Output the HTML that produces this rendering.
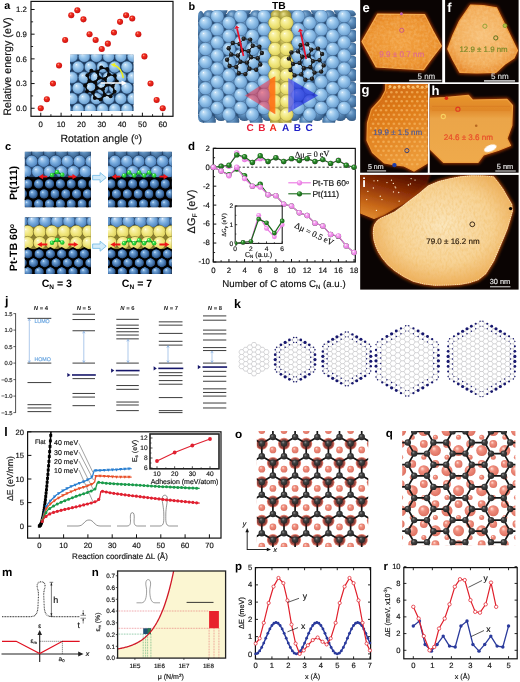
<!DOCTYPE html>
<html><head><meta charset="utf-8"><title>Figure</title>
<style>html,body{margin:0;padding:0;background:#fff}svg{display:block}text{font-family:"Liberation Sans",sans-serif;text-rendering:geometricPrecision}</style>
</head><body>
<svg width="520" height="682" viewBox="0 0 520 682">
<defs><radialGradient id="gRed" cx="0.5" cy="0.5" fx="0.35" fy="0.3" r="0.75"><stop offset="0" stop-color="#ffb0a0"/><stop offset="0.25" stop-color="#f03020"/><stop offset="0.7" stop-color="#d01010"/><stop offset="1" stop-color="#800000"/></radialGradient>
<radialGradient id="gBlue" cx="0.5" cy="0.5" fx="0.35" fy="0.3" r="0.72"><stop offset="0" stop-color="#ffffff"/><stop offset="0.1" stop-color="#c4e0f6"/><stop offset="0.4" stop-color="#92c2ea"/><stop offset="0.75" stop-color="#6a9ed0"/><stop offset="1" stop-color="#34608e"/></radialGradient>
<radialGradient id="gBlueU" cx="0.5" cy="0.5" fx="0.35" fy="0.3" r="0.7"><stop offset="0" stop-color="#e0f0ff"/><stop offset="0.18" stop-color="#78aadc"/><stop offset="0.55" stop-color="#3f70aa"/><stop offset="1" stop-color="#0a1830"/></radialGradient>
<radialGradient id="gBlueC" cx="0.5" cy="0.5" fx="0.35" fy="0.3" r="0.72"><stop offset="0" stop-color="#f4faff"/><stop offset="0.12" stop-color="#aed0f2"/><stop offset="0.4" stop-color="#78acde"/><stop offset="0.75" stop-color="#4c80bc"/><stop offset="1" stop-color="#1c3c68"/></radialGradient>
<radialGradient id="gBlueD" cx="0.5" cy="0.5" fx="0.35" fy="0.3" r="0.75"><stop offset="0" stop-color="#9cc0e0"/><stop offset="0.3" stop-color="#5a8cbc"/><stop offset="1" stop-color="#1f3f66"/></radialGradient>
<radialGradient id="gYelD" cx="0.5" cy="0.5" fx="0.35" fy="0.3" r="0.75"><stop offset="0" stop-color="#e8e090"/><stop offset="0.3" stop-color="#c0b450"/><stop offset="1" stop-color="#6a601a"/></radialGradient>
<radialGradient id="gYel" cx="0.5" cy="0.5" fx="0.35" fy="0.3" r="0.72"><stop offset="0" stop-color="#ffffff"/><stop offset="0.12" stop-color="#faf4b0"/><stop offset="0.45" stop-color="#f0e67c"/><stop offset="0.78" stop-color="#dccf5c"/><stop offset="1" stop-color="#8a7c28"/></radialGradient>
<radialGradient id="gC" cx="0.5" cy="0.5" fx="0.35" fy="0.3" r="0.75"><stop offset="0" stop-color="#777"/><stop offset="0.3" stop-color="#333"/><stop offset="1" stop-color="#000"/></radialGradient>
<radialGradient id="gGreen" cx="0.5" cy="0.5" fx="0.35" fy="0.3" r="0.75"><stop offset="0" stop-color="#c0ffc0"/><stop offset="0.3" stop-color="#30e040"/><stop offset="1" stop-color="#0a8a18"/></radialGradient>
<radialGradient id="gDG" cx="0.5" cy="0.5" fx="0.35" fy="0.3" r="0.75"><stop offset="0" stop-color="#b0e8b0"/><stop offset="0.3" stop-color="#2a8a2a"/><stop offset="1" stop-color="#0a4a0a"/></radialGradient>
<radialGradient id="gMag" cx="0.5" cy="0.5" fx="0.35" fy="0.3" r="0.75"><stop offset="0" stop-color="#ffffff"/><stop offset="0.3" stop-color="#f59cf0"/><stop offset="0.8" stop-color="#e270da"/><stop offset="1" stop-color="#c850c0"/></radialGradient>
<radialGradient id="gSal" cx="0.5" cy="0.5" fx="0.35" fy="0.3" r="0.75"><stop offset="0" stop-color="#ffe0d6"/><stop offset="0.28" stop-color="#f09080"/><stop offset="0.72" stop-color="#de7262"/><stop offset="1" stop-color="#b0524a"/></radialGradient>
<radialGradient id="gCarb" cx="0.5" cy="0.5" fx="0.35" fy="0.3" r="0.75"><stop offset="0" stop-color="#6a6a6a"/><stop offset="0.3" stop-color="#222"/><stop offset="1" stop-color="#050505"/></radialGradient>
<filter id="bl3" x="-20%" y="-20%" width="140%" height="140%"><feGaussianBlur stdDeviation="1.5"/></filter>
<filter id="bl15" x="-20%" y="-20%" width="140%" height="140%"><feGaussianBlur stdDeviation="0.7"/></filter>
<filter id="bl07" x="-20%" y="-20%" width="140%" height="140%"><feGaussianBlur stdDeviation="0.6"/></filter>
<filter id="noise" x="0" y="0" width="100%" height="100%"><feTurbulence type="fractalNoise" baseFrequency="0.35" numOctaves="2" seed="3" result="n"/><feColorMatrix type="matrix" values="0 0 0 0 1  0 0 0 0 0.85  0 0 0 0 0.55  0.9 0 0 0 -0.3"/><feComposite in2="SourceGraphic" operator="in"/></filter>
<filter id="noise2" x="0" y="0" width="100%" height="100%"><feTurbulence type="fractalNoise" baseFrequency="0.5 0.25" numOctaves="2" seed="7" result="n"/><feColorMatrix type="matrix" values="0 0 0 0 0.85  0 0 0 0 0.45  0 0 0 0 0.08  1.4 0 0 0 -0.55"/><feComposite in2="SourceGraphic" operator="in"/></filter>
<radialGradient id="gE" cx="0.5" cy="0.5" r="0.6"><stop offset="0" stop-color="#f2a040"/><stop offset="0.7" stop-color="#ec922e"/><stop offset="1" stop-color="#e07a1c"/></radialGradient>
<radialGradient id="gF" cx="0.5" cy="0.45" r="0.6"><stop offset="0" stop-color="#f7c078"/><stop offset="0.7" stop-color="#f2ac58"/><stop offset="1" stop-color="#e88a2c"/></radialGradient>
<linearGradient id="gG" x1="0" y1="0" x2="0.3" y2="1"><stop offset="0" stop-color="#cc620c"/><stop offset="0.5" stop-color="#e07e1c"/><stop offset="1" stop-color="#ec9a38"/></linearGradient>
<pattern id="hexdots" width="5.2" height="9" patternUnits="userSpaceOnUse"><circle cx="1.3" cy="2.25" r="1.25" fill="#f6b660"/><circle cx="3.9" cy="6.75" r="1.25" fill="#f6b660"/></pattern>
<linearGradient id="gH" x1="0" y1="0" x2="0" y2="1"><stop offset="0" stop-color="#e8962e"/><stop offset="0.2" stop-color="#e08828"/><stop offset="0.35" stop-color="#eba548"/><stop offset="1" stop-color="#efaa4c"/></linearGradient>
<linearGradient id="gI2" x1="0.6" y1="0" x2="0.2" y2="1"><stop offset="0" stop-color="#4e0d02"/><stop offset="0.35" stop-color="#8a2e06"/><stop offset="0.75" stop-color="#c86818"/><stop offset="1" stop-color="#e08a30"/></linearGradient>
<radialGradient id="gI" cx="0.5" cy="0.45" r="0.6"><stop offset="0" stop-color="#fbe6bc"/><stop offset="0.6" stop-color="#f7d294"/><stop offset="1" stop-color="#eba850"/></radialGradient>
<radialGradient id="gCg" cx="0.5" cy="0.5" fx="0.35" fy="0.3" r="0.75"><stop offset="0" stop-color="#909090"/><stop offset="0.3" stop-color="#404040"/><stop offset="1" stop-color="#161616"/></radialGradient>
<radialGradient id="gHalo" cx="0.5" cy="0.5" fx="0.5" fy="0.5" r="0.5"><stop offset="0" stop-color="#8a3a34"/><stop offset="0.55" stop-color="#7a2e2a"/><stop offset="0.8" stop-color="#b05a50"/><stop offset="1" stop-color="#e8a094"/></radialGradient></defs>
<rect width="520" height="682" fill="#fff"/>
<g id="pa">
<text x="4.2" y="9" font-size="10.8" text-anchor="start" font-weight="bold" fill="#000" >a</text>
<rect x="31" y="1.4" width="142" height="114.9" fill="#fff" stroke="#111" stroke-width="1.2" />
<line x1="40.75" y1="116.3" x2="40.75" y2="112.7" stroke="#111" stroke-width="1" />
<text x="40.75" y="127.2" font-size="7.8" text-anchor="middle" font-weight="normal" fill="#111" stroke="#111" stroke-width="0.16" >0</text>
<line x1="50.91" y1="116.3" x2="50.91" y2="114.2" stroke="#111" stroke-width="0.9" />
<line x1="61.08" y1="116.3" x2="61.08" y2="112.7" stroke="#111" stroke-width="1" />
<text x="61.08" y="127.2" font-size="7.8" text-anchor="middle" font-weight="normal" fill="#111" stroke="#111" stroke-width="0.16" >10</text>
<line x1="71.25" y1="116.3" x2="71.25" y2="114.2" stroke="#111" stroke-width="0.9" />
<line x1="81.41" y1="116.3" x2="81.41" y2="112.7" stroke="#111" stroke-width="1" />
<text x="81.41" y="127.2" font-size="7.8" text-anchor="middle" font-weight="normal" fill="#111" stroke="#111" stroke-width="0.16" >20</text>
<line x1="91.57" y1="116.3" x2="91.57" y2="114.2" stroke="#111" stroke-width="0.9" />
<line x1="101.74" y1="116.3" x2="101.74" y2="112.7" stroke="#111" stroke-width="1" />
<text x="101.74" y="127.2" font-size="7.8" text-anchor="middle" font-weight="normal" fill="#111" stroke="#111" stroke-width="0.16" >30</text>
<line x1="111.91" y1="116.3" x2="111.91" y2="114.2" stroke="#111" stroke-width="0.9" />
<line x1="122.07" y1="116.3" x2="122.07" y2="112.7" stroke="#111" stroke-width="1" />
<text x="122.07" y="127.2" font-size="7.8" text-anchor="middle" font-weight="normal" fill="#111" stroke="#111" stroke-width="0.16" >40</text>
<line x1="132.23" y1="116.3" x2="132.23" y2="114.2" stroke="#111" stroke-width="0.9" />
<line x1="142.4" y1="116.3" x2="142.4" y2="112.7" stroke="#111" stroke-width="1" />
<text x="142.4" y="127.2" font-size="7.8" text-anchor="middle" font-weight="normal" fill="#111" stroke="#111" stroke-width="0.16" >50</text>
<line x1="152.56" y1="116.3" x2="152.56" y2="114.2" stroke="#111" stroke-width="0.9" />
<line x1="162.73" y1="116.3" x2="162.73" y2="112.7" stroke="#111" stroke-width="1" />
<text x="162.73" y="127.2" font-size="7.8" text-anchor="middle" font-weight="normal" fill="#111" stroke="#111" stroke-width="0.16" >60</text>
<line x1="31" y1="108.25" x2="34.6" y2="108.25" stroke="#111" stroke-width="1" />
<text x="26.8" y="111.05" font-size="7.8" text-anchor="end" font-weight="normal" fill="#111" stroke="#111" stroke-width="0.16" >0.0</text>
<line x1="31" y1="95.91" x2="33.1" y2="95.91" stroke="#111" stroke-width="0.9" />
<line x1="31" y1="83.56" x2="34.6" y2="83.56" stroke="#111" stroke-width="1" />
<text x="26.8" y="86.36" font-size="7.8" text-anchor="end" font-weight="normal" fill="#111" stroke="#111" stroke-width="0.16" >0.3</text>
<line x1="31" y1="71.22" x2="33.1" y2="71.22" stroke="#111" stroke-width="0.9" />
<line x1="31" y1="58.87" x2="34.6" y2="58.87" stroke="#111" stroke-width="1" />
<text x="26.8" y="61.67" font-size="7.8" text-anchor="end" font-weight="normal" fill="#111" stroke="#111" stroke-width="0.16" >0.6</text>
<line x1="31" y1="46.53" x2="33.1" y2="46.53" stroke="#111" stroke-width="0.9" />
<line x1="31" y1="34.18" x2="34.6" y2="34.18" stroke="#111" stroke-width="1" />
<text x="26.8" y="36.98" font-size="7.8" text-anchor="end" font-weight="normal" fill="#111" stroke="#111" stroke-width="0.16" >0.9</text>
<line x1="31" y1="21.84" x2="33.1" y2="21.84" stroke="#111" stroke-width="0.9" />
<line x1="31" y1="9.49" x2="34.6" y2="9.49" stroke="#111" stroke-width="1" />
<text x="26.8" y="12.29" font-size="7.8" text-anchor="end" font-weight="normal" fill="#111" stroke="#111" stroke-width="0.16" >1.2</text>
<text x="11.2" y="66.5" font-size="10.8" text-anchor="middle" font-weight="normal" fill="#111" stroke="#111" stroke-width="0.16" transform="rotate(-90 11.2 66.5)" >Relative energy (eV)</text>
<text x="101.2" y="141.6" font-size="10.5" text-anchor="middle" font-weight="normal" fill="#111" stroke="#111" stroke-width="0.16" >Rotation angle (<tspan dy="-2.5" font-size="7">o</tspan><tspan dy="2.5">)</tspan></text>
<clipPath id="clipA"><rect x="70" y="54.4" width="63.6" height="56.7"/></clipPath>
<g clip-path="url(#clipA)">
<rect x="70" y="54.4" width="63.6" height="56.7" fill="#1e3a5c" stroke="none" stroke-width="1" />
<circle cx="65.9" cy="45.83" r="5.95" fill="url(#gBlue)" stroke="#1c3a60" stroke-width="0.6" stroke-opacity="0.8"/>
<circle cx="78.1" cy="45.83" r="5.95" fill="url(#gBlue)" stroke="#1c3a60" stroke-width="0.6" stroke-opacity="0.8"/>
<circle cx="90.3" cy="45.83" r="5.95" fill="url(#gBlue)" stroke="#1c3a60" stroke-width="0.6" stroke-opacity="0.8"/>
<circle cx="102.5" cy="45.83" r="5.95" fill="url(#gBlue)" stroke="#1c3a60" stroke-width="0.6" stroke-opacity="0.8"/>
<circle cx="114.7" cy="45.83" r="5.95" fill="url(#gBlue)" stroke="#1c3a60" stroke-width="0.6" stroke-opacity="0.8"/>
<circle cx="126.9" cy="45.83" r="5.95" fill="url(#gBlue)" stroke="#1c3a60" stroke-width="0.6" stroke-opacity="0.8"/>
<circle cx="139.1" cy="45.83" r="5.95" fill="url(#gBlue)" stroke="#1c3a60" stroke-width="0.6" stroke-opacity="0.8"/>
<circle cx="151.3" cy="45.83" r="5.95" fill="url(#gBlue)" stroke="#1c3a60" stroke-width="0.6" stroke-opacity="0.8"/>
<circle cx="163.5" cy="45.83" r="5.95" fill="url(#gBlue)" stroke="#1c3a60" stroke-width="0.6" stroke-opacity="0.8"/>
<circle cx="59.8" cy="56.4" r="5.95" fill="url(#gBlue)" stroke="#1c3a60" stroke-width="0.6" stroke-opacity="0.8"/>
<circle cx="72" cy="56.4" r="5.95" fill="url(#gBlue)" stroke="#1c3a60" stroke-width="0.6" stroke-opacity="0.8"/>
<circle cx="84.2" cy="56.4" r="5.95" fill="url(#gBlue)" stroke="#1c3a60" stroke-width="0.6" stroke-opacity="0.8"/>
<circle cx="96.4" cy="56.4" r="5.95" fill="url(#gBlue)" stroke="#1c3a60" stroke-width="0.6" stroke-opacity="0.8"/>
<circle cx="108.6" cy="56.4" r="5.95" fill="url(#gBlue)" stroke="#1c3a60" stroke-width="0.6" stroke-opacity="0.8"/>
<circle cx="120.8" cy="56.4" r="5.95" fill="url(#gBlue)" stroke="#1c3a60" stroke-width="0.6" stroke-opacity="0.8"/>
<circle cx="133" cy="56.4" r="5.95" fill="url(#gBlue)" stroke="#1c3a60" stroke-width="0.6" stroke-opacity="0.8"/>
<circle cx="145.2" cy="56.4" r="5.95" fill="url(#gBlue)" stroke="#1c3a60" stroke-width="0.6" stroke-opacity="0.8"/>
<circle cx="157.4" cy="56.4" r="5.95" fill="url(#gBlue)" stroke="#1c3a60" stroke-width="0.6" stroke-opacity="0.8"/>
<circle cx="65.9" cy="66.97" r="5.95" fill="url(#gBlue)" stroke="#1c3a60" stroke-width="0.6" stroke-opacity="0.8"/>
<circle cx="78.1" cy="66.97" r="5.95" fill="url(#gBlue)" stroke="#1c3a60" stroke-width="0.6" stroke-opacity="0.8"/>
<circle cx="90.3" cy="66.97" r="5.95" fill="url(#gBlue)" stroke="#1c3a60" stroke-width="0.6" stroke-opacity="0.8"/>
<circle cx="102.5" cy="66.97" r="5.95" fill="url(#gBlue)" stroke="#1c3a60" stroke-width="0.6" stroke-opacity="0.8"/>
<circle cx="114.7" cy="66.97" r="5.95" fill="url(#gBlue)" stroke="#1c3a60" stroke-width="0.6" stroke-opacity="0.8"/>
<circle cx="126.9" cy="66.97" r="5.95" fill="url(#gBlue)" stroke="#1c3a60" stroke-width="0.6" stroke-opacity="0.8"/>
<circle cx="139.1" cy="66.97" r="5.95" fill="url(#gBlue)" stroke="#1c3a60" stroke-width="0.6" stroke-opacity="0.8"/>
<circle cx="151.3" cy="66.97" r="5.95" fill="url(#gBlue)" stroke="#1c3a60" stroke-width="0.6" stroke-opacity="0.8"/>
<circle cx="163.5" cy="66.97" r="5.95" fill="url(#gBlue)" stroke="#1c3a60" stroke-width="0.6" stroke-opacity="0.8"/>
<circle cx="59.8" cy="77.53" r="5.95" fill="url(#gBlue)" stroke="#1c3a60" stroke-width="0.6" stroke-opacity="0.8"/>
<circle cx="72" cy="77.53" r="5.95" fill="url(#gBlue)" stroke="#1c3a60" stroke-width="0.6" stroke-opacity="0.8"/>
<circle cx="84.2" cy="77.53" r="5.95" fill="url(#gBlue)" stroke="#1c3a60" stroke-width="0.6" stroke-opacity="0.8"/>
<circle cx="96.4" cy="77.53" r="5.95" fill="url(#gBlue)" stroke="#1c3a60" stroke-width="0.6" stroke-opacity="0.8"/>
<circle cx="108.6" cy="77.53" r="5.95" fill="url(#gBlue)" stroke="#1c3a60" stroke-width="0.6" stroke-opacity="0.8"/>
<circle cx="120.8" cy="77.53" r="5.95" fill="url(#gBlue)" stroke="#1c3a60" stroke-width="0.6" stroke-opacity="0.8"/>
<circle cx="133" cy="77.53" r="5.95" fill="url(#gBlue)" stroke="#1c3a60" stroke-width="0.6" stroke-opacity="0.8"/>
<circle cx="145.2" cy="77.53" r="5.95" fill="url(#gBlue)" stroke="#1c3a60" stroke-width="0.6" stroke-opacity="0.8"/>
<circle cx="157.4" cy="77.53" r="5.95" fill="url(#gBlue)" stroke="#1c3a60" stroke-width="0.6" stroke-opacity="0.8"/>
<circle cx="65.9" cy="88.1" r="5.95" fill="url(#gBlue)" stroke="#1c3a60" stroke-width="0.6" stroke-opacity="0.8"/>
<circle cx="78.1" cy="88.1" r="5.95" fill="url(#gBlue)" stroke="#1c3a60" stroke-width="0.6" stroke-opacity="0.8"/>
<circle cx="90.3" cy="88.1" r="5.95" fill="url(#gBlue)" stroke="#1c3a60" stroke-width="0.6" stroke-opacity="0.8"/>
<circle cx="102.5" cy="88.1" r="5.95" fill="url(#gBlue)" stroke="#1c3a60" stroke-width="0.6" stroke-opacity="0.8"/>
<circle cx="114.7" cy="88.1" r="5.95" fill="url(#gBlue)" stroke="#1c3a60" stroke-width="0.6" stroke-opacity="0.8"/>
<circle cx="126.9" cy="88.1" r="5.95" fill="url(#gBlue)" stroke="#1c3a60" stroke-width="0.6" stroke-opacity="0.8"/>
<circle cx="139.1" cy="88.1" r="5.95" fill="url(#gBlue)" stroke="#1c3a60" stroke-width="0.6" stroke-opacity="0.8"/>
<circle cx="151.3" cy="88.1" r="5.95" fill="url(#gBlue)" stroke="#1c3a60" stroke-width="0.6" stroke-opacity="0.8"/>
<circle cx="163.5" cy="88.1" r="5.95" fill="url(#gBlue)" stroke="#1c3a60" stroke-width="0.6" stroke-opacity="0.8"/>
<circle cx="59.8" cy="98.66" r="5.95" fill="url(#gBlue)" stroke="#1c3a60" stroke-width="0.6" stroke-opacity="0.8"/>
<circle cx="72" cy="98.66" r="5.95" fill="url(#gBlue)" stroke="#1c3a60" stroke-width="0.6" stroke-opacity="0.8"/>
<circle cx="84.2" cy="98.66" r="5.95" fill="url(#gBlue)" stroke="#1c3a60" stroke-width="0.6" stroke-opacity="0.8"/>
<circle cx="96.4" cy="98.66" r="5.95" fill="url(#gBlue)" stroke="#1c3a60" stroke-width="0.6" stroke-opacity="0.8"/>
<circle cx="108.6" cy="98.66" r="5.95" fill="url(#gBlue)" stroke="#1c3a60" stroke-width="0.6" stroke-opacity="0.8"/>
<circle cx="120.8" cy="98.66" r="5.95" fill="url(#gBlue)" stroke="#1c3a60" stroke-width="0.6" stroke-opacity="0.8"/>
<circle cx="133" cy="98.66" r="5.95" fill="url(#gBlue)" stroke="#1c3a60" stroke-width="0.6" stroke-opacity="0.8"/>
<circle cx="145.2" cy="98.66" r="5.95" fill="url(#gBlue)" stroke="#1c3a60" stroke-width="0.6" stroke-opacity="0.8"/>
<circle cx="157.4" cy="98.66" r="5.95" fill="url(#gBlue)" stroke="#1c3a60" stroke-width="0.6" stroke-opacity="0.8"/>
<circle cx="65.9" cy="109.23" r="5.95" fill="url(#gBlue)" stroke="#1c3a60" stroke-width="0.6" stroke-opacity="0.8"/>
<circle cx="78.1" cy="109.23" r="5.95" fill="url(#gBlue)" stroke="#1c3a60" stroke-width="0.6" stroke-opacity="0.8"/>
<circle cx="90.3" cy="109.23" r="5.95" fill="url(#gBlue)" stroke="#1c3a60" stroke-width="0.6" stroke-opacity="0.8"/>
<circle cx="102.5" cy="109.23" r="5.95" fill="url(#gBlue)" stroke="#1c3a60" stroke-width="0.6" stroke-opacity="0.8"/>
<circle cx="114.7" cy="109.23" r="5.95" fill="url(#gBlue)" stroke="#1c3a60" stroke-width="0.6" stroke-opacity="0.8"/>
<circle cx="126.9" cy="109.23" r="5.95" fill="url(#gBlue)" stroke="#1c3a60" stroke-width="0.6" stroke-opacity="0.8"/>
<circle cx="139.1" cy="109.23" r="5.95" fill="url(#gBlue)" stroke="#1c3a60" stroke-width="0.6" stroke-opacity="0.8"/>
<circle cx="151.3" cy="109.23" r="5.95" fill="url(#gBlue)" stroke="#1c3a60" stroke-width="0.6" stroke-opacity="0.8"/>
<circle cx="163.5" cy="109.23" r="5.95" fill="url(#gBlue)" stroke="#1c3a60" stroke-width="0.6" stroke-opacity="0.8"/>
<circle cx="59.8" cy="119.79" r="5.95" fill="url(#gBlue)" stroke="#1c3a60" stroke-width="0.6" stroke-opacity="0.8"/>
<circle cx="72" cy="119.79" r="5.95" fill="url(#gBlue)" stroke="#1c3a60" stroke-width="0.6" stroke-opacity="0.8"/>
<circle cx="84.2" cy="119.79" r="5.95" fill="url(#gBlue)" stroke="#1c3a60" stroke-width="0.6" stroke-opacity="0.8"/>
<circle cx="96.4" cy="119.79" r="5.95" fill="url(#gBlue)" stroke="#1c3a60" stroke-width="0.6" stroke-opacity="0.8"/>
<circle cx="108.6" cy="119.79" r="5.95" fill="url(#gBlue)" stroke="#1c3a60" stroke-width="0.6" stroke-opacity="0.8"/>
<circle cx="120.8" cy="119.79" r="5.95" fill="url(#gBlue)" stroke="#1c3a60" stroke-width="0.6" stroke-opacity="0.8"/>
<circle cx="133" cy="119.79" r="5.95" fill="url(#gBlue)" stroke="#1c3a60" stroke-width="0.6" stroke-opacity="0.8"/>
<circle cx="145.2" cy="119.79" r="5.95" fill="url(#gBlue)" stroke="#1c3a60" stroke-width="0.6" stroke-opacity="0.8"/>
<circle cx="157.4" cy="119.79" r="5.95" fill="url(#gBlue)" stroke="#1c3a60" stroke-width="0.6" stroke-opacity="0.8"/>
<polyline points="106.87,84.75 102.85,89.21 96.99,87.96 95.13,82.25 99.15,77.79 105.01,79.04 106.87,84.75" fill="none" stroke="#0a0a0a" stroke-width="1.6" />
<polyline points="114.59,91.7 110.58,96.16 104.71,94.91 102.85,89.21 106.87,84.75 112.74,85.99 114.59,91.7" fill="none" stroke="#0a0a0a" stroke-width="1.6" />
<polyline points="104.71,94.91 100.69,99.37 94.82,98.12 92.97,92.42 96.99,87.96 102.85,89.21 104.71,94.91" fill="none" stroke="#0a0a0a" stroke-width="1.6" />
<polyline points="96.99,87.96 92.97,92.42 87.1,91.17 85.25,85.46 89.26,81.01 95.13,82.25 96.99,87.96" fill="none" stroke="#0a0a0a" stroke-width="1.6" />
<polyline points="99.15,77.79 95.13,82.25 89.26,81.01 87.41,75.3 91.42,70.84 97.29,72.09 99.15,77.79" fill="none" stroke="#0a0a0a" stroke-width="1.6" />
<polyline points="109.03,74.58 105.01,79.04 99.15,77.79 97.29,72.09 101.31,67.63 107.18,68.88 109.03,74.58" fill="none" stroke="#0a0a0a" stroke-width="1.6" />
<polyline points="116.75,81.54 112.74,85.99 106.87,84.75 105.01,79.04 109.03,74.58 114.9,75.83 116.75,81.54" fill="none" stroke="#0a0a0a" stroke-width="1.6" />
<circle cx="87.4" cy="75.3" r="2" fill="#0a0a0a" stroke="none" stroke-width="1" />
<circle cx="99.1" cy="77.8" r="2" fill="#0a0a0a" stroke="none" stroke-width="1" />
<circle cx="107.2" cy="68.9" r="2" fill="#0a0a0a" stroke="none" stroke-width="1" />
<circle cx="114.6" cy="91.7" r="2" fill="#0a0a0a" stroke="none" stroke-width="1" />
<circle cx="105" cy="79" r="2" fill="#0a0a0a" stroke="none" stroke-width="1" />
<circle cx="101.3" cy="67.6" r="2" fill="#0a0a0a" stroke="none" stroke-width="1" />
<circle cx="116.8" cy="81.5" r="2" fill="#0a0a0a" stroke="none" stroke-width="1" />
<circle cx="110.6" cy="96.2" r="2" fill="#0a0a0a" stroke="none" stroke-width="1" />
<circle cx="109" cy="74.6" r="2" fill="#0a0a0a" stroke="none" stroke-width="1" />
<circle cx="114.9" cy="75.8" r="2" fill="#0a0a0a" stroke="none" stroke-width="1" />
<circle cx="95.1" cy="82.3" r="2" fill="#0a0a0a" stroke="none" stroke-width="1" />
<circle cx="97.3" cy="72.1" r="2" fill="#0a0a0a" stroke="none" stroke-width="1" />
<circle cx="87.1" cy="91.2" r="2" fill="#0a0a0a" stroke="none" stroke-width="1" />
<circle cx="104.7" cy="94.9" r="2" fill="#0a0a0a" stroke="none" stroke-width="1" />
<circle cx="97" cy="88" r="2" fill="#0a0a0a" stroke="none" stroke-width="1" />
<circle cx="89.3" cy="81" r="2" fill="#0a0a0a" stroke="none" stroke-width="1" />
<circle cx="100.7" cy="99.4" r="2" fill="#0a0a0a" stroke="none" stroke-width="1" />
<circle cx="106.9" cy="84.7" r="2" fill="#0a0a0a" stroke="none" stroke-width="1" />
<circle cx="112.7" cy="86" r="2" fill="#0a0a0a" stroke="none" stroke-width="1" />
<circle cx="91.4" cy="70.8" r="2" fill="#0a0a0a" stroke="none" stroke-width="1" />
<circle cx="94.8" cy="98.1" r="2" fill="#0a0a0a" stroke="none" stroke-width="1" />
<circle cx="85.2" cy="85.5" r="2" fill="#0a0a0a" stroke="none" stroke-width="1" />
<circle cx="102.9" cy="89.2" r="2" fill="#0a0a0a" stroke="none" stroke-width="1" />
<circle cx="93" cy="92.4" r="2" fill="#0a0a0a" stroke="none" stroke-width="1" />
<line x1="100.7" y1="83.1" x2="123" y2="83.1" stroke="#fff" stroke-width="1.5" />
<polygon points="127,83.1 121.5,80.4 121.5,85.8" fill="#fff" stroke="none" stroke-width="1" />
<path d="M113.5,64.8 Q121.5,67.5 123.3,78" fill="none" stroke="#e8ec20" stroke-width="1.6"/>
<polygon points="110.8,64.2 115.4,63.1 114.6,67.3" fill="#f0f020" stroke="none" stroke-width="1" />
</g>
<circle cx="40.75" cy="108.25" r="3.05" fill="url(#gRed)" />
<circle cx="46.85" cy="99.2" r="3.05" fill="url(#gRed)" />
<circle cx="52.95" cy="83.56" r="3.05" fill="url(#gRed)" />
<circle cx="59.05" cy="65.45" r="3.05" fill="url(#gRed)" />
<circle cx="65.15" cy="39.94" r="3.05" fill="url(#gRed)" />
<circle cx="71.25" cy="15.25" r="3.05" fill="url(#gRed)" />
<circle cx="77.34" cy="10.31" r="3.05" fill="url(#gRed)" />
<circle cx="83.44" cy="19.37" r="3.05" fill="url(#gRed)" />
<circle cx="89.54" cy="34.18" r="3.05" fill="url(#gRed)" />
<circle cx="95.64" cy="39.94" r="3.05" fill="url(#gRed)" />
<circle cx="101.74" cy="48.99" r="3.05" fill="url(#gRed)" />
<circle cx="107.84" cy="43.64" r="3.05" fill="url(#gRed)" />
<circle cx="113.94" cy="32.53" r="3.05" fill="url(#gRed)" />
<circle cx="120.04" cy="21.83" r="3.05" fill="url(#gRed)" />
<circle cx="126.14" cy="15.25" r="3.05" fill="url(#gRed)" />
<circle cx="132.24" cy="18.54" r="3.05" fill="url(#gRed)" />
<circle cx="138.33" cy="34.18" r="3.05" fill="url(#gRed)" />
<circle cx="144.43" cy="56.4" r="3.05" fill="url(#gRed)" />
<circle cx="150.53" cy="83.56" r="3.05" fill="url(#gRed)" />
<circle cx="156.63" cy="100.02" r="3.05" fill="url(#gRed)" />
<circle cx="162.73" cy="108.25" r="3.05" fill="url(#gRed)" />
</g>
<g id="pb">
<text x="188.5" y="10" font-size="10.9" text-anchor="start" font-weight="bold" fill="#000" >b</text>
<text x="278.8" y="8.6" font-size="10.3" text-anchor="middle" font-weight="bold" fill="#000" >TB</text>
<clipPath id="clipB"><rect x="198" y="10.2" width="158" height="112.6" rx="5" ry="5"/></clipPath>
<g clip-path="url(#clipB)">
<rect x="203" y="14" width="148" height="104" fill="#2c5078" stroke="none" stroke-width="1" />
<circle cx="267.9" cy="22.85" r="6.5" fill="url(#gBlueD)" />
<circle cx="267.9" cy="9.75" r="6.5" fill="url(#gBlueD)" />
<circle cx="267.9" cy="35.95" r="6.5" fill="url(#gBlueD)" />
<circle cx="267.9" cy="49.05" r="6.5" fill="url(#gBlueD)" />
<circle cx="267.9" cy="62.15" r="6.5" fill="url(#gBlueD)" />
<circle cx="267.9" cy="75.25" r="6.5" fill="url(#gBlueD)" />
<circle cx="267.9" cy="88.35" r="6.5" fill="url(#gBlueD)" />
<circle cx="267.9" cy="101.45" r="6.5" fill="url(#gBlueD)" />
<circle cx="267.9" cy="114.55" r="6.5" fill="url(#gBlueD)" />
<circle cx="256.2" cy="29.4" r="6.5" fill="url(#gBlueD)" />
<circle cx="256.2" cy="16.3" r="6.5" fill="url(#gBlueD)" />
<circle cx="256.2" cy="42.5" r="6.5" fill="url(#gBlueD)" />
<circle cx="256.2" cy="55.6" r="6.5" fill="url(#gBlueD)" />
<circle cx="256.2" cy="68.7" r="6.5" fill="url(#gBlueD)" />
<circle cx="256.2" cy="81.8" r="6.5" fill="url(#gBlueD)" />
<circle cx="256.2" cy="94.9" r="6.5" fill="url(#gBlueD)" />
<circle cx="256.2" cy="108" r="6.5" fill="url(#gBlueD)" />
<circle cx="256.2" cy="121.1" r="6.5" fill="url(#gBlueD)" />
<circle cx="244.5" cy="22.85" r="6.5" fill="url(#gBlueD)" />
<circle cx="244.5" cy="9.75" r="6.5" fill="url(#gBlueD)" />
<circle cx="244.5" cy="35.95" r="6.5" fill="url(#gBlueD)" />
<circle cx="244.5" cy="49.05" r="6.5" fill="url(#gBlueD)" />
<circle cx="244.5" cy="62.15" r="6.5" fill="url(#gBlueD)" />
<circle cx="244.5" cy="75.25" r="6.5" fill="url(#gBlueD)" />
<circle cx="244.5" cy="88.35" r="6.5" fill="url(#gBlueD)" />
<circle cx="244.5" cy="101.45" r="6.5" fill="url(#gBlueD)" />
<circle cx="244.5" cy="114.55" r="6.5" fill="url(#gBlueD)" />
<circle cx="232.8" cy="29.4" r="6.5" fill="url(#gBlueD)" />
<circle cx="232.8" cy="16.3" r="6.5" fill="url(#gBlueD)" />
<circle cx="232.8" cy="42.5" r="6.5" fill="url(#gBlueD)" />
<circle cx="232.8" cy="55.6" r="6.5" fill="url(#gBlueD)" />
<circle cx="232.8" cy="68.7" r="6.5" fill="url(#gBlueD)" />
<circle cx="232.8" cy="81.8" r="6.5" fill="url(#gBlueD)" />
<circle cx="232.8" cy="94.9" r="6.5" fill="url(#gBlueD)" />
<circle cx="232.8" cy="108" r="6.5" fill="url(#gBlueD)" />
<circle cx="232.8" cy="121.1" r="6.5" fill="url(#gBlueD)" />
<circle cx="221.1" cy="22.85" r="6.5" fill="url(#gBlueD)" />
<circle cx="221.1" cy="9.75" r="6.5" fill="url(#gBlueD)" />
<circle cx="221.1" cy="35.95" r="6.5" fill="url(#gBlueD)" />
<circle cx="221.1" cy="49.05" r="6.5" fill="url(#gBlueD)" />
<circle cx="221.1" cy="62.15" r="6.5" fill="url(#gBlueD)" />
<circle cx="221.1" cy="75.25" r="6.5" fill="url(#gBlueD)" />
<circle cx="221.1" cy="88.35" r="6.5" fill="url(#gBlueD)" />
<circle cx="221.1" cy="101.45" r="6.5" fill="url(#gBlueD)" />
<circle cx="221.1" cy="114.55" r="6.5" fill="url(#gBlueD)" />
<circle cx="209.4" cy="29.4" r="6.5" fill="url(#gBlueD)" />
<circle cx="209.4" cy="16.3" r="6.5" fill="url(#gBlueD)" />
<circle cx="197.7" cy="29.4" r="6.5" fill="url(#gBlueD)" />
<circle cx="197.7" cy="16.3" r="6.5" fill="url(#gBlueD)" />
<circle cx="209.4" cy="42.5" r="6.5" fill="url(#gBlueD)" />
<circle cx="197.7" cy="42.5" r="6.5" fill="url(#gBlueD)" />
<circle cx="209.4" cy="55.6" r="6.5" fill="url(#gBlueD)" />
<circle cx="197.7" cy="55.6" r="6.5" fill="url(#gBlueD)" />
<circle cx="209.4" cy="68.7" r="6.5" fill="url(#gBlueD)" />
<circle cx="197.7" cy="68.7" r="6.5" fill="url(#gBlueD)" />
<circle cx="209.4" cy="81.8" r="6.5" fill="url(#gBlueD)" />
<circle cx="197.7" cy="81.8" r="6.5" fill="url(#gBlueD)" />
<circle cx="209.4" cy="94.9" r="6.5" fill="url(#gBlueD)" />
<circle cx="197.7" cy="94.9" r="6.5" fill="url(#gBlueD)" />
<circle cx="209.4" cy="108" r="6.5" fill="url(#gBlueD)" />
<circle cx="197.7" cy="108" r="6.5" fill="url(#gBlueD)" />
<circle cx="209.4" cy="121.1" r="6.5" fill="url(#gBlueD)" />
<circle cx="197.7" cy="121.1" r="6.5" fill="url(#gBlueD)" />
<circle cx="294.3" cy="22.85" r="6.5" fill="url(#gBlueD)" />
<circle cx="294.3" cy="9.75" r="6.5" fill="url(#gBlueD)" />
<circle cx="294.3" cy="35.95" r="6.5" fill="url(#gBlueD)" />
<circle cx="294.3" cy="49.05" r="6.5" fill="url(#gBlueD)" />
<circle cx="294.3" cy="62.15" r="6.5" fill="url(#gBlueD)" />
<circle cx="294.3" cy="75.25" r="6.5" fill="url(#gBlueD)" />
<circle cx="294.3" cy="88.35" r="6.5" fill="url(#gBlueD)" />
<circle cx="294.3" cy="101.45" r="6.5" fill="url(#gBlueD)" />
<circle cx="294.3" cy="114.55" r="6.5" fill="url(#gBlueD)" />
<circle cx="305.8" cy="29.4" r="6.5" fill="url(#gBlueD)" />
<circle cx="305.8" cy="16.3" r="6.5" fill="url(#gBlueD)" />
<circle cx="305.8" cy="42.5" r="6.5" fill="url(#gBlueD)" />
<circle cx="305.8" cy="55.6" r="6.5" fill="url(#gBlueD)" />
<circle cx="305.8" cy="68.7" r="6.5" fill="url(#gBlueD)" />
<circle cx="305.8" cy="81.8" r="6.5" fill="url(#gBlueD)" />
<circle cx="305.8" cy="94.9" r="6.5" fill="url(#gBlueD)" />
<circle cx="305.8" cy="108" r="6.5" fill="url(#gBlueD)" />
<circle cx="305.8" cy="121.1" r="6.5" fill="url(#gBlueD)" />
<circle cx="317.3" cy="22.85" r="6.5" fill="url(#gBlueD)" />
<circle cx="317.3" cy="9.75" r="6.5" fill="url(#gBlueD)" />
<circle cx="317.3" cy="35.95" r="6.5" fill="url(#gBlueD)" />
<circle cx="317.3" cy="49.05" r="6.5" fill="url(#gBlueD)" />
<circle cx="317.3" cy="62.15" r="6.5" fill="url(#gBlueD)" />
<circle cx="317.3" cy="75.25" r="6.5" fill="url(#gBlueD)" />
<circle cx="317.3" cy="88.35" r="6.5" fill="url(#gBlueD)" />
<circle cx="317.3" cy="101.45" r="6.5" fill="url(#gBlueD)" />
<circle cx="317.3" cy="114.55" r="6.5" fill="url(#gBlueD)" />
<circle cx="328.8" cy="29.4" r="6.5" fill="url(#gBlueD)" />
<circle cx="328.8" cy="16.3" r="6.5" fill="url(#gBlueD)" />
<circle cx="328.8" cy="42.5" r="6.5" fill="url(#gBlueD)" />
<circle cx="328.8" cy="55.6" r="6.5" fill="url(#gBlueD)" />
<circle cx="328.8" cy="68.7" r="6.5" fill="url(#gBlueD)" />
<circle cx="328.8" cy="81.8" r="6.5" fill="url(#gBlueD)" />
<circle cx="328.8" cy="94.9" r="6.5" fill="url(#gBlueD)" />
<circle cx="328.8" cy="108" r="6.5" fill="url(#gBlueD)" />
<circle cx="328.8" cy="121.1" r="6.5" fill="url(#gBlueD)" />
<circle cx="340.3" cy="22.85" r="6.5" fill="url(#gBlueD)" />
<circle cx="340.3" cy="9.75" r="6.5" fill="url(#gBlueD)" />
<circle cx="352" cy="22.85" r="6.5" fill="url(#gBlueD)" />
<circle cx="352" cy="9.75" r="6.5" fill="url(#gBlueD)" />
<circle cx="340.3" cy="35.95" r="6.5" fill="url(#gBlueD)" />
<circle cx="352" cy="35.95" r="6.5" fill="url(#gBlueD)" />
<circle cx="340.3" cy="49.05" r="6.5" fill="url(#gBlueD)" />
<circle cx="352" cy="49.05" r="6.5" fill="url(#gBlueD)" />
<circle cx="340.3" cy="62.15" r="6.5" fill="url(#gBlueD)" />
<circle cx="352" cy="62.15" r="6.5" fill="url(#gBlueD)" />
<circle cx="340.3" cy="75.25" r="6.5" fill="url(#gBlueD)" />
<circle cx="352" cy="75.25" r="6.5" fill="url(#gBlueD)" />
<circle cx="340.3" cy="88.35" r="6.5" fill="url(#gBlueD)" />
<circle cx="352" cy="88.35" r="6.5" fill="url(#gBlueD)" />
<circle cx="340.3" cy="101.45" r="6.5" fill="url(#gBlueD)" />
<circle cx="352" cy="101.45" r="6.5" fill="url(#gBlueD)" />
<circle cx="340.3" cy="114.55" r="6.5" fill="url(#gBlueD)" />
<circle cx="352" cy="114.55" r="6.5" fill="url(#gBlueD)" />
<circle cx="276.5" cy="29.4" r="6.5" fill="url(#gYelD)" />
<circle cx="276.5" cy="16.3" r="6.5" fill="url(#gYelD)" />
<circle cx="276.5" cy="42.5" r="6.5" fill="url(#gYelD)" />
<circle cx="276.5" cy="55.6" r="6.5" fill="url(#gYelD)" />
<circle cx="276.5" cy="68.7" r="6.5" fill="url(#gYelD)" />
<circle cx="276.5" cy="81.8" r="6.5" fill="url(#gYelD)" />
<circle cx="276.5" cy="94.9" r="6.5" fill="url(#gYelD)" />
<circle cx="276.5" cy="108" r="6.5" fill="url(#gYelD)" />
<circle cx="276.5" cy="121.1" r="6.5" fill="url(#gYelD)" />
<circle cx="285.1" cy="29.4" r="6.5" fill="url(#gYelD)" />
<circle cx="285.1" cy="16.3" r="6.5" fill="url(#gYelD)" />
<circle cx="285.1" cy="42.5" r="6.5" fill="url(#gYelD)" />
<circle cx="285.1" cy="55.6" r="6.5" fill="url(#gYelD)" />
<circle cx="285.1" cy="68.7" r="6.5" fill="url(#gYelD)" />
<circle cx="285.1" cy="81.8" r="6.5" fill="url(#gYelD)" />
<circle cx="285.1" cy="94.9" r="6.5" fill="url(#gYelD)" />
<circle cx="285.1" cy="108" r="6.5" fill="url(#gYelD)" />
<circle cx="285.1" cy="121.1" r="6.5" fill="url(#gYelD)" />
<circle cx="264" cy="16.3" r="6.7" fill="url(#gBlue)" stroke="#27466c" stroke-width="0.45" stroke-opacity="0.7"/>
<circle cx="264" cy="29.4" r="6.7" fill="url(#gBlue)" stroke="#27466c" stroke-width="0.45" stroke-opacity="0.7"/>
<circle cx="264" cy="42.5" r="6.7" fill="url(#gBlue)" stroke="#27466c" stroke-width="0.45" stroke-opacity="0.7"/>
<circle cx="264" cy="55.6" r="6.7" fill="url(#gBlue)" stroke="#27466c" stroke-width="0.45" stroke-opacity="0.7"/>
<circle cx="264" cy="68.7" r="6.7" fill="url(#gBlue)" stroke="#27466c" stroke-width="0.45" stroke-opacity="0.7"/>
<circle cx="264" cy="81.8" r="6.7" fill="url(#gBlue)" stroke="#27466c" stroke-width="0.45" stroke-opacity="0.7"/>
<circle cx="264" cy="94.9" r="6.7" fill="url(#gBlue)" stroke="#27466c" stroke-width="0.45" stroke-opacity="0.7"/>
<circle cx="264" cy="108" r="6.7" fill="url(#gBlue)" stroke="#27466c" stroke-width="0.45" stroke-opacity="0.7"/>
<circle cx="252.3" cy="22.85" r="6.7" fill="url(#gBlue)" stroke="#27466c" stroke-width="0.45" stroke-opacity="0.7"/>
<circle cx="252.3" cy="35.95" r="6.7" fill="url(#gBlue)" stroke="#27466c" stroke-width="0.45" stroke-opacity="0.7"/>
<circle cx="252.3" cy="49.05" r="6.7" fill="url(#gBlue)" stroke="#27466c" stroke-width="0.45" stroke-opacity="0.7"/>
<circle cx="252.3" cy="62.15" r="6.7" fill="url(#gBlue)" stroke="#27466c" stroke-width="0.45" stroke-opacity="0.7"/>
<circle cx="252.3" cy="75.25" r="6.7" fill="url(#gBlue)" stroke="#27466c" stroke-width="0.45" stroke-opacity="0.7"/>
<circle cx="252.3" cy="88.35" r="6.7" fill="url(#gBlue)" stroke="#27466c" stroke-width="0.45" stroke-opacity="0.7"/>
<circle cx="252.3" cy="101.45" r="6.7" fill="url(#gBlue)" stroke="#27466c" stroke-width="0.45" stroke-opacity="0.7"/>
<circle cx="252.3" cy="114.55" r="6.7" fill="url(#gBlue)" stroke="#27466c" stroke-width="0.45" stroke-opacity="0.7"/>
<circle cx="240.6" cy="16.3" r="6.7" fill="url(#gBlue)" stroke="#27466c" stroke-width="0.45" stroke-opacity="0.7"/>
<circle cx="240.6" cy="29.4" r="6.7" fill="url(#gBlue)" stroke="#27466c" stroke-width="0.45" stroke-opacity="0.7"/>
<circle cx="240.6" cy="42.5" r="6.7" fill="url(#gBlue)" stroke="#27466c" stroke-width="0.45" stroke-opacity="0.7"/>
<circle cx="240.6" cy="55.6" r="6.7" fill="url(#gBlue)" stroke="#27466c" stroke-width="0.45" stroke-opacity="0.7"/>
<circle cx="240.6" cy="68.7" r="6.7" fill="url(#gBlue)" stroke="#27466c" stroke-width="0.45" stroke-opacity="0.7"/>
<circle cx="240.6" cy="81.8" r="6.7" fill="url(#gBlue)" stroke="#27466c" stroke-width="0.45" stroke-opacity="0.7"/>
<circle cx="240.6" cy="94.9" r="6.7" fill="url(#gBlue)" stroke="#27466c" stroke-width="0.45" stroke-opacity="0.7"/>
<circle cx="240.6" cy="108" r="6.7" fill="url(#gBlue)" stroke="#27466c" stroke-width="0.45" stroke-opacity="0.7"/>
<circle cx="228.9" cy="22.85" r="6.7" fill="url(#gBlue)" stroke="#27466c" stroke-width="0.45" stroke-opacity="0.7"/>
<circle cx="228.9" cy="35.95" r="6.7" fill="url(#gBlue)" stroke="#27466c" stroke-width="0.45" stroke-opacity="0.7"/>
<circle cx="228.9" cy="49.05" r="6.7" fill="url(#gBlue)" stroke="#27466c" stroke-width="0.45" stroke-opacity="0.7"/>
<circle cx="228.9" cy="62.15" r="6.7" fill="url(#gBlue)" stroke="#27466c" stroke-width="0.45" stroke-opacity="0.7"/>
<circle cx="228.9" cy="75.25" r="6.7" fill="url(#gBlue)" stroke="#27466c" stroke-width="0.45" stroke-opacity="0.7"/>
<circle cx="228.9" cy="88.35" r="6.7" fill="url(#gBlue)" stroke="#27466c" stroke-width="0.45" stroke-opacity="0.7"/>
<circle cx="228.9" cy="101.45" r="6.7" fill="url(#gBlue)" stroke="#27466c" stroke-width="0.45" stroke-opacity="0.7"/>
<circle cx="228.9" cy="114.55" r="6.7" fill="url(#gBlue)" stroke="#27466c" stroke-width="0.45" stroke-opacity="0.7"/>
<circle cx="217.2" cy="16.3" r="6.7" fill="url(#gBlue)" stroke="#27466c" stroke-width="0.45" stroke-opacity="0.7"/>
<circle cx="217.2" cy="29.4" r="6.7" fill="url(#gBlue)" stroke="#27466c" stroke-width="0.45" stroke-opacity="0.7"/>
<circle cx="217.2" cy="42.5" r="6.7" fill="url(#gBlue)" stroke="#27466c" stroke-width="0.45" stroke-opacity="0.7"/>
<circle cx="217.2" cy="55.6" r="6.7" fill="url(#gBlue)" stroke="#27466c" stroke-width="0.45" stroke-opacity="0.7"/>
<circle cx="217.2" cy="68.7" r="6.7" fill="url(#gBlue)" stroke="#27466c" stroke-width="0.45" stroke-opacity="0.7"/>
<circle cx="217.2" cy="81.8" r="6.7" fill="url(#gBlue)" stroke="#27466c" stroke-width="0.45" stroke-opacity="0.7"/>
<circle cx="217.2" cy="94.9" r="6.7" fill="url(#gBlue)" stroke="#27466c" stroke-width="0.45" stroke-opacity="0.7"/>
<circle cx="217.2" cy="108" r="6.7" fill="url(#gBlue)" stroke="#27466c" stroke-width="0.45" stroke-opacity="0.7"/>
<circle cx="205.5" cy="22.85" r="6.7" fill="url(#gBlue)" stroke="#27466c" stroke-width="0.45" stroke-opacity="0.7"/>
<circle cx="205.5" cy="35.95" r="6.7" fill="url(#gBlue)" stroke="#27466c" stroke-width="0.45" stroke-opacity="0.7"/>
<circle cx="205.5" cy="49.05" r="6.7" fill="url(#gBlue)" stroke="#27466c" stroke-width="0.45" stroke-opacity="0.7"/>
<circle cx="205.5" cy="62.15" r="6.7" fill="url(#gBlue)" stroke="#27466c" stroke-width="0.45" stroke-opacity="0.7"/>
<circle cx="205.5" cy="75.25" r="6.7" fill="url(#gBlue)" stroke="#27466c" stroke-width="0.45" stroke-opacity="0.7"/>
<circle cx="205.5" cy="88.35" r="6.7" fill="url(#gBlue)" stroke="#27466c" stroke-width="0.45" stroke-opacity="0.7"/>
<circle cx="205.5" cy="101.45" r="6.7" fill="url(#gBlue)" stroke="#27466c" stroke-width="0.45" stroke-opacity="0.7"/>
<circle cx="205.5" cy="114.55" r="6.7" fill="url(#gBlue)" stroke="#27466c" stroke-width="0.45" stroke-opacity="0.7"/>
<circle cx="298.2" cy="16.3" r="6.7" fill="url(#gBlue)" stroke="#27466c" stroke-width="0.45" stroke-opacity="0.7"/>
<circle cx="298.2" cy="29.4" r="6.7" fill="url(#gBlue)" stroke="#27466c" stroke-width="0.45" stroke-opacity="0.7"/>
<circle cx="298.2" cy="42.5" r="6.7" fill="url(#gBlue)" stroke="#27466c" stroke-width="0.45" stroke-opacity="0.7"/>
<circle cx="298.2" cy="55.6" r="6.7" fill="url(#gBlue)" stroke="#27466c" stroke-width="0.45" stroke-opacity="0.7"/>
<circle cx="298.2" cy="68.7" r="6.7" fill="url(#gBlue)" stroke="#27466c" stroke-width="0.45" stroke-opacity="0.7"/>
<circle cx="298.2" cy="81.8" r="6.7" fill="url(#gBlue)" stroke="#27466c" stroke-width="0.45" stroke-opacity="0.7"/>
<circle cx="298.2" cy="94.9" r="6.7" fill="url(#gBlue)" stroke="#27466c" stroke-width="0.45" stroke-opacity="0.7"/>
<circle cx="298.2" cy="108" r="6.7" fill="url(#gBlue)" stroke="#27466c" stroke-width="0.45" stroke-opacity="0.7"/>
<circle cx="309.7" cy="22.85" r="6.7" fill="url(#gBlue)" stroke="#27466c" stroke-width="0.45" stroke-opacity="0.7"/>
<circle cx="309.7" cy="35.95" r="6.7" fill="url(#gBlue)" stroke="#27466c" stroke-width="0.45" stroke-opacity="0.7"/>
<circle cx="309.7" cy="49.05" r="6.7" fill="url(#gBlue)" stroke="#27466c" stroke-width="0.45" stroke-opacity="0.7"/>
<circle cx="309.7" cy="62.15" r="6.7" fill="url(#gBlue)" stroke="#27466c" stroke-width="0.45" stroke-opacity="0.7"/>
<circle cx="309.7" cy="75.25" r="6.7" fill="url(#gBlue)" stroke="#27466c" stroke-width="0.45" stroke-opacity="0.7"/>
<circle cx="309.7" cy="88.35" r="6.7" fill="url(#gBlue)" stroke="#27466c" stroke-width="0.45" stroke-opacity="0.7"/>
<circle cx="309.7" cy="101.45" r="6.7" fill="url(#gBlue)" stroke="#27466c" stroke-width="0.45" stroke-opacity="0.7"/>
<circle cx="309.7" cy="114.55" r="6.7" fill="url(#gBlue)" stroke="#27466c" stroke-width="0.45" stroke-opacity="0.7"/>
<circle cx="321.2" cy="16.3" r="6.7" fill="url(#gBlue)" stroke="#27466c" stroke-width="0.45" stroke-opacity="0.7"/>
<circle cx="321.2" cy="29.4" r="6.7" fill="url(#gBlue)" stroke="#27466c" stroke-width="0.45" stroke-opacity="0.7"/>
<circle cx="321.2" cy="42.5" r="6.7" fill="url(#gBlue)" stroke="#27466c" stroke-width="0.45" stroke-opacity="0.7"/>
<circle cx="321.2" cy="55.6" r="6.7" fill="url(#gBlue)" stroke="#27466c" stroke-width="0.45" stroke-opacity="0.7"/>
<circle cx="321.2" cy="68.7" r="6.7" fill="url(#gBlue)" stroke="#27466c" stroke-width="0.45" stroke-opacity="0.7"/>
<circle cx="321.2" cy="81.8" r="6.7" fill="url(#gBlue)" stroke="#27466c" stroke-width="0.45" stroke-opacity="0.7"/>
<circle cx="321.2" cy="94.9" r="6.7" fill="url(#gBlue)" stroke="#27466c" stroke-width="0.45" stroke-opacity="0.7"/>
<circle cx="321.2" cy="108" r="6.7" fill="url(#gBlue)" stroke="#27466c" stroke-width="0.45" stroke-opacity="0.7"/>
<circle cx="332.7" cy="22.85" r="6.7" fill="url(#gBlue)" stroke="#27466c" stroke-width="0.45" stroke-opacity="0.7"/>
<circle cx="332.7" cy="35.95" r="6.7" fill="url(#gBlue)" stroke="#27466c" stroke-width="0.45" stroke-opacity="0.7"/>
<circle cx="332.7" cy="49.05" r="6.7" fill="url(#gBlue)" stroke="#27466c" stroke-width="0.45" stroke-opacity="0.7"/>
<circle cx="332.7" cy="62.15" r="6.7" fill="url(#gBlue)" stroke="#27466c" stroke-width="0.45" stroke-opacity="0.7"/>
<circle cx="332.7" cy="75.25" r="6.7" fill="url(#gBlue)" stroke="#27466c" stroke-width="0.45" stroke-opacity="0.7"/>
<circle cx="332.7" cy="88.35" r="6.7" fill="url(#gBlue)" stroke="#27466c" stroke-width="0.45" stroke-opacity="0.7"/>
<circle cx="332.7" cy="101.45" r="6.7" fill="url(#gBlue)" stroke="#27466c" stroke-width="0.45" stroke-opacity="0.7"/>
<circle cx="332.7" cy="114.55" r="6.7" fill="url(#gBlue)" stroke="#27466c" stroke-width="0.45" stroke-opacity="0.7"/>
<circle cx="344.2" cy="16.3" r="6.7" fill="url(#gBlue)" stroke="#27466c" stroke-width="0.45" stroke-opacity="0.7"/>
<circle cx="344.2" cy="29.4" r="6.7" fill="url(#gBlue)" stroke="#27466c" stroke-width="0.45" stroke-opacity="0.7"/>
<circle cx="344.2" cy="42.5" r="6.7" fill="url(#gBlue)" stroke="#27466c" stroke-width="0.45" stroke-opacity="0.7"/>
<circle cx="344.2" cy="55.6" r="6.7" fill="url(#gBlue)" stroke="#27466c" stroke-width="0.45" stroke-opacity="0.7"/>
<circle cx="344.2" cy="68.7" r="6.7" fill="url(#gBlue)" stroke="#27466c" stroke-width="0.45" stroke-opacity="0.7"/>
<circle cx="344.2" cy="81.8" r="6.7" fill="url(#gBlue)" stroke="#27466c" stroke-width="0.45" stroke-opacity="0.7"/>
<circle cx="344.2" cy="94.9" r="6.7" fill="url(#gBlue)" stroke="#27466c" stroke-width="0.45" stroke-opacity="0.7"/>
<circle cx="344.2" cy="108" r="6.7" fill="url(#gBlue)" stroke="#27466c" stroke-width="0.45" stroke-opacity="0.7"/>
<circle cx="275" cy="22.85" r="6.7" fill="url(#gYel)" stroke="#7a7020" stroke-width="0.45" stroke-opacity="0.7"/>
<circle cx="275" cy="35.95" r="6.7" fill="url(#gYel)" stroke="#7a7020" stroke-width="0.45" stroke-opacity="0.7"/>
<circle cx="275" cy="49.05" r="6.7" fill="url(#gYel)" stroke="#7a7020" stroke-width="0.45" stroke-opacity="0.7"/>
<circle cx="275" cy="62.15" r="6.7" fill="url(#gYel)" stroke="#7a7020" stroke-width="0.45" stroke-opacity="0.7"/>
<circle cx="275" cy="75.25" r="6.7" fill="url(#gYel)" stroke="#7a7020" stroke-width="0.45" stroke-opacity="0.7"/>
<circle cx="275" cy="88.35" r="6.7" fill="url(#gYel)" stroke="#7a7020" stroke-width="0.45" stroke-opacity="0.7"/>
<circle cx="275" cy="101.45" r="6.7" fill="url(#gYel)" stroke="#7a7020" stroke-width="0.45" stroke-opacity="0.7"/>
<circle cx="275" cy="114.55" r="6.7" fill="url(#gYel)" stroke="#7a7020" stroke-width="0.45" stroke-opacity="0.7"/>
<circle cx="286.6" cy="22.85" r="6.7" fill="url(#gYel)" stroke="#7a7020" stroke-width="0.45" stroke-opacity="0.7"/>
<circle cx="286.6" cy="35.95" r="6.7" fill="url(#gYel)" stroke="#7a7020" stroke-width="0.45" stroke-opacity="0.7"/>
<circle cx="286.6" cy="49.05" r="6.7" fill="url(#gYel)" stroke="#7a7020" stroke-width="0.45" stroke-opacity="0.7"/>
<circle cx="286.6" cy="62.15" r="6.7" fill="url(#gYel)" stroke="#7a7020" stroke-width="0.45" stroke-opacity="0.7"/>
<circle cx="286.6" cy="75.25" r="6.7" fill="url(#gYel)" stroke="#7a7020" stroke-width="0.45" stroke-opacity="0.7"/>
<circle cx="286.6" cy="88.35" r="6.7" fill="url(#gYel)" stroke="#7a7020" stroke-width="0.45" stroke-opacity="0.7"/>
<circle cx="286.6" cy="101.45" r="6.7" fill="url(#gYel)" stroke="#7a7020" stroke-width="0.45" stroke-opacity="0.7"/>
<circle cx="286.6" cy="114.55" r="6.7" fill="url(#gYel)" stroke="#7a7020" stroke-width="0.45" stroke-opacity="0.7"/>
</g>
<polygon points="245,95.4 274.6,76.5 274.6,113.9" fill="#ee4058" stroke="none" stroke-width="1" fill-opacity="0.6"/>
<polygon points="269.6,79.8 275.4,76.2 275.4,114.2 269.6,110.6" fill="#ff7a10" stroke="none" stroke-width="1" fill-opacity="0.85"/>
<polygon points="318,95.4 288.5,78.2 288.5,112.5" fill="#2430e0" stroke="none" stroke-width="1" fill-opacity="0.72"/>
<polygon points="288,78 294,81.4 294,109.4 288,112.8" fill="#8a8af4" stroke="none" stroke-width="1" fill-opacity="0.5"/>
<polyline points="251.13,57.33 247.01,62.61 240.38,61.68 237.87,55.47 241.99,50.19 248.62,51.12 251.13,57.33" fill="none" stroke="#111" stroke-width="0.8" />
<polyline points="260.28,64.48 256.15,69.76 249.52,68.82 247.01,62.61 251.13,57.33 257.77,58.26 260.28,64.48" fill="none" stroke="#111" stroke-width="0.8" />
<polyline points="249.52,68.82 245.39,74.1 238.76,73.17 236.25,66.96 240.38,61.68 247.01,62.61 249.52,68.82" fill="none" stroke="#111" stroke-width="0.8" />
<polyline points="240.38,61.68 236.25,66.96 229.62,66.03 227.11,59.81 231.23,54.54 237.87,55.47 240.38,61.68" fill="none" stroke="#111" stroke-width="0.8" />
<polyline points="241.99,50.19 237.87,55.47 231.23,54.54 228.72,48.32 232.85,43.04 239.48,43.98 241.99,50.19" fill="none" stroke="#111" stroke-width="0.8" />
<polyline points="252.75,45.84 248.62,51.12 241.99,50.19 239.48,43.98 243.61,38.7 250.24,39.63 252.75,45.84" fill="none" stroke="#111" stroke-width="0.8" />
<polyline points="261.89,52.99 257.77,58.26 251.13,57.33 248.62,51.12 252.75,45.84 259.38,46.77 261.89,52.99" fill="none" stroke="#111" stroke-width="0.8" />
<circle cx="249.5" cy="68.8" r="2.2" fill="url(#gCarb)" />
<circle cx="247" cy="62.6" r="2.2" fill="url(#gCarb)" />
<circle cx="228.7" cy="48.3" r="2.2" fill="url(#gCarb)" />
<circle cx="252.7" cy="45.8" r="2.2" fill="url(#gCarb)" />
<circle cx="229.6" cy="66" r="2.2" fill="url(#gCarb)" />
<circle cx="250.2" cy="39.6" r="2.2" fill="url(#gCarb)" />
<circle cx="261.9" cy="53" r="2.2" fill="url(#gCarb)" />
<circle cx="236.3" cy="67" r="2.2" fill="url(#gCarb)" />
<circle cx="242" cy="50.2" r="2.2" fill="url(#gCarb)" />
<circle cx="260.3" cy="64.5" r="2.2" fill="url(#gCarb)" />
<circle cx="248.6" cy="51.1" r="2.2" fill="url(#gCarb)" />
<circle cx="239.5" cy="44" r="2.2" fill="url(#gCarb)" />
<circle cx="257.8" cy="58.3" r="2.2" fill="url(#gCarb)" />
<circle cx="245.4" cy="74.1" r="2.2" fill="url(#gCarb)" />
<circle cx="251.1" cy="57.3" r="2.2" fill="url(#gCarb)" />
<circle cx="256.2" cy="69.8" r="2.2" fill="url(#gCarb)" />
<circle cx="227.1" cy="59.8" r="2.2" fill="url(#gCarb)" />
<circle cx="232.8" cy="43" r="2.2" fill="url(#gCarb)" />
<circle cx="243.6" cy="38.7" r="2.2" fill="url(#gCarb)" />
<circle cx="240.4" cy="61.7" r="2.2" fill="url(#gCarb)" />
<circle cx="238.8" cy="73.2" r="2.2" fill="url(#gCarb)" />
<circle cx="259.4" cy="46.8" r="2.2" fill="url(#gCarb)" />
<circle cx="237.9" cy="55.5" r="2.2" fill="url(#gCarb)" />
<circle cx="231.2" cy="54.5" r="2.2" fill="url(#gCarb)" />
<polyline points="312.93,61.07 310.42,67.28 303.79,68.21 299.67,62.93 302.18,56.72 308.81,55.79 312.93,61.07" fill="none" stroke="#111" stroke-width="0.8" />
<polyline points="323.69,65.41 321.18,71.63 314.55,72.56 310.42,67.28 312.93,61.07 319.57,60.14 323.69,65.41" fill="none" stroke="#111" stroke-width="0.8" />
<polyline points="314.55,72.56 312.04,78.77 305.41,79.7 301.28,74.42 303.79,68.21 310.42,67.28 314.55,72.56" fill="none" stroke="#111" stroke-width="0.8" />
<polyline points="303.79,68.21 301.28,74.42 294.65,75.36 290.52,70.08 293.03,63.86 299.67,62.93 303.79,68.21" fill="none" stroke="#111" stroke-width="0.8" />
<polyline points="302.18,56.72 299.67,62.93 293.03,63.86 288.91,58.59 291.42,52.37 298.05,51.44 302.18,56.72" fill="none" stroke="#111" stroke-width="0.8" />
<polyline points="311.32,49.58 308.81,55.79 302.18,56.72 298.05,51.44 300.56,45.23 307.19,44.3 311.32,49.58" fill="none" stroke="#111" stroke-width="0.8" />
<polyline points="322.08,53.92 319.57,60.14 312.93,61.07 308.81,55.79 311.32,49.58 317.95,48.64 322.08,53.92" fill="none" stroke="#111" stroke-width="0.8" />
<circle cx="293" cy="63.9" r="2.2" fill="url(#gCarb)" />
<circle cx="323.7" cy="65.4" r="2.2" fill="url(#gCarb)" />
<circle cx="300.6" cy="45.2" r="2.2" fill="url(#gCarb)" />
<circle cx="311.3" cy="49.6" r="2.2" fill="url(#gCarb)" />
<circle cx="303.8" cy="68.2" r="2.2" fill="url(#gCarb)" />
<circle cx="301.3" cy="74.4" r="2.2" fill="url(#gCarb)" />
<circle cx="299.7" cy="62.9" r="2.2" fill="url(#gCarb)" />
<circle cx="288.9" cy="58.6" r="2.2" fill="url(#gCarb)" />
<circle cx="312.9" cy="61.1" r="2.2" fill="url(#gCarb)" />
<circle cx="291.4" cy="52.4" r="2.2" fill="url(#gCarb)" />
<circle cx="314.5" cy="72.6" r="2.2" fill="url(#gCarb)" />
<circle cx="308.8" cy="55.8" r="2.2" fill="url(#gCarb)" />
<circle cx="318" cy="48.6" r="2.2" fill="url(#gCarb)" />
<circle cx="298.1" cy="51.4" r="2.2" fill="url(#gCarb)" />
<circle cx="312" cy="78.8" r="2.2" fill="url(#gCarb)" />
<circle cx="322.1" cy="53.9" r="2.2" fill="url(#gCarb)" />
<circle cx="319.6" cy="60.1" r="2.2" fill="url(#gCarb)" />
<circle cx="321.2" cy="71.6" r="2.2" fill="url(#gCarb)" />
<circle cx="307.2" cy="44.3" r="2.2" fill="url(#gCarb)" />
<circle cx="294.6" cy="75.4" r="2.2" fill="url(#gCarb)" />
<circle cx="290.5" cy="70.1" r="2.2" fill="url(#gCarb)" />
<circle cx="302.2" cy="56.7" r="2.2" fill="url(#gCarb)" />
<circle cx="305.4" cy="79.7" r="2.2" fill="url(#gCarb)" />
<circle cx="310.4" cy="67.3" r="2.2" fill="url(#gCarb)" />
<line x1="243.5" y1="56" x2="237" y2="28.5" stroke="#e8102a" stroke-width="1.7" />
<polygon points="236.31,25.58 239.53,27.9 234.47,29.1" fill="#e8102a" stroke="none" stroke-width="1" />
<line x1="306.2" y1="59" x2="300.5" y2="31.5" stroke="#e8102a" stroke-width="1.7" />
<polygon points="299.89,28.56 303.05,30.97 297.95,32.03" fill="#e8102a" stroke="none" stroke-width="1" />
<text x="250.1" y="131.3" font-size="10" text-anchor="middle" font-weight="bold" fill="#e8203a" >C</text>
<text x="261.9" y="131.3" font-size="10" text-anchor="middle" font-weight="bold" fill="#e8203a" >B</text>
<text x="273.2" y="131.3" font-size="10" text-anchor="middle" font-weight="bold" fill="#f02818" >A</text>
<text x="285.7" y="131.3" font-size="10" text-anchor="middle" font-weight="bold" fill="#2020c8" >A</text>
<text x="297.4" y="131.3" font-size="10" text-anchor="middle" font-weight="bold" fill="#2020c8" >B</text>
<text x="309.2" y="131.3" font-size="10" text-anchor="middle" font-weight="bold" fill="#2020c8" >C</text>
</g>
<g id="pc">
<text x="5" y="150.3" font-size="11" text-anchor="start" font-weight="bold" fill="#000" >c</text>
<clipPath id="clipC1"><rect x="24.8" y="151.8" width="66" height="55.4"/></clipPath>
<g clip-path="url(#clipC1)">
<rect x="24.8" y="151.8" width="66" height="55.4" fill="#05080c" stroke="none" stroke-width="1" />
<rect x="24.8" y="151.8" width="66" height="25.5" fill="#27456a" stroke="none" stroke-width="1" />
<circle cx="13.9" cy="152.3" r="6.15" fill="url(#gBlueD)" stroke="#183050" stroke-width="0.6" stroke-opacity="0.8"/>
<circle cx="25.8" cy="152.3" r="6.15" fill="url(#gBlueD)" stroke="#183050" stroke-width="0.6" stroke-opacity="0.8"/>
<circle cx="37.7" cy="152.3" r="6.15" fill="url(#gBlueD)" stroke="#183050" stroke-width="0.6" stroke-opacity="0.8"/>
<circle cx="49.6" cy="152.3" r="6.15" fill="url(#gBlueD)" stroke="#183050" stroke-width="0.6" stroke-opacity="0.8"/>
<circle cx="61.5" cy="152.3" r="6.15" fill="url(#gBlueD)" stroke="#183050" stroke-width="0.6" stroke-opacity="0.8"/>
<circle cx="73.4" cy="152.3" r="6.15" fill="url(#gBlueD)" stroke="#183050" stroke-width="0.6" stroke-opacity="0.8"/>
<circle cx="85.3" cy="152.3" r="6.15" fill="url(#gBlueD)" stroke="#183050" stroke-width="0.6" stroke-opacity="0.8"/>
<circle cx="97.2" cy="152.3" r="6.15" fill="url(#gBlueD)" stroke="#183050" stroke-width="0.6" stroke-opacity="0.8"/>
<circle cx="109.1" cy="152.3" r="6.15" fill="url(#gBlueD)" stroke="#183050" stroke-width="0.6" stroke-opacity="0.8"/>
<circle cx="19.85" cy="161.3" r="6.15" fill="url(#gBlueC)" stroke="#183050" stroke-width="0.6" stroke-opacity="0.8"/>
<circle cx="31.75" cy="161.3" r="6.15" fill="url(#gBlueC)" stroke="#183050" stroke-width="0.6" stroke-opacity="0.8"/>
<circle cx="43.65" cy="161.3" r="6.15" fill="url(#gBlueC)" stroke="#183050" stroke-width="0.6" stroke-opacity="0.8"/>
<circle cx="55.55" cy="161.3" r="6.15" fill="url(#gBlueC)" stroke="#183050" stroke-width="0.6" stroke-opacity="0.8"/>
<circle cx="67.45" cy="161.3" r="6.15" fill="url(#gBlueC)" stroke="#183050" stroke-width="0.6" stroke-opacity="0.8"/>
<circle cx="79.35" cy="161.3" r="6.15" fill="url(#gBlueC)" stroke="#183050" stroke-width="0.6" stroke-opacity="0.8"/>
<circle cx="91.25" cy="161.3" r="6.15" fill="url(#gBlueC)" stroke="#183050" stroke-width="0.6" stroke-opacity="0.8"/>
<circle cx="103.15" cy="161.3" r="6.15" fill="url(#gBlueC)" stroke="#183050" stroke-width="0.6" stroke-opacity="0.8"/>
<circle cx="115.05" cy="161.3" r="6.15" fill="url(#gBlueC)" stroke="#183050" stroke-width="0.6" stroke-opacity="0.8"/>
<circle cx="13.9" cy="171.6" r="6.15" fill="url(#gBlueC)" stroke="#183050" stroke-width="0.6" stroke-opacity="0.8"/>
<circle cx="25.8" cy="171.6" r="6.15" fill="url(#gBlueC)" stroke="#183050" stroke-width="0.6" stroke-opacity="0.8"/>
<circle cx="37.7" cy="171.6" r="6.15" fill="url(#gBlueC)" stroke="#183050" stroke-width="0.6" stroke-opacity="0.8"/>
<circle cx="49.6" cy="171.6" r="6.15" fill="url(#gBlueC)" stroke="#183050" stroke-width="0.6" stroke-opacity="0.8"/>
<circle cx="61.5" cy="171.6" r="6.15" fill="url(#gBlueC)" stroke="#183050" stroke-width="0.6" stroke-opacity="0.8"/>
<circle cx="73.4" cy="171.6" r="6.15" fill="url(#gBlueC)" stroke="#183050" stroke-width="0.6" stroke-opacity="0.8"/>
<circle cx="85.3" cy="171.6" r="6.15" fill="url(#gBlueC)" stroke="#183050" stroke-width="0.6" stroke-opacity="0.8"/>
<circle cx="97.2" cy="171.6" r="6.15" fill="url(#gBlueC)" stroke="#183050" stroke-width="0.6" stroke-opacity="0.8"/>
<circle cx="109.1" cy="171.6" r="6.15" fill="url(#gBlueC)" stroke="#183050" stroke-width="0.6" stroke-opacity="0.8"/>
<rect x="24.8" y="177.3" width="66" height="29.9" fill="#05080c" stroke="none" stroke-width="1" />
<circle cx="16.95" cy="183.9" r="4.7" fill="url(#gBlueU)" />
<circle cx="27.8" cy="183.9" r="4.7" fill="url(#gBlueU)" />
<circle cx="38.65" cy="183.9" r="4.7" fill="url(#gBlueU)" />
<circle cx="49.5" cy="183.9" r="4.7" fill="url(#gBlueU)" />
<circle cx="60.35" cy="183.9" r="4.7" fill="url(#gBlueU)" />
<circle cx="71.2" cy="183.9" r="4.7" fill="url(#gBlueU)" />
<circle cx="82.05" cy="183.9" r="4.7" fill="url(#gBlueU)" />
<circle cx="92.9" cy="183.9" r="4.7" fill="url(#gBlueU)" />
<circle cx="103.75" cy="183.9" r="4.7" fill="url(#gBlueU)" />
<circle cx="114.6" cy="183.9" r="4.7" fill="url(#gBlueU)" />
<circle cx="22.38" cy="193.9" r="4.7" fill="url(#gBlueU)" />
<circle cx="33.23" cy="193.9" r="4.7" fill="url(#gBlueU)" />
<circle cx="44.07" cy="193.9" r="4.7" fill="url(#gBlueU)" />
<circle cx="54.92" cy="193.9" r="4.7" fill="url(#gBlueU)" />
<circle cx="65.77" cy="193.9" r="4.7" fill="url(#gBlueU)" />
<circle cx="76.62" cy="193.9" r="4.7" fill="url(#gBlueU)" />
<circle cx="87.47" cy="193.9" r="4.7" fill="url(#gBlueU)" />
<circle cx="98.32" cy="193.9" r="4.7" fill="url(#gBlueU)" />
<circle cx="109.17" cy="193.9" r="4.7" fill="url(#gBlueU)" />
<circle cx="120.02" cy="193.9" r="4.7" fill="url(#gBlueU)" />
<circle cx="16.95" cy="203.9" r="4.7" fill="url(#gBlueU)" />
<circle cx="27.8" cy="203.9" r="4.7" fill="url(#gBlueU)" />
<circle cx="38.65" cy="203.9" r="4.7" fill="url(#gBlueU)" />
<circle cx="49.5" cy="203.9" r="4.7" fill="url(#gBlueU)" />
<circle cx="60.35" cy="203.9" r="4.7" fill="url(#gBlueU)" />
<circle cx="71.2" cy="203.9" r="4.7" fill="url(#gBlueU)" />
<circle cx="82.05" cy="203.9" r="4.7" fill="url(#gBlueU)" />
<circle cx="92.9" cy="203.9" r="4.7" fill="url(#gBlueU)" />
<circle cx="103.75" cy="203.9" r="4.7" fill="url(#gBlueU)" />
<circle cx="114.6" cy="203.9" r="4.7" fill="url(#gBlueU)" />
<polyline points="22.38,187.23 16.95,190.57 11.53,187.23 11.53,180.57 16.95,177.23 22.38,180.57 22.38,187.23" fill="none" stroke="#000" stroke-width="1.5" />
<polyline points="33.23,187.23 27.8,190.57 22.38,187.23 22.38,180.57 27.8,177.23 33.23,180.57 33.23,187.23" fill="none" stroke="#000" stroke-width="1.5" />
<polyline points="44.08,187.23 38.65,190.57 33.22,187.23 33.23,180.57 38.65,177.23 44.07,180.57 44.08,187.23" fill="none" stroke="#000" stroke-width="1.5" />
<polyline points="54.92,187.23 49.5,190.57 44.08,187.23 44.08,180.57 49.5,177.23 54.92,180.57 54.92,187.23" fill="none" stroke="#000" stroke-width="1.5" />
<polyline points="65.77,187.23 60.35,190.57 54.92,187.23 54.92,180.57 60.35,177.23 65.77,180.57 65.77,187.23" fill="none" stroke="#000" stroke-width="1.5" />
<polyline points="76.62,187.23 71.2,190.57 65.78,187.23 65.78,180.57 71.2,177.23 76.62,180.57 76.62,187.23" fill="none" stroke="#000" stroke-width="1.5" />
<polyline points="87.47,187.23 82.05,190.57 76.62,187.23 76.62,180.57 82.05,177.23 87.47,180.57 87.47,187.23" fill="none" stroke="#000" stroke-width="1.5" />
<polyline points="98.32,187.23 92.9,190.57 87.47,187.23 87.47,180.57 92.9,177.23 98.32,180.57 98.32,187.23" fill="none" stroke="#000" stroke-width="1.5" />
<polyline points="109.17,187.23 103.75,190.57 98.33,187.23 98.33,180.57 103.75,177.23 109.17,180.57 109.17,187.23" fill="none" stroke="#000" stroke-width="1.5" />
<polyline points="120.02,187.23 114.6,190.57 109.17,187.23 109.17,180.57 114.6,177.23 120.02,180.57 120.02,187.23" fill="none" stroke="#000" stroke-width="1.5" />
<polyline points="27.8,197.23 22.38,200.57 16.95,197.23 16.95,190.57 22.38,187.23 27.8,190.57 27.8,197.23" fill="none" stroke="#000" stroke-width="1.5" />
<polyline points="38.65,197.23 33.23,200.57 27.8,197.23 27.8,190.57 33.23,187.23 38.65,190.57 38.65,197.23" fill="none" stroke="#000" stroke-width="1.5" />
<polyline points="49.5,197.23 44.07,200.57 38.65,197.23 38.65,190.57 44.07,187.23 49.5,190.57 49.5,197.23" fill="none" stroke="#000" stroke-width="1.5" />
<polyline points="60.35,197.23 54.92,200.57 49.5,197.23 49.5,190.57 54.92,187.23 60.35,190.57 60.35,197.23" fill="none" stroke="#000" stroke-width="1.5" />
<polyline points="71.2,197.23 65.77,200.57 60.35,197.23 60.35,190.57 65.77,187.23 71.2,190.57 71.2,197.23" fill="none" stroke="#000" stroke-width="1.5" />
<polyline points="82.05,197.23 76.62,200.57 71.2,197.23 71.2,190.57 76.62,187.23 82.05,190.57 82.05,197.23" fill="none" stroke="#000" stroke-width="1.5" />
<polyline points="92.9,197.23 87.47,200.57 82.05,197.23 82.05,190.57 87.47,187.23 92.9,190.57 92.9,197.23" fill="none" stroke="#000" stroke-width="1.5" />
<polyline points="103.75,197.23 98.32,200.57 92.9,197.23 92.9,190.57 98.32,187.23 103.75,190.57 103.75,197.23" fill="none" stroke="#000" stroke-width="1.5" />
<polyline points="114.6,197.23 109.17,200.57 103.75,197.23 103.75,190.57 109.17,187.23 114.6,190.57 114.6,197.23" fill="none" stroke="#000" stroke-width="1.5" />
<polyline points="125.45,197.23 120.02,200.57 114.6,197.23 114.6,190.57 120.02,187.23 125.45,190.57 125.45,197.23" fill="none" stroke="#000" stroke-width="1.5" />
<polyline points="22.38,207.23 16.95,210.57 11.53,207.23 11.53,200.57 16.95,197.23 22.38,200.57 22.38,207.23" fill="none" stroke="#000" stroke-width="1.5" />
<polyline points="33.23,207.23 27.8,210.57 22.38,207.23 22.38,200.57 27.8,197.23 33.23,200.57 33.23,207.23" fill="none" stroke="#000" stroke-width="1.5" />
<polyline points="44.08,207.23 38.65,210.57 33.22,207.23 33.23,200.57 38.65,197.23 44.07,200.57 44.08,207.23" fill="none" stroke="#000" stroke-width="1.5" />
<polyline points="54.92,207.23 49.5,210.57 44.08,207.23 44.08,200.57 49.5,197.23 54.92,200.57 54.92,207.23" fill="none" stroke="#000" stroke-width="1.5" />
<polyline points="65.77,207.23 60.35,210.57 54.92,207.23 54.92,200.57 60.35,197.23 65.77,200.57 65.77,207.23" fill="none" stroke="#000" stroke-width="1.5" />
<polyline points="76.62,207.23 71.2,210.57 65.78,207.23 65.78,200.57 71.2,197.23 76.62,200.57 76.62,207.23" fill="none" stroke="#000" stroke-width="1.5" />
<polyline points="87.47,207.23 82.05,210.57 76.62,207.23 76.62,200.57 82.05,197.23 87.47,200.57 87.47,207.23" fill="none" stroke="#000" stroke-width="1.5" />
<polyline points="98.32,207.23 92.9,210.57 87.47,207.23 87.47,200.57 92.9,197.23 98.32,200.57 98.32,207.23" fill="none" stroke="#000" stroke-width="1.5" />
<polyline points="109.17,207.23 103.75,210.57 98.33,207.23 98.33,200.57 103.75,197.23 109.17,200.57 109.17,207.23" fill="none" stroke="#000" stroke-width="1.5" />
<polyline points="120.02,207.23 114.6,210.57 109.17,207.23 109.17,200.57 114.6,197.23 120.02,200.57 120.02,207.23" fill="none" stroke="#000" stroke-width="1.5" />
<polyline points="52,175 57,172.1 62.3,174.7" fill="none" stroke="#0c7a1c" stroke-width="1.4" />
<circle cx="52" cy="175" r="2.25" fill="url(#gGreen)" />
<circle cx="57" cy="172.1" r="2.25" fill="url(#gGreen)" />
<circle cx="62.3" cy="174.7" r="2.25" fill="url(#gGreen)" />
<line x1="47.3" y1="176.7" x2="42.1" y2="176.7" stroke="#ee1418" stroke-width="1.8" />
<polygon points="38.6,176.7 43.1,174.1 43.1,179.3" fill="#ee1418" stroke="none" stroke-width="1" />
<line x1="68.3" y1="176.7" x2="73.5" y2="176.7" stroke="#ee1418" stroke-width="1.8" />
<polygon points="77,176.7 72.5,174.1 72.5,179.3" fill="#ee1418" stroke="none" stroke-width="1" />
</g>
<clipPath id="clipC2"><rect x="108" y="151.8" width="63.8" height="55.4"/></clipPath>
<g clip-path="url(#clipC2)">
<rect x="108" y="151.8" width="63.8" height="55.4" fill="#05080c" stroke="none" stroke-width="1" />
<rect x="108" y="151.8" width="63.8" height="25.5" fill="#27456a" stroke="none" stroke-width="1" />
<circle cx="97.1" cy="152.3" r="6.15" fill="url(#gBlueD)" stroke="#183050" stroke-width="0.6" stroke-opacity="0.8"/>
<circle cx="109" cy="152.3" r="6.15" fill="url(#gBlueD)" stroke="#183050" stroke-width="0.6" stroke-opacity="0.8"/>
<circle cx="120.9" cy="152.3" r="6.15" fill="url(#gBlueD)" stroke="#183050" stroke-width="0.6" stroke-opacity="0.8"/>
<circle cx="132.8" cy="152.3" r="6.15" fill="url(#gBlueD)" stroke="#183050" stroke-width="0.6" stroke-opacity="0.8"/>
<circle cx="144.7" cy="152.3" r="6.15" fill="url(#gBlueD)" stroke="#183050" stroke-width="0.6" stroke-opacity="0.8"/>
<circle cx="156.6" cy="152.3" r="6.15" fill="url(#gBlueD)" stroke="#183050" stroke-width="0.6" stroke-opacity="0.8"/>
<circle cx="168.5" cy="152.3" r="6.15" fill="url(#gBlueD)" stroke="#183050" stroke-width="0.6" stroke-opacity="0.8"/>
<circle cx="180.4" cy="152.3" r="6.15" fill="url(#gBlueD)" stroke="#183050" stroke-width="0.6" stroke-opacity="0.8"/>
<circle cx="192.3" cy="152.3" r="6.15" fill="url(#gBlueD)" stroke="#183050" stroke-width="0.6" stroke-opacity="0.8"/>
<circle cx="103.05" cy="161.3" r="6.15" fill="url(#gBlueC)" stroke="#183050" stroke-width="0.6" stroke-opacity="0.8"/>
<circle cx="114.95" cy="161.3" r="6.15" fill="url(#gBlueC)" stroke="#183050" stroke-width="0.6" stroke-opacity="0.8"/>
<circle cx="126.85" cy="161.3" r="6.15" fill="url(#gBlueC)" stroke="#183050" stroke-width="0.6" stroke-opacity="0.8"/>
<circle cx="138.75" cy="161.3" r="6.15" fill="url(#gBlueC)" stroke="#183050" stroke-width="0.6" stroke-opacity="0.8"/>
<circle cx="150.65" cy="161.3" r="6.15" fill="url(#gBlueC)" stroke="#183050" stroke-width="0.6" stroke-opacity="0.8"/>
<circle cx="162.55" cy="161.3" r="6.15" fill="url(#gBlueC)" stroke="#183050" stroke-width="0.6" stroke-opacity="0.8"/>
<circle cx="174.45" cy="161.3" r="6.15" fill="url(#gBlueC)" stroke="#183050" stroke-width="0.6" stroke-opacity="0.8"/>
<circle cx="186.35" cy="161.3" r="6.15" fill="url(#gBlueC)" stroke="#183050" stroke-width="0.6" stroke-opacity="0.8"/>
<circle cx="198.25" cy="161.3" r="6.15" fill="url(#gBlueC)" stroke="#183050" stroke-width="0.6" stroke-opacity="0.8"/>
<circle cx="97.1" cy="171.6" r="6.15" fill="url(#gBlueC)" stroke="#183050" stroke-width="0.6" stroke-opacity="0.8"/>
<circle cx="109" cy="171.6" r="6.15" fill="url(#gBlueC)" stroke="#183050" stroke-width="0.6" stroke-opacity="0.8"/>
<circle cx="120.9" cy="171.6" r="6.15" fill="url(#gBlueC)" stroke="#183050" stroke-width="0.6" stroke-opacity="0.8"/>
<circle cx="132.8" cy="171.6" r="6.15" fill="url(#gBlueC)" stroke="#183050" stroke-width="0.6" stroke-opacity="0.8"/>
<circle cx="144.7" cy="171.6" r="6.15" fill="url(#gBlueC)" stroke="#183050" stroke-width="0.6" stroke-opacity="0.8"/>
<circle cx="156.6" cy="171.6" r="6.15" fill="url(#gBlueC)" stroke="#183050" stroke-width="0.6" stroke-opacity="0.8"/>
<circle cx="168.5" cy="171.6" r="6.15" fill="url(#gBlueC)" stroke="#183050" stroke-width="0.6" stroke-opacity="0.8"/>
<circle cx="180.4" cy="171.6" r="6.15" fill="url(#gBlueC)" stroke="#183050" stroke-width="0.6" stroke-opacity="0.8"/>
<circle cx="192.3" cy="171.6" r="6.15" fill="url(#gBlueC)" stroke="#183050" stroke-width="0.6" stroke-opacity="0.8"/>
<rect x="108" y="177.3" width="63.8" height="29.9" fill="#05080c" stroke="none" stroke-width="1" />
<circle cx="100.15" cy="183.9" r="4.7" fill="url(#gBlueU)" />
<circle cx="111" cy="183.9" r="4.7" fill="url(#gBlueU)" />
<circle cx="121.85" cy="183.9" r="4.7" fill="url(#gBlueU)" />
<circle cx="132.7" cy="183.9" r="4.7" fill="url(#gBlueU)" />
<circle cx="143.55" cy="183.9" r="4.7" fill="url(#gBlueU)" />
<circle cx="154.4" cy="183.9" r="4.7" fill="url(#gBlueU)" />
<circle cx="165.25" cy="183.9" r="4.7" fill="url(#gBlueU)" />
<circle cx="176.1" cy="183.9" r="4.7" fill="url(#gBlueU)" />
<circle cx="186.95" cy="183.9" r="4.7" fill="url(#gBlueU)" />
<circle cx="197.8" cy="183.9" r="4.7" fill="url(#gBlueU)" />
<circle cx="105.58" cy="193.9" r="4.7" fill="url(#gBlueU)" />
<circle cx="116.42" cy="193.9" r="4.7" fill="url(#gBlueU)" />
<circle cx="127.27" cy="193.9" r="4.7" fill="url(#gBlueU)" />
<circle cx="138.12" cy="193.9" r="4.7" fill="url(#gBlueU)" />
<circle cx="148.98" cy="193.9" r="4.7" fill="url(#gBlueU)" />
<circle cx="159.83" cy="193.9" r="4.7" fill="url(#gBlueU)" />
<circle cx="170.68" cy="193.9" r="4.7" fill="url(#gBlueU)" />
<circle cx="181.53" cy="193.9" r="4.7" fill="url(#gBlueU)" />
<circle cx="192.38" cy="193.9" r="4.7" fill="url(#gBlueU)" />
<circle cx="203.23" cy="193.9" r="4.7" fill="url(#gBlueU)" />
<circle cx="100.15" cy="203.9" r="4.7" fill="url(#gBlueU)" />
<circle cx="111" cy="203.9" r="4.7" fill="url(#gBlueU)" />
<circle cx="121.85" cy="203.9" r="4.7" fill="url(#gBlueU)" />
<circle cx="132.7" cy="203.9" r="4.7" fill="url(#gBlueU)" />
<circle cx="143.55" cy="203.9" r="4.7" fill="url(#gBlueU)" />
<circle cx="154.4" cy="203.9" r="4.7" fill="url(#gBlueU)" />
<circle cx="165.25" cy="203.9" r="4.7" fill="url(#gBlueU)" />
<circle cx="176.1" cy="203.9" r="4.7" fill="url(#gBlueU)" />
<circle cx="186.95" cy="203.9" r="4.7" fill="url(#gBlueU)" />
<circle cx="197.8" cy="203.9" r="4.7" fill="url(#gBlueU)" />
<polyline points="105.58,187.23 100.15,190.57 94.73,187.23 94.73,180.57 100.15,177.23 105.58,180.57 105.58,187.23" fill="none" stroke="#000" stroke-width="1.5" />
<polyline points="116.42,187.23 111,190.57 105.58,187.23 105.58,180.57 111,177.23 116.42,180.57 116.42,187.23" fill="none" stroke="#000" stroke-width="1.5" />
<polyline points="127.27,187.23 121.85,190.57 116.42,187.23 116.42,180.57 121.85,177.23 127.27,180.57 127.27,187.23" fill="none" stroke="#000" stroke-width="1.5" />
<polyline points="138.12,187.23 132.7,190.57 127.27,187.23 127.27,180.57 132.7,177.23 138.12,180.57 138.12,187.23" fill="none" stroke="#000" stroke-width="1.5" />
<polyline points="148.98,187.23 143.55,190.57 138.12,187.23 138.12,180.57 143.55,177.23 148.98,180.57 148.98,187.23" fill="none" stroke="#000" stroke-width="1.5" />
<polyline points="159.83,187.23 154.4,190.57 148.97,187.23 148.97,180.57 154.4,177.23 159.83,180.57 159.83,187.23" fill="none" stroke="#000" stroke-width="1.5" />
<polyline points="170.68,187.23 165.25,190.57 159.82,187.23 159.82,180.57 165.25,177.23 170.68,180.57 170.68,187.23" fill="none" stroke="#000" stroke-width="1.5" />
<polyline points="181.53,187.23 176.1,190.57 170.67,187.23 170.67,180.57 176.1,177.23 181.53,180.57 181.53,187.23" fill="none" stroke="#000" stroke-width="1.5" />
<polyline points="192.38,187.23 186.95,190.57 181.52,187.23 181.52,180.57 186.95,177.23 192.38,180.57 192.38,187.23" fill="none" stroke="#000" stroke-width="1.5" />
<polyline points="203.23,187.23 197.8,190.57 192.38,187.23 192.38,180.57 197.8,177.23 203.23,180.57 203.23,187.23" fill="none" stroke="#000" stroke-width="1.5" />
<polyline points="111,197.23 105.58,200.57 100.15,197.23 100.15,190.57 105.58,187.23 111,190.57 111,197.23" fill="none" stroke="#000" stroke-width="1.5" />
<polyline points="121.85,197.23 116.42,200.57 111,197.23 111,190.57 116.42,187.23 121.85,190.57 121.85,197.23" fill="none" stroke="#000" stroke-width="1.5" />
<polyline points="132.7,197.23 127.27,200.57 121.85,197.23 121.85,190.57 127.27,187.23 132.7,190.57 132.7,197.23" fill="none" stroke="#000" stroke-width="1.5" />
<polyline points="143.55,197.23 138.12,200.57 132.7,197.23 132.7,190.57 138.12,187.23 143.55,190.57 143.55,197.23" fill="none" stroke="#000" stroke-width="1.5" />
<polyline points="154.4,197.23 148.98,200.57 143.55,197.23 143.55,190.57 148.98,187.23 154.4,190.57 154.4,197.23" fill="none" stroke="#000" stroke-width="1.5" />
<polyline points="165.25,197.23 159.83,200.57 154.4,197.23 154.4,190.57 159.83,187.23 165.25,190.57 165.25,197.23" fill="none" stroke="#000" stroke-width="1.5" />
<polyline points="176.1,197.23 170.68,200.57 165.25,197.23 165.25,190.57 170.68,187.23 176.1,190.57 176.1,197.23" fill="none" stroke="#000" stroke-width="1.5" />
<polyline points="186.95,197.23 181.53,200.57 176.1,197.23 176.1,190.57 181.53,187.23 186.95,190.57 186.95,197.23" fill="none" stroke="#000" stroke-width="1.5" />
<polyline points="197.8,197.23 192.38,200.57 186.95,197.23 186.95,190.57 192.38,187.23 197.8,190.57 197.8,197.23" fill="none" stroke="#000" stroke-width="1.5" />
<polyline points="208.65,197.23 203.23,200.57 197.8,197.23 197.8,190.57 203.23,187.23 208.65,190.57 208.65,197.23" fill="none" stroke="#000" stroke-width="1.5" />
<polyline points="105.58,207.23 100.15,210.57 94.73,207.23 94.73,200.57 100.15,197.23 105.58,200.57 105.58,207.23" fill="none" stroke="#000" stroke-width="1.5" />
<polyline points="116.42,207.23 111,210.57 105.58,207.23 105.58,200.57 111,197.23 116.42,200.57 116.42,207.23" fill="none" stroke="#000" stroke-width="1.5" />
<polyline points="127.27,207.23 121.85,210.57 116.42,207.23 116.42,200.57 121.85,197.23 127.27,200.57 127.27,207.23" fill="none" stroke="#000" stroke-width="1.5" />
<polyline points="138.12,207.23 132.7,210.57 127.27,207.23 127.27,200.57 132.7,197.23 138.12,200.57 138.12,207.23" fill="none" stroke="#000" stroke-width="1.5" />
<polyline points="148.98,207.23 143.55,210.57 138.12,207.23 138.12,200.57 143.55,197.23 148.98,200.57 148.98,207.23" fill="none" stroke="#000" stroke-width="1.5" />
<polyline points="159.83,207.23 154.4,210.57 148.97,207.23 148.97,200.57 154.4,197.23 159.83,200.57 159.83,207.23" fill="none" stroke="#000" stroke-width="1.5" />
<polyline points="170.68,207.23 165.25,210.57 159.82,207.23 159.82,200.57 165.25,197.23 170.68,200.57 170.68,207.23" fill="none" stroke="#000" stroke-width="1.5" />
<polyline points="181.53,207.23 176.1,210.57 170.67,207.23 170.67,200.57 176.1,197.23 181.53,200.57 181.53,207.23" fill="none" stroke="#000" stroke-width="1.5" />
<polyline points="192.38,207.23 186.95,210.57 181.52,207.23 181.52,200.57 186.95,197.23 192.38,200.57 192.38,207.23" fill="none" stroke="#000" stroke-width="1.5" />
<polyline points="203.23,207.23 197.8,210.57 192.38,207.23 192.38,200.57 197.8,197.23 203.23,200.57 203.23,207.23" fill="none" stroke="#000" stroke-width="1.5" />
<polyline points="124.1,175.5 129.1,172.5 134.1,175.5 139.1,172.5 144.1,175.5 149.1,172.5 154.1,175.5" fill="none" stroke="#0c7a1c" stroke-width="1.4" />
<circle cx="124.1" cy="175.5" r="2.25" fill="url(#gGreen)" />
<circle cx="129.1" cy="172.5" r="2.25" fill="url(#gGreen)" />
<circle cx="134.1" cy="175.5" r="2.25" fill="url(#gGreen)" />
<circle cx="139.1" cy="172.5" r="2.25" fill="url(#gGreen)" />
<circle cx="144.1" cy="175.5" r="2.25" fill="url(#gGreen)" />
<circle cx="149.1" cy="172.5" r="2.25" fill="url(#gGreen)" />
<circle cx="154.1" cy="175.5" r="2.25" fill="url(#gGreen)" />
<line x1="120.4" y1="176.7" x2="115.2" y2="176.7" stroke="#ee1418" stroke-width="1.8" />
<polygon points="111.7,176.7 116.2,174.1 116.2,179.3" fill="#ee1418" stroke="none" stroke-width="1" />
<line x1="159.4" y1="176.7" x2="164.6" y2="176.7" stroke="#ee1418" stroke-width="1.8" />
<polygon points="168.1,176.7 163.6,174.1 163.6,179.3" fill="#ee1418" stroke="none" stroke-width="1" />
</g>
<clipPath id="clipC3"><rect x="24.8" y="217.5" width="66" height="56.5"/></clipPath>
<g clip-path="url(#clipC3)">
<rect x="24.8" y="217.5" width="66" height="56.5" fill="#05080c" stroke="none" stroke-width="1" />
<rect x="24.8" y="217.5" width="66" height="31.6" fill="#27456a" stroke="none" stroke-width="1" />
<circle cx="15.6" cy="212" r="6.3" fill="url(#gBlueD)" />
<circle cx="27.5" cy="212" r="6.3" fill="url(#gBlueD)" />
<circle cx="39.4" cy="212" r="6.3" fill="url(#gBlueD)" />
<circle cx="51.3" cy="212" r="6.3" fill="url(#gBlueD)" />
<circle cx="63.2" cy="212" r="6.3" fill="url(#gBlueD)" />
<circle cx="75.1" cy="212" r="6.3" fill="url(#gBlueD)" />
<circle cx="87" cy="212" r="6.3" fill="url(#gBlueD)" />
<circle cx="98.9" cy="212" r="6.3" fill="url(#gBlueD)" />
<circle cx="110.8" cy="212" r="6.3" fill="url(#gBlueD)" />
<circle cx="21.55" cy="221.2" r="6.4" fill="url(#gBlueC)" stroke="#183050" stroke-width="0.6" stroke-opacity="0.8"/>
<circle cx="33.45" cy="221.2" r="6.4" fill="url(#gBlueC)" stroke="#183050" stroke-width="0.6" stroke-opacity="0.8"/>
<circle cx="45.35" cy="221.2" r="6.4" fill="url(#gBlueC)" stroke="#183050" stroke-width="0.6" stroke-opacity="0.8"/>
<circle cx="57.25" cy="221.2" r="6.4" fill="url(#gBlueC)" stroke="#183050" stroke-width="0.6" stroke-opacity="0.8"/>
<circle cx="69.15" cy="221.2" r="6.4" fill="url(#gBlueC)" stroke="#183050" stroke-width="0.6" stroke-opacity="0.8"/>
<circle cx="81.05" cy="221.2" r="6.4" fill="url(#gBlueC)" stroke="#183050" stroke-width="0.6" stroke-opacity="0.8"/>
<circle cx="92.95" cy="221.2" r="6.4" fill="url(#gBlueC)" stroke="#183050" stroke-width="0.6" stroke-opacity="0.8"/>
<circle cx="104.85" cy="221.2" r="6.4" fill="url(#gBlueC)" stroke="#183050" stroke-width="0.6" stroke-opacity="0.8"/>
<circle cx="116.75" cy="221.2" r="6.4" fill="url(#gBlueC)" stroke="#183050" stroke-width="0.6" stroke-opacity="0.8"/>
<rect x="24.8" y="227.1" width="66" height="22" fill="#8a7e30" stroke="none" stroke-width="1" />
<circle cx="15.3" cy="231.7" r="6.5" fill="url(#gYel)" stroke="#5a5010" stroke-width="0.6" stroke-opacity="0.8"/>
<circle cx="27.5" cy="231.7" r="6.5" fill="url(#gYel)" stroke="#5a5010" stroke-width="0.6" stroke-opacity="0.8"/>
<circle cx="39.7" cy="231.7" r="6.5" fill="url(#gYel)" stroke="#5a5010" stroke-width="0.6" stroke-opacity="0.8"/>
<circle cx="51.9" cy="231.7" r="6.5" fill="url(#gYel)" stroke="#5a5010" stroke-width="0.6" stroke-opacity="0.8"/>
<circle cx="64.1" cy="231.7" r="6.5" fill="url(#gYel)" stroke="#5a5010" stroke-width="0.6" stroke-opacity="0.8"/>
<circle cx="76.3" cy="231.7" r="6.5" fill="url(#gYel)" stroke="#5a5010" stroke-width="0.6" stroke-opacity="0.8"/>
<circle cx="88.5" cy="231.7" r="6.5" fill="url(#gYel)" stroke="#5a5010" stroke-width="0.6" stroke-opacity="0.8"/>
<circle cx="100.7" cy="231.7" r="6.5" fill="url(#gYel)" stroke="#5a5010" stroke-width="0.6" stroke-opacity="0.8"/>
<circle cx="112.9" cy="231.7" r="6.5" fill="url(#gYel)" stroke="#5a5010" stroke-width="0.6" stroke-opacity="0.8"/>
<circle cx="15.3" cy="242.9" r="6.5" fill="url(#gYel)" stroke="#5a5010" stroke-width="0.6" stroke-opacity="0.8"/>
<circle cx="27.5" cy="242.9" r="6.5" fill="url(#gYel)" stroke="#5a5010" stroke-width="0.6" stroke-opacity="0.8"/>
<circle cx="39.7" cy="242.9" r="6.5" fill="url(#gYel)" stroke="#5a5010" stroke-width="0.6" stroke-opacity="0.8"/>
<circle cx="51.9" cy="242.9" r="6.5" fill="url(#gYel)" stroke="#5a5010" stroke-width="0.6" stroke-opacity="0.8"/>
<circle cx="64.1" cy="242.9" r="6.5" fill="url(#gYel)" stroke="#5a5010" stroke-width="0.6" stroke-opacity="0.8"/>
<circle cx="76.3" cy="242.9" r="6.5" fill="url(#gYel)" stroke="#5a5010" stroke-width="0.6" stroke-opacity="0.8"/>
<circle cx="88.5" cy="242.9" r="6.5" fill="url(#gYel)" stroke="#5a5010" stroke-width="0.6" stroke-opacity="0.8"/>
<circle cx="100.7" cy="242.9" r="6.5" fill="url(#gYel)" stroke="#5a5010" stroke-width="0.6" stroke-opacity="0.8"/>
<circle cx="112.9" cy="242.9" r="6.5" fill="url(#gYel)" stroke="#5a5010" stroke-width="0.6" stroke-opacity="0.8"/>
<rect x="24.8" y="249.1" width="66" height="24.9" fill="#05080c" stroke="none" stroke-width="1" />
<circle cx="16.5" cy="253.9" r="4.7" fill="url(#gBlueU)" />
<circle cx="27.8" cy="253.9" r="4.7" fill="url(#gBlueU)" />
<circle cx="39.1" cy="253.9" r="4.7" fill="url(#gBlueU)" />
<circle cx="50.4" cy="253.9" r="4.7" fill="url(#gBlueU)" />
<circle cx="61.7" cy="253.9" r="4.7" fill="url(#gBlueU)" />
<circle cx="73" cy="253.9" r="4.7" fill="url(#gBlueU)" />
<circle cx="84.3" cy="253.9" r="4.7" fill="url(#gBlueU)" />
<circle cx="95.6" cy="253.9" r="4.7" fill="url(#gBlueU)" />
<circle cx="106.9" cy="253.9" r="4.7" fill="url(#gBlueU)" />
<circle cx="118.2" cy="253.9" r="4.7" fill="url(#gBlueU)" />
<circle cx="22.15" cy="262.8" r="4.7" fill="url(#gBlueU)" />
<circle cx="33.45" cy="262.8" r="4.7" fill="url(#gBlueU)" />
<circle cx="44.75" cy="262.8" r="4.7" fill="url(#gBlueU)" />
<circle cx="56.05" cy="262.8" r="4.7" fill="url(#gBlueU)" />
<circle cx="67.35" cy="262.8" r="4.7" fill="url(#gBlueU)" />
<circle cx="78.65" cy="262.8" r="4.7" fill="url(#gBlueU)" />
<circle cx="89.95" cy="262.8" r="4.7" fill="url(#gBlueU)" />
<circle cx="101.25" cy="262.8" r="4.7" fill="url(#gBlueU)" />
<circle cx="112.55" cy="262.8" r="4.7" fill="url(#gBlueU)" />
<circle cx="123.85" cy="262.8" r="4.7" fill="url(#gBlueU)" />
<circle cx="16.5" cy="271.7" r="4.7" fill="url(#gBlueU)" />
<circle cx="27.8" cy="271.7" r="4.7" fill="url(#gBlueU)" />
<circle cx="39.1" cy="271.7" r="4.7" fill="url(#gBlueU)" />
<circle cx="50.4" cy="271.7" r="4.7" fill="url(#gBlueU)" />
<circle cx="61.7" cy="271.7" r="4.7" fill="url(#gBlueU)" />
<circle cx="73" cy="271.7" r="4.7" fill="url(#gBlueU)" />
<circle cx="84.3" cy="271.7" r="4.7" fill="url(#gBlueU)" />
<circle cx="95.6" cy="271.7" r="4.7" fill="url(#gBlueU)" />
<circle cx="106.9" cy="271.7" r="4.7" fill="url(#gBlueU)" />
<circle cx="118.2" cy="271.7" r="4.7" fill="url(#gBlueU)" />
<polyline points="22.15,256.87 16.5,259.83 10.85,256.87 10.85,250.93 16.5,247.97 22.15,250.93 22.15,256.87" fill="none" stroke="#000" stroke-width="1.5" />
<polyline points="33.45,256.87 27.8,259.83 22.15,256.87 22.15,250.93 27.8,247.97 33.45,250.93 33.45,256.87" fill="none" stroke="#000" stroke-width="1.5" />
<polyline points="44.75,256.87 39.1,259.83 33.45,256.87 33.45,250.93 39.1,247.97 44.75,250.93 44.75,256.87" fill="none" stroke="#000" stroke-width="1.5" />
<polyline points="56.05,256.87 50.4,259.83 44.75,256.87 44.75,250.93 50.4,247.97 56.05,250.93 56.05,256.87" fill="none" stroke="#000" stroke-width="1.5" />
<polyline points="67.35,256.87 61.7,259.83 56.05,256.87 56.05,250.93 61.7,247.97 67.35,250.93 67.35,256.87" fill="none" stroke="#000" stroke-width="1.5" />
<polyline points="78.65,256.87 73,259.83 67.35,256.87 67.35,250.93 73,247.97 78.65,250.93 78.65,256.87" fill="none" stroke="#000" stroke-width="1.5" />
<polyline points="89.95,256.87 84.3,259.83 78.65,256.87 78.65,250.93 84.3,247.97 89.95,250.93 89.95,256.87" fill="none" stroke="#000" stroke-width="1.5" />
<polyline points="101.25,256.87 95.6,259.83 89.95,256.87 89.95,250.93 95.6,247.97 101.25,250.93 101.25,256.87" fill="none" stroke="#000" stroke-width="1.5" />
<polyline points="112.55,256.87 106.9,259.83 101.25,256.87 101.25,250.93 106.9,247.97 112.55,250.93 112.55,256.87" fill="none" stroke="#000" stroke-width="1.5" />
<polyline points="123.85,256.87 118.2,259.83 112.55,256.87 112.55,250.93 118.2,247.97 123.85,250.93 123.85,256.87" fill="none" stroke="#000" stroke-width="1.5" />
<polyline points="27.8,265.77 22.15,268.73 16.5,265.77 16.5,259.83 22.15,256.87 27.8,259.83 27.8,265.77" fill="none" stroke="#000" stroke-width="1.5" />
<polyline points="39.1,265.77 33.45,268.73 27.8,265.77 27.8,259.83 33.45,256.87 39.1,259.83 39.1,265.77" fill="none" stroke="#000" stroke-width="1.5" />
<polyline points="50.4,265.77 44.75,268.73 39.1,265.77 39.1,259.83 44.75,256.87 50.4,259.83 50.4,265.77" fill="none" stroke="#000" stroke-width="1.5" />
<polyline points="61.7,265.77 56.05,268.73 50.4,265.77 50.4,259.83 56.05,256.87 61.7,259.83 61.7,265.77" fill="none" stroke="#000" stroke-width="1.5" />
<polyline points="73,265.77 67.35,268.73 61.7,265.77 61.7,259.83 67.35,256.87 73,259.83 73,265.77" fill="none" stroke="#000" stroke-width="1.5" />
<polyline points="84.3,265.77 78.65,268.73 73,265.77 73,259.83 78.65,256.87 84.3,259.83 84.3,265.77" fill="none" stroke="#000" stroke-width="1.5" />
<polyline points="95.6,265.77 89.95,268.73 84.3,265.77 84.3,259.83 89.95,256.87 95.6,259.83 95.6,265.77" fill="none" stroke="#000" stroke-width="1.5" />
<polyline points="106.9,265.77 101.25,268.73 95.6,265.77 95.6,259.83 101.25,256.87 106.9,259.83 106.9,265.77" fill="none" stroke="#000" stroke-width="1.5" />
<polyline points="118.2,265.77 112.55,268.73 106.9,265.77 106.9,259.83 112.55,256.87 118.2,259.83 118.2,265.77" fill="none" stroke="#000" stroke-width="1.5" />
<polyline points="129.5,265.77 123.85,268.73 118.2,265.77 118.2,259.83 123.85,256.87 129.5,259.83 129.5,265.77" fill="none" stroke="#000" stroke-width="1.5" />
<polyline points="22.15,274.67 16.5,277.63 10.85,274.67 10.85,268.73 16.5,265.77 22.15,268.73 22.15,274.67" fill="none" stroke="#000" stroke-width="1.5" />
<polyline points="33.45,274.67 27.8,277.63 22.15,274.67 22.15,268.73 27.8,265.77 33.45,268.73 33.45,274.67" fill="none" stroke="#000" stroke-width="1.5" />
<polyline points="44.75,274.67 39.1,277.63 33.45,274.67 33.45,268.73 39.1,265.77 44.75,268.73 44.75,274.67" fill="none" stroke="#000" stroke-width="1.5" />
<polyline points="56.05,274.67 50.4,277.63 44.75,274.67 44.75,268.73 50.4,265.77 56.05,268.73 56.05,274.67" fill="none" stroke="#000" stroke-width="1.5" />
<polyline points="67.35,274.67 61.7,277.63 56.05,274.67 56.05,268.73 61.7,265.77 67.35,268.73 67.35,274.67" fill="none" stroke="#000" stroke-width="1.5" />
<polyline points="78.65,274.67 73,277.63 67.35,274.67 67.35,268.73 73,265.77 78.65,268.73 78.65,274.67" fill="none" stroke="#000" stroke-width="1.5" />
<polyline points="89.95,274.67 84.3,277.63 78.65,274.67 78.65,268.73 84.3,265.77 89.95,268.73 89.95,274.67" fill="none" stroke="#000" stroke-width="1.5" />
<polyline points="101.25,274.67 95.6,277.63 89.95,274.67 89.95,268.73 95.6,265.77 101.25,268.73 101.25,274.67" fill="none" stroke="#000" stroke-width="1.5" />
<polyline points="112.55,274.67 106.9,277.63 101.25,274.67 101.25,268.73 106.9,265.77 112.55,268.73 112.55,274.67" fill="none" stroke="#000" stroke-width="1.5" />
<polyline points="123.85,274.67 118.2,277.63 112.55,274.67 112.55,268.73 118.2,265.77 123.85,268.73 123.85,274.67" fill="none" stroke="#000" stroke-width="1.5" />
<polyline points="52,242.8 57,239.9 62.3,242.5" fill="none" stroke="#0c7a1c" stroke-width="1.4" />
<circle cx="52" cy="242.8" r="2.25" fill="url(#gGreen)" />
<circle cx="57" cy="239.9" r="2.25" fill="url(#gGreen)" />
<circle cx="62.3" cy="242.5" r="2.25" fill="url(#gGreen)" />
<line x1="47.3" y1="244.5" x2="40.8" y2="244.5" stroke="#ee1418" stroke-width="1.8" />
<polygon points="37.3,244.5 41.8,241.9 41.8,247.1" fill="#ee1418" stroke="none" stroke-width="1" />
<line x1="68.3" y1="244.5" x2="74.8" y2="244.5" stroke="#ee1418" stroke-width="1.8" />
<polygon points="78.3,244.5 73.8,241.9 73.8,247.1" fill="#ee1418" stroke="none" stroke-width="1" />
</g>
<clipPath id="clipC4"><rect x="108" y="217.5" width="63.8" height="56.5"/></clipPath>
<g clip-path="url(#clipC4)">
<rect x="108" y="217.5" width="63.8" height="56.5" fill="#05080c" stroke="none" stroke-width="1" />
<rect x="108" y="217.5" width="63.8" height="31.6" fill="#27456a" stroke="none" stroke-width="1" />
<circle cx="98.8" cy="212" r="6.3" fill="url(#gBlueD)" />
<circle cx="110.7" cy="212" r="6.3" fill="url(#gBlueD)" />
<circle cx="122.6" cy="212" r="6.3" fill="url(#gBlueD)" />
<circle cx="134.5" cy="212" r="6.3" fill="url(#gBlueD)" />
<circle cx="146.4" cy="212" r="6.3" fill="url(#gBlueD)" />
<circle cx="158.3" cy="212" r="6.3" fill="url(#gBlueD)" />
<circle cx="170.2" cy="212" r="6.3" fill="url(#gBlueD)" />
<circle cx="182.1" cy="212" r="6.3" fill="url(#gBlueD)" />
<circle cx="194" cy="212" r="6.3" fill="url(#gBlueD)" />
<circle cx="104.75" cy="221.2" r="6.4" fill="url(#gBlueC)" stroke="#183050" stroke-width="0.6" stroke-opacity="0.8"/>
<circle cx="116.65" cy="221.2" r="6.4" fill="url(#gBlueC)" stroke="#183050" stroke-width="0.6" stroke-opacity="0.8"/>
<circle cx="128.55" cy="221.2" r="6.4" fill="url(#gBlueC)" stroke="#183050" stroke-width="0.6" stroke-opacity="0.8"/>
<circle cx="140.45" cy="221.2" r="6.4" fill="url(#gBlueC)" stroke="#183050" stroke-width="0.6" stroke-opacity="0.8"/>
<circle cx="152.35" cy="221.2" r="6.4" fill="url(#gBlueC)" stroke="#183050" stroke-width="0.6" stroke-opacity="0.8"/>
<circle cx="164.25" cy="221.2" r="6.4" fill="url(#gBlueC)" stroke="#183050" stroke-width="0.6" stroke-opacity="0.8"/>
<circle cx="176.15" cy="221.2" r="6.4" fill="url(#gBlueC)" stroke="#183050" stroke-width="0.6" stroke-opacity="0.8"/>
<circle cx="188.05" cy="221.2" r="6.4" fill="url(#gBlueC)" stroke="#183050" stroke-width="0.6" stroke-opacity="0.8"/>
<circle cx="199.95" cy="221.2" r="6.4" fill="url(#gBlueC)" stroke="#183050" stroke-width="0.6" stroke-opacity="0.8"/>
<rect x="108" y="227.1" width="63.8" height="22" fill="#8a7e30" stroke="none" stroke-width="1" />
<circle cx="98.5" cy="231.7" r="6.5" fill="url(#gYel)" stroke="#5a5010" stroke-width="0.6" stroke-opacity="0.8"/>
<circle cx="110.7" cy="231.7" r="6.5" fill="url(#gYel)" stroke="#5a5010" stroke-width="0.6" stroke-opacity="0.8"/>
<circle cx="122.9" cy="231.7" r="6.5" fill="url(#gYel)" stroke="#5a5010" stroke-width="0.6" stroke-opacity="0.8"/>
<circle cx="135.1" cy="231.7" r="6.5" fill="url(#gYel)" stroke="#5a5010" stroke-width="0.6" stroke-opacity="0.8"/>
<circle cx="147.3" cy="231.7" r="6.5" fill="url(#gYel)" stroke="#5a5010" stroke-width="0.6" stroke-opacity="0.8"/>
<circle cx="159.5" cy="231.7" r="6.5" fill="url(#gYel)" stroke="#5a5010" stroke-width="0.6" stroke-opacity="0.8"/>
<circle cx="171.7" cy="231.7" r="6.5" fill="url(#gYel)" stroke="#5a5010" stroke-width="0.6" stroke-opacity="0.8"/>
<circle cx="183.9" cy="231.7" r="6.5" fill="url(#gYel)" stroke="#5a5010" stroke-width="0.6" stroke-opacity="0.8"/>
<circle cx="196.1" cy="231.7" r="6.5" fill="url(#gYel)" stroke="#5a5010" stroke-width="0.6" stroke-opacity="0.8"/>
<circle cx="98.5" cy="242.9" r="6.5" fill="url(#gYel)" stroke="#5a5010" stroke-width="0.6" stroke-opacity="0.8"/>
<circle cx="110.7" cy="242.9" r="6.5" fill="url(#gYel)" stroke="#5a5010" stroke-width="0.6" stroke-opacity="0.8"/>
<circle cx="122.9" cy="242.9" r="6.5" fill="url(#gYel)" stroke="#5a5010" stroke-width="0.6" stroke-opacity="0.8"/>
<circle cx="135.1" cy="242.9" r="6.5" fill="url(#gYel)" stroke="#5a5010" stroke-width="0.6" stroke-opacity="0.8"/>
<circle cx="147.3" cy="242.9" r="6.5" fill="url(#gYel)" stroke="#5a5010" stroke-width="0.6" stroke-opacity="0.8"/>
<circle cx="159.5" cy="242.9" r="6.5" fill="url(#gYel)" stroke="#5a5010" stroke-width="0.6" stroke-opacity="0.8"/>
<circle cx="171.7" cy="242.9" r="6.5" fill="url(#gYel)" stroke="#5a5010" stroke-width="0.6" stroke-opacity="0.8"/>
<circle cx="183.9" cy="242.9" r="6.5" fill="url(#gYel)" stroke="#5a5010" stroke-width="0.6" stroke-opacity="0.8"/>
<circle cx="196.1" cy="242.9" r="6.5" fill="url(#gYel)" stroke="#5a5010" stroke-width="0.6" stroke-opacity="0.8"/>
<rect x="108" y="249.1" width="63.8" height="24.9" fill="#05080c" stroke="none" stroke-width="1" />
<circle cx="99.7" cy="253.9" r="4.7" fill="url(#gBlueU)" />
<circle cx="111" cy="253.9" r="4.7" fill="url(#gBlueU)" />
<circle cx="122.3" cy="253.9" r="4.7" fill="url(#gBlueU)" />
<circle cx="133.6" cy="253.9" r="4.7" fill="url(#gBlueU)" />
<circle cx="144.9" cy="253.9" r="4.7" fill="url(#gBlueU)" />
<circle cx="156.2" cy="253.9" r="4.7" fill="url(#gBlueU)" />
<circle cx="167.5" cy="253.9" r="4.7" fill="url(#gBlueU)" />
<circle cx="178.8" cy="253.9" r="4.7" fill="url(#gBlueU)" />
<circle cx="190.1" cy="253.9" r="4.7" fill="url(#gBlueU)" />
<circle cx="201.4" cy="253.9" r="4.7" fill="url(#gBlueU)" />
<circle cx="105.35" cy="262.8" r="4.7" fill="url(#gBlueU)" />
<circle cx="116.65" cy="262.8" r="4.7" fill="url(#gBlueU)" />
<circle cx="127.95" cy="262.8" r="4.7" fill="url(#gBlueU)" />
<circle cx="139.25" cy="262.8" r="4.7" fill="url(#gBlueU)" />
<circle cx="150.55" cy="262.8" r="4.7" fill="url(#gBlueU)" />
<circle cx="161.85" cy="262.8" r="4.7" fill="url(#gBlueU)" />
<circle cx="173.15" cy="262.8" r="4.7" fill="url(#gBlueU)" />
<circle cx="184.45" cy="262.8" r="4.7" fill="url(#gBlueU)" />
<circle cx="195.75" cy="262.8" r="4.7" fill="url(#gBlueU)" />
<circle cx="207.05" cy="262.8" r="4.7" fill="url(#gBlueU)" />
<circle cx="99.7" cy="271.7" r="4.7" fill="url(#gBlueU)" />
<circle cx="111" cy="271.7" r="4.7" fill="url(#gBlueU)" />
<circle cx="122.3" cy="271.7" r="4.7" fill="url(#gBlueU)" />
<circle cx="133.6" cy="271.7" r="4.7" fill="url(#gBlueU)" />
<circle cx="144.9" cy="271.7" r="4.7" fill="url(#gBlueU)" />
<circle cx="156.2" cy="271.7" r="4.7" fill="url(#gBlueU)" />
<circle cx="167.5" cy="271.7" r="4.7" fill="url(#gBlueU)" />
<circle cx="178.8" cy="271.7" r="4.7" fill="url(#gBlueU)" />
<circle cx="190.1" cy="271.7" r="4.7" fill="url(#gBlueU)" />
<circle cx="201.4" cy="271.7" r="4.7" fill="url(#gBlueU)" />
<polyline points="105.35,256.87 99.7,259.83 94.05,256.87 94.05,250.93 99.7,247.97 105.35,250.93 105.35,256.87" fill="none" stroke="#000" stroke-width="1.5" />
<polyline points="116.65,256.87 111,259.83 105.35,256.87 105.35,250.93 111,247.97 116.65,250.93 116.65,256.87" fill="none" stroke="#000" stroke-width="1.5" />
<polyline points="127.95,256.87 122.3,259.83 116.65,256.87 116.65,250.93 122.3,247.97 127.95,250.93 127.95,256.87" fill="none" stroke="#000" stroke-width="1.5" />
<polyline points="139.25,256.87 133.6,259.83 127.95,256.87 127.95,250.93 133.6,247.97 139.25,250.93 139.25,256.87" fill="none" stroke="#000" stroke-width="1.5" />
<polyline points="150.55,256.87 144.9,259.83 139.25,256.87 139.25,250.93 144.9,247.97 150.55,250.93 150.55,256.87" fill="none" stroke="#000" stroke-width="1.5" />
<polyline points="161.85,256.87 156.2,259.83 150.55,256.87 150.55,250.93 156.2,247.97 161.85,250.93 161.85,256.87" fill="none" stroke="#000" stroke-width="1.5" />
<polyline points="173.15,256.87 167.5,259.83 161.85,256.87 161.85,250.93 167.5,247.97 173.15,250.93 173.15,256.87" fill="none" stroke="#000" stroke-width="1.5" />
<polyline points="184.45,256.87 178.8,259.83 173.15,256.87 173.15,250.93 178.8,247.97 184.45,250.93 184.45,256.87" fill="none" stroke="#000" stroke-width="1.5" />
<polyline points="195.75,256.87 190.1,259.83 184.45,256.87 184.45,250.93 190.1,247.97 195.75,250.93 195.75,256.87" fill="none" stroke="#000" stroke-width="1.5" />
<polyline points="207.05,256.87 201.4,259.83 195.75,256.87 195.75,250.93 201.4,247.97 207.05,250.93 207.05,256.87" fill="none" stroke="#000" stroke-width="1.5" />
<polyline points="111,265.77 105.35,268.73 99.7,265.77 99.7,259.83 105.35,256.87 111,259.83 111,265.77" fill="none" stroke="#000" stroke-width="1.5" />
<polyline points="122.3,265.77 116.65,268.73 111,265.77 111,259.83 116.65,256.87 122.3,259.83 122.3,265.77" fill="none" stroke="#000" stroke-width="1.5" />
<polyline points="133.6,265.77 127.95,268.73 122.3,265.77 122.3,259.83 127.95,256.87 133.6,259.83 133.6,265.77" fill="none" stroke="#000" stroke-width="1.5" />
<polyline points="144.9,265.77 139.25,268.73 133.6,265.77 133.6,259.83 139.25,256.87 144.9,259.83 144.9,265.77" fill="none" stroke="#000" stroke-width="1.5" />
<polyline points="156.2,265.77 150.55,268.73 144.9,265.77 144.9,259.83 150.55,256.87 156.2,259.83 156.2,265.77" fill="none" stroke="#000" stroke-width="1.5" />
<polyline points="167.5,265.77 161.85,268.73 156.2,265.77 156.2,259.83 161.85,256.87 167.5,259.83 167.5,265.77" fill="none" stroke="#000" stroke-width="1.5" />
<polyline points="178.8,265.77 173.15,268.73 167.5,265.77 167.5,259.83 173.15,256.87 178.8,259.83 178.8,265.77" fill="none" stroke="#000" stroke-width="1.5" />
<polyline points="190.1,265.77 184.45,268.73 178.8,265.77 178.8,259.83 184.45,256.87 190.1,259.83 190.1,265.77" fill="none" stroke="#000" stroke-width="1.5" />
<polyline points="201.4,265.77 195.75,268.73 190.1,265.77 190.1,259.83 195.75,256.87 201.4,259.83 201.4,265.77" fill="none" stroke="#000" stroke-width="1.5" />
<polyline points="212.7,265.77 207.05,268.73 201.4,265.77 201.4,259.83 207.05,256.87 212.7,259.83 212.7,265.77" fill="none" stroke="#000" stroke-width="1.5" />
<polyline points="105.35,274.67 99.7,277.63 94.05,274.67 94.05,268.73 99.7,265.77 105.35,268.73 105.35,274.67" fill="none" stroke="#000" stroke-width="1.5" />
<polyline points="116.65,274.67 111,277.63 105.35,274.67 105.35,268.73 111,265.77 116.65,268.73 116.65,274.67" fill="none" stroke="#000" stroke-width="1.5" />
<polyline points="127.95,274.67 122.3,277.63 116.65,274.67 116.65,268.73 122.3,265.77 127.95,268.73 127.95,274.67" fill="none" stroke="#000" stroke-width="1.5" />
<polyline points="139.25,274.67 133.6,277.63 127.95,274.67 127.95,268.73 133.6,265.77 139.25,268.73 139.25,274.67" fill="none" stroke="#000" stroke-width="1.5" />
<polyline points="150.55,274.67 144.9,277.63 139.25,274.67 139.25,268.73 144.9,265.77 150.55,268.73 150.55,274.67" fill="none" stroke="#000" stroke-width="1.5" />
<polyline points="161.85,274.67 156.2,277.63 150.55,274.67 150.55,268.73 156.2,265.77 161.85,268.73 161.85,274.67" fill="none" stroke="#000" stroke-width="1.5" />
<polyline points="173.15,274.67 167.5,277.63 161.85,274.67 161.85,268.73 167.5,265.77 173.15,268.73 173.15,274.67" fill="none" stroke="#000" stroke-width="1.5" />
<polyline points="184.45,274.67 178.8,277.63 173.15,274.67 173.15,268.73 178.8,265.77 184.45,268.73 184.45,274.67" fill="none" stroke="#000" stroke-width="1.5" />
<polyline points="195.75,274.67 190.1,277.63 184.45,274.67 184.45,268.73 190.1,265.77 195.75,268.73 195.75,274.67" fill="none" stroke="#000" stroke-width="1.5" />
<polyline points="207.05,274.67 201.4,277.63 195.75,274.67 195.75,268.73 201.4,265.77 207.05,268.73 207.05,274.67" fill="none" stroke="#000" stroke-width="1.5" />
<polyline points="124.1,243.3 129.1,240.3 134.1,243.3 139.1,240.3 144.1,243.3 149.1,240.3 154.1,243.3" fill="none" stroke="#0c7a1c" stroke-width="1.4" />
<circle cx="124.1" cy="243.3" r="2.25" fill="url(#gGreen)" />
<circle cx="129.1" cy="240.3" r="2.25" fill="url(#gGreen)" />
<circle cx="134.1" cy="243.3" r="2.25" fill="url(#gGreen)" />
<circle cx="139.1" cy="240.3" r="2.25" fill="url(#gGreen)" />
<circle cx="144.1" cy="243.3" r="2.25" fill="url(#gGreen)" />
<circle cx="149.1" cy="240.3" r="2.25" fill="url(#gGreen)" />
<circle cx="154.1" cy="243.3" r="2.25" fill="url(#gGreen)" />
<line x1="120.4" y1="244.5" x2="113.9" y2="244.5" stroke="#ee1418" stroke-width="1.8" />
<polygon points="110.4,244.5 114.9,241.9 114.9,247.1" fill="#ee1418" stroke="none" stroke-width="1" />
<line x1="159.4" y1="244.5" x2="165.9" y2="244.5" stroke="#ee1418" stroke-width="1.8" />
<polygon points="169.4,244.5 164.9,241.9 164.9,247.1" fill="#ee1418" stroke="none" stroke-width="1" />
</g>
<polygon points="92.6,175.4 100.1,175.4 100.1,172.6 106.2,177.6 100.1,182.6 100.1,179.8 92.6,179.8" fill="#d4ecfa" stroke="#7cc0e6" stroke-width="0.9" />
<polygon points="92.6,244 100.1,244 100.1,241.2 106.2,246.2 100.1,251.2 100.1,248.4 92.6,248.4" fill="#d4ecfa" stroke="#7cc0e6" stroke-width="0.9" />
<text x="16.5" y="183" font-size="10.6" text-anchor="middle" font-weight="bold" fill="#000" transform="rotate(-90 16.5 183)" >Pt(111)</text>
<text x="16.5" y="247.5" font-size="10.6" text-anchor="middle" font-weight="bold" fill="#000" transform="rotate(-90 16.5 247.5)" >Pt-TB 60<tspan dy="-3" font-size="7">o</tspan></text>
<text x="56.8" y="287.2" font-size="10.6" text-anchor="middle" font-weight="bold" fill="#000" >C<tspan dy="2" font-size="6.5">N</tspan><tspan dy="-2"> = 3</tspan></text>
<text x="137" y="287.2" font-size="10.6" text-anchor="middle" font-weight="bold" fill="#000" >C<tspan dy="2" font-size="6.5">N</tspan><tspan dy="-2"> = 7</tspan></text>
</g>
<g id="pd">
<text x="188" y="150.3" font-size="11.5" text-anchor="start" font-weight="bold" fill="#000" >d</text>
<rect x="213.3" y="148.4" width="142" height="113.6" fill="#fff" stroke="#111" stroke-width="1.2" />
<line x1="213.3" y1="262" x2="213.3" y2="259" stroke="#111" stroke-width="1" />
<text x="213.3" y="272.8" font-size="7.8" text-anchor="middle" font-weight="normal" fill="#111" stroke="#111" stroke-width="0.16" >0</text>
<line x1="221.12" y1="262" x2="221.12" y2="260.2" stroke="#111" stroke-width="0.9" />
<line x1="228.94" y1="262" x2="228.94" y2="259" stroke="#111" stroke-width="1" />
<text x="228.94" y="272.8" font-size="7.8" text-anchor="middle" font-weight="normal" fill="#111" stroke="#111" stroke-width="0.16" >2</text>
<line x1="236.76" y1="262" x2="236.76" y2="260.2" stroke="#111" stroke-width="0.9" />
<line x1="244.58" y1="262" x2="244.58" y2="259" stroke="#111" stroke-width="1" />
<text x="244.58" y="272.8" font-size="7.8" text-anchor="middle" font-weight="normal" fill="#111" stroke="#111" stroke-width="0.16" >4</text>
<line x1="252.4" y1="262" x2="252.4" y2="260.2" stroke="#111" stroke-width="0.9" />
<line x1="260.22" y1="262" x2="260.22" y2="259" stroke="#111" stroke-width="1" />
<text x="260.22" y="272.8" font-size="7.8" text-anchor="middle" font-weight="normal" fill="#111" stroke="#111" stroke-width="0.16" >6</text>
<line x1="268.04" y1="262" x2="268.04" y2="260.2" stroke="#111" stroke-width="0.9" />
<line x1="275.86" y1="262" x2="275.86" y2="259" stroke="#111" stroke-width="1" />
<text x="275.86" y="272.8" font-size="7.8" text-anchor="middle" font-weight="normal" fill="#111" stroke="#111" stroke-width="0.16" >8</text>
<line x1="283.68" y1="262" x2="283.68" y2="260.2" stroke="#111" stroke-width="0.9" />
<line x1="291.5" y1="262" x2="291.5" y2="259" stroke="#111" stroke-width="1" />
<text x="291.5" y="272.8" font-size="7.8" text-anchor="middle" font-weight="normal" fill="#111" stroke="#111" stroke-width="0.16" >10</text>
<line x1="299.32" y1="262" x2="299.32" y2="260.2" stroke="#111" stroke-width="0.9" />
<line x1="307.14" y1="262" x2="307.14" y2="259" stroke="#111" stroke-width="1" />
<text x="307.14" y="272.8" font-size="7.8" text-anchor="middle" font-weight="normal" fill="#111" stroke="#111" stroke-width="0.16" >12</text>
<line x1="314.96" y1="262" x2="314.96" y2="260.2" stroke="#111" stroke-width="0.9" />
<line x1="322.78" y1="262" x2="322.78" y2="259" stroke="#111" stroke-width="1" />
<text x="322.78" y="272.8" font-size="7.8" text-anchor="middle" font-weight="normal" fill="#111" stroke="#111" stroke-width="0.16" >14</text>
<line x1="330.6" y1="262" x2="330.6" y2="260.2" stroke="#111" stroke-width="0.9" />
<line x1="338.42" y1="262" x2="338.42" y2="259" stroke="#111" stroke-width="1" />
<text x="338.42" y="272.8" font-size="7.8" text-anchor="middle" font-weight="normal" fill="#111" stroke="#111" stroke-width="0.16" >16</text>
<line x1="346.24" y1="262" x2="346.24" y2="260.2" stroke="#111" stroke-width="0.9" />
<line x1="354.06" y1="262" x2="354.06" y2="259" stroke="#111" stroke-width="1" />
<text x="354.06" y="272.8" font-size="7.8" text-anchor="middle" font-weight="normal" fill="#111" stroke="#111" stroke-width="0.16" >18</text>
<line x1="213.3" y1="148.24" x2="216.3" y2="148.24" stroke="#111" stroke-width="1" />
<text x="209.9" y="150.64" font-size="7.8" text-anchor="end" font-weight="normal" fill="#111" stroke="#111" stroke-width="0.16" >2</text>
<line x1="213.3" y1="157.72" x2="215.1" y2="157.72" stroke="#111" stroke-width="0.9" />
<line x1="213.3" y1="167.2" x2="216.3" y2="167.2" stroke="#111" stroke-width="1" />
<text x="209.9" y="169.6" font-size="7.8" text-anchor="end" font-weight="normal" fill="#111" stroke="#111" stroke-width="0.16" >0</text>
<line x1="213.3" y1="176.68" x2="215.1" y2="176.68" stroke="#111" stroke-width="0.9" />
<line x1="213.3" y1="186.16" x2="216.3" y2="186.16" stroke="#111" stroke-width="1" />
<text x="209.9" y="188.56" font-size="7.8" text-anchor="end" font-weight="normal" fill="#111" stroke="#111" stroke-width="0.16" >-2</text>
<line x1="213.3" y1="195.64" x2="215.1" y2="195.64" stroke="#111" stroke-width="0.9" />
<line x1="213.3" y1="205.12" x2="216.3" y2="205.12" stroke="#111" stroke-width="1" />
<text x="209.9" y="207.52" font-size="7.8" text-anchor="end" font-weight="normal" fill="#111" stroke="#111" stroke-width="0.16" >-4</text>
<line x1="213.3" y1="214.6" x2="215.1" y2="214.6" stroke="#111" stroke-width="0.9" />
<line x1="213.3" y1="224.08" x2="216.3" y2="224.08" stroke="#111" stroke-width="1" />
<text x="209.9" y="226.48" font-size="7.8" text-anchor="end" font-weight="normal" fill="#111" stroke="#111" stroke-width="0.16" >-6</text>
<line x1="213.3" y1="233.56" x2="215.1" y2="233.56" stroke="#111" stroke-width="0.9" />
<line x1="213.3" y1="243.04" x2="216.3" y2="243.04" stroke="#111" stroke-width="1" />
<text x="209.9" y="245.44" font-size="7.8" text-anchor="end" font-weight="normal" fill="#111" stroke="#111" stroke-width="0.16" >-8</text>
<line x1="213.3" y1="252.52" x2="215.1" y2="252.52" stroke="#111" stroke-width="0.9" />
<line x1="213.3" y1="262" x2="216.3" y2="262" stroke="#111" stroke-width="1" />
<text x="209.9" y="264.4" font-size="7.8" text-anchor="end" font-weight="normal" fill="#111" stroke="#111" stroke-width="0.16" >-10</text>
<text x="194.5" y="211.5" font-size="11" text-anchor="middle" font-weight="normal" fill="#111" stroke="#111" stroke-width="0.16" transform="rotate(-90 194.5 211.5)" >ΔG<tspan dy="2.5" font-size="6.5">F</tspan><tspan dy="-2.5"> (eV)</tspan></text>
<text x="284" y="286.5" font-size="9.7" text-anchor="middle" font-weight="normal" fill="#111" stroke="#111" stroke-width="0.16" >Number of C atoms C<tspan dy="2" font-size="6">N</tspan><tspan dy="-2"> (a.u.)</tspan></text>
<line x1="213.3" y1="167.2" x2="355.3" y2="167.2" stroke="#111" stroke-width="0.9" stroke-dasharray="2.2,2"/>
<polyline points="213.3,167.2 221.12,166.25 228.94,166.25 236.76,152.98 244.58,159.62 252.4,162.46 260.22,158.67 268.04,161.51 275.86,157.72 283.68,161.51 291.5,158.67 299.32,160.56 307.14,158.67 314.96,161.51 322.78,159.62 330.6,163.41 338.42,160.09 346.24,165.3 354.06,167.2" fill="none" stroke="#ea74e2" stroke-width="1.1" />
<circle cx="213.3" cy="167.2" r="2.7" fill="url(#gMag)" />
<circle cx="221.12" cy="166.25" r="2.7" fill="url(#gMag)" />
<circle cx="228.94" cy="166.25" r="2.7" fill="url(#gMag)" />
<circle cx="236.76" cy="152.98" r="2.7" fill="url(#gMag)" />
<circle cx="244.58" cy="159.62" r="2.7" fill="url(#gMag)" />
<circle cx="252.4" cy="162.46" r="2.7" fill="url(#gMag)" />
<circle cx="260.22" cy="158.67" r="2.7" fill="url(#gMag)" />
<circle cx="268.04" cy="161.51" r="2.7" fill="url(#gMag)" />
<circle cx="275.86" cy="157.72" r="2.7" fill="url(#gMag)" />
<circle cx="283.68" cy="161.51" r="2.7" fill="url(#gMag)" />
<circle cx="291.5" cy="158.67" r="2.7" fill="url(#gMag)" />
<circle cx="299.32" cy="160.56" r="2.7" fill="url(#gMag)" />
<circle cx="307.14" cy="158.67" r="2.7" fill="url(#gMag)" />
<circle cx="314.96" cy="161.51" r="2.7" fill="url(#gMag)" />
<circle cx="322.78" cy="159.62" r="2.7" fill="url(#gMag)" />
<circle cx="330.6" cy="163.41" r="2.7" fill="url(#gMag)" />
<circle cx="338.42" cy="160.09" r="2.7" fill="url(#gMag)" />
<circle cx="346.24" cy="165.3" r="2.7" fill="url(#gMag)" />
<circle cx="354.06" cy="167.2" r="2.7" fill="url(#gMag)" />
<polyline points="213.3,167.2 221.12,166.25 228.94,165.3 236.76,154.88 244.58,156.77 252.4,162.46 260.22,155.82 268.04,161.51 275.86,157.72 283.68,161.51 291.5,158.67 299.32,160.56 307.14,158.67 314.96,161.51 322.78,159.62 330.6,163.41 338.42,160.56 346.24,165.3 354.06,167.2" fill="none" stroke="#1a6a1a" stroke-width="1.1" />
<circle cx="213.3" cy="167.2" r="2.7" fill="url(#gDG)" />
<circle cx="221.12" cy="166.25" r="2.7" fill="url(#gDG)" />
<circle cx="228.94" cy="165.3" r="2.7" fill="url(#gDG)" />
<circle cx="236.76" cy="154.88" r="2.7" fill="url(#gDG)" />
<circle cx="244.58" cy="156.77" r="2.7" fill="url(#gDG)" />
<circle cx="252.4" cy="162.46" r="2.7" fill="url(#gDG)" />
<circle cx="260.22" cy="155.82" r="2.7" fill="url(#gDG)" />
<circle cx="268.04" cy="161.51" r="2.7" fill="url(#gDG)" />
<circle cx="275.86" cy="157.72" r="2.7" fill="url(#gDG)" />
<circle cx="283.68" cy="161.51" r="2.7" fill="url(#gDG)" />
<circle cx="291.5" cy="158.67" r="2.7" fill="url(#gDG)" />
<circle cx="299.32" cy="160.56" r="2.7" fill="url(#gDG)" />
<circle cx="307.14" cy="158.67" r="2.7" fill="url(#gDG)" />
<circle cx="314.96" cy="161.51" r="2.7" fill="url(#gDG)" />
<circle cx="322.78" cy="159.62" r="2.7" fill="url(#gDG)" />
<circle cx="330.6" cy="163.41" r="2.7" fill="url(#gDG)" />
<circle cx="338.42" cy="160.56" r="2.7" fill="url(#gDG)" />
<circle cx="346.24" cy="165.3" r="2.7" fill="url(#gDG)" />
<circle cx="354.06" cy="167.2" r="2.7" fill="url(#gDG)" />
<polyline points="213.3,167.2 221.12,170.99 228.94,174.78 236.76,169.1 244.58,175.73 252.4,186.16 260.22,184.26 268.04,194.69 275.86,195.64 283.68,204.17 291.5,206.07 299.32,212.7 307.14,215.55 314.96,223.13 322.78,225.98 330.6,234.51 338.42,236.4 346.24,245.88 354.06,252.52" fill="none" stroke="#1a6a1a" stroke-width="1.1" />
<circle cx="213.3" cy="167.2" r="2.7" fill="url(#gDG)" />
<circle cx="221.12" cy="170.99" r="2.7" fill="url(#gDG)" />
<circle cx="228.94" cy="174.78" r="2.7" fill="url(#gDG)" />
<circle cx="236.76" cy="169.1" r="2.7" fill="url(#gDG)" />
<circle cx="244.58" cy="175.73" r="2.7" fill="url(#gDG)" />
<circle cx="252.4" cy="186.16" r="2.7" fill="url(#gDG)" />
<circle cx="260.22" cy="184.26" r="2.7" fill="url(#gDG)" />
<circle cx="268.04" cy="194.69" r="2.7" fill="url(#gDG)" />
<circle cx="275.86" cy="195.64" r="2.7" fill="url(#gDG)" />
<circle cx="283.68" cy="204.17" r="2.7" fill="url(#gDG)" />
<circle cx="291.5" cy="206.07" r="2.7" fill="url(#gDG)" />
<circle cx="299.32" cy="212.7" r="2.7" fill="url(#gDG)" />
<circle cx="307.14" cy="215.55" r="2.7" fill="url(#gDG)" />
<circle cx="314.96" cy="223.13" r="2.7" fill="url(#gDG)" />
<circle cx="322.78" cy="225.98" r="2.7" fill="url(#gDG)" />
<circle cx="330.6" cy="234.51" r="2.7" fill="url(#gDG)" />
<circle cx="338.42" cy="236.4" r="2.7" fill="url(#gDG)" />
<circle cx="346.24" cy="245.88" r="2.7" fill="url(#gDG)" />
<circle cx="354.06" cy="252.52" r="2.7" fill="url(#gDG)" />
<polyline points="213.3,167.2 221.12,170.99 228.94,175.73 236.76,167.2 244.58,178.58 252.4,186.16 260.22,187.11 268.04,194.69 275.86,195.64 283.68,204.17 291.5,206.07 299.32,212.7 307.14,215.55 314.96,223.13 322.78,225.98 330.6,234.51 338.42,235.93 346.24,245.88 354.06,252.52" fill="none" stroke="#ea74e2" stroke-width="1.1" />
<circle cx="213.3" cy="167.2" r="2.7" fill="url(#gMag)" />
<circle cx="221.12" cy="170.99" r="2.7" fill="url(#gMag)" />
<circle cx="228.94" cy="175.73" r="2.7" fill="url(#gMag)" />
<circle cx="236.76" cy="167.2" r="2.7" fill="url(#gMag)" />
<circle cx="244.58" cy="178.58" r="2.7" fill="url(#gMag)" />
<circle cx="252.4" cy="186.16" r="2.7" fill="url(#gMag)" />
<circle cx="260.22" cy="187.11" r="2.7" fill="url(#gMag)" />
<circle cx="268.04" cy="194.69" r="2.7" fill="url(#gMag)" />
<circle cx="275.86" cy="195.64" r="2.7" fill="url(#gMag)" />
<circle cx="283.68" cy="204.17" r="2.7" fill="url(#gMag)" />
<circle cx="291.5" cy="206.07" r="2.7" fill="url(#gMag)" />
<circle cx="299.32" cy="212.7" r="2.7" fill="url(#gMag)" />
<circle cx="307.14" cy="215.55" r="2.7" fill="url(#gMag)" />
<circle cx="314.96" cy="223.13" r="2.7" fill="url(#gMag)" />
<circle cx="322.78" cy="225.98" r="2.7" fill="url(#gMag)" />
<circle cx="330.6" cy="234.51" r="2.7" fill="url(#gMag)" />
<circle cx="338.42" cy="235.93" r="2.7" fill="url(#gMag)" />
<circle cx="346.24" cy="245.88" r="2.7" fill="url(#gMag)" />
<circle cx="354.06" cy="252.52" r="2.7" fill="url(#gMag)" />
<line x1="288.3" y1="182.8" x2="310.8" y2="182.8" stroke="#ea74e2" stroke-width="1.1" />
<circle cx="299.5" cy="182.8" r="2.6" fill="url(#gMag)" />
<line x1="288.3" y1="193.8" x2="310.8" y2="193.8" stroke="#1a6a1a" stroke-width="1.1" />
<circle cx="299.5" cy="193.8" r="2.6" fill="url(#gDG)" />
<text x="312.4" y="186" font-size="8.5" text-anchor="start" font-weight="normal" fill="#111" stroke="#111" stroke-width="0.16" >Pt-TB 60<tspan dy="-2.5" font-size="5.5">o</tspan></text>
<text x="312.4" y="196.7" font-size="8.5" text-anchor="start" font-weight="normal" fill="#111" stroke="#111" stroke-width="0.16" >Pt(111)</text>
<text x="312.3" y="157" font-size="8.3" text-anchor="middle" font-weight="normal" fill="#111" stroke="#111" stroke-width="0.16" transform="rotate(-2 312.3 157)" style="font-family:'Liberation Serif',serif" >Δμ = 0 eV</text>
<text x="313" y="236.5" font-size="8.6" text-anchor="middle" font-weight="normal" fill="#111" stroke="#111" stroke-width="0.16" transform="rotate(26 313 236.5)" style="font-family:'Liberation Serif',serif" >Δμ = 0.5 eV</text>
<rect x="235.2" y="206" width="47" height="37.4" fill="#fff" stroke="#111" stroke-width="1" />
<line x1="235.2" y1="243.4" x2="235.2" y2="241.4" stroke="#111" stroke-width="0.8" />
<text x="235.2" y="250.6" font-size="6.6" text-anchor="middle" font-weight="normal" fill="#111" stroke="#111" stroke-width="0.16" >0</text>
<line x1="243.03" y1="243.4" x2="243.03" y2="242.2" stroke="#111" stroke-width="0.7" />
<line x1="250.87" y1="243.4" x2="250.87" y2="241.4" stroke="#111" stroke-width="0.8" />
<text x="250.87" y="250.6" font-size="6.6" text-anchor="middle" font-weight="normal" fill="#111" stroke="#111" stroke-width="0.16" >2</text>
<line x1="258.7" y1="243.4" x2="258.7" y2="242.2" stroke="#111" stroke-width="0.7" />
<line x1="266.53" y1="243.4" x2="266.53" y2="241.4" stroke="#111" stroke-width="0.8" />
<text x="266.53" y="250.6" font-size="6.6" text-anchor="middle" font-weight="normal" fill="#111" stroke="#111" stroke-width="0.16" >4</text>
<line x1="274.37" y1="243.4" x2="274.37" y2="242.2" stroke="#111" stroke-width="0.7" />
<line x1="282.2" y1="243.4" x2="282.2" y2="241.4" stroke="#111" stroke-width="0.8" />
<text x="282.2" y="250.6" font-size="6.6" text-anchor="middle" font-weight="normal" fill="#111" stroke="#111" stroke-width="0.16" >6</text>
<line x1="235.2" y1="243.4" x2="237.2" y2="243.4" stroke="#111" stroke-width="0.8" />
<text x="233.2" y="245.8" font-size="6.6" text-anchor="end" font-weight="normal" fill="#111" stroke="#111" stroke-width="0.16" >0</text>
<line x1="235.2" y1="224.7" x2="237.2" y2="224.7" stroke="#111" stroke-width="0.8" />
<text x="233.2" y="227.1" font-size="6.6" text-anchor="end" font-weight="normal" fill="#111" stroke="#111" stroke-width="0.16" >1</text>
<line x1="235.2" y1="206" x2="237.2" y2="206" stroke="#111" stroke-width="0.8" />
<text x="233.2" y="208.4" font-size="6.6" text-anchor="end" font-weight="normal" fill="#111" stroke="#111" stroke-width="0.16" >2</text>
<line x1="235.2" y1="234.05" x2="236.4" y2="234.05" stroke="#111" stroke-width="0.7" />
<line x1="235.2" y1="215.35" x2="236.4" y2="215.35" stroke="#111" stroke-width="0.7" />
<text x="226.3" y="225" font-size="6.2" text-anchor="middle" font-weight="normal" fill="#111" stroke="#111" stroke-width="0.16" transform="rotate(-90 226.3 225)" style="font-family:'Liberation Serif',serif" >ΔG<tspan dy="1.5" font-size="4">F</tspan><tspan dy="-1.5"> (eV)</tspan></text>
<text x="258.5" y="256.6" font-size="7.2" text-anchor="middle" font-weight="normal" fill="#111" stroke="#111" stroke-width="0.16" >C<tspan dy="1.5" font-size="4.5">N</tspan><tspan dy="-1.5"> (a.u.)</tspan></text>
<clipPath id="clipDi"><rect x="235.2" y="206" width="50" height="40.4"/></clipPath>
<g clip-path="url(#clipDi)">
<polyline points="235.2,243.4 243.03,242.47 250.87,241.53 258.7,215.35 266.53,228.44 274.37,236.86 282.2,224.7" fill="none" stroke="#ea74e2" stroke-width="1.2" />
<circle cx="235.2" cy="243.4" r="2.4" fill="url(#gMag)" />
<circle cx="243.03" cy="242.47" r="2.4" fill="url(#gMag)" />
<circle cx="250.87" cy="241.53" r="2.4" fill="url(#gMag)" />
<circle cx="258.7" cy="215.35" r="2.4" fill="url(#gMag)" />
<circle cx="266.53" cy="228.44" r="2.4" fill="url(#gMag)" />
<circle cx="274.37" cy="236.86" r="2.4" fill="url(#gMag)" />
<circle cx="282.2" cy="224.7" r="2.4" fill="url(#gMag)" />
<polyline points="235.2,243.4 243.03,242.47 250.87,241.53 258.7,219.09 266.53,222.83 274.37,233.12 282.2,220.96" fill="none" stroke="#1a6a1a" stroke-width="1.2" />
<circle cx="235.2" cy="243.4" r="2.4" fill="url(#gDG)" />
<circle cx="243.03" cy="242.47" r="2.4" fill="url(#gDG)" />
<circle cx="250.87" cy="241.53" r="2.4" fill="url(#gDG)" />
<circle cx="258.7" cy="219.09" r="2.4" fill="url(#gDG)" />
<circle cx="266.53" cy="222.83" r="2.4" fill="url(#gDG)" />
<circle cx="274.37" cy="233.12" r="2.4" fill="url(#gDG)" />
<circle cx="282.2" cy="220.96" r="2.4" fill="url(#gDG)" />
</g>
</g>
<g id="pstm">
<clipPath id="cE"><rect x="360.2" y="0" width="82" height="82.3"/></clipPath>
<rect x="360.2" y="0" width="82" height="82.3" fill="#0a0403" stroke="none" stroke-width="1" />
<g clip-path="url(#cE)">
<polygon points="377.5,14.2 424.5,14.5 433,31 441.3,46 432,58 423.5,69.6 400,68.5 376.2,67 369,54 362,41.5 370,27.5" fill="#9a3006" stroke="#9a3006" stroke-width="3.6" stroke-linejoin="round" filter="url(#bl3)"/>
<polygon points="377.5,14.2 424.5,14.5 433,31 441.3,46 432,58 423.5,69.6 400,68.5 376.2,67 369,54 362,41.5 370,27.5" fill="url(#gE)" stroke="#f2a848" stroke-width="1.2" stroke-linejoin="round" filter="url(#bl15)"/>
</g>
<polygon points="377.5,14.2 424.5,14.5 433,31 441.3,46 432,58 423.5,69.6 400,68.5 376.2,67 369,54 362,41.5 370,27.5" fill="#fff" opacity="0.5" filter="url(#noise)" clip-path="url(#cE)"/>
<text x="362.5" y="11.8" font-size="13" text-anchor="start" font-weight="bold" fill="#fff" >e</text>
<text x="401.7" y="57.3" font-size="8.1" text-anchor="middle" font-weight="normal" fill="#e06890" stroke="#e06890" stroke-width="0.16" >9.9 ± 0.7 nm</text>
<circle cx="401.7" cy="30.3" r="2.1" fill="none" stroke="#c8508a" stroke-width="0.9" />
<circle cx="401.4" cy="13.8" r="1.5" fill="#c060b0" stroke="none" stroke-width="1" />
<text x="426.4" y="78.7" font-size="8" text-anchor="middle" font-weight="normal" fill="#dcdcdc" stroke="#dcdcdc" stroke-width="0.16" >5 nm</text>
<line x1="409.2" y1="80.5" x2="441.5" y2="80.5" stroke="#c8c8c8" stroke-width="1.6" />
<clipPath id="cF"><rect x="445.1" y="0" width="73.5" height="82.3"/></clipPath>
<rect x="445.1" y="0" width="73.5" height="82.3" fill="#0a0403" stroke="none" stroke-width="1" />
<g clip-path="url(#cF)">
<polygon points="470.5,5.2 483,5.5 496.5,7.8 507,29 517.5,50.5 514,58 505,64 496,72.3 477,73 459.8,72.3 453,60 447.8,49 453,35 459.5,21" fill="#9a3006" stroke="#9a3006" stroke-width="3.6" stroke-linejoin="round" filter="url(#bl3)"/>
<polygon points="470.5,5.2 483,5.5 496.5,7.8 507,29 517.5,50.5 514,58 505,64 496,72.3 477,73 459.8,72.3 453,60 447.8,49 453,35 459.5,21" fill="url(#gF)" stroke="#f0a040" stroke-width="1.2" stroke-linejoin="round" filter="url(#bl15)"/>
</g>
<polygon points="470.5,5.2 483,5.5 496.5,7.8 507,29 517.5,50.5 514,58 505,64 496,72.3 477,73 459.8,72.3 453,60 447.8,49 453,35 459.5,21" fill="#fff" opacity="0.5" filter="url(#noise)" clip-path="url(#cF)"/>
<text x="447.3" y="11.8" font-size="13" text-anchor="start" font-weight="bold" fill="#fff" >f</text>
<text x="483.6" y="52.2" font-size="7.9" text-anchor="middle" font-weight="normal" fill="#7a8a28" stroke="#7a8a28" stroke-width="0.16" >12.9 ± 1.9 nm</text>
<circle cx="484.9" cy="26.2" r="2.1" fill="none" stroke="#8aa030" stroke-width="0.9" />
<circle cx="505" cy="25.7" r="1.9" fill="#b8c040" stroke="#7a9828" stroke-width="0.8" />
<circle cx="495.8" cy="37.9" r="2.1" fill="none" stroke="#5a7018" stroke-width="1" />
<text x="499.8" y="79.2" font-size="8" text-anchor="middle" font-weight="normal" fill="#dcdcdc" stroke="#dcdcdc" stroke-width="0.16" >5 nm</text>
<line x1="484" y1="80.9" x2="515" y2="80.9" stroke="#c8c8c8" stroke-width="1.6" />
<clipPath id="cG"><rect x="360.2" y="84" width="67.6" height="88.7"/></clipPath>
<rect x="360.2" y="84" width="67.6" height="88.7" fill="#0a0403" stroke="none" stroke-width="1" />
<g clip-path="url(#cG)">
<polygon points="386,82 430,82 430,161.5 414,171 404,166 395,164.8 384.5,163 372.5,152.5 367,140.5 367.5,123 371.5,109.5 381,99 385.5,90.5" fill="#9a3006" stroke="#9a3006" stroke-width="3.6" stroke-linejoin="round" filter="url(#bl3)"/>
<polygon points="386,82 430,82 430,161.5 414,171 404,166 395,164.8 384.5,163 372.5,152.5 367,140.5 367.5,123 371.5,109.5 381,99 385.5,90.5" fill="url(#gG)" stroke="#ea9838" stroke-width="1.2" stroke-linejoin="round" filter="url(#bl15)"/>
</g>
<polygon points="388,88 427.8,88 427.8,160 414,168 396,162 386,160 374,150 369.5,140 370,124 374,111 383,101" fill="url(#hexdots)" opacity="0.75" clip-path="url(#cG)" filter="url(#bl07)"/>
<circle cx="390" cy="86.5" r="1.5" fill="#f8c070" stroke="none" stroke-width="1" clip-path="url(#cG)"/>
<circle cx="394.6" cy="87.3" r="1.5" fill="#f8c070" stroke="none" stroke-width="1" clip-path="url(#cG)"/>
<circle cx="399.2" cy="86.5" r="1.5" fill="#f8c070" stroke="none" stroke-width="1" clip-path="url(#cG)"/>
<circle cx="403.8" cy="87.3" r="1.5" fill="#f8c070" stroke="none" stroke-width="1" clip-path="url(#cG)"/>
<circle cx="408.4" cy="86.5" r="1.5" fill="#f8c070" stroke="none" stroke-width="1" clip-path="url(#cG)"/>
<circle cx="413" cy="87.3" r="1.5" fill="#f8c070" stroke="none" stroke-width="1" clip-path="url(#cG)"/>
<circle cx="417.6" cy="86.5" r="1.5" fill="#f8c070" stroke="none" stroke-width="1" clip-path="url(#cG)"/>
<circle cx="422.2" cy="87.3" r="1.5" fill="#f8c070" stroke="none" stroke-width="1" clip-path="url(#cG)"/>
<circle cx="426.8" cy="86.5" r="1.5" fill="#f8c070" stroke="none" stroke-width="1" clip-path="url(#cG)"/>
<text x="361.6" y="94.2" font-size="13" text-anchor="start" font-weight="bold" fill="#fff" >g</text>
<text x="397.8" y="135.3" font-size="8" text-anchor="middle" font-weight="normal" fill="#4a5a9a" stroke="#4a5a9a" stroke-width="0.16" >19.9 ± 1.5 nm</text>
<circle cx="406.9" cy="150.6" r="2.1" fill="none" stroke="#3a4078" stroke-width="1" />
<circle cx="394.4" cy="165.1" r="2.2" fill="#1a3aa8" stroke="none" stroke-width="1" />
<text x="375.8" y="169.1" font-size="7" text-anchor="middle" font-weight="normal" fill="#e4e4e4" stroke="#e4e4e4" stroke-width="0.16" >5 nm</text>
<line x1="367.1" y1="170.9" x2="386.1" y2="170.9" stroke="#d8d8d8" stroke-width="1.1" />
<clipPath id="cH"><rect x="429.7" y="84" width="88.9" height="88.7"/></clipPath>
<rect x="429.7" y="84" width="88.9" height="88.7" fill="#0a0403" stroke="none" stroke-width="1" />
<g clip-path="url(#cH)">
<polygon points="427,98.5 445,97.5 468.5,95.3 472.5,100 507,99.3 512.5,105.5 511.8,125.5 507,138.5 510.5,145.5 498,150.5 483.5,155 478,162.3 443.5,162.3 427,146" fill="#9a3006" stroke="#9a3006" stroke-width="3.6" stroke-linejoin="round" filter="url(#bl3)"/>
<polygon points="427,98.5 445,97.5 468.5,95.3 472.5,100 507,99.3 512.5,105.5 511.8,125.5 507,138.5 510.5,145.5 498,150.5 483.5,155 478,162.3 443.5,162.3 427,146" fill="url(#gH)" stroke="#eda040" stroke-width="1.2" stroke-linejoin="round" filter="url(#bl15)"/>
</g>
<line x1="432" y1="106.3" x2="510" y2="106.3" stroke="#d87a20" stroke-width="0.9" opacity="0.8"/>
<line x1="432" y1="110.3" x2="510" y2="110.3" stroke="#d87a20" stroke-width="0.7" opacity="0.6"/>
<ellipse cx="490.3" cy="148.3" rx="6.5" ry="3.2" transform="rotate(-22 490.3 148.3)" fill="#fff" filter="url(#bl07)"/>
<text x="431.5" y="94.6" font-size="13" text-anchor="start" font-weight="bold" fill="#fff" >h</text>
<text x="468.4" y="139.8" font-size="8.1" text-anchor="middle" font-weight="normal" fill="#e84a28" stroke="#e84a28" stroke-width="0.16" >24.6 ± 3.6 nm</text>
<circle cx="446.4" cy="98.3" r="1.8" fill="#e02818" stroke="none" stroke-width="1" />
<circle cx="457.9" cy="109.2" r="2.1" fill="none" stroke="#e03a20" stroke-width="1.1" />
<circle cx="443.3" cy="116.5" r="2.1" fill="none" stroke="#f8d060" stroke-width="1.1" />
<circle cx="476.2" cy="125.7" r="1.3" fill="#b86820" stroke="none" stroke-width="1" />
<text x="505" y="169.1" font-size="7.4" text-anchor="middle" font-weight="normal" fill="#e4e4e4" stroke="#e4e4e4" stroke-width="0.16" >5 nm</text>
<line x1="495.3" y1="171" x2="515.8" y2="171" stroke="#d8d8d8" stroke-width="1.1" />
<clipPath id="cI"><rect x="360.2" y="174.9" width="158.4" height="114.7"/></clipPath>
<rect x="360.2" y="174.9" width="158.4" height="114.7" fill="#0a0403" stroke="none" stroke-width="1" />
<g clip-path="url(#cI)">
<polygon points="358,172 428.5,172 425.5,184 420,190 408.5,200.5 394,208.5 383,215 374,218.5 358,212" fill="#6a1c02" stroke="#6a1c02" stroke-width="3.6" stroke-linejoin="round" filter="url(#bl3)"/>
<polygon points="358,172 428.5,172 425.5,184 420,190 408.5,200.5 394,208.5 383,215 374,218.5 358,212" fill="url(#gI2)" stroke="url(#gI2)" stroke-width="1.2" stroke-linejoin="round" filter="url(#bl15)"/>
</g>
<g clip-path="url(#cI)">
<polygon points="428.8,185.8 439,181.5 450.3,178.8 461,176.8 471.8,175.9 483,176 493.4,176.8 498,182.5 502.6,188.9 507,196.5 511.6,204.3 512.3,211 510.3,218.2 507,229 502.6,239.7 498,250.5 493.4,261.2 485.7,273.5 478,279.7 469,282.6 459.5,284.3 447,285 434.9,285.2 424,283.8 413.4,281.2 404,276.5 394.9,270.5 388,264.5 382.6,258.2 378.6,252 375.8,245.8 374,239.5 373.4,233.5 373.6,228.5 374.9,224.3 377.5,220.8 381.1,218.2 388,215.3 394.9,212 401,207.6 407.2,202.8 413.5,198 419.5,193.5 424.5,189.3" fill="#a04008" stroke="#a04008" stroke-width="3.6" stroke-linejoin="round" filter="url(#bl3)"/>
<polygon points="428.8,185.8 439,181.5 450.3,178.8 461,176.8 471.8,175.9 483,176 493.4,176.8 498,182.5 502.6,188.9 507,196.5 511.6,204.3 512.3,211 510.3,218.2 507,229 502.6,239.7 498,250.5 493.4,261.2 485.7,273.5 478,279.7 469,282.6 459.5,284.3 447,285 434.9,285.2 424,283.8 413.4,281.2 404,276.5 394.9,270.5 388,264.5 382.6,258.2 378.6,252 375.8,245.8 374,239.5 373.4,233.5 373.6,228.5 374.9,224.3 377.5,220.8 381.1,218.2 388,215.3 394.9,212 401,207.6 407.2,202.8 413.5,198 419.5,193.5 424.5,189.3" fill="url(#gI)" stroke="url(#gI)" stroke-width="1.2" stroke-linejoin="round" filter="url(#bl15)"/>
</g>
<polygon points="428.8,185.8 439,181.5 450.3,178.8 461,176.8 471.8,175.9 483,176 493.4,176.8 498,182.5 502.6,188.9 507,196.5 511.6,204.3 512.3,211 510.3,218.2 507,229 502.6,239.7 498,250.5 493.4,261.2 485.7,273.5 478,279.7 469,282.6 459.5,284.3 447,285 434.9,285.2 424,283.8 413.4,281.2 404,276.5 394.9,270.5 388,264.5 382.6,258.2 378.6,252 375.8,245.8 374,239.5 373.4,233.5 373.6,228.5 374.9,224.3 377.5,220.8 381.1,218.2 388,215.3 394.9,212 401,207.6 407.2,202.8 413.5,198 419.5,193.5 424.5,189.3" fill="#d87818" opacity="0.55" filter="url(#noise2)" clip-path="url(#cI)"/>
<polygon points="428.8,185.8 439,181.5 450.3,178.8 461,176.8 471.8,175.9 483,176 493.4,176.8 498,182.5 502.6,188.9 507,196.5 511.6,204.3 512.3,211 510.3,218.2 507,229 502.6,239.7 498,250.5 493.4,261.2 485.7,273.5 478,279.7 469,282.6 459.5,284.3 447,285 434.9,285.2 424,283.8 413.4,281.2 404,276.5 394.9,270.5 388,264.5 382.6,258.2 378.6,252 375.8,245.8 374,239.5 373.4,233.5 373.6,228.5 374.9,224.3 377.5,220.8 381.1,218.2 388,215.3 394.9,212 401,207.6 407.2,202.8 413.5,198 419.5,193.5 424.5,189.3" fill="none" stroke="#fff2d8" stroke-width="0.9" stroke-dasharray="0.9,1.3" opacity="0.85" clip-path="url(#cI)"/>
<circle cx="377.69" cy="180.71" r="0.65" fill="#fff0d0" stroke="none" stroke-width="1" clip-path="url(#cI)"/>
<circle cx="386.97" cy="182.58" r="0.65" fill="#fff0d0" stroke="none" stroke-width="1" clip-path="url(#cI)"/>
<circle cx="367.86" cy="191.46" r="0.65" fill="#fff0d0" stroke="none" stroke-width="1" clip-path="url(#cI)"/>
<circle cx="408.38" cy="184.99" r="0.65" fill="#fff0d0" stroke="none" stroke-width="1" clip-path="url(#cI)"/>
<circle cx="395.13" cy="186.96" r="0.65" fill="#fff0d0" stroke="none" stroke-width="1" clip-path="url(#cI)"/>
<circle cx="374.01" cy="180.82" r="0.65" fill="#fff0d0" stroke="none" stroke-width="1" clip-path="url(#cI)"/>
<circle cx="376.44" cy="210.39" r="0.65" fill="#fff0d0" stroke="none" stroke-width="1" clip-path="url(#cI)"/>
<circle cx="410.43" cy="183.96" r="0.65" fill="#fff0d0" stroke="none" stroke-width="1" clip-path="url(#cI)"/>
<circle cx="381.97" cy="199.57" r="0.65" fill="#fff0d0" stroke="none" stroke-width="1" clip-path="url(#cI)"/>
<circle cx="415.04" cy="180.12" r="0.65" fill="#fff0d0" stroke="none" stroke-width="1" clip-path="url(#cI)"/>
<circle cx="399.14" cy="201.18" r="0.65" fill="#fff0d0" stroke="none" stroke-width="1" clip-path="url(#cI)"/>
<circle cx="393.35" cy="183.4" r="0.65" fill="#fff0d0" stroke="none" stroke-width="1" clip-path="url(#cI)"/>
<circle cx="391.47" cy="180.22" r="0.65" fill="#fff0d0" stroke="none" stroke-width="1" clip-path="url(#cI)"/>
<circle cx="395.76" cy="187.81" r="0.65" fill="#fff0d0" stroke="none" stroke-width="1" clip-path="url(#cI)"/>
<circle cx="393.49" cy="191.9" r="0.65" fill="#fff0d0" stroke="none" stroke-width="1" clip-path="url(#cI)"/>
<circle cx="398.74" cy="192.52" r="0.65" fill="#fff0d0" stroke="none" stroke-width="1" clip-path="url(#cI)"/>
<circle cx="373.36" cy="187.98" r="0.65" fill="#fff0d0" stroke="none" stroke-width="1" clip-path="url(#cI)"/>
<circle cx="411.13" cy="178.56" r="0.65" fill="#fff0d0" stroke="none" stroke-width="1" clip-path="url(#cI)"/>
<circle cx="366.69" cy="199.55" r="0.65" fill="#fff0d0" stroke="none" stroke-width="1" clip-path="url(#cI)"/>
<circle cx="380.27" cy="196.25" r="0.65" fill="#fff0d0" stroke="none" stroke-width="1" clip-path="url(#cI)"/>
<text x="362.2" y="186.5" font-size="13" text-anchor="start" font-weight="bold" fill="#fff" >i</text>
<text x="452.9" y="243.6" font-size="8" text-anchor="middle" font-weight="normal" fill="#2a1a0a" stroke="#2a1a0a" stroke-width="0.16" >79.0 ± 16.2 nm</text>
<circle cx="472.3" cy="224.3" r="2.4" fill="none" stroke="#2a1a0a" stroke-width="0.9" />
<circle cx="510.6" cy="208.6" r="1.7" fill="#0a0403" stroke="none" stroke-width="1" />
<text x="500" y="284.2" font-size="7.4" text-anchor="middle" font-weight="normal" fill="#e8e8e8" stroke="#e8e8e8" stroke-width="0.16" >30 nm</text>
<line x1="490" y1="286.8" x2="510.5" y2="286.8" stroke="#e0e0e0" stroke-width="1" />
</g>
<g id="pj">
<text x="5" y="305.2" font-size="12.5" text-anchor="start" font-weight="bold" fill="#000" >j</text>
<line x1="15.6" y1="313.3" x2="15.6" y2="412.9" stroke="#222" stroke-width="0.8" />
<line x1="15.6" y1="313.6" x2="13.4" y2="313.6" stroke="#222" stroke-width="0.7" />
<text x="12.6" y="315.6" font-size="5.8" text-anchor="end" font-weight="normal" fill="#222" stroke="#222" stroke-width="0.16" >1.5</text>
<line x1="15.6" y1="330.1" x2="13.4" y2="330.1" stroke="#222" stroke-width="0.7" />
<text x="12.6" y="332.1" font-size="5.8" text-anchor="end" font-weight="normal" fill="#222" stroke="#222" stroke-width="0.16" >1.0</text>
<line x1="15.6" y1="346.6" x2="13.4" y2="346.6" stroke="#222" stroke-width="0.7" />
<text x="12.6" y="348.6" font-size="5.8" text-anchor="end" font-weight="normal" fill="#222" stroke="#222" stroke-width="0.16" >0.5</text>
<line x1="15.6" y1="363.1" x2="13.4" y2="363.1" stroke="#222" stroke-width="0.7" />
<text x="12.6" y="365.1" font-size="5.8" text-anchor="end" font-weight="normal" fill="#222" stroke="#222" stroke-width="0.16" >0.0</text>
<line x1="15.6" y1="379.6" x2="13.4" y2="379.6" stroke="#222" stroke-width="0.7" />
<text x="12.6" y="381.6" font-size="5.8" text-anchor="end" font-weight="normal" fill="#222" stroke="#222" stroke-width="0.16" >−0.5</text>
<line x1="15.6" y1="396.1" x2="13.4" y2="396.1" stroke="#222" stroke-width="0.7" />
<text x="12.6" y="398.1" font-size="5.8" text-anchor="end" font-weight="normal" fill="#222" stroke="#222" stroke-width="0.16" >−1.0</text>
<line x1="15.6" y1="412.6" x2="13.4" y2="412.6" stroke="#222" stroke-width="0.7" />
<text x="12.6" y="414.6" font-size="5.8" text-anchor="end" font-weight="normal" fill="#222" stroke="#222" stroke-width="0.16" >−1.5</text>
<text x="41" y="309.5" font-size="5.9" text-anchor="middle" font-weight="bold" fill="#222" ><tspan font-style="italic">N</tspan> = 4</text>
<line x1="27.5" y1="318.35" x2="51.3" y2="318.35" stroke="#333" stroke-width="0.95" />
<line x1="27.5" y1="363.1" x2="51.3" y2="363.1" stroke="#333" stroke-width="0.95" />
<line x1="27.5" y1="382.57" x2="51.3" y2="382.57" stroke="#333" stroke-width="0.95" />
<line x1="27.5" y1="404.68" x2="51.3" y2="404.68" stroke="#333" stroke-width="0.95" />
<line x1="27.5" y1="407.98" x2="51.3" y2="407.98" stroke="#333" stroke-width="0.95" />
<line x1="27.5" y1="411.61" x2="51.3" y2="411.61" stroke="#333" stroke-width="0.95" />
<line x1="29.3" y1="319.35" x2="29.3" y2="362.1" stroke="#5b93d6" stroke-width="0.5" />
<polyline points="28.1,320.95 29.3,318.85 30.5,320.95" fill="none" stroke="#5b93d6" stroke-width="0.5" />
<polyline points="28.1,360.5 29.3,362.6 30.5,360.5" fill="none" stroke="#5b93d6" stroke-width="0.5" />
<text x="83.8" y="309.5" font-size="5.9" text-anchor="middle" font-weight="bold" fill="#222" ><tspan font-style="italic">N</tspan> = 5</text>
<line x1="72.5" y1="314.26" x2="95" y2="314.26" stroke="#333" stroke-width="0.95" />
<line x1="72.5" y1="319.54" x2="95" y2="319.54" stroke="#333" stroke-width="0.95" />
<line x1="72.5" y1="330.76" x2="95" y2="330.76" stroke="#333" stroke-width="0.95" />
<line x1="72.5" y1="363.1" x2="95" y2="363.1" stroke="#333" stroke-width="0.95" />
<line x1="72.5" y1="378.61" x2="95" y2="378.61" stroke="#333" stroke-width="0.95" />
<line x1="72.5" y1="393.46" x2="95" y2="393.46" stroke="#333" stroke-width="0.95" />
<line x1="72.5" y1="397.09" x2="95" y2="397.09" stroke="#333" stroke-width="0.95" />
<line x1="72.5" y1="405.67" x2="95" y2="405.67" stroke="#333" stroke-width="0.95" />
<line x1="72" y1="374.98" x2="95.8" y2="374.98" stroke="#16166a" stroke-width="1.6" />
<polygon points="67.3,372.88 67.3,377.08 70.5,374.98" fill="#16166a" stroke="none" stroke-width="1" />
<line x1="83.8" y1="331.76" x2="83.8" y2="362.1" stroke="#5b93d6" stroke-width="0.5" />
<polyline points="82.6,333.36 83.8,331.26 85,333.36" fill="none" stroke="#5b93d6" stroke-width="0.5" />
<polyline points="82.6,360.5 83.8,362.6 85,360.5" fill="none" stroke="#5b93d6" stroke-width="0.5" />
<text x="127.5" y="309.5" font-size="5.9" text-anchor="middle" font-weight="bold" fill="#222" ><tspan font-style="italic">N</tspan> = 6</text>
<line x1="116.3" y1="319.34" x2="138.8" y2="319.34" stroke="#333" stroke-width="0.95" />
<line x1="116.3" y1="325.15" x2="138.8" y2="325.15" stroke="#333" stroke-width="0.95" />
<line x1="116.3" y1="328.45" x2="138.8" y2="328.45" stroke="#333" stroke-width="0.95" />
<line x1="116.3" y1="331.75" x2="138.8" y2="331.75" stroke="#333" stroke-width="0.95" />
<line x1="116.3" y1="335.05" x2="138.8" y2="335.05" stroke="#333" stroke-width="0.95" />
<line x1="116.3" y1="338.85" x2="138.8" y2="338.85" stroke="#333" stroke-width="0.95" />
<line x1="116.3" y1="363.1" x2="138.8" y2="363.1" stroke="#333" stroke-width="0.95" />
<line x1="116.3" y1="374.98" x2="138.8" y2="374.98" stroke="#333" stroke-width="0.95" />
<line x1="116.3" y1="385.54" x2="138.8" y2="385.54" stroke="#333" stroke-width="0.95" />
<line x1="116.3" y1="389.34" x2="138.8" y2="389.34" stroke="#333" stroke-width="0.95" />
<line x1="116.3" y1="402.04" x2="138.8" y2="402.04" stroke="#333" stroke-width="0.95" />
<line x1="116.3" y1="405.01" x2="138.8" y2="405.01" stroke="#333" stroke-width="0.95" />
<line x1="116.3" y1="410.62" x2="138.8" y2="410.62" stroke="#333" stroke-width="0.95" />
<line x1="115.8" y1="370.59" x2="139.6" y2="370.59" stroke="#16166a" stroke-width="1.6" />
<polygon points="111.1,368.49 111.1,372.69 114.3,370.59" fill="#16166a" stroke="none" stroke-width="1" />
<line x1="128" y1="339.85" x2="128" y2="362.1" stroke="#5b93d6" stroke-width="0.5" />
<polyline points="126.8,341.45 128,339.35 129.2,341.45" fill="none" stroke="#5b93d6" stroke-width="0.5" />
<polyline points="126.8,360.5 128,362.6 129.2,360.5" fill="none" stroke="#5b93d6" stroke-width="0.5" />
<text x="171" y="309.5" font-size="5.9" text-anchor="middle" font-weight="bold" fill="#222" ><tspan font-style="italic">N</tspan> = 7</text>
<line x1="158.8" y1="321.85" x2="182.5" y2="321.85" stroke="#333" stroke-width="0.95" />
<line x1="158.8" y1="325.15" x2="182.5" y2="325.15" stroke="#333" stroke-width="0.95" />
<line x1="158.8" y1="333.4" x2="182.5" y2="333.4" stroke="#333" stroke-width="0.95" />
<line x1="158.8" y1="341.32" x2="182.5" y2="341.32" stroke="#333" stroke-width="0.95" />
<line x1="158.8" y1="345.12" x2="182.5" y2="345.12" stroke="#333" stroke-width="0.95" />
<line x1="158.8" y1="363.1" x2="182.5" y2="363.1" stroke="#333" stroke-width="0.95" />
<line x1="158.8" y1="372.67" x2="182.5" y2="372.67" stroke="#333" stroke-width="0.95" />
<line x1="158.8" y1="375.64" x2="182.5" y2="375.64" stroke="#333" stroke-width="0.95" />
<line x1="158.8" y1="380.59" x2="182.5" y2="380.59" stroke="#333" stroke-width="0.95" />
<line x1="158.8" y1="384.22" x2="182.5" y2="384.22" stroke="#333" stroke-width="0.95" />
<line x1="158.8" y1="397.59" x2="182.5" y2="397.59" stroke="#333" stroke-width="0.95" />
<line x1="158.8" y1="410.62" x2="182.5" y2="410.62" stroke="#333" stroke-width="0.95" />
<line x1="158.8" y1="412.6" x2="182.5" y2="412.6" stroke="#333" stroke-width="0.95" />
<line x1="158.3" y1="368.38" x2="183.3" y2="368.38" stroke="#16166a" stroke-width="1.6" />
<polygon points="153.6,366.28 153.6,370.48 156.8,368.38" fill="#16166a" stroke="none" stroke-width="1" />
<line x1="168" y1="346.12" x2="168" y2="362.1" stroke="#5b93d6" stroke-width="0.5" />
<polyline points="166.8,347.72 168,345.62 169.2,347.72" fill="none" stroke="#5b93d6" stroke-width="0.5" />
<polyline points="166.8,360.5 168,362.6 169.2,360.5" fill="none" stroke="#5b93d6" stroke-width="0.5" />
<text x="215" y="309.5" font-size="5.9" text-anchor="middle" font-weight="bold" fill="#222" ><tspan font-style="italic">N</tspan> = 8</text>
<line x1="203" y1="315.91" x2="226.3" y2="315.91" stroke="#333" stroke-width="0.95" />
<line x1="203" y1="320.2" x2="226.3" y2="320.2" stroke="#333" stroke-width="0.95" />
<line x1="203" y1="330.1" x2="226.3" y2="330.1" stroke="#333" stroke-width="0.95" />
<line x1="203" y1="333.9" x2="226.3" y2="333.9" stroke="#333" stroke-width="0.95" />
<line x1="203" y1="340" x2="226.3" y2="340" stroke="#333" stroke-width="0.95" />
<line x1="203" y1="347.59" x2="226.3" y2="347.59" stroke="#333" stroke-width="0.95" />
<line x1="203" y1="350.56" x2="226.3" y2="350.56" stroke="#333" stroke-width="0.95" />
<line x1="203" y1="363.1" x2="226.3" y2="363.1" stroke="#333" stroke-width="0.95" />
<line x1="203" y1="371.35" x2="226.3" y2="371.35" stroke="#333" stroke-width="0.95" />
<line x1="203" y1="376.3" x2="226.3" y2="376.3" stroke="#333" stroke-width="0.95" />
<line x1="203" y1="381.25" x2="226.3" y2="381.25" stroke="#333" stroke-width="0.95" />
<line x1="203" y1="388.84" x2="226.3" y2="388.84" stroke="#333" stroke-width="0.95" />
<line x1="203" y1="392.47" x2="226.3" y2="392.47" stroke="#333" stroke-width="0.95" />
<line x1="203" y1="396.1" x2="226.3" y2="396.1" stroke="#333" stroke-width="0.95" />
<line x1="203" y1="403.03" x2="226.3" y2="403.03" stroke="#333" stroke-width="0.95" />
<line x1="203" y1="407.98" x2="226.3" y2="407.98" stroke="#333" stroke-width="0.95" />
<line x1="202.5" y1="367.06" x2="227.1" y2="367.06" stroke="#16166a" stroke-width="1.6" />
<polygon points="197.8,364.96 197.8,369.16 201,367.06" fill="#16166a" stroke="none" stroke-width="1" />
<line x1="212" y1="351.56" x2="212" y2="362.1" stroke="#5b93d6" stroke-width="0.5" />
<polyline points="210.8,353.16 212,351.06 213.2,353.16" fill="none" stroke="#5b93d6" stroke-width="0.5" />
<polyline points="210.8,360.5 212,362.6 213.2,360.5" fill="none" stroke="#5b93d6" stroke-width="0.5" />
<text x="34.4" y="323.2" font-size="5.3" text-anchor="start" font-weight="normal" fill="#6aa6e0" stroke="#6aa6e0" stroke-width="0.16" >LUMO</text>
<text x="34.4" y="360.6" font-size="5.3" text-anchor="start" font-weight="normal" fill="#6aa6e0" stroke="#6aa6e0" stroke-width="0.16" >HOMO</text>
</g>
<g id="pk">
<text x="234.1" y="307.8" font-size="12.5" text-anchor="start" font-weight="bold" fill="#000" >k</text>
<path d="M260.88,352.06L263.62,352.06M252.62,342.53L255.38,342.53M238.88,366.34L240.25,363.96M255.38,342.53L256.75,344.91M260.88,347.29L263.62,347.29M238.88,356.82L240.25,354.44M238.88,352.06L240.25,354.44M247.12,366.34L248.5,368.73M248.5,354.44L251.25,354.44M263.62,361.58L265,359.2M247.12,356.82L248.5,359.2M247.12,371.11L248.5,368.73M251.25,368.73L252.62,366.34M267.75,363.96L269.12,361.58M251.25,349.67L252.62,352.06M243,354.44L244.38,356.82M265,354.44L267.75,354.44M240.25,349.67L243,349.67M248.5,344.91L251.25,344.91M256.75,354.44L259.5,354.44M247.12,361.58L248.5,359.2M252.62,375.87L255.38,375.87M251.25,354.44L252.62,352.06M263.62,366.34L265,363.96M251.25,344.91L252.62,347.29M255.38,361.58L256.75,359.2M267.75,354.44L269.12,352.06M256.75,344.91L259.5,344.91M244.38,366.34L247.12,366.34M263.62,356.82L265,354.44M238.88,352.06L240.25,349.67M247.12,366.34L248.5,363.96M247.12,356.82L248.5,354.44M244.38,347.29L247.12,347.29M247.12,352.06L248.5,354.44M256.75,368.73L259.5,368.73M263.62,352.06L265,349.67M251.25,349.67L252.62,347.29M255.38,352.06L256.75,349.67M259.5,359.2L260.88,356.82M260.88,361.58L263.62,361.58M251.25,363.96L252.62,361.58M255.38,347.29L256.75,344.91M263.62,352.06L265,354.44M259.5,363.96L260.88,366.34M263.62,347.29L265,349.67M251.25,344.91L252.62,342.53M267.75,359.2L269.12,356.82M248.5,349.67L251.25,349.67M243,359.2L244.38,356.82M255.38,347.29L256.75,349.67M259.5,368.73L260.88,366.34M243,368.73L244.38,371.11M248.5,363.96L251.25,363.96M265,368.73L267.75,368.73M243,349.67L244.38,352.06M256.75,349.67L259.5,349.67M267.75,363.96L269.12,366.34M259.5,368.73L260.88,371.11M252.62,371.11L255.38,371.11M251.25,373.49L252.62,375.87M259.5,373.49L260.88,371.11M256.75,363.96L259.5,363.96M265,359.2L267.75,359.2M252.62,366.34L255.38,366.34M251.25,359.2L252.62,361.58M251.25,354.44L252.62,356.82M267.75,368.73L269.12,366.34M259.5,354.44L260.88,352.06M260.88,356.82L263.62,356.82M259.5,344.91L260.88,347.29M243,359.2L244.38,361.58M243,354.44L244.38,352.06M267.75,354.44L269.12,356.82M255.38,356.82L256.75,354.44M240.25,354.44L243,354.44M247.12,347.29L248.5,349.67M252.62,361.58L255.38,361.58M263.62,356.82L265,359.2M247.12,352.06L248.5,349.67M255.38,371.11L256.75,373.49M255.38,356.82L256.75,359.2M238.88,366.34L240.25,368.73M240.25,368.73L243,368.73M255.38,375.87L256.75,373.49M259.5,349.67L260.88,347.29M238.88,356.82L240.25,359.2M255.38,352.06L256.75,354.44M267.75,359.2L269.12,361.58M263.62,371.11L265,368.73M259.5,363.96L260.88,361.58M248.5,373.49L251.25,373.49M259.5,349.67L260.88,352.06M243,363.96L244.38,361.58M255.38,371.11L256.75,368.73M244.38,361.58L247.12,361.58M252.62,352.06L255.38,352.06M238.88,361.58L240.25,359.2M260.88,366.34L263.62,366.34M243,368.73L244.38,366.34M265,363.96L267.75,363.96M240.25,359.2L243,359.2M255.38,366.34L256.75,363.96M244.38,356.82L247.12,356.82M247.12,361.58L248.5,363.96M252.62,356.82L255.38,356.82M247.12,347.29L248.5,344.91M263.62,366.34L265,368.73M267.75,349.67L269.12,352.06M243,363.96L244.38,366.34M243,349.67L244.38,347.29M255.38,361.58L256.75,363.96M256.75,373.49L259.5,373.49M238.88,361.58L240.25,363.96M252.62,347.29L255.38,347.29M256.75,359.2L259.5,359.2M255.38,366.34L256.75,368.73M251.25,373.49L252.62,371.11M263.62,361.58L265,363.96M265,349.67L267.75,349.67M244.38,371.11L247.12,371.11M248.5,368.73L251.25,368.73M251.25,368.73L252.62,371.11M259.5,359.2L260.88,361.58M259.5,354.44L260.88,356.82M244.38,352.06L247.12,352.06M251.25,359.2L252.62,356.82M240.25,363.96L243,363.96M260.88,371.11L263.62,371.11M247.12,371.11L248.5,373.49M248.5,359.2L251.25,359.2M251.25,363.96L252.62,366.34" stroke="#b4b4b8" stroke-width="0.55" fill="none"/>
<path d="M279.48,371.9L280.9,374.36M302.2,352.22L305.04,352.22M293.68,342.38L296.52,342.38M283.74,344.84L285.16,347.3M279.48,366.98L280.9,364.52M285.16,342.38L288,342.38M305.04,371.9L306.46,374.36M296.52,342.38L297.94,344.84M302.2,347.3L305.04,347.3M279.48,357.14L280.9,354.68M279.48,352.22L280.9,354.68M288,366.98L289.42,369.44M289.42,354.68L292.26,354.68M305.04,376.82L306.46,374.36M305.04,362.06L306.46,359.6M280.9,374.36L283.74,374.36M288,357.14L289.42,359.6M288,371.9L289.42,369.44M292.26,369.44L293.68,366.98M309.3,364.52L310.72,362.06M292.26,349.76L293.68,352.22M275.22,359.6L276.64,362.06M283.74,354.68L285.16,357.14M306.46,354.68L309.3,354.68M275.22,354.68L276.64,352.22M280.9,349.76L283.74,349.76M289.42,344.84L292.26,344.84M276.64,366.98L279.48,366.98M296.52,342.38L297.94,339.92M297.94,354.68L300.78,354.68M288,362.06L289.42,359.6M292.26,339.92L293.68,342.38M293.68,376.82L296.52,376.82M300.78,339.92L302.2,342.38M292.26,354.68L293.68,352.22M305.04,366.98L306.46,364.52M279.48,347.3L280.9,349.76M292.26,344.84L293.68,347.3M296.52,362.06L297.94,359.6M276.64,347.3L279.48,347.3M300.78,344.84L302.2,342.38M275.22,369.44L276.64,371.9M283.74,344.84L285.16,342.38M309.3,354.68L310.72,352.22M289.42,339.92L292.26,339.92M297.94,344.84L300.78,344.84M275.22,349.76L276.64,352.22M285.16,366.98L288,366.98M313.56,362.06L314.98,359.6M310.72,352.22L313.56,352.22M305.04,357.14L306.46,354.68M279.48,352.22L280.9,349.76M288,366.98L289.42,364.52M288,357.14L289.42,354.68M283.74,374.36L285.16,371.9M285.16,347.3L288,347.3M288,352.22L289.42,354.68M297.94,369.44L300.78,369.44M305.04,352.22L306.46,349.76M275.22,364.52L276.64,362.06M313.56,362.06L314.98,364.52M292.26,349.76L293.68,347.3M296.52,352.22L297.94,349.76M300.78,359.6L302.2,357.14M302.2,362.06L305.04,362.06M300.78,379.28L302.2,376.82M310.72,362.06L313.56,362.06M283.74,374.36L285.16,376.82M292.26,364.52L293.68,362.06M296.52,347.3L297.94,344.84M305.04,352.22L306.46,354.68M313.56,366.98L314.98,369.44M309.3,369.44L310.72,371.9M288,342.38L289.42,344.84M275.22,364.52L276.64,366.98M300.78,364.52L302.2,366.98M313.56,371.9L314.98,369.44M305.04,347.3L306.46,349.76M292.26,344.84L293.68,342.38M275.22,369.44L276.64,366.98M309.3,359.6L310.72,357.14M289.42,349.76L292.26,349.76M283.74,359.6L285.16,357.14M302.2,376.82L305.04,376.82M296.52,347.3L297.94,349.76M293.68,381.74L296.52,381.74M300.78,369.44L302.2,366.98M283.74,369.44L285.16,371.9M289.42,364.52L292.26,364.52M305.04,342.38L306.46,344.84M310.72,366.98L313.56,366.98M313.56,357.14L314.98,359.6M306.46,369.44L309.3,369.44M280.9,344.84L283.74,344.84M283.74,349.76L285.16,352.22M296.52,376.82L297.94,379.28M310.72,347.3L313.56,347.3M297.94,349.76L300.78,349.76M309.3,364.52L310.72,366.98M300.78,369.44L302.2,371.9M293.68,371.9L296.52,371.9M292.26,374.36L293.68,376.82M300.78,374.36L302.2,371.9M297.94,364.52L300.78,364.52M306.46,359.6L309.3,359.6M293.68,366.98L296.52,366.98M292.26,359.6L293.68,362.06M292.26,354.68L293.68,357.14M309.3,369.44L310.72,366.98M300.78,354.68L302.2,352.22M302.2,357.14L305.04,357.14M306.46,374.36L309.3,374.36M300.78,344.84L302.2,347.3M283.74,359.6L285.16,362.06M283.74,354.68L285.16,352.22M275.22,349.76L276.64,347.3M296.52,357.14L297.94,354.68M309.3,354.68L310.72,357.14M280.9,354.68L283.74,354.68M288,347.3L289.42,349.76M293.68,362.06L296.52,362.06M305.04,357.14L306.46,359.6M297.94,339.92L300.78,339.92M288,352.22L289.42,349.76M302.2,342.38L305.04,342.38M296.52,371.9L297.94,374.36M296.52,357.14L297.94,359.6M279.48,366.98L280.9,369.44M280.9,369.44L283.74,369.44M296.52,376.82L297.94,374.36M300.78,349.76L302.2,347.3M276.64,371.9L279.48,371.9M279.48,357.14L280.9,359.6M279.48,371.9L280.9,369.44M296.52,352.22L297.94,354.68M309.3,359.6L310.72,362.06M313.56,366.98L314.98,364.52M276.64,357.14L279.48,357.14M289.42,379.28L292.26,379.28M305.04,371.9L306.46,369.44M300.78,364.52L302.2,362.06M313.56,352.22L314.98,354.68M305.04,347.3L306.46,344.84M289.42,374.36L292.26,374.36M309.3,349.76L310.72,347.3M300.78,349.76L302.2,352.22M283.74,364.52L285.16,362.06M296.52,371.9L297.94,369.44M309.3,374.36L310.72,371.9M285.16,362.06L288,362.06M293.68,352.22L296.52,352.22M279.48,362.06L280.9,359.6M302.2,366.98L305.04,366.98M283.74,369.44L285.16,366.98M292.26,339.92L293.68,337.46M306.46,364.52L309.3,364.52M280.9,359.6L283.74,359.6M296.52,366.98L297.94,364.52M309.3,344.84L310.72,347.3M285.16,357.14L288,357.14M313.56,357.14L314.98,354.68M279.48,347.3L280.9,344.84M288,362.06L289.42,364.52M297.94,379.28L300.78,379.28M293.68,357.14L296.52,357.14M288,347.3L289.42,344.84M305.04,366.98L306.46,369.44M309.3,349.76L310.72,352.22M283.74,364.52L285.16,366.98M283.74,349.76L285.16,347.3M296.52,362.06L297.94,364.52M297.94,374.36L300.78,374.36M279.48,362.06L280.9,364.52M293.68,347.3L296.52,347.3M297.94,359.6L300.78,359.6M276.64,352.22L279.48,352.22M296.52,366.98L297.94,369.44M292.26,374.36L293.68,371.9M305.04,362.06L306.46,364.52M288,376.82L289.42,374.36M306.46,349.76L309.3,349.76M292.26,379.28L293.68,381.74M285.16,376.82L288,376.82M276.64,362.06L279.48,362.06M300.78,374.36L302.2,376.82M285.16,371.9L288,371.9M289.42,369.44L292.26,369.44M313.56,347.3L314.98,349.76M292.26,369.44L293.68,371.9M292.26,379.28L293.68,376.82M300.78,359.6L302.2,362.06M275.22,354.68L276.64,357.14M293.68,337.46L296.52,337.46M296.52,381.74L297.94,379.28M300.78,354.68L302.2,357.14M313.56,352.22L314.98,349.76M310.72,371.9L313.56,371.9M288,376.82L289.42,379.28M275.22,359.6L276.64,357.14M285.16,352.22L288,352.22M292.26,359.6L293.68,357.14M310.72,357.14L313.56,357.14M306.46,344.84L309.3,344.84M280.9,364.52L283.74,364.52M302.2,371.9L305.04,371.9M288,371.9L289.42,374.36M289.42,359.6L292.26,359.6M296.52,337.46L297.94,339.92M288,342.38L289.42,339.92M292.26,364.52L293.68,366.98" stroke="#b4b4b8" stroke-width="0.55" fill="none"/>
<circle cx="275.22" cy="349.76" r="0.77" fill="#17176e" stroke="none" stroke-width="1" />
<circle cx="276.64" cy="347.3" r="0.77" fill="#17176e" stroke="none" stroke-width="1" />
<circle cx="275.22" cy="354.68" r="1.35" fill="#17176e" stroke="none" stroke-width="1" />
<circle cx="275.22" cy="359.6" r="1.62" fill="#17176e" stroke="none" stroke-width="1" />
<circle cx="275.22" cy="364.52" r="1.35" fill="#17176e" stroke="none" stroke-width="1" />
<circle cx="276.64" cy="371.9" r="0.77" fill="#17176e" stroke="none" stroke-width="1" />
<circle cx="275.22" cy="369.44" r="0.77" fill="#17176e" stroke="none" stroke-width="1" />
<circle cx="280.9" cy="344.84" r="1.35" fill="#17176e" stroke="none" stroke-width="1" />
<circle cx="280.9" cy="374.36" r="1.35" fill="#17176e" stroke="none" stroke-width="1" />
<circle cx="285.16" cy="342.38" r="1.62" fill="#17176e" stroke="none" stroke-width="1" />
<circle cx="285.16" cy="376.82" r="1.62" fill="#17176e" stroke="none" stroke-width="1" />
<circle cx="289.42" cy="339.92" r="1.35" fill="#17176e" stroke="none" stroke-width="1" />
<circle cx="289.42" cy="379.28" r="1.35" fill="#17176e" stroke="none" stroke-width="1" />
<circle cx="293.68" cy="337.46" r="0.77" fill="#17176e" stroke="none" stroke-width="1" />
<circle cx="296.52" cy="337.46" r="0.77" fill="#17176e" stroke="none" stroke-width="1" />
<circle cx="296.52" cy="381.74" r="0.77" fill="#17176e" stroke="none" stroke-width="1" />
<circle cx="293.68" cy="381.74" r="0.77" fill="#17176e" stroke="none" stroke-width="1" />
<circle cx="300.78" cy="339.92" r="1.35" fill="#17176e" stroke="none" stroke-width="1" />
<circle cx="300.78" cy="379.28" r="1.35" fill="#17176e" stroke="none" stroke-width="1" />
<circle cx="305.04" cy="342.38" r="1.62" fill="#17176e" stroke="none" stroke-width="1" />
<circle cx="305.04" cy="376.82" r="1.62" fill="#17176e" stroke="none" stroke-width="1" />
<circle cx="309.3" cy="344.84" r="1.35" fill="#17176e" stroke="none" stroke-width="1" />
<circle cx="309.3" cy="374.36" r="1.35" fill="#17176e" stroke="none" stroke-width="1" />
<circle cx="314.98" cy="349.76" r="0.77" fill="#17176e" stroke="none" stroke-width="1" />
<circle cx="313.56" cy="347.3" r="0.77" fill="#17176e" stroke="none" stroke-width="1" />
<circle cx="314.98" cy="354.68" r="1.35" fill="#17176e" stroke="none" stroke-width="1" />
<circle cx="314.98" cy="359.6" r="1.62" fill="#17176e" stroke="none" stroke-width="1" />
<circle cx="314.98" cy="364.52" r="1.35" fill="#17176e" stroke="none" stroke-width="1" />
<circle cx="314.98" cy="369.44" r="0.77" fill="#17176e" stroke="none" stroke-width="1" />
<circle cx="313.56" cy="371.9" r="0.77" fill="#17176e" stroke="none" stroke-width="1" />
<circle cx="279.48" cy="352.22" r="0.63" fill="#17176e" stroke="none" stroke-width="1" />
<circle cx="279.48" cy="347.3" r="0.36" fill="#17176e" stroke="none" stroke-width="1" />
<circle cx="276.64" cy="352.22" r="0.36" fill="#17176e" stroke="none" stroke-width="1" />
<circle cx="280.9" cy="349.76" r="0.63" fill="#17176e" stroke="none" stroke-width="1" />
<circle cx="279.48" cy="357.14" r="0.76" fill="#17176e" stroke="none" stroke-width="1" />
<circle cx="279.48" cy="362.06" r="0.76" fill="#17176e" stroke="none" stroke-width="1" />
<circle cx="279.48" cy="366.98" r="0.63" fill="#17176e" stroke="none" stroke-width="1" />
<circle cx="280.9" cy="369.44" r="0.63" fill="#17176e" stroke="none" stroke-width="1" />
<circle cx="276.64" cy="366.98" r="0.36" fill="#17176e" stroke="none" stroke-width="1" />
<circle cx="279.48" cy="371.9" r="0.36" fill="#17176e" stroke="none" stroke-width="1" />
<circle cx="285.16" cy="347.3" r="0.76" fill="#17176e" stroke="none" stroke-width="1" />
<circle cx="285.16" cy="371.9" r="0.76" fill="#17176e" stroke="none" stroke-width="1" />
<circle cx="289.42" cy="344.84" r="0.76" fill="#17176e" stroke="none" stroke-width="1" />
<circle cx="289.42" cy="374.36" r="0.76" fill="#17176e" stroke="none" stroke-width="1" />
<circle cx="293.68" cy="342.38" r="0.63" fill="#17176e" stroke="none" stroke-width="1" />
<circle cx="293.68" cy="376.82" r="0.63" fill="#17176e" stroke="none" stroke-width="1" />
<circle cx="297.94" cy="339.92" r="0.36" fill="#17176e" stroke="none" stroke-width="1" />
<circle cx="292.26" cy="339.92" r="0.36" fill="#17176e" stroke="none" stroke-width="1" />
<circle cx="296.52" cy="342.38" r="0.63" fill="#17176e" stroke="none" stroke-width="1" />
<circle cx="296.52" cy="376.82" r="0.63" fill="#17176e" stroke="none" stroke-width="1" />
<circle cx="292.26" cy="379.28" r="0.36" fill="#17176e" stroke="none" stroke-width="1" />
<circle cx="297.94" cy="379.28" r="0.36" fill="#17176e" stroke="none" stroke-width="1" />
<circle cx="300.78" cy="344.84" r="0.76" fill="#17176e" stroke="none" stroke-width="1" />
<circle cx="300.78" cy="374.36" r="0.76" fill="#17176e" stroke="none" stroke-width="1" />
<circle cx="305.04" cy="347.3" r="0.76" fill="#17176e" stroke="none" stroke-width="1" />
<circle cx="305.04" cy="371.9" r="0.76" fill="#17176e" stroke="none" stroke-width="1" />
<circle cx="309.3" cy="349.76" r="0.63" fill="#17176e" stroke="none" stroke-width="1" />
<circle cx="309.3" cy="369.44" r="0.63" fill="#17176e" stroke="none" stroke-width="1" />
<circle cx="310.72" cy="347.3" r="0.36" fill="#17176e" stroke="none" stroke-width="1" />
<circle cx="310.72" cy="352.22" r="0.63" fill="#17176e" stroke="none" stroke-width="1" />
<circle cx="313.56" cy="352.22" r="0.36" fill="#17176e" stroke="none" stroke-width="1" />
<circle cx="310.72" cy="357.14" r="0.76" fill="#17176e" stroke="none" stroke-width="1" />
<circle cx="310.72" cy="362.06" r="0.76" fill="#17176e" stroke="none" stroke-width="1" />
<circle cx="310.72" cy="366.98" r="0.63" fill="#17176e" stroke="none" stroke-width="1" />
<circle cx="310.72" cy="371.9" r="0.36" fill="#17176e" stroke="none" stroke-width="1" />
<circle cx="313.56" cy="366.98" r="0.36" fill="#17176e" stroke="none" stroke-width="1" />
<path d="M331.29,371.01L332.7,373.45M353.85,351.47L356.67,351.47M345.39,341.7L348.21,341.7M335.52,344.15L336.93,346.59M331.29,366.13L332.7,363.68M336.93,341.7L339.75,341.7M324.24,363.68L327.06,363.68M360.9,339.26L362.31,341.7M356.67,371.01L358.08,373.45M348.21,341.7L349.62,344.15M353.85,346.59L356.67,346.59M331.29,356.36L332.7,353.92M331.29,351.47L332.7,353.92M339.75,366.13L341.16,368.57M341.16,353.92L343.98,353.92M356.67,375.9L358.08,373.45M356.67,361.24L358.08,358.8M365.13,375.9L366.54,373.45M332.7,373.45L335.52,373.45M339.75,356.36L341.16,358.8M339.75,371.01L341.16,368.57M345.39,331.94L348.21,331.94M352.44,339.26L353.85,336.82M341.16,334.38L343.98,334.38M343.98,368.57L345.39,366.13M324.24,358.8L327.06,358.8M343.98,349.03L345.39,351.47M356.67,341.7L358.08,339.26M327.06,358.8L328.47,361.24M335.52,353.92L336.93,356.36M360.9,363.68L362.31,361.24M369.36,344.15L370.77,346.59M369.36,363.68L370.77,361.24M358.08,353.92L360.9,353.92M327.06,353.92L328.47,351.47M332.7,349.03L335.52,349.03M322.83,346.59L324.24,344.15M341.16,344.15L343.98,344.15M328.47,366.13L331.29,366.13M352.44,378.34L353.85,380.78M348.21,341.7L349.62,339.26M335.52,378.34L336.93,375.9M349.62,353.92L352.44,353.92M360.9,344.15L362.31,341.7M348.21,331.94L349.62,334.38M339.75,361.24L341.16,358.8M343.98,339.26L345.39,341.7M345.39,375.9L348.21,375.9M352.44,339.26L353.85,341.7M352.44,383.22L353.85,380.78M353.85,336.82L356.67,336.82M335.52,339.26L336.93,336.82M360.9,373.45L362.31,371.01M343.98,353.92L345.39,351.47M348.21,336.82L349.62,334.38M331.29,346.59L332.7,349.03M356.67,366.13L358.08,363.68M365.13,371.01L366.54,373.45M343.98,344.15L345.39,346.59M348.21,361.24L349.62,358.8M324.24,349.03L327.06,349.03M328.47,346.59L331.29,346.59M327.06,368.57L328.47,371.01M349.62,334.38L352.44,334.38M324.24,373.45L327.06,373.45M352.44,344.15L353.85,341.7M356.67,336.82L358.08,339.26M366.54,353.92L369.36,353.92M335.52,344.15L336.93,341.7M322.83,366.13L324.24,368.57M360.9,353.92L362.31,351.47M341.16,339.26L343.98,339.26M349.62,344.15L352.44,344.15M327.06,349.03L328.47,351.47M336.93,366.13L339.75,366.13M365.13,361.24L366.54,358.8M369.36,353.92L370.77,351.47M362.31,351.47L365.13,351.47M356.67,356.36L358.08,353.92M327.06,373.45L328.47,371.01M331.29,351.47L332.7,349.03M366.54,349.03L369.36,349.03M339.75,366.13L341.16,363.68M366.54,373.45L369.36,373.45M365.13,346.59L366.54,344.15M339.75,356.36L341.16,353.92M335.52,373.45L336.93,371.01M336.93,346.59L339.75,346.59M339.75,351.47L341.16,353.92M349.62,368.57L352.44,368.57M356.67,351.47L358.08,349.03M327.06,363.68L328.47,361.24M365.13,361.24L366.54,363.68M343.98,349.03L345.39,346.59M348.21,351.47L349.62,349.03M352.44,358.8L353.85,356.36M331.29,341.7L332.7,339.26M343.98,334.38L345.39,336.82M353.85,361.24L356.67,361.24M352.44,378.34L353.85,375.9M362.31,361.24L365.13,361.24M335.52,373.45L336.93,375.9M343.98,363.68L345.39,361.24M348.21,346.59L349.62,344.15M356.67,351.47L358.08,353.92M365.13,366.13L366.54,368.57M360.9,368.57L362.31,371.01M360.9,378.34L362.31,375.9M339.75,341.7L341.16,344.15M327.06,363.68L328.47,366.13M352.44,363.68L353.85,366.13M365.13,371.01L366.54,368.57M356.67,346.59L358.08,349.03M343.98,344.15L345.39,341.7M327.06,368.57L328.47,366.13M360.9,358.8L362.31,356.36M341.16,349.03L343.98,349.03M331.29,341.7L332.7,344.15M335.52,358.8L336.93,356.36M339.75,371.01L341.16,373.45M322.83,356.36L324.24,358.8M322.83,371.01L324.24,368.57M360.9,373.45L362.31,375.9M353.85,375.9L356.67,375.9M369.36,349.03L370.77,346.59M348.21,346.59L349.62,349.03M345.39,380.78L348.21,380.78M352.44,368.57L353.85,366.13M335.52,368.57L336.93,371.01M341.16,363.68L343.98,363.68M343.98,383.22L345.39,385.66M356.67,341.7L358.08,344.15M362.31,366.13L365.13,366.13M365.13,356.36L366.54,358.8M358.08,368.57L360.9,368.57M332.7,344.15L335.52,344.15M335.52,349.03L336.93,351.47M349.62,383.22L352.44,383.22M322.83,371.01L324.24,373.45M348.21,375.9L349.62,378.34M324.24,368.57L327.06,368.57M358.08,378.34L360.9,378.34M362.31,346.59L365.13,346.59M349.62,349.03L352.44,349.03M360.9,363.68L362.31,366.13M352.44,368.57L353.85,371.01M345.39,371.01L348.21,371.01M343.98,373.45L345.39,375.9M352.44,373.45L353.85,371.01M328.47,375.9L331.29,375.9M369.36,358.8L370.77,356.36M349.62,363.68L352.44,363.68M358.08,358.8L360.9,358.8M343.98,334.38L345.39,331.94M345.39,366.13L348.21,366.13M366.54,368.57L369.36,368.57M343.98,358.8L345.39,361.24M343.98,353.92L345.39,356.36M331.29,375.9L332.7,378.34M335.52,339.26L336.93,341.7M336.93,380.78L339.75,380.78M322.83,361.24L324.24,363.68M352.44,353.92L353.85,351.47M353.85,356.36L356.67,356.36M360.9,368.57L362.31,366.13M358.08,373.45L360.9,373.45M348.21,380.78L349.62,383.22M327.06,344.15L328.47,346.59M335.52,358.8L336.93,361.24M352.44,344.15L353.85,346.59M322.83,366.13L324.24,363.68M369.36,368.57L370.77,371.01M335.52,353.92L336.93,351.47M327.06,349.03L328.47,346.59M348.21,356.36L349.62,353.92M348.21,385.66L349.62,383.22M360.9,353.92L362.31,356.36M332.7,353.92L335.52,353.92M362.31,341.7L365.13,341.7M339.75,346.59L341.16,349.03M345.39,361.24L348.21,361.24M353.85,380.78L356.67,380.78M356.67,356.36L358.08,358.8M336.93,336.82L339.75,336.82M349.62,339.26L352.44,339.26M322.83,351.47L324.24,353.92M339.75,351.47L341.16,349.03M353.85,341.7L356.67,341.7M339.75,336.82L341.16,334.38M348.21,371.01L349.62,373.45M348.21,356.36L349.62,358.8M324.24,353.92L327.06,353.92M331.29,366.13L332.7,368.57M332.7,368.57L335.52,368.57M348.21,375.9L349.62,373.45M352.44,349.03L353.85,346.59M328.47,371.01L331.29,371.01M331.29,356.36L332.7,358.8M331.29,371.01L332.7,368.57M348.21,351.47L349.62,353.92M360.9,358.8L362.31,361.24M339.75,336.82L341.16,339.26M356.67,375.9L358.08,378.34M365.13,366.13L366.54,363.68M328.47,356.36L331.29,356.36M341.16,378.34L343.98,378.34M356.67,371.01L358.08,368.57M352.44,363.68L353.85,361.24M365.13,351.47L366.54,353.92M356.67,346.59L358.08,344.15M332.7,378.34L335.52,378.34M324.24,344.15L327.06,344.15M341.16,373.45L343.98,373.45M369.36,353.92L370.77,356.36M322.83,361.24L324.24,358.8M352.44,349.03L353.85,351.47M335.52,363.68L336.93,361.24M348.21,371.01L349.62,368.57M360.9,349.03L362.31,346.59M341.16,383.22L343.98,383.22M322.83,356.36L324.24,353.92M327.06,344.15L328.47,341.7M332.7,339.26L335.52,339.26M336.93,361.24L339.75,361.24M331.29,361.24L332.7,358.8M339.75,380.78L341.16,383.22M345.39,351.47L348.21,351.47M358.08,363.68L360.9,363.68M353.85,366.13L356.67,366.13M322.83,346.59L324.24,349.03M335.52,368.57L336.93,366.13M343.98,339.26L345.39,336.82M332.7,358.8L335.52,358.8M343.98,383.22L345.39,380.78M348.21,366.13L349.62,363.68M335.52,378.34L336.93,380.78M360.9,344.15L362.31,346.59M336.93,356.36L339.75,356.36M365.13,356.36L366.54,353.92M369.36,349.03L370.77,351.47M331.29,346.59L332.7,344.15M339.75,361.24L341.16,363.68M349.62,378.34L352.44,378.34M362.31,375.9L365.13,375.9M345.39,356.36L348.21,356.36M339.75,346.59L341.16,344.15M365.13,341.7L366.54,344.15M345.39,385.66L348.21,385.66M356.67,366.13L358.08,368.57M335.52,363.68L336.93,366.13M360.9,349.03L362.31,351.47M335.52,349.03L336.93,346.59M348.21,361.24L349.62,363.68M322.83,351.47L324.24,349.03M358.08,339.26L360.9,339.26M349.62,373.45L352.44,373.45M331.29,361.24L332.7,363.68M345.39,346.59L348.21,346.59M366.54,344.15L369.36,344.15M349.62,358.8L352.44,358.8M328.47,351.47L331.29,351.47M348.21,366.13L349.62,368.57M343.98,373.45L345.39,371.01M366.54,363.68L369.36,363.68M356.67,361.24L358.08,363.68M339.75,375.9L341.16,373.45M358.08,349.03L360.9,349.03M343.98,378.34L345.39,380.78M366.54,358.8L369.36,358.8M336.93,375.9L339.75,375.9M328.47,361.24L331.29,361.24M327.06,373.45L328.47,375.9M352.44,373.45L353.85,375.9M356.67,380.78L358.08,378.34M336.93,371.01L339.75,371.01M341.16,368.57L343.98,368.57M331.29,375.9L332.7,373.45M343.98,368.57L345.39,371.01M343.98,378.34L345.39,375.9M365.13,346.59L366.54,349.03M352.44,358.8L353.85,361.24M327.06,353.92L328.47,356.36M345.39,336.82L348.21,336.82M348.21,380.78L349.62,378.34M352.44,353.92L353.85,356.36M365.13,351.47L366.54,349.03M362.31,371.01L365.13,371.01M369.36,363.68L370.77,366.13M328.47,341.7L331.29,341.7M369.36,373.45L370.77,371.01M339.75,375.9L341.16,378.34M369.36,368.57L370.77,366.13M327.06,358.8L328.47,356.36M336.93,351.47L339.75,351.47M343.98,358.8L345.39,356.36M362.31,356.36L365.13,356.36M369.36,358.8L370.77,361.24M358.08,344.15L360.9,344.15M339.75,380.78L341.16,378.34M353.85,371.01L356.67,371.01M332.7,363.68L335.52,363.68M352.44,334.38L353.85,336.82M341.16,358.8L343.98,358.8M348.21,336.82L349.62,339.26M339.75,341.7L341.16,339.26M343.98,363.68L345.39,366.13" stroke="#b4b4b8" stroke-width="0.55" fill="none"/>
<circle cx="322.83" cy="346.59" r="0.73" fill="#17176e" stroke="none" stroke-width="1" />
<circle cx="324.24" cy="344.15" r="0.73" fill="#17176e" stroke="none" stroke-width="1" />
<circle cx="322.83" cy="351.47" r="1.23" fill="#17176e" stroke="none" stroke-width="1" />
<circle cx="322.83" cy="356.36" r="1.57" fill="#17176e" stroke="none" stroke-width="1" />
<circle cx="322.83" cy="361.24" r="1.57" fill="#17176e" stroke="none" stroke-width="1" />
<circle cx="322.83" cy="366.13" r="1.23" fill="#17176e" stroke="none" stroke-width="1" />
<circle cx="324.24" cy="373.45" r="0.73" fill="#17176e" stroke="none" stroke-width="1" />
<circle cx="322.83" cy="371.01" r="0.73" fill="#17176e" stroke="none" stroke-width="1" />
<circle cx="328.47" cy="341.7" r="1.23" fill="#17176e" stroke="none" stroke-width="1" />
<circle cx="328.47" cy="375.9" r="1.23" fill="#17176e" stroke="none" stroke-width="1" />
<circle cx="332.7" cy="339.26" r="1.57" fill="#17176e" stroke="none" stroke-width="1" />
<circle cx="332.7" cy="378.34" r="1.57" fill="#17176e" stroke="none" stroke-width="1" />
<circle cx="336.93" cy="336.82" r="1.57" fill="#17176e" stroke="none" stroke-width="1" />
<circle cx="336.93" cy="380.78" r="1.57" fill="#17176e" stroke="none" stroke-width="1" />
<circle cx="341.16" cy="334.38" r="1.23" fill="#17176e" stroke="none" stroke-width="1" />
<circle cx="341.16" cy="383.22" r="1.23" fill="#17176e" stroke="none" stroke-width="1" />
<circle cx="345.39" cy="331.94" r="0.73" fill="#17176e" stroke="none" stroke-width="1" />
<circle cx="348.21" cy="331.94" r="0.73" fill="#17176e" stroke="none" stroke-width="1" />
<circle cx="348.21" cy="385.66" r="0.73" fill="#17176e" stroke="none" stroke-width="1" />
<circle cx="345.39" cy="385.66" r="0.73" fill="#17176e" stroke="none" stroke-width="1" />
<circle cx="352.44" cy="334.38" r="1.23" fill="#17176e" stroke="none" stroke-width="1" />
<circle cx="352.44" cy="383.22" r="1.23" fill="#17176e" stroke="none" stroke-width="1" />
<circle cx="356.67" cy="336.82" r="1.57" fill="#17176e" stroke="none" stroke-width="1" />
<circle cx="356.67" cy="380.78" r="1.57" fill="#17176e" stroke="none" stroke-width="1" />
<circle cx="360.9" cy="339.26" r="1.57" fill="#17176e" stroke="none" stroke-width="1" />
<circle cx="360.9" cy="378.34" r="1.57" fill="#17176e" stroke="none" stroke-width="1" />
<circle cx="365.13" cy="341.7" r="1.23" fill="#17176e" stroke="none" stroke-width="1" />
<circle cx="365.13" cy="375.9" r="1.23" fill="#17176e" stroke="none" stroke-width="1" />
<circle cx="370.77" cy="346.59" r="0.73" fill="#17176e" stroke="none" stroke-width="1" />
<circle cx="369.36" cy="344.15" r="0.73" fill="#17176e" stroke="none" stroke-width="1" />
<circle cx="370.77" cy="351.47" r="1.23" fill="#17176e" stroke="none" stroke-width="1" />
<circle cx="370.77" cy="356.36" r="1.57" fill="#17176e" stroke="none" stroke-width="1" />
<circle cx="370.77" cy="361.24" r="1.57" fill="#17176e" stroke="none" stroke-width="1" />
<circle cx="370.77" cy="366.13" r="1.23" fill="#17176e" stroke="none" stroke-width="1" />
<circle cx="370.77" cy="371.01" r="0.73" fill="#17176e" stroke="none" stroke-width="1" />
<circle cx="369.36" cy="373.45" r="0.73" fill="#17176e" stroke="none" stroke-width="1" />
<circle cx="327.06" cy="349.03" r="0.57" fill="#17176e" stroke="none" stroke-width="1" />
<circle cx="328.47" cy="346.59" r="0.57" fill="#17176e" stroke="none" stroke-width="1" />
<circle cx="327.06" cy="353.92" r="0.73" fill="#17176e" stroke="none" stroke-width="1" />
<circle cx="327.06" cy="358.8" r="0.73" fill="#17176e" stroke="none" stroke-width="1" />
<circle cx="327.06" cy="363.68" r="0.73" fill="#17176e" stroke="none" stroke-width="1" />
<circle cx="327.06" cy="368.57" r="0.57" fill="#17176e" stroke="none" stroke-width="1" />
<circle cx="328.47" cy="371.01" r="0.57" fill="#17176e" stroke="none" stroke-width="1" />
<circle cx="332.7" cy="344.15" r="0.73" fill="#17176e" stroke="none" stroke-width="1" />
<circle cx="332.7" cy="373.45" r="0.73" fill="#17176e" stroke="none" stroke-width="1" />
<circle cx="336.93" cy="341.7" r="0.73" fill="#17176e" stroke="none" stroke-width="1" />
<circle cx="336.93" cy="375.9" r="0.73" fill="#17176e" stroke="none" stroke-width="1" />
<circle cx="341.16" cy="339.26" r="0.73" fill="#17176e" stroke="none" stroke-width="1" />
<circle cx="341.16" cy="378.34" r="0.73" fill="#17176e" stroke="none" stroke-width="1" />
<circle cx="345.39" cy="336.82" r="0.57" fill="#17176e" stroke="none" stroke-width="1" />
<circle cx="345.39" cy="380.78" r="0.57" fill="#17176e" stroke="none" stroke-width="1" />
<circle cx="348.21" cy="336.82" r="0.57" fill="#17176e" stroke="none" stroke-width="1" />
<circle cx="348.21" cy="380.78" r="0.57" fill="#17176e" stroke="none" stroke-width="1" />
<circle cx="352.44" cy="339.26" r="0.73" fill="#17176e" stroke="none" stroke-width="1" />
<circle cx="352.44" cy="378.34" r="0.73" fill="#17176e" stroke="none" stroke-width="1" />
<circle cx="356.67" cy="341.7" r="0.73" fill="#17176e" stroke="none" stroke-width="1" />
<circle cx="356.67" cy="375.9" r="0.73" fill="#17176e" stroke="none" stroke-width="1" />
<circle cx="360.9" cy="344.15" r="0.73" fill="#17176e" stroke="none" stroke-width="1" />
<circle cx="360.9" cy="373.45" r="0.73" fill="#17176e" stroke="none" stroke-width="1" />
<circle cx="365.13" cy="346.59" r="0.57" fill="#17176e" stroke="none" stroke-width="1" />
<circle cx="365.13" cy="371.01" r="0.57" fill="#17176e" stroke="none" stroke-width="1" />
<circle cx="366.54" cy="349.03" r="0.57" fill="#17176e" stroke="none" stroke-width="1" />
<circle cx="366.54" cy="353.92" r="0.73" fill="#17176e" stroke="none" stroke-width="1" />
<circle cx="366.54" cy="358.8" r="0.73" fill="#17176e" stroke="none" stroke-width="1" />
<circle cx="366.54" cy="363.68" r="0.73" fill="#17176e" stroke="none" stroke-width="1" />
<circle cx="366.54" cy="368.57" r="0.57" fill="#17176e" stroke="none" stroke-width="1" />
<path d="M432.16,382.42L433.72,379.71M394.72,344.59L396.28,347.29M415,347.29L418.12,347.29M390.04,358.1L391.6,355.4M418.12,379.71L419.68,377.01M418.12,363.5L419.68,360.8M376,349.99L377.56,352.69M427.48,379.71L429.04,377.01M399.4,374.31L400.96,371.61M394.72,333.78L396.28,336.48M422.8,366.2L424.36,363.5M418.12,341.89L419.68,339.18M394.72,355.4L396.28,358.1M419.68,355.4L422.8,355.4M385.36,355.4L386.92,352.69M386.92,368.91L390.04,368.91M422.8,344.59L424.36,341.89M408.76,331.08L410.32,333.78M399.4,363.5L400.96,360.8M391.6,333.78L394.72,333.78M413.44,387.82L415,385.12M436.84,358.1L438.4,355.4M404.08,355.4L405.64,352.69M386.92,347.29L390.04,347.29M376,377.01L377.56,379.71M377.56,363.5L380.68,363.5M394.72,344.59L396.28,341.89M400.96,339.18L404.08,339.18M424.36,352.69L427.48,352.69M377.56,358.1L380.68,358.1M376,366.2L377.56,363.5M377.56,341.89L380.68,341.89M376,349.99L377.56,347.29M394.72,333.78L396.28,331.08M427.48,363.5L429.04,366.2M404.08,333.78L405.64,336.48M424.36,363.5L427.48,363.5M408.76,347.29L410.32,344.59M418.12,352.69L419.68,355.4M385.36,339.18L386.92,341.89M385.36,366.2L386.92,368.91M400.96,393.22L404.08,393.22M419.68,333.78L422.8,333.78M422.8,360.8L424.36,358.1M390.04,341.89L391.6,344.59M418.12,341.89L419.68,344.59M419.68,371.61L422.8,371.61M410.32,387.82L413.44,387.82M380.68,374.31L382.24,377.01M419.68,382.42L422.8,382.42M410.32,349.99L413.44,349.99M413.44,371.61L415,374.31M410.32,366.2L413.44,366.2M419.68,360.8L422.8,360.8M404.08,333.78L405.64,331.08M377.56,379.71L380.68,379.71M390.04,379.71L391.6,382.42M380.68,363.5L382.24,366.2M386.92,385.12L390.04,385.12M433.72,379.71L436.84,379.71M394.72,360.8L396.28,363.5M424.36,341.89L427.48,341.89M415,385.12L418.12,385.12M382.24,339.18L385.36,339.18M418.12,358.1L419.68,360.8M380.68,352.69L382.24,355.4M399.4,352.69L400.96,349.99M399.4,336.48L400.96,333.78M396.28,331.08L399.4,331.08M390.04,358.1L391.6,360.8M385.36,382.42L386.92,379.71M418.12,379.71L419.68,382.42M413.44,366.2L415,363.5M410.32,328.38L413.44,328.38M380.68,363.5L382.24,360.8M413.44,349.99L415,352.69M427.48,341.89L429.04,339.18M380.68,358.1L382.24,355.4M432.16,355.4L433.72,358.1M394.72,371.61L396.28,368.91M432.16,349.99L433.72,352.69M376,360.8L377.56,358.1M422.8,344.59L424.36,347.29M427.48,358.1L429.04,355.4M424.36,379.71L427.48,379.71M399.4,363.5L400.96,366.2M413.44,387.82L415,390.52M405.64,358.1L408.76,358.1M394.72,349.99L396.28,347.29M376,377.01L377.56,374.31M380.68,352.69L382.24,349.99M410.32,377.01L413.44,377.01M405.64,347.29L408.76,347.29M408.76,368.91L410.32,371.61M399.4,379.71L400.96,377.01M436.84,368.91L438.4,371.61M413.44,377.01L415,379.71M376,366.2L377.56,368.91M404.08,371.61L405.64,374.31M404.08,382.42L405.64,379.71M408.76,385.12L410.32,382.42M405.64,336.48L408.76,336.48M405.64,395.93L408.76,395.93M419.68,344.59L422.8,344.59M408.76,336.48L410.32,339.18M394.72,387.82L396.28,390.52M380.68,341.89L382.24,339.18M390.04,368.91L391.6,366.2M433.72,341.89L436.84,341.89M400.96,355.4L404.08,355.4M436.84,368.91L438.4,366.2M376,355.4L377.56,352.69M413.44,339.18L415,336.48M400.96,333.78L404.08,333.78M404.08,371.61L405.64,368.91M382.24,360.8L385.36,360.8M391.6,349.99L394.72,349.99M400.96,344.59L404.08,344.59M415,336.48L418.12,336.48M376,344.59L377.56,341.89M408.76,336.48L410.32,333.78M390.04,347.29L391.6,349.99M418.12,368.91L419.68,366.2M404.08,344.59L405.64,347.29M408.76,363.5L410.32,360.8M382.24,349.99L385.36,349.99M385.36,371.61L386.92,374.31M394.72,387.82L396.28,385.12M382.24,377.01L385.36,377.01M429.04,355.4L432.16,355.4M422.8,355.4L424.36,352.69M396.28,368.91L399.4,368.91M436.84,358.1L438.4,360.8M418.12,358.1L419.68,355.4M394.72,377.01L396.28,374.31M396.28,347.29L399.4,347.29M399.4,352.69L400.96,355.4M413.44,328.38L415,331.08M413.44,360.8L415,358.1M380.68,341.89L382.24,344.59M429.04,382.42L432.16,382.42M422.8,371.61L424.36,374.31M422.8,382.42L424.36,379.71M399.4,341.89L400.96,344.59M413.44,366.2L415,368.91M390.04,385.12L391.6,387.82M404.08,344.59L405.64,341.89M380.68,379.71L382.24,382.42M385.36,371.61L386.92,368.91M380.68,358.1L382.24,360.8M432.16,349.99L433.72,347.29M408.76,347.29L410.32,349.99M405.64,385.12L408.76,385.12M394.72,371.61L396.28,374.31M427.48,358.1L429.04,360.8M436.84,347.29L438.4,349.99M408.76,325.67L410.32,328.38M394.72,349.99L396.28,352.69M380.68,379.71L382.24,377.01M405.64,374.31L408.76,374.31M413.44,377.01L415,374.31M429.04,371.61L432.16,371.61M386.92,336.48L390.04,336.48M418.12,331.08L419.68,333.78M394.72,339.18L396.28,341.89M396.28,385.12L399.4,385.12M399.4,331.08L400.96,328.38M413.44,355.4L415,352.69M415,358.1L418.12,358.1M422.8,371.61L424.36,368.91M408.76,385.12L410.32,387.82M385.36,344.59L386.92,347.29M390.04,385.12L391.6,382.42M380.68,368.91L382.24,366.2M376,371.61L377.56,374.31M436.84,347.29L438.4,344.59M408.76,374.31L410.32,377.01M390.04,368.91L391.6,371.61M386.92,374.31L390.04,374.31M436.84,374.31L438.4,371.61M408.76,352.69L410.32,355.4M433.72,368.91L436.84,368.91M427.48,368.91L429.04,366.2M386.92,358.1L390.04,358.1M391.6,387.82L394.72,387.82M413.44,393.22L415,390.52M400.96,382.42L404.08,382.42M418.12,347.29L419.68,344.59M394.72,366.2L396.28,363.5M405.64,325.67L408.76,325.67M408.76,374.31L410.32,371.61M385.36,344.59L386.92,341.89M385.36,382.42L386.92,385.12M405.64,352.69L408.76,352.69M432.16,360.8L433.72,358.1M390.04,347.29L391.6,344.59M376,371.61L377.56,368.91M376,344.59L377.56,347.29M405.64,390.52L408.76,390.52M418.12,368.91L419.68,371.61M408.76,363.5L410.32,366.2M419.68,339.18L422.8,339.18M386.92,352.69L390.04,352.69M419.68,349.99L422.8,349.99M377.56,368.91L380.68,368.91M418.12,385.12L419.68,382.42M386.92,363.5L390.04,363.5M400.96,371.61L404.08,371.61M432.16,366.2L433.72,368.91M432.16,377.01L433.72,374.31M377.56,347.29L380.68,347.29M386.92,341.89L390.04,341.89M399.4,379.71L400.96,382.42M433.72,347.29L436.84,347.29M415,374.31L418.12,374.31M391.6,366.2L394.72,366.2M404.08,382.42L405.64,385.12M400.96,360.8L404.08,360.8M399.4,341.89L400.96,339.18M415,352.69L418.12,352.69M382.24,366.2L385.36,366.2M415,390.52L418.12,390.52M391.6,377.01L394.72,377.01M399.4,358.1L400.96,360.8M404.08,349.99L405.64,352.69M385.36,360.8L386.92,363.5M432.16,366.2L433.72,363.5M380.68,347.29L382.24,344.59M410.32,355.4L413.44,355.4M404.08,339.18L405.64,341.89M413.44,339.18L415,341.89M394.72,339.18L396.28,336.48M410.32,333.78L413.44,333.78M399.4,331.08L400.96,333.78M380.68,368.91L382.24,371.61M410.32,344.59L413.44,344.59M427.48,347.29L429.04,344.59M399.4,358.1L400.96,355.4M404.08,349.99L405.64,347.29M390.04,336.48L391.6,339.18M408.76,352.69L410.32,349.99M415,363.5L418.12,363.5M436.84,374.31L438.4,377.01M413.44,333.78L415,331.08M394.72,377.01L396.28,379.71M427.48,368.91L429.04,371.61M399.4,390.52L400.96,387.82M418.12,347.29L419.68,349.99M408.76,390.52L410.32,393.22M394.72,360.8L396.28,358.1M432.16,339.18L433.72,341.89M390.04,336.48L391.6,333.78M422.8,333.78L424.36,336.48M422.8,382.42L424.36,385.12M424.36,368.91L427.48,368.91M436.84,352.69L438.4,349.99M408.76,379.71L410.32,382.42M427.48,336.48L429.04,339.18M424.36,347.29L427.48,347.29M386.92,379.71L390.04,379.71M427.48,385.12L429.04,382.42M404.08,360.8L405.64,363.5M404.08,355.4L405.64,358.1M424.36,336.48L427.48,336.48M413.44,344.59L415,347.29M418.12,336.48L419.68,333.78M394.72,355.4L396.28,352.69M385.36,349.99L386.92,347.29M408.76,358.1L410.32,355.4M408.76,390.52L410.32,387.82M405.64,363.5L408.76,363.5M376,355.4L377.56,358.1M396.28,336.48L399.4,336.48M391.6,371.61L394.72,371.61M408.76,379.71L410.32,377.01M390.04,374.31L391.6,371.61M418.12,374.31L419.68,371.61M410.32,393.22L413.44,393.22M419.68,387.82L422.8,387.82M422.8,349.99L424.36,347.29M429.04,377.01L432.16,377.01M422.8,377.01L424.36,374.31M391.6,339.18L394.72,339.18M396.28,363.5L399.4,363.5M399.4,385.12L400.96,387.82M390.04,363.5L391.6,360.8M396.28,390.52L399.4,390.52M419.68,366.2L422.8,366.2M380.68,347.29L382.24,349.99M404.08,339.18L405.64,336.48M404.08,387.82L405.64,385.12M396.28,358.1L399.4,358.1M410.32,382.42L413.44,382.42M394.72,366.2L396.28,368.91M429.04,344.59L432.16,344.59M424.36,385.12L427.48,385.12M410.32,360.8L413.44,360.8M404.08,328.38L405.64,325.67M404.08,377.01L405.64,374.31M377.56,374.31L380.68,374.31M429.04,360.8L432.16,360.8M396.28,374.31L399.4,374.31M427.48,347.29L429.04,349.99M385.36,355.4L386.92,358.1M424.36,374.31L427.48,374.31M432.16,371.61L433.72,368.91M396.28,352.69L399.4,352.69M424.36,358.1L427.48,358.1M376,360.8L377.56,363.5M418.12,385.12L419.68,387.82M399.4,385.12L400.96,382.42M413.44,333.78L415,336.48M422.8,360.8L424.36,363.5M432.16,377.01L433.72,379.71M390.04,374.31L391.6,377.01M399.4,390.52L400.96,393.22M405.64,341.89L408.76,341.89M396.28,341.89L399.4,341.89M422.8,339.18L424.36,341.89M436.84,363.5L438.4,360.8M418.12,374.31L419.68,377.01M408.76,341.89L410.32,344.59M390.04,352.69L391.6,355.4M399.4,368.91L400.96,371.61M405.64,331.08L408.76,331.08M436.84,352.69L438.4,355.4M432.16,344.59L433.72,347.29M413.44,382.42L415,385.12M408.76,341.89L410.32,339.18M394.72,382.42L396.28,379.71M405.64,379.71L408.76,379.71M427.48,374.31L429.04,377.01M413.44,344.59L415,341.89M436.84,341.89L438.4,344.59M418.12,336.48L419.68,339.18M422.8,339.18L424.36,336.48M385.36,349.99L386.92,352.69M427.48,363.5L429.04,360.8M432.16,355.4L433.72,352.69M429.04,349.99L432.16,349.99M385.36,377.01L386.92,374.31M390.04,352.69L391.6,349.99M399.4,368.91L400.96,366.2M404.08,393.22L405.64,390.52M418.12,352.69L419.68,349.99M410.32,371.61L413.44,371.61M408.76,395.93L410.32,393.22M385.36,366.2L386.92,363.5M432.16,344.59L433.72,341.89M422.8,387.82L424.36,385.12M390.04,341.89L391.6,339.18M413.44,382.42L415,379.71M404.08,366.2L405.64,363.5M433.72,374.31L436.84,374.31M427.48,374.31L429.04,371.61M400.96,328.38L404.08,328.38M400.96,349.99L404.08,349.99M422.8,377.01L424.36,379.71M380.68,374.31L382.24,371.61M433.72,352.69L436.84,352.69M415,379.71L418.12,379.71M413.44,371.61L415,368.91M400.96,366.2L404.08,366.2M404.08,387.82L405.64,390.52M377.56,352.69L380.68,352.69M429.04,339.18L432.16,339.18M391.6,344.59L394.72,344.59M433.72,358.1L436.84,358.1M382.24,371.61L385.36,371.61M422.8,366.2L424.36,368.91M404.08,328.38L405.64,331.08M404.08,377.01L405.64,379.71M408.76,331.08L410.32,328.38M405.64,368.91L408.76,368.91M419.68,377.01L422.8,377.01M432.16,371.61L433.72,374.31M422.8,355.4L424.36,358.1M404.08,393.22L405.64,395.93M391.6,355.4L394.72,355.4M399.4,347.29L400.96,349.99M410.32,339.18L413.44,339.18M415,341.89L418.12,341.89M408.76,358.1L410.32,360.8M382.24,355.4L385.36,355.4M436.84,363.5L438.4,366.2M413.44,349.99L415,347.29M399.4,336.48L400.96,339.18M385.36,339.18L386.92,336.48M415,331.08L418.12,331.08M433.72,363.5L436.84,363.5M427.48,352.69L429.04,355.4M436.84,379.71L438.4,377.01M391.6,382.42L394.72,382.42M382.24,344.59L385.36,344.59M400.96,377.01L404.08,377.01M400.96,387.82L404.08,387.82M415,368.91L418.12,368.91M391.6,360.8L394.72,360.8M408.76,368.91L410.32,366.2M394.72,382.42L396.28,385.12M382.24,382.42L385.36,382.42M399.4,347.29L400.96,344.59M427.48,341.89L429.04,344.59M422.8,349.99L424.36,352.69M390.04,363.5L391.6,366.2M429.04,366.2L432.16,366.2M418.12,363.5L419.68,366.2M396.28,379.71L399.4,379.71M385.36,377.01L386.92,379.71M390.04,379.71L391.6,377.01M413.44,360.8L415,363.5M413.44,355.4L415,358.1M427.48,352.69L429.04,349.99M385.36,360.8L386.92,358.1M404.08,360.8L405.64,358.1M432.16,360.8L433.72,363.5M427.48,379.71L429.04,382.42M399.4,374.31L400.96,377.01M418.12,390.52L419.68,387.82M404.08,366.2L405.64,368.91" stroke="#b4b4b8" stroke-width="0.55" fill="none"/>
<circle cx="376" cy="344.59" r="0.71" fill="#17176e" stroke="none" stroke-width="1" />
<circle cx="377.56" cy="341.89" r="0.71" fill="#17176e" stroke="none" stroke-width="1" />
<circle cx="376" cy="349.99" r="1.14" fill="#17176e" stroke="none" stroke-width="1" />
<circle cx="376" cy="355.4" r="1.48" fill="#17176e" stroke="none" stroke-width="1" />
<circle cx="376" cy="360.8" r="1.62" fill="#17176e" stroke="none" stroke-width="1" />
<circle cx="376" cy="366.2" r="1.48" fill="#17176e" stroke="none" stroke-width="1" />
<circle cx="376" cy="371.61" r="1.14" fill="#17176e" stroke="none" stroke-width="1" />
<circle cx="377.56" cy="379.71" r="0.71" fill="#17176e" stroke="none" stroke-width="1" />
<circle cx="376" cy="377.01" r="0.71" fill="#17176e" stroke="none" stroke-width="1" />
<circle cx="382.24" cy="339.18" r="1.14" fill="#17176e" stroke="none" stroke-width="1" />
<circle cx="382.24" cy="382.42" r="1.14" fill="#17176e" stroke="none" stroke-width="1" />
<circle cx="386.92" cy="336.48" r="1.48" fill="#17176e" stroke="none" stroke-width="1" />
<circle cx="386.92" cy="385.12" r="1.48" fill="#17176e" stroke="none" stroke-width="1" />
<circle cx="391.6" cy="333.78" r="1.62" fill="#17176e" stroke="none" stroke-width="1" />
<circle cx="391.6" cy="387.82" r="1.62" fill="#17176e" stroke="none" stroke-width="1" />
<circle cx="396.28" cy="331.08" r="1.48" fill="#17176e" stroke="none" stroke-width="1" />
<circle cx="396.28" cy="390.52" r="1.48" fill="#17176e" stroke="none" stroke-width="1" />
<circle cx="400.96" cy="328.38" r="1.14" fill="#17176e" stroke="none" stroke-width="1" />
<circle cx="400.96" cy="393.22" r="1.14" fill="#17176e" stroke="none" stroke-width="1" />
<circle cx="405.64" cy="325.67" r="0.71" fill="#17176e" stroke="none" stroke-width="1" />
<circle cx="408.76" cy="325.67" r="0.71" fill="#17176e" stroke="none" stroke-width="1" />
<circle cx="408.76" cy="395.93" r="0.71" fill="#17176e" stroke="none" stroke-width="1" />
<circle cx="405.64" cy="395.93" r="0.71" fill="#17176e" stroke="none" stroke-width="1" />
<circle cx="413.44" cy="328.38" r="1.14" fill="#17176e" stroke="none" stroke-width="1" />
<circle cx="413.44" cy="393.22" r="1.14" fill="#17176e" stroke="none" stroke-width="1" />
<circle cx="418.12" cy="331.08" r="1.48" fill="#17176e" stroke="none" stroke-width="1" />
<circle cx="418.12" cy="390.52" r="1.48" fill="#17176e" stroke="none" stroke-width="1" />
<circle cx="422.8" cy="333.78" r="1.62" fill="#17176e" stroke="none" stroke-width="1" />
<circle cx="422.8" cy="387.82" r="1.62" fill="#17176e" stroke="none" stroke-width="1" />
<circle cx="427.48" cy="336.48" r="1.48" fill="#17176e" stroke="none" stroke-width="1" />
<circle cx="427.48" cy="385.12" r="1.48" fill="#17176e" stroke="none" stroke-width="1" />
<circle cx="432.16" cy="339.18" r="1.14" fill="#17176e" stroke="none" stroke-width="1" />
<circle cx="432.16" cy="382.42" r="1.14" fill="#17176e" stroke="none" stroke-width="1" />
<circle cx="438.4" cy="344.59" r="0.71" fill="#17176e" stroke="none" stroke-width="1" />
<circle cx="436.84" cy="341.89" r="0.71" fill="#17176e" stroke="none" stroke-width="1" />
<circle cx="438.4" cy="349.99" r="1.14" fill="#17176e" stroke="none" stroke-width="1" />
<circle cx="438.4" cy="355.4" r="1.48" fill="#17176e" stroke="none" stroke-width="1" />
<circle cx="438.4" cy="360.8" r="1.62" fill="#17176e" stroke="none" stroke-width="1" />
<circle cx="438.4" cy="366.2" r="1.48" fill="#17176e" stroke="none" stroke-width="1" />
<circle cx="438.4" cy="371.61" r="1.14" fill="#17176e" stroke="none" stroke-width="1" />
<circle cx="438.4" cy="377.01" r="0.71" fill="#17176e" stroke="none" stroke-width="1" />
<circle cx="436.84" cy="379.71" r="0.71" fill="#17176e" stroke="none" stroke-width="1" />
<circle cx="380.68" cy="347.29" r="0.53" fill="#17176e" stroke="none" stroke-width="1" />
<circle cx="382.24" cy="344.59" r="0.53" fill="#17176e" stroke="none" stroke-width="1" />
<circle cx="380.68" cy="352.69" r="0.69" fill="#17176e" stroke="none" stroke-width="1" />
<circle cx="380.68" cy="358.1" r="0.76" fill="#17176e" stroke="none" stroke-width="1" />
<circle cx="380.68" cy="363.5" r="0.76" fill="#17176e" stroke="none" stroke-width="1" />
<circle cx="380.68" cy="368.91" r="0.69" fill="#17176e" stroke="none" stroke-width="1" />
<circle cx="380.68" cy="374.31" r="0.53" fill="#17176e" stroke="none" stroke-width="1" />
<circle cx="382.24" cy="377.01" r="0.53" fill="#17176e" stroke="none" stroke-width="1" />
<circle cx="386.92" cy="341.89" r="0.69" fill="#17176e" stroke="none" stroke-width="1" />
<circle cx="386.92" cy="379.71" r="0.69" fill="#17176e" stroke="none" stroke-width="1" />
<circle cx="391.6" cy="339.18" r="0.76" fill="#17176e" stroke="none" stroke-width="1" />
<circle cx="391.6" cy="382.42" r="0.76" fill="#17176e" stroke="none" stroke-width="1" />
<circle cx="396.28" cy="336.48" r="0.76" fill="#17176e" stroke="none" stroke-width="1" />
<circle cx="396.28" cy="385.12" r="0.76" fill="#17176e" stroke="none" stroke-width="1" />
<circle cx="400.96" cy="333.78" r="0.69" fill="#17176e" stroke="none" stroke-width="1" />
<circle cx="400.96" cy="387.82" r="0.69" fill="#17176e" stroke="none" stroke-width="1" />
<circle cx="405.64" cy="331.08" r="0.53" fill="#17176e" stroke="none" stroke-width="1" />
<circle cx="405.64" cy="390.52" r="0.53" fill="#17176e" stroke="none" stroke-width="1" />
<circle cx="408.76" cy="331.08" r="0.53" fill="#17176e" stroke="none" stroke-width="1" />
<circle cx="408.76" cy="390.52" r="0.53" fill="#17176e" stroke="none" stroke-width="1" />
<circle cx="413.44" cy="333.78" r="0.69" fill="#17176e" stroke="none" stroke-width="1" />
<circle cx="413.44" cy="387.82" r="0.69" fill="#17176e" stroke="none" stroke-width="1" />
<circle cx="418.12" cy="336.48" r="0.76" fill="#17176e" stroke="none" stroke-width="1" />
<circle cx="418.12" cy="385.12" r="0.76" fill="#17176e" stroke="none" stroke-width="1" />
<circle cx="422.8" cy="339.18" r="0.76" fill="#17176e" stroke="none" stroke-width="1" />
<circle cx="422.8" cy="382.42" r="0.76" fill="#17176e" stroke="none" stroke-width="1" />
<circle cx="427.48" cy="341.89" r="0.69" fill="#17176e" stroke="none" stroke-width="1" />
<circle cx="427.48" cy="379.71" r="0.69" fill="#17176e" stroke="none" stroke-width="1" />
<circle cx="432.16" cy="344.59" r="0.53" fill="#17176e" stroke="none" stroke-width="1" />
<circle cx="432.16" cy="377.01" r="0.53" fill="#17176e" stroke="none" stroke-width="1" />
<circle cx="433.72" cy="347.29" r="0.53" fill="#17176e" stroke="none" stroke-width="1" />
<circle cx="433.72" cy="352.69" r="0.69" fill="#17176e" stroke="none" stroke-width="1" />
<circle cx="433.72" cy="358.1" r="0.76" fill="#17176e" stroke="none" stroke-width="1" />
<circle cx="433.72" cy="363.5" r="0.76" fill="#17176e" stroke="none" stroke-width="1" />
<circle cx="433.72" cy="368.91" r="0.69" fill="#17176e" stroke="none" stroke-width="1" />
<circle cx="433.72" cy="374.31" r="0.53" fill="#17176e" stroke="none" stroke-width="1" />
<path d="M448.15,361.41L449.6,358.9M504.7,378.99L506.15,376.48M469.9,343.83L471.35,346.34M474.25,391.55L475.7,389.04M448.15,371.46L449.6,373.97M488.75,346.34L491.65,346.34M465.55,356.39L467,353.88M509.05,376.48L510.5,378.99M491.65,376.48L493.1,373.97M491.65,361.41L493.1,358.9M452.5,348.85L453.95,351.37M500.35,376.48L501.8,373.97M474.25,371.46L475.7,368.95M448.15,351.37L449.6,353.88M469.9,333.79L471.35,336.3M496,363.92L497.45,361.41M491.65,341.32L493.1,338.81M469.9,353.88L471.35,356.39M493.1,353.88L496,353.88M461.2,353.88L462.65,351.37M462.65,366.43L465.55,366.43M496,343.83L497.45,341.32M452.5,338.81L453.95,341.32M482.95,331.27L484.4,333.79M474.25,361.41L475.7,358.9M467,333.79L469.9,333.79M465.55,331.27L467,328.76M487.3,384.01L488.75,381.5M509.05,356.39L510.5,353.88M478.6,353.88L480.05,351.37M462.65,346.34L465.55,346.34M452.5,373.97L453.95,376.48M453.95,361.41L456.85,361.41M469.9,343.83L471.35,341.32M475.7,338.81L478.6,338.81M497.45,351.37L500.35,351.37M496,389.04L497.45,386.53M453.95,356.39L456.85,356.39M452.5,363.92L453.95,361.41M453.95,341.32L456.85,341.32M452.5,348.85L453.95,346.34M504.7,384.01L506.15,381.5M469.9,333.79L471.35,331.27M500.35,361.41L501.8,363.92M449.6,368.95L452.5,368.95M478.6,333.79L480.05,336.3M497.45,361.41L500.35,361.41M482.95,346.34L484.4,343.83M491.65,351.37L493.1,353.88M452.5,338.81L453.95,336.3M461.2,338.81L462.65,341.32M461.2,363.92L462.65,366.43M475.7,389.04L478.6,389.04M496,328.76L497.45,331.27M493.1,333.79L496,333.79M496,358.9L497.45,356.39M493.1,389.04L496,389.04M465.55,341.32L467,343.83M491.65,341.32L493.1,343.83M493.1,368.95L496,368.95M484.4,384.01L487.3,384.01M456.85,371.46L458.3,373.97M493.1,378.99L496,378.99M484.4,348.85L487.3,348.85M487.3,368.95L488.75,371.46M484.4,363.92L487.3,363.92M493.1,358.9L496,358.9M478.6,333.79L480.05,331.27M474.25,326.25L475.7,328.76M453.95,376.48L456.85,376.48M465.55,376.48L467,378.99M456.85,361.41L458.3,363.92M462.65,381.5L465.55,381.5M506.15,376.48L509.05,376.48M469.9,358.9L471.35,361.41M510.5,378.99L513.4,378.99M488.75,326.25L491.65,326.25M497.45,341.32L500.35,341.32M497.45,386.53L500.35,386.53M488.75,381.5L491.65,381.5M491.65,386.53L493.1,389.04M458.3,338.81L461.2,338.81M491.65,356.39L493.1,358.9M456.85,351.37L458.3,353.88M474.25,351.37L475.7,348.85M448.15,376.48L449.6,378.99M474.25,336.3L475.7,333.79M448.15,361.41L449.6,363.92M471.35,331.27L474.25,331.27M465.55,356.39L467,358.9M461.2,333.79L462.65,331.27M461.2,378.99L462.65,376.48M491.65,376.48L493.1,378.99M487.3,363.92L488.75,361.41M474.25,326.25L475.7,323.74M484.4,328.76L487.3,328.76M456.85,361.41L458.3,358.9M487.3,348.85L488.75,351.37M500.35,341.32L501.8,338.81M456.85,356.39L458.3,353.88M504.7,353.88L506.15,356.39M469.9,368.95L471.35,366.43M504.7,348.85L506.15,351.37M452.5,358.9L453.95,356.39M448.15,341.32L449.6,338.81M496,343.83L497.45,346.34M500.35,356.39L501.8,353.88M497.45,376.48L500.35,376.48M474.25,361.41L475.7,363.92M487.3,384.01L488.75,386.53M480.05,356.39L482.95,356.39M469.9,348.85L471.35,346.34M452.5,373.97L453.95,371.46M456.85,351.37L458.3,348.85M484.4,373.97L487.3,373.97M448.15,376.48L449.6,373.97M480.05,346.34L482.95,346.34M482.95,366.43L484.4,368.95M448.15,356.39L449.6,353.88M474.25,376.48L475.7,373.97M509.05,366.43L510.5,368.95M487.3,373.97L488.75,376.48M513.4,368.95L514.85,366.43M452.5,363.92L453.95,366.43M478.6,368.95L480.05,371.46M478.6,378.99L480.05,376.48M482.95,381.5L484.4,378.99M480.05,336.3L482.95,336.3M480.05,391.55L482.95,391.55M493.1,343.83L496,343.83M482.95,336.3L484.4,338.81M487.3,328.76L488.75,326.25M469.9,384.01L471.35,386.53M456.85,341.32L458.3,338.81M465.55,366.43L467,363.92M506.15,341.32L509.05,341.32M478.6,394.06L480.05,396.57M475.7,353.88L478.6,353.88M509.05,366.43L510.5,363.92M452.5,353.88L453.95,351.37M487.3,338.81L488.75,336.3M475.7,333.79L478.6,333.79M478.6,368.95L480.05,366.43M458.3,358.9L461.2,358.9M467,348.85L469.9,348.85M475.7,343.83L478.6,343.83M510.5,358.9L513.4,358.9M488.75,336.3L491.65,336.3M510.5,373.97L513.4,373.97M452.5,343.83L453.95,341.32M467,328.76L469.9,328.76M465.55,346.34L467,348.85M482.95,336.3L484.4,333.79M491.65,366.43L493.1,363.92M478.6,343.83L480.05,346.34M482.95,361.41L484.4,358.9M458.3,348.85L461.2,348.85M510.5,338.81L513.4,338.81M461.2,368.95L462.65,371.46M469.9,384.01L471.35,381.5M458.3,373.97L461.2,373.97M449.6,363.92L452.5,363.92M501.8,353.88L504.7,353.88M496,353.88L497.45,351.37M510.5,348.85L513.4,348.85M471.35,366.43L474.25,366.43M449.6,373.97L452.5,373.97M509.05,356.39L510.5,358.9M491.65,356.39L493.1,353.88M501.8,333.79L504.7,333.79M469.9,373.97L471.35,371.46M471.35,346.34L474.25,346.34M474.25,351.37L475.7,353.88M449.6,353.88L452.5,353.88M487.3,328.76L488.75,331.27M487.3,358.9L488.75,356.39M452.5,378.99L453.95,376.48M456.85,341.32L458.3,343.83M501.8,378.99L504.7,378.99M496,368.95L497.45,371.46M496,378.99L497.45,376.48M474.25,341.32L475.7,343.83M487.3,363.92L488.75,366.43M471.35,391.55L474.25,391.55M465.55,381.5L467,384.01M478.6,343.83L480.05,341.32M456.85,376.48L458.3,378.99M461.2,368.95L462.65,366.43M456.85,356.39L458.3,358.9M504.7,348.85L506.15,346.34M482.95,346.34L484.4,348.85M480.05,381.5L482.95,381.5M469.9,368.95L471.35,371.46M448.15,341.32L449.6,343.83M500.35,356.39L501.8,358.9M509.05,346.34L510.5,348.85M482.95,326.25L484.4,328.76M449.6,338.81L452.5,338.81M469.9,348.85L471.35,351.37M456.85,376.48L458.3,373.97M480.05,371.46L482.95,371.46M487.3,373.97L488.75,371.46M487.3,389.04L488.75,391.55M501.8,368.95L504.7,368.95M462.65,336.3L465.55,336.3M510.5,363.92L513.4,363.92M513.4,368.95L514.85,371.46M491.65,331.27L493.1,333.79M469.9,338.81L471.35,341.32M474.25,331.27L475.7,328.76M471.35,381.5L474.25,381.5M487.3,353.88L488.75,351.37M488.75,356.39L491.65,356.39M496,368.95L497.45,366.43M482.95,381.5L484.4,384.01M461.2,343.83L462.65,346.34M465.55,381.5L467,378.99M456.85,366.43L458.3,363.92M469.9,328.76L471.35,326.25M452.5,368.95L453.95,371.46M513.4,358.9L514.85,361.41M509.05,346.34L510.5,343.83M478.6,323.74L480.05,321.23M482.95,371.46L484.4,373.97M482.95,326.25L484.4,323.74M465.55,366.43L467,368.95M478.6,394.06L480.05,391.55M448.15,366.43L449.6,363.92M462.65,371.46L465.55,371.46M509.05,371.46L510.5,368.95M482.95,351.37L484.4,353.88M506.15,366.43L509.05,366.43M500.35,366.43L501.8,363.92M462.65,356.39L465.55,356.39M467,384.01L469.9,384.01M487.3,389.04L488.75,386.53M475.7,378.99L478.6,378.99M491.65,346.34L493.1,343.83M491.65,331.27L493.1,328.76M469.9,363.92L471.35,361.41M480.05,326.25L482.95,326.25M482.95,371.46L484.4,368.95M461.2,333.79L462.65,336.3M461.2,343.83L462.65,341.32M480.05,351.37L482.95,351.37M458.3,384.01L461.2,384.01M461.2,378.99L462.65,381.5M504.7,338.81L506.15,336.3M496,333.79L497.45,331.27M504.7,358.9L506.15,356.39M465.55,346.34L467,343.83M452.5,368.95L453.95,366.43M452.5,343.83L453.95,346.34M480.05,386.53L482.95,386.53M491.65,366.43L493.1,368.95M482.95,361.41L484.4,363.92M493.1,338.81L496,338.81M462.65,351.37L465.55,351.37M480.05,396.57L482.95,396.57M493.1,348.85L496,348.85M453.95,366.43L456.85,366.43M491.65,381.5L493.1,378.99M462.65,361.41L465.55,361.41M513.4,338.81L514.85,341.32M475.7,368.95L478.6,368.95M493.1,328.76L496,328.76M504.7,363.92L506.15,366.43M504.7,373.97L506.15,371.46M448.15,356.39L449.6,358.9M453.95,346.34L456.85,346.34M462.65,341.32L465.55,341.32M474.25,376.48L475.7,378.99M497.45,331.27L500.35,331.27M506.15,346.34L509.05,346.34M478.6,323.74L480.05,326.25M488.75,371.46L491.65,371.46M467,363.92L469.9,363.92M478.6,378.99L480.05,381.5M475.7,358.9L478.6,358.9M474.25,341.32L475.7,338.81M448.15,366.43L449.6,368.95M488.75,351.37L491.65,351.37M506.15,381.5L509.05,381.5M458.3,363.92L461.2,363.92M448.15,346.34L449.6,348.85M488.75,386.53L491.65,386.53M467,373.97L469.9,373.97M474.25,356.39L475.7,358.9M513.4,348.85L514.85,346.34M478.6,348.85L480.05,351.37M482.95,396.57L484.4,394.06M461.2,358.9L462.65,361.41M504.7,363.92L506.15,361.41M509.05,381.5L510.5,378.99M475.7,394.06L478.6,394.06M456.85,346.34L458.3,343.83M484.4,353.88L487.3,353.88M478.6,338.81L480.05,341.32M487.3,338.81L488.75,341.32M469.9,338.81L471.35,336.3M484.4,333.79L487.3,333.79M474.25,331.27L475.7,333.79M500.35,331.27L501.8,333.79M456.85,366.43L458.3,368.95M484.4,343.83L487.3,343.83M448.15,346.34L449.6,343.83M469.9,328.76L471.35,331.27M500.35,346.34L501.8,343.83M474.25,356.39L475.7,353.88M509.05,336.3L510.5,338.81M478.6,348.85L480.05,346.34M456.85,381.5L458.3,384.01M465.55,336.3L467,338.81M482.95,351.37L484.4,348.85M488.75,361.41L491.65,361.41M509.05,371.46L510.5,373.97M487.3,333.79L488.75,331.27M500.35,381.5L501.8,384.01M469.9,373.97L471.35,376.48M500.35,366.43L501.8,368.95M474.25,386.53L475.7,384.01M513.4,373.97L514.85,376.48M491.65,346.34L493.1,348.85M482.95,386.53L484.4,389.04M452.5,378.99L453.95,381.5M469.9,358.9L471.35,356.39M504.7,338.81L506.15,341.32M465.55,336.3L467,333.79M496,333.79L497.45,336.3M496,378.99L497.45,381.5M462.65,386.53L465.55,386.53M497.45,366.43L500.35,366.43M475.7,323.74L478.6,323.74M513.4,363.92L514.85,366.43M509.05,351.37L510.5,348.85M482.95,376.48L484.4,378.99M500.35,336.3L501.8,338.81M497.45,346.34L500.35,346.34M456.85,381.5L458.3,378.99M462.65,376.48L465.55,376.48M467,389.04L469.9,389.04M500.35,381.5L501.8,378.99M478.6,358.9L480.05,361.41M478.6,353.88L480.05,356.39M513.4,353.88L514.85,356.39M465.55,386.53L467,384.01M497.45,336.3L500.35,336.3M487.3,343.83L488.75,346.34M491.65,336.3L493.1,333.79M513.4,373.97L514.85,371.46M469.9,353.88L471.35,351.37M461.2,348.85L462.65,346.34M482.95,356.39L484.4,353.88M482.95,386.53L484.4,384.01M480.05,361.41L482.95,361.41M452.5,353.88L453.95,356.39M471.35,336.3L474.25,336.3M513.4,363.92L514.85,361.41M467,368.95L469.9,368.95M482.95,376.48L484.4,373.97M491.65,391.55L493.1,389.04M465.55,371.46L467,368.95M491.65,371.46L493.1,368.95M484.4,389.04L487.3,389.04M493.1,384.01L496,384.01M513.4,348.85L514.85,351.37M496,348.85L497.45,346.34M501.8,373.97L504.7,373.97M496,373.97L497.45,371.46M467,338.81L469.9,338.81M471.35,361.41L474.25,361.41M474.25,381.5L475.7,384.01M465.55,361.41L467,358.9M471.35,386.53L474.25,386.53M493.1,363.92L496,363.92M456.85,346.34L458.3,348.85M478.6,338.81L480.05,336.3M478.6,384.01L480.05,381.5M453.95,381.5L456.85,381.5M471.35,356.39L474.25,356.39M484.4,378.99L487.3,378.99M469.9,363.92L471.35,366.43M501.8,343.83L504.7,343.83M497.45,381.5L500.35,381.5M484.4,358.9L487.3,358.9M478.6,328.76L480.05,326.25M478.6,373.97L480.05,371.46M453.95,371.46L456.85,371.46M501.8,358.9L504.7,358.9M510.5,353.88L513.4,353.88M471.35,371.46L474.25,371.46M500.35,346.34L501.8,348.85M449.6,343.83L452.5,343.83M461.2,353.88L462.65,356.39M497.45,371.46L500.35,371.46M504.7,368.95L506.15,366.43M471.35,351.37L474.25,351.37M497.45,356.39L500.35,356.39M452.5,358.9L453.95,361.41M491.65,381.5L493.1,384.01M474.25,381.5L475.7,378.99M487.3,333.79L488.75,336.3M496,358.9L497.45,361.41M504.7,373.97L506.15,376.48M471.35,326.25L474.25,326.25M465.55,371.46L467,373.97M474.25,386.53L475.7,389.04M480.05,341.32L482.95,341.32M471.35,341.32L474.25,341.32M496,338.81L497.45,341.32M509.05,361.41L510.5,358.9M491.65,371.46L493.1,373.97M482.95,341.32L484.4,343.83M465.55,351.37L467,353.88M469.9,389.04L471.35,391.55M474.25,366.43L475.7,368.95M480.05,321.23L482.95,321.23M480.05,331.27L482.95,331.27M500.35,336.3L501.8,333.79M509.05,351.37L510.5,353.88M504.7,343.83L506.15,346.34M484.4,394.06L487.3,394.06M487.3,378.99L488.75,381.5M482.95,341.32L484.4,338.81M469.9,378.99L471.35,376.48M469.9,389.04L471.35,386.53M461.2,384.01L462.65,381.5M480.05,376.48L482.95,376.48M500.35,371.46L501.8,373.97M487.3,343.83L488.75,341.32M509.05,341.32L510.5,343.83M465.55,386.53L467,389.04M491.65,336.3L493.1,338.81M496,384.01L497.45,386.53M496,338.81L497.45,336.3M461.2,348.85L462.65,351.37M500.35,361.41L501.8,358.9M504.7,353.88L506.15,351.37M500.35,386.53L501.8,384.01M501.8,348.85L504.7,348.85M461.2,373.97L462.65,371.46M465.55,351.37L467,348.85M474.25,366.43L475.7,363.92M456.85,336.3L458.3,333.79M478.6,389.04L480.05,386.53M491.65,351.37L493.1,348.85M484.4,368.95L487.3,368.95M482.95,391.55L484.4,389.04M491.65,326.25L493.1,328.76M461.2,363.92L462.65,361.41M509.05,341.32L510.5,338.81M482.95,321.23L484.4,323.74M504.7,343.83L506.15,341.32M496,384.01L497.45,381.5M465.55,341.32L467,338.81M487.3,378.99L488.75,376.48M478.6,363.92L480.05,361.41M506.15,371.46L509.05,371.46M500.35,371.46L501.8,368.95M475.7,328.76L478.6,328.76M504.7,378.99L506.15,381.5M448.15,371.46L449.6,368.95M475.7,348.85L478.6,348.85M496,373.97L497.45,376.48M456.85,371.46L458.3,368.95M506.15,351.37L509.05,351.37M488.75,376.48L491.65,376.48M487.3,368.95L488.75,366.43M475.7,363.92L478.6,363.92M478.6,384.01L480.05,386.53M453.95,351.37L456.85,351.37M501.8,338.81L504.7,338.81M448.15,351.37L449.6,348.85M513.4,358.9L514.85,356.39M467,343.83L469.9,343.83M506.15,356.39L509.05,356.39M458.3,368.95L461.2,368.95M496,363.92L497.45,366.43M513.4,378.99L514.85,376.48M478.6,328.76L480.05,331.27M478.6,373.97L480.05,376.48M510.5,368.95L513.4,368.95M482.95,331.27L484.4,328.76M480.05,366.43L482.95,366.43M484.4,323.74L487.3,323.74M453.95,336.3L456.85,336.3M493.1,373.97L496,373.97M462.65,331.27L465.55,331.27M504.7,368.95L506.15,371.46M496,353.88L497.45,356.39M506.15,336.3L509.05,336.3M478.6,389.04L480.05,391.55M467,353.88L469.9,353.88M474.25,346.34L475.7,348.85M484.4,338.81L487.3,338.81M488.75,341.32L491.65,341.32M482.95,356.39L484.4,358.9M458.3,353.88L461.2,353.88M509.05,361.41L510.5,363.92M487.3,348.85L488.75,346.34M474.25,336.3L475.7,338.81M449.6,378.99L452.5,378.99M458.3,333.79L461.2,333.79M461.2,338.81L462.65,336.3M510.5,343.83L513.4,343.83M488.75,331.27L491.65,331.27M506.15,361.41L509.05,361.41M500.35,351.37L501.8,353.88M509.05,376.48L510.5,373.97M467,378.99L469.9,378.99M458.3,343.83L461.2,343.83M475.7,373.97L478.6,373.97M449.6,358.9L452.5,358.9M475.7,384.01L478.6,384.01M513.4,343.83L514.85,346.34M513.4,353.88L514.85,351.37M488.75,366.43L491.65,366.43M467,358.9L469.9,358.9M482.95,366.43L484.4,363.92M488.75,391.55L491.65,391.55M469.9,378.99L471.35,381.5M458.3,378.99L461.2,378.99M487.3,394.06L488.75,391.55M461.2,384.01L462.65,386.53M474.25,346.34L475.7,343.83M500.35,341.32L501.8,343.83M504.7,333.79L506.15,336.3M496,348.85L497.45,351.37M501.8,384.01L504.7,384.01M449.6,348.85L452.5,348.85M465.55,361.41L467,363.92M474.25,391.55L475.7,394.06M501.8,363.92L504.7,363.92M491.65,361.41L493.1,363.92M487.3,323.74L488.75,326.25M471.35,376.48L474.25,376.48M461.2,373.97L462.65,376.48M456.85,336.3L458.3,338.81M465.55,376.48L467,373.97M487.3,358.9L488.75,361.41M487.3,353.88L488.75,356.39M500.35,351.37L501.8,348.85M482.95,391.55L484.4,394.06M461.2,358.9L462.65,356.39M478.6,358.9L480.05,356.39M504.7,358.9L506.15,361.41M513.4,343.83L514.85,341.32M500.35,376.48L501.8,378.99M465.55,331.27L467,333.79M474.25,371.46L475.7,373.97M491.65,386.53L493.1,384.01M478.6,363.92L480.05,366.43" stroke="#b4b4b8" stroke-width="0.55" fill="none"/>
<circle cx="448.15" cy="341.32" r="0.69" fill="#17176e" stroke="none" stroke-width="1" />
<circle cx="449.6" cy="338.81" r="0.69" fill="#17176e" stroke="none" stroke-width="1" />
<circle cx="448.15" cy="346.34" r="1.06" fill="#17176e" stroke="none" stroke-width="1" />
<circle cx="448.15" cy="351.37" r="1.4" fill="#17176e" stroke="none" stroke-width="1" />
<circle cx="448.15" cy="356.39" r="1.59" fill="#17176e" stroke="none" stroke-width="1" />
<circle cx="448.15" cy="361.41" r="1.59" fill="#17176e" stroke="none" stroke-width="1" />
<circle cx="448.15" cy="366.43" r="1.4" fill="#17176e" stroke="none" stroke-width="1" />
<circle cx="448.15" cy="371.46" r="1.06" fill="#17176e" stroke="none" stroke-width="1" />
<circle cx="449.6" cy="378.99" r="0.69" fill="#17176e" stroke="none" stroke-width="1" />
<circle cx="448.15" cy="376.48" r="0.69" fill="#17176e" stroke="none" stroke-width="1" />
<circle cx="453.95" cy="336.3" r="1.06" fill="#17176e" stroke="none" stroke-width="1" />
<circle cx="453.95" cy="381.5" r="1.06" fill="#17176e" stroke="none" stroke-width="1" />
<circle cx="458.3" cy="333.79" r="1.4" fill="#17176e" stroke="none" stroke-width="1" />
<circle cx="458.3" cy="384.01" r="1.4" fill="#17176e" stroke="none" stroke-width="1" />
<circle cx="462.65" cy="331.27" r="1.59" fill="#17176e" stroke="none" stroke-width="1" />
<circle cx="462.65" cy="386.53" r="1.59" fill="#17176e" stroke="none" stroke-width="1" />
<circle cx="467" cy="328.76" r="1.59" fill="#17176e" stroke="none" stroke-width="1" />
<circle cx="467" cy="389.04" r="1.59" fill="#17176e" stroke="none" stroke-width="1" />
<circle cx="471.35" cy="326.25" r="1.4" fill="#17176e" stroke="none" stroke-width="1" />
<circle cx="471.35" cy="391.55" r="1.4" fill="#17176e" stroke="none" stroke-width="1" />
<circle cx="475.7" cy="323.74" r="1.06" fill="#17176e" stroke="none" stroke-width="1" />
<circle cx="475.7" cy="394.06" r="1.06" fill="#17176e" stroke="none" stroke-width="1" />
<circle cx="480.05" cy="321.23" r="0.69" fill="#17176e" stroke="none" stroke-width="1" />
<circle cx="482.95" cy="321.23" r="0.69" fill="#17176e" stroke="none" stroke-width="1" />
<circle cx="482.95" cy="396.57" r="0.69" fill="#17176e" stroke="none" stroke-width="1" />
<circle cx="480.05" cy="396.57" r="0.69" fill="#17176e" stroke="none" stroke-width="1" />
<circle cx="487.3" cy="323.74" r="1.06" fill="#17176e" stroke="none" stroke-width="1" />
<circle cx="487.3" cy="394.06" r="1.06" fill="#17176e" stroke="none" stroke-width="1" />
<circle cx="491.65" cy="326.25" r="1.4" fill="#17176e" stroke="none" stroke-width="1" />
<circle cx="491.65" cy="391.55" r="1.4" fill="#17176e" stroke="none" stroke-width="1" />
<circle cx="496" cy="328.76" r="1.59" fill="#17176e" stroke="none" stroke-width="1" />
<circle cx="496" cy="389.04" r="1.59" fill="#17176e" stroke="none" stroke-width="1" />
<circle cx="500.35" cy="331.27" r="1.59" fill="#17176e" stroke="none" stroke-width="1" />
<circle cx="500.35" cy="386.53" r="1.59" fill="#17176e" stroke="none" stroke-width="1" />
<circle cx="504.7" cy="333.79" r="1.4" fill="#17176e" stroke="none" stroke-width="1" />
<circle cx="504.7" cy="384.01" r="1.4" fill="#17176e" stroke="none" stroke-width="1" />
<circle cx="509.05" cy="336.3" r="1.06" fill="#17176e" stroke="none" stroke-width="1" />
<circle cx="509.05" cy="381.5" r="1.06" fill="#17176e" stroke="none" stroke-width="1" />
<circle cx="514.85" cy="341.32" r="0.69" fill="#17176e" stroke="none" stroke-width="1" />
<circle cx="513.4" cy="338.81" r="0.69" fill="#17176e" stroke="none" stroke-width="1" />
<circle cx="514.85" cy="346.34" r="1.06" fill="#17176e" stroke="none" stroke-width="1" />
<circle cx="514.85" cy="351.37" r="1.4" fill="#17176e" stroke="none" stroke-width="1" />
<circle cx="514.85" cy="356.39" r="1.59" fill="#17176e" stroke="none" stroke-width="1" />
<circle cx="514.85" cy="361.41" r="1.59" fill="#17176e" stroke="none" stroke-width="1" />
<circle cx="514.85" cy="366.43" r="1.4" fill="#17176e" stroke="none" stroke-width="1" />
<circle cx="514.85" cy="371.46" r="1.06" fill="#17176e" stroke="none" stroke-width="1" />
<circle cx="514.85" cy="376.48" r="0.69" fill="#17176e" stroke="none" stroke-width="1" />
<circle cx="513.4" cy="378.99" r="0.69" fill="#17176e" stroke="none" stroke-width="1" />
<circle cx="452.5" cy="343.83" r="0.5" fill="#17176e" stroke="none" stroke-width="1" />
<circle cx="453.95" cy="341.32" r="0.5" fill="#17176e" stroke="none" stroke-width="1" />
<circle cx="452.5" cy="348.85" r="0.65" fill="#17176e" stroke="none" stroke-width="1" />
<circle cx="452.5" cy="353.88" r="0.74" fill="#17176e" stroke="none" stroke-width="1" />
<circle cx="452.5" cy="358.9" r="0.74" fill="#17176e" stroke="none" stroke-width="1" />
<circle cx="452.5" cy="363.92" r="0.74" fill="#17176e" stroke="none" stroke-width="1" />
<circle cx="452.5" cy="368.95" r="0.65" fill="#17176e" stroke="none" stroke-width="1" />
<circle cx="452.5" cy="373.97" r="0.5" fill="#17176e" stroke="none" stroke-width="1" />
<circle cx="453.95" cy="376.48" r="0.5" fill="#17176e" stroke="none" stroke-width="1" />
<circle cx="458.3" cy="338.81" r="0.65" fill="#17176e" stroke="none" stroke-width="1" />
<circle cx="458.3" cy="378.99" r="0.65" fill="#17176e" stroke="none" stroke-width="1" />
<circle cx="462.65" cy="336.3" r="0.74" fill="#17176e" stroke="none" stroke-width="1" />
<circle cx="462.65" cy="381.5" r="0.74" fill="#17176e" stroke="none" stroke-width="1" />
<circle cx="467" cy="333.79" r="0.74" fill="#17176e" stroke="none" stroke-width="1" />
<circle cx="467" cy="384.01" r="0.74" fill="#17176e" stroke="none" stroke-width="1" />
<circle cx="471.35" cy="331.27" r="0.74" fill="#17176e" stroke="none" stroke-width="1" />
<circle cx="471.35" cy="386.53" r="0.74" fill="#17176e" stroke="none" stroke-width="1" />
<circle cx="475.7" cy="328.76" r="0.65" fill="#17176e" stroke="none" stroke-width="1" />
<circle cx="475.7" cy="389.04" r="0.65" fill="#17176e" stroke="none" stroke-width="1" />
<circle cx="480.05" cy="326.25" r="0.5" fill="#17176e" stroke="none" stroke-width="1" />
<circle cx="480.05" cy="391.55" r="0.5" fill="#17176e" stroke="none" stroke-width="1" />
<circle cx="482.95" cy="326.25" r="0.5" fill="#17176e" stroke="none" stroke-width="1" />
<circle cx="482.95" cy="391.55" r="0.5" fill="#17176e" stroke="none" stroke-width="1" />
<circle cx="487.3" cy="328.76" r="0.65" fill="#17176e" stroke="none" stroke-width="1" />
<circle cx="487.3" cy="389.04" r="0.65" fill="#17176e" stroke="none" stroke-width="1" />
<circle cx="491.65" cy="331.27" r="0.74" fill="#17176e" stroke="none" stroke-width="1" />
<circle cx="491.65" cy="386.53" r="0.74" fill="#17176e" stroke="none" stroke-width="1" />
<circle cx="496" cy="333.79" r="0.74" fill="#17176e" stroke="none" stroke-width="1" />
<circle cx="496" cy="384.01" r="0.74" fill="#17176e" stroke="none" stroke-width="1" />
<circle cx="500.35" cy="336.3" r="0.74" fill="#17176e" stroke="none" stroke-width="1" />
<circle cx="500.35" cy="381.5" r="0.74" fill="#17176e" stroke="none" stroke-width="1" />
<circle cx="504.7" cy="338.81" r="0.65" fill="#17176e" stroke="none" stroke-width="1" />
<circle cx="504.7" cy="378.99" r="0.65" fill="#17176e" stroke="none" stroke-width="1" />
<circle cx="509.05" cy="341.32" r="0.5" fill="#17176e" stroke="none" stroke-width="1" />
<circle cx="509.05" cy="376.48" r="0.5" fill="#17176e" stroke="none" stroke-width="1" />
<circle cx="510.5" cy="343.83" r="0.5" fill="#17176e" stroke="none" stroke-width="1" />
<circle cx="510.5" cy="348.85" r="0.65" fill="#17176e" stroke="none" stroke-width="1" />
<circle cx="510.5" cy="353.88" r="0.74" fill="#17176e" stroke="none" stroke-width="1" />
<circle cx="510.5" cy="358.9" r="0.74" fill="#17176e" stroke="none" stroke-width="1" />
<circle cx="510.5" cy="363.92" r="0.74" fill="#17176e" stroke="none" stroke-width="1" />
<circle cx="510.5" cy="368.95" r="0.65" fill="#17176e" stroke="none" stroke-width="1" />
<circle cx="510.5" cy="373.97" r="0.5" fill="#17176e" stroke="none" stroke-width="1" />
</g>
<g id="pl">
<text x="4.2" y="435.7" font-size="12.4" text-anchor="start" font-weight="bold" fill="#000" >l</text>
<rect x="27.6" y="431.8" width="193.4" height="106.3" fill="#fff" stroke="#111" stroke-width="1.2" />
<line x1="39.3" y1="538.1" x2="39.3" y2="534.3" stroke="#111" stroke-width="1" />
<text x="39.3" y="548.3" font-size="7.6" text-anchor="middle" font-weight="normal" fill="#111" stroke="#111" stroke-width="0.16" >0</text>
<line x1="63.6" y1="538.1" x2="63.6" y2="534.3" stroke="#111" stroke-width="1" />
<text x="63.6" y="548.3" font-size="7.6" text-anchor="middle" font-weight="normal" fill="#111" stroke="#111" stroke-width="0.16" >10</text>
<line x1="87.9" y1="538.1" x2="87.9" y2="534.3" stroke="#111" stroke-width="1" />
<text x="87.9" y="548.3" font-size="7.6" text-anchor="middle" font-weight="normal" fill="#111" stroke="#111" stroke-width="0.16" >20</text>
<line x1="112.2" y1="538.1" x2="112.2" y2="534.3" stroke="#111" stroke-width="1" />
<text x="112.2" y="548.3" font-size="7.6" text-anchor="middle" font-weight="normal" fill="#111" stroke="#111" stroke-width="0.16" >30</text>
<line x1="136.5" y1="538.1" x2="136.5" y2="534.3" stroke="#111" stroke-width="1" />
<text x="136.5" y="548.3" font-size="7.6" text-anchor="middle" font-weight="normal" fill="#111" stroke="#111" stroke-width="0.16" >40</text>
<line x1="160.8" y1="538.1" x2="160.8" y2="534.3" stroke="#111" stroke-width="1" />
<text x="160.8" y="548.3" font-size="7.6" text-anchor="middle" font-weight="normal" fill="#111" stroke="#111" stroke-width="0.16" >50</text>
<line x1="185.1" y1="538.1" x2="185.1" y2="534.3" stroke="#111" stroke-width="1" />
<text x="185.1" y="548.3" font-size="7.6" text-anchor="middle" font-weight="normal" fill="#111" stroke="#111" stroke-width="0.16" >60</text>
<line x1="209.4" y1="538.1" x2="209.4" y2="534.3" stroke="#111" stroke-width="1" />
<text x="209.4" y="548.3" font-size="7.6" text-anchor="middle" font-weight="normal" fill="#111" stroke="#111" stroke-width="0.16" >70</text>
<line x1="27.6" y1="526.2" x2="31.4" y2="526.2" stroke="#111" stroke-width="1" />
<text x="24" y="528.9" font-size="7.6" text-anchor="end" font-weight="normal" fill="#111" stroke="#111" stroke-width="0.16" >0</text>
<line x1="27.6" y1="502.6" x2="31.4" y2="502.6" stroke="#111" stroke-width="1" />
<text x="24" y="505.3" font-size="7.6" text-anchor="end" font-weight="normal" fill="#111" stroke="#111" stroke-width="0.16" >5</text>
<line x1="27.6" y1="479" x2="31.4" y2="479" stroke="#111" stroke-width="1" />
<text x="24" y="481.7" font-size="7.6" text-anchor="end" font-weight="normal" fill="#111" stroke="#111" stroke-width="0.16" >10</text>
<line x1="27.6" y1="455.4" x2="31.4" y2="455.4" stroke="#111" stroke-width="1" />
<text x="24" y="458.1" font-size="7.6" text-anchor="end" font-weight="normal" fill="#111" stroke="#111" stroke-width="0.16" >15</text>
<line x1="27.6" y1="431.8" x2="31.4" y2="431.8" stroke="#111" stroke-width="1" />
<text x="24" y="434.5" font-size="7.6" text-anchor="end" font-weight="normal" fill="#111" stroke="#111" stroke-width="0.16" >20</text>
<text x="12.6" y="478.5" font-size="8.7" text-anchor="middle" font-weight="normal" fill="#111" stroke="#111" stroke-width="0.16" transform="rotate(-90 12.6 478.5)" >ΔE (eV/nm)</text>
<text x="120" y="559.4" font-size="8" text-anchor="middle" font-weight="normal" fill="#111" stroke="#111" stroke-width="0.16" >Reaction coordinate ΔL (Å)</text>
<clipPath id="clipL"><rect x="27.6" y="431.8" width="193.4" height="106.3"/></clipPath>
<line x1="79" y1="443.5" x2="93" y2="472.5" stroke="#444" stroke-width="0.5" />
<line x1="79" y1="452" x2="93.5" y2="480" stroke="#444" stroke-width="0.5" />
<line x1="79" y1="461" x2="93.5" y2="490" stroke="#444" stroke-width="0.5" />
<line x1="79" y1="470" x2="93.5" y2="503" stroke="#444" stroke-width="0.5" />
<path d="M67,526 L78,526 C84,526 84,520 89,520 C94,520 94,526 100,526 L111,526" fill="none" stroke="#666" stroke-width="0.7"/>
<path d="M117,526 L127,526 C131,526 130.6,522 130.4,518.5 C130.2,515 130.6,512.6 132.3,512.6 C134,512.6 134.4,515 134.2,518.5 C134,522 133.6,526 137.6,526 L146,526" fill="none" stroke="#666" stroke-width="0.7"/>
<path d="M150,526 L160,526 C164.4,526 163.8,520 163.8,514 C163.8,508 162,501.5 162.2,498.6 C162.4,496 163.4,495.2 164.8,495.2 C166.2,495.2 167.2,496 167.4,498.6 C167.6,501.5 165.8,508 165.8,514 C165.8,520 165.2,526 169.6,526 L178,526" fill="none" stroke="#666" stroke-width="0.7"/>
<g clip-path="url(#clipL)">
<polyline points="39.3,526.2 40.52,525.02 41.73,521.95 42.95,516.76 44.16,509.21 45.38,499.77 46.59,488.44 47.8,475.22 49.02,460.59 49.99,446.9 50.96,431.8 51.45,423.3" fill="none" stroke="#000" stroke-width="1.6" />
<rect x="37.85" y="524.75" width="2.9" height="2.9" fill="#000" stroke="none" stroke-width="1" />
<rect x="38.21" y="524.4" width="2.9" height="2.9" fill="#000" stroke="none" stroke-width="1" />
<rect x="38.56" y="524.06" width="2.9" height="2.9" fill="#000" stroke="none" stroke-width="1" />
<rect x="38.92" y="523.71" width="2.9" height="2.9" fill="#000" stroke="none" stroke-width="1" />
<rect x="39.28" y="523.03" width="2.9" height="2.9" fill="#000" stroke="none" stroke-width="1" />
<rect x="39.64" y="522.13" width="2.9" height="2.9" fill="#000" stroke="none" stroke-width="1" />
<rect x="39.99" y="521.22" width="2.9" height="2.9" fill="#000" stroke="none" stroke-width="1" />
<rect x="40.35" y="520.2" width="2.9" height="2.9" fill="#000" stroke="none" stroke-width="1" />
<rect x="40.71" y="518.67" width="2.9" height="2.9" fill="#000" stroke="none" stroke-width="1" />
<rect x="41.07" y="517.14" width="2.9" height="2.9" fill="#000" stroke="none" stroke-width="1" />
<rect x="41.42" y="515.62" width="2.9" height="2.9" fill="#000" stroke="none" stroke-width="1" />
<rect x="41.78" y="513.53" width="2.9" height="2.9" fill="#000" stroke="none" stroke-width="1" />
<rect x="42.14" y="511.31" width="2.9" height="2.9" fill="#000" stroke="none" stroke-width="1" />
<rect x="42.5" y="509.09" width="2.9" height="2.9" fill="#000" stroke="none" stroke-width="1" />
<rect x="42.85" y="506.65" width="2.9" height="2.9" fill="#000" stroke="none" stroke-width="1" />
<rect x="43.21" y="503.87" width="2.9" height="2.9" fill="#000" stroke="none" stroke-width="1" />
<rect x="43.57" y="501.09" width="2.9" height="2.9" fill="#000" stroke="none" stroke-width="1" />
<rect x="43.92" y="498.32" width="2.9" height="2.9" fill="#000" stroke="none" stroke-width="1" />
<rect x="44.28" y="494.99" width="2.9" height="2.9" fill="#000" stroke="none" stroke-width="1" />
<rect x="44.64" y="491.65" width="2.9" height="2.9" fill="#000" stroke="none" stroke-width="1" />
<rect x="45" y="488.32" width="2.9" height="2.9" fill="#000" stroke="none" stroke-width="1" />
<rect x="45.35" y="484.66" width="2.9" height="2.9" fill="#000" stroke="none" stroke-width="1" />
<rect x="45.71" y="480.77" width="2.9" height="2.9" fill="#000" stroke="none" stroke-width="1" />
<rect x="46.07" y="476.88" width="2.9" height="2.9" fill="#000" stroke="none" stroke-width="1" />
<rect x="46.43" y="472.91" width="2.9" height="2.9" fill="#000" stroke="none" stroke-width="1" />
<rect x="46.78" y="468.61" width="2.9" height="2.9" fill="#000" stroke="none" stroke-width="1" />
<rect x="47.14" y="464.31" width="2.9" height="2.9" fill="#000" stroke="none" stroke-width="1" />
<rect x="47.5" y="460" width="2.9" height="2.9" fill="#000" stroke="none" stroke-width="1" />
<rect x="47.86" y="455.12" width="2.9" height="2.9" fill="#000" stroke="none" stroke-width="1" />
<rect x="48.21" y="450.08" width="2.9" height="2.9" fill="#000" stroke="none" stroke-width="1" />
<rect x="48.57" y="445.01" width="2.9" height="2.9" fill="#000" stroke="none" stroke-width="1" />
<rect x="48.93" y="439.46" width="2.9" height="2.9" fill="#000" stroke="none" stroke-width="1" />
<rect x="49.29" y="433.9" width="2.9" height="2.9" fill="#000" stroke="none" stroke-width="1" />
<rect x="49.64" y="428.1" width="2.9" height="2.9" fill="#000" stroke="none" stroke-width="1" />
<rect x="50" y="421.85" width="2.9" height="2.9" fill="#000" stroke="none" stroke-width="1" />
<polyline points="42.22,520.06 44.16,512.51 46.59,505.9 48.05,503.54 51.45,499.77 56.31,495.05 63.6,490.33 70.89,486.55 78.18,483.72 85.47,480.89 91.06,478.06 92.76,475.22 94.22,470.5 97.62,470.5 107.34,470.03 117.06,469.56 131.64,468.62" fill="none" stroke="#2a7fd0" stroke-width="1.3" />
<polygon points="40.52,518.86 43.92,518.86 42.22,521.86" fill="#2a7fd0" stroke="none" stroke-width="1" />
<polygon points="44.65,505.36 48.05,505.36 46.35,508.36" fill="#2a7fd0" stroke="none" stroke-width="1" />
<polygon points="48.78,499.65 52.18,499.65 50.48,502.65" fill="#2a7fd0" stroke="none" stroke-width="1" />
<polygon points="52.91,495.5 56.31,495.5 54.61,498.5" fill="#2a7fd0" stroke="none" stroke-width="1" />
<polygon points="57.04,492.27 60.44,492.27 58.74,495.27" fill="#2a7fd0" stroke="none" stroke-width="1" />
<polygon points="61.17,489.6 64.57,489.6 62.87,492.6" fill="#2a7fd0" stroke="none" stroke-width="1" />
<polygon points="65.3,487.37 68.7,487.37 67,490.37" fill="#2a7fd0" stroke="none" stroke-width="1" />
<polygon points="69.43,485.26 72.83,485.26 71.13,488.26" fill="#2a7fd0" stroke="none" stroke-width="1" />
<polygon points="73.56,483.65 76.96,483.65 75.26,486.65" fill="#2a7fd0" stroke="none" stroke-width="1" />
<polygon points="77.69,482.05 81.09,482.05 79.39,485.05" fill="#2a7fd0" stroke="none" stroke-width="1" />
<polygon points="81.83,480.44 85.23,480.44 83.53,483.44" fill="#2a7fd0" stroke="none" stroke-width="1" />
<polygon points="85.96,478.58 89.36,478.58 87.66,481.58" fill="#2a7fd0" stroke="none" stroke-width="1" />
<polygon points="90.09,475.64 93.49,475.64 91.79,478.64" fill="#2a7fd0" stroke="none" stroke-width="1" />
<polygon points="94.22,469.3 97.62,469.3 95.92,472.3" fill="#2a7fd0" stroke="none" stroke-width="1" />
<polygon points="98.35,469.19 101.75,469.19 100.05,472.19" fill="#2a7fd0" stroke="none" stroke-width="1" />
<polygon points="102.48,468.99 105.88,468.99 104.18,471.99" fill="#2a7fd0" stroke="none" stroke-width="1" />
<polygon points="106.61,468.78 110.01,468.78 108.31,471.78" fill="#2a7fd0" stroke="none" stroke-width="1" />
<polygon points="110.74,468.58 114.14,468.58 112.44,471.58" fill="#2a7fd0" stroke="none" stroke-width="1" />
<polygon points="114.87,468.38 118.27,468.38 116.57,471.38" fill="#2a7fd0" stroke="none" stroke-width="1" />
<polygon points="119,468.12 122.4,468.12 120.7,471.12" fill="#2a7fd0" stroke="none" stroke-width="1" />
<polygon points="123.14,467.86 126.54,467.86 124.84,470.86" fill="#2a7fd0" stroke="none" stroke-width="1" />
<polygon points="127.27,467.59 130.67,467.59 128.97,470.59" fill="#2a7fd0" stroke="none" stroke-width="1" />
<polyline points="42.22,520.54 44.16,513.93 46.59,508.26 48.05,506.38 51.45,503.07 56.31,499.3 63.6,495.05 70.89,491.74 78.18,488.91 85.47,486.55 92.76,483.72 94.7,481.83 95.68,476.17 97.62,475.93 107.34,476.4 117.06,476.88 131.64,477.11" fill="none" stroke="#e8502a" stroke-width="1.3" />
<polygon points="40.52,519.34 43.92,519.34 42.22,522.34" fill="#e8502a" stroke="none" stroke-width="1" />
<polygon points="44.65,507.63 48.05,507.63 46.35,510.63" fill="#e8502a" stroke="none" stroke-width="1" />
<polygon points="48.78,502.82 52.18,502.82 50.48,505.82" fill="#e8502a" stroke="none" stroke-width="1" />
<polygon points="52.91,499.42 56.31,499.42 54.61,502.42" fill="#e8502a" stroke="none" stroke-width="1" />
<polygon points="57.04,496.68 60.44,496.68 58.74,499.68" fill="#e8502a" stroke="none" stroke-width="1" />
<polygon points="61.17,494.27 64.57,494.27 62.87,497.27" fill="#e8502a" stroke="none" stroke-width="1" />
<polygon points="65.3,492.31 68.7,492.31 67,495.31" fill="#e8502a" stroke="none" stroke-width="1" />
<polygon points="69.43,490.45 72.83,490.45 71.13,493.45" fill="#e8502a" stroke="none" stroke-width="1" />
<polygon points="73.56,488.84 76.96,488.84 75.26,491.84" fill="#e8502a" stroke="none" stroke-width="1" />
<polygon points="77.69,487.32 81.09,487.32 79.39,490.32" fill="#e8502a" stroke="none" stroke-width="1" />
<polygon points="81.83,485.98 85.23,485.98 83.53,488.98" fill="#e8502a" stroke="none" stroke-width="1" />
<polygon points="85.96,484.5 89.36,484.5 87.66,487.5" fill="#e8502a" stroke="none" stroke-width="1" />
<polygon points="90.09,482.9 93.49,482.9 91.79,485.9" fill="#e8502a" stroke="none" stroke-width="1" />
<polygon points="94.22,474.94 97.62,474.94 95.92,477.94" fill="#e8502a" stroke="none" stroke-width="1" />
<polygon points="98.35,474.85 101.75,474.85 100.05,477.85" fill="#e8502a" stroke="none" stroke-width="1" />
<polygon points="102.48,475.05 105.88,475.05 104.18,478.05" fill="#e8502a" stroke="none" stroke-width="1" />
<polygon points="106.61,475.25 110.01,475.25 108.31,478.25" fill="#e8502a" stroke="none" stroke-width="1" />
<polygon points="110.74,475.45 114.14,475.45 112.44,478.45" fill="#e8502a" stroke="none" stroke-width="1" />
<polygon points="114.87,475.65 118.27,475.65 116.57,478.65" fill="#e8502a" stroke="none" stroke-width="1" />
<polygon points="119,475.74 122.4,475.74 120.7,478.74" fill="#e8502a" stroke="none" stroke-width="1" />
<polygon points="123.14,475.8 126.54,475.8 124.84,478.8" fill="#e8502a" stroke="none" stroke-width="1" />
<polygon points="127.27,475.87 130.67,475.87 128.97,478.87" fill="#e8502a" stroke="none" stroke-width="1" />
<polyline points="42.22,521.01 44.16,515.82 46.59,511.57 48.05,509.68 51.45,507.32 56.31,504.49 63.6,501.18 70.89,498.35 78.18,495.52 85.47,493.16 92.76,490.33 95.68,488.44 97.13,483.25 98.35,482.3 107.34,483.25 121.92,484.19 141.36,485.37 160.8,486.55 180.24,487.5 199.68,488.44" fill="none" stroke="#1a9a4a" stroke-width="1.3" />
<circle cx="42.22" cy="521.01" r="1.5" fill="#1a9a4a" stroke="none" stroke-width="1" />
<circle cx="45.98" cy="512.63" r="1.5" fill="#1a9a4a" stroke="none" stroke-width="1" />
<circle cx="49.75" cy="508.5" r="1.5" fill="#1a9a4a" stroke="none" stroke-width="1" />
<circle cx="53.52" cy="506.12" r="1.5" fill="#1a9a4a" stroke="none" stroke-width="1" />
<circle cx="57.28" cy="504.05" r="1.5" fill="#1a9a4a" stroke="none" stroke-width="1" />
<circle cx="61.05" cy="502.34" r="1.5" fill="#1a9a4a" stroke="none" stroke-width="1" />
<circle cx="64.81" cy="500.71" r="1.5" fill="#1a9a4a" stroke="none" stroke-width="1" />
<circle cx="68.58" cy="499.25" r="1.5" fill="#1a9a4a" stroke="none" stroke-width="1" />
<circle cx="72.35" cy="497.79" r="1.5" fill="#1a9a4a" stroke="none" stroke-width="1" />
<circle cx="76.11" cy="496.32" r="1.5" fill="#1a9a4a" stroke="none" stroke-width="1" />
<circle cx="79.88" cy="494.97" r="1.5" fill="#1a9a4a" stroke="none" stroke-width="1" />
<circle cx="83.65" cy="493.75" r="1.5" fill="#1a9a4a" stroke="none" stroke-width="1" />
<circle cx="87.41" cy="492.4" r="1.5" fill="#1a9a4a" stroke="none" stroke-width="1" />
<circle cx="91.18" cy="490.94" r="1.5" fill="#1a9a4a" stroke="none" stroke-width="1" />
<circle cx="94.95" cy="488.91" r="1.5" fill="#1a9a4a" stroke="none" stroke-width="1" />
<circle cx="98.71" cy="482.34" r="1.5" fill="#1a9a4a" stroke="none" stroke-width="1" />
<circle cx="102.48" cy="482.74" r="1.5" fill="#1a9a4a" stroke="none" stroke-width="1" />
<circle cx="106.25" cy="483.13" r="1.5" fill="#1a9a4a" stroke="none" stroke-width="1" />
<circle cx="110.01" cy="483.42" r="1.5" fill="#1a9a4a" stroke="none" stroke-width="1" />
<circle cx="113.78" cy="483.66" r="1.5" fill="#1a9a4a" stroke="none" stroke-width="1" />
<circle cx="117.55" cy="483.91" r="1.5" fill="#1a9a4a" stroke="none" stroke-width="1" />
<circle cx="121.31" cy="484.15" r="1.5" fill="#1a9a4a" stroke="none" stroke-width="1" />
<circle cx="125.08" cy="484.38" r="1.5" fill="#1a9a4a" stroke="none" stroke-width="1" />
<circle cx="128.85" cy="484.61" r="1.5" fill="#1a9a4a" stroke="none" stroke-width="1" />
<circle cx="132.61" cy="484.84" r="1.5" fill="#1a9a4a" stroke="none" stroke-width="1" />
<circle cx="136.38" cy="485.07" r="1.5" fill="#1a9a4a" stroke="none" stroke-width="1" />
<circle cx="140.14" cy="485.3" r="1.5" fill="#1a9a4a" stroke="none" stroke-width="1" />
<circle cx="143.91" cy="485.53" r="1.5" fill="#1a9a4a" stroke="none" stroke-width="1" />
<circle cx="147.68" cy="485.76" r="1.5" fill="#1a9a4a" stroke="none" stroke-width="1" />
<circle cx="151.44" cy="485.98" r="1.5" fill="#1a9a4a" stroke="none" stroke-width="1" />
<circle cx="155.21" cy="486.21" r="1.5" fill="#1a9a4a" stroke="none" stroke-width="1" />
<circle cx="158.98" cy="486.44" r="1.5" fill="#1a9a4a" stroke="none" stroke-width="1" />
<circle cx="162.74" cy="486.65" r="1.5" fill="#1a9a4a" stroke="none" stroke-width="1" />
<circle cx="166.51" cy="486.83" r="1.5" fill="#1a9a4a" stroke="none" stroke-width="1" />
<circle cx="170.28" cy="487.01" r="1.5" fill="#1a9a4a" stroke="none" stroke-width="1" />
<circle cx="174.04" cy="487.2" r="1.5" fill="#1a9a4a" stroke="none" stroke-width="1" />
<circle cx="177.81" cy="487.38" r="1.5" fill="#1a9a4a" stroke="none" stroke-width="1" />
<circle cx="181.58" cy="487.56" r="1.5" fill="#1a9a4a" stroke="none" stroke-width="1" />
<circle cx="185.34" cy="487.74" r="1.5" fill="#1a9a4a" stroke="none" stroke-width="1" />
<circle cx="189.11" cy="487.93" r="1.5" fill="#1a9a4a" stroke="none" stroke-width="1" />
<circle cx="192.88" cy="488.11" r="1.5" fill="#1a9a4a" stroke="none" stroke-width="1" />
<circle cx="196.64" cy="488.29" r="1.5" fill="#1a9a4a" stroke="none" stroke-width="1" />
<polyline points="42.22,521.48 44.16,518.18 46.59,515.82 48.05,514.87 51.45,512.98 56.31,511.57 63.6,509.68 70.89,508.03 78.18,506.38 85.47,504.49 92.76,502.6 97.62,500.71 99.56,498.35 100.78,491.74 102.48,491.27 112.2,493.16 126.78,495.05 146.22,497.41 165.66,499.77 185.1,501.66 199.68,503.07" fill="none" stroke="#e02030" stroke-width="1.3" />
<circle cx="42.22" cy="521.48" r="1.6" fill="#e02030" stroke="none" stroke-width="1" />
<circle cx="45.98" cy="516.41" r="1.6" fill="#e02030" stroke="none" stroke-width="1" />
<circle cx="49.75" cy="513.93" r="1.6" fill="#e02030" stroke="none" stroke-width="1" />
<circle cx="53.52" cy="512.38" r="1.6" fill="#e02030" stroke="none" stroke-width="1" />
<circle cx="57.28" cy="511.32" r="1.6" fill="#e02030" stroke="none" stroke-width="1" />
<circle cx="61.05" cy="510.34" r="1.6" fill="#e02030" stroke="none" stroke-width="1" />
<circle cx="64.81" cy="509.4" r="1.6" fill="#e02030" stroke="none" stroke-width="1" />
<circle cx="68.58" cy="508.55" r="1.6" fill="#e02030" stroke="none" stroke-width="1" />
<circle cx="72.35" cy="507.7" r="1.6" fill="#e02030" stroke="none" stroke-width="1" />
<circle cx="76.11" cy="506.84" r="1.6" fill="#e02030" stroke="none" stroke-width="1" />
<circle cx="79.88" cy="505.94" r="1.6" fill="#e02030" stroke="none" stroke-width="1" />
<circle cx="83.65" cy="504.96" r="1.6" fill="#e02030" stroke="none" stroke-width="1" />
<circle cx="87.41" cy="503.98" r="1.6" fill="#e02030" stroke="none" stroke-width="1" />
<circle cx="91.18" cy="503.01" r="1.6" fill="#e02030" stroke="none" stroke-width="1" />
<circle cx="94.95" cy="501.75" r="1.6" fill="#e02030" stroke="none" stroke-width="1" />
<circle cx="98.71" cy="499.38" r="1.6" fill="#e02030" stroke="none" stroke-width="1" />
<circle cx="102.48" cy="491.27" r="1.6" fill="#e02030" stroke="none" stroke-width="1" />
<circle cx="106.25" cy="492" r="1.6" fill="#e02030" stroke="none" stroke-width="1" />
<circle cx="110.01" cy="492.74" r="1.6" fill="#e02030" stroke="none" stroke-width="1" />
<circle cx="113.78" cy="493.36" r="1.6" fill="#e02030" stroke="none" stroke-width="1" />
<circle cx="117.55" cy="493.85" r="1.6" fill="#e02030" stroke="none" stroke-width="1" />
<circle cx="121.31" cy="494.34" r="1.6" fill="#e02030" stroke="none" stroke-width="1" />
<circle cx="125.08" cy="494.83" r="1.6" fill="#e02030" stroke="none" stroke-width="1" />
<circle cx="128.85" cy="495.3" r="1.6" fill="#e02030" stroke="none" stroke-width="1" />
<circle cx="132.61" cy="495.76" r="1.6" fill="#e02030" stroke="none" stroke-width="1" />
<circle cx="136.38" cy="496.21" r="1.6" fill="#e02030" stroke="none" stroke-width="1" />
<circle cx="140.14" cy="496.67" r="1.6" fill="#e02030" stroke="none" stroke-width="1" />
<circle cx="143.91" cy="497.13" r="1.6" fill="#e02030" stroke="none" stroke-width="1" />
<circle cx="147.68" cy="497.59" r="1.6" fill="#e02030" stroke="none" stroke-width="1" />
<circle cx="151.44" cy="498.04" r="1.6" fill="#e02030" stroke="none" stroke-width="1" />
<circle cx="155.21" cy="498.5" r="1.6" fill="#e02030" stroke="none" stroke-width="1" />
<circle cx="158.98" cy="498.96" r="1.6" fill="#e02030" stroke="none" stroke-width="1" />
<circle cx="162.74" cy="499.41" r="1.6" fill="#e02030" stroke="none" stroke-width="1" />
<circle cx="166.51" cy="499.85" r="1.6" fill="#e02030" stroke="none" stroke-width="1" />
<circle cx="170.28" cy="500.22" r="1.6" fill="#e02030" stroke="none" stroke-width="1" />
<circle cx="174.04" cy="500.58" r="1.6" fill="#e02030" stroke="none" stroke-width="1" />
<circle cx="177.81" cy="500.95" r="1.6" fill="#e02030" stroke="none" stroke-width="1" />
<circle cx="181.58" cy="501.31" r="1.6" fill="#e02030" stroke="none" stroke-width="1" />
<circle cx="185.34" cy="501.68" r="1.6" fill="#e02030" stroke="none" stroke-width="1" />
<circle cx="189.11" cy="502.05" r="1.6" fill="#e02030" stroke="none" stroke-width="1" />
<circle cx="192.88" cy="502.41" r="1.6" fill="#e02030" stroke="none" stroke-width="1" />
<circle cx="196.64" cy="502.78" r="1.6" fill="#e02030" stroke="none" stroke-width="1" />
</g>
<text x="34.9" y="443.6" font-size="6.4" text-anchor="start" font-weight="normal" fill="#111" stroke="#111" stroke-width="0.16" >Flat</text>
<text x="54" y="445.3" font-size="7" text-anchor="start" font-weight="normal" fill="#111" stroke="#111" stroke-width="0.16" >40 meV</text>
<text x="54" y="454.5" font-size="7" text-anchor="start" font-weight="normal" fill="#111" stroke="#111" stroke-width="0.16" >30 meV</text>
<text x="54" y="463.7" font-size="7" text-anchor="start" font-weight="normal" fill="#111" stroke="#111" stroke-width="0.16" >20 meV</text>
<text x="54" y="472.9" font-size="7" text-anchor="start" font-weight="normal" fill="#111" stroke="#111" stroke-width="0.16" >10 meV</text>
<rect x="150" y="434" width="69" height="34.8" fill="#fff" stroke="#222" stroke-width="1.6" />
<line x1="157" y1="468.8" x2="157" y2="466.3" stroke="#222" stroke-width="0.8" />
<text x="157" y="476" font-size="6.6" text-anchor="middle" font-weight="normal" fill="#111" stroke="#111" stroke-width="0.16" >10</text>
<line x1="174.67" y1="468.8" x2="174.67" y2="466.3" stroke="#222" stroke-width="0.8" />
<text x="174.67" y="476" font-size="6.6" text-anchor="middle" font-weight="normal" fill="#111" stroke="#111" stroke-width="0.16" >20</text>
<line x1="192.33" y1="468.8" x2="192.33" y2="466.3" stroke="#222" stroke-width="0.8" />
<text x="192.33" y="476" font-size="6.6" text-anchor="middle" font-weight="normal" fill="#111" stroke="#111" stroke-width="0.16" >30</text>
<line x1="210" y1="468.8" x2="210" y2="466.3" stroke="#222" stroke-width="0.8" />
<text x="210" y="476" font-size="6.6" text-anchor="middle" font-weight="normal" fill="#111" stroke="#111" stroke-width="0.16" >40</text>
<line x1="165.83" y1="468.8" x2="165.83" y2="467.3" stroke="#222" stroke-width="0.7" />
<line x1="183.5" y1="468.8" x2="183.5" y2="467.3" stroke="#222" stroke-width="0.7" />
<line x1="201.17" y1="468.8" x2="201.17" y2="467.3" stroke="#222" stroke-width="0.7" />
<line x1="150" y1="468" x2="152.5" y2="468" stroke="#222" stroke-width="0.8" />
<text x="147.7" y="470.4" font-size="6.6" text-anchor="end" font-weight="normal" fill="#111" stroke="#111" stroke-width="0.16" >6</text>
<line x1="150" y1="458" x2="152.5" y2="458" stroke="#222" stroke-width="0.8" />
<text x="147.7" y="460.4" font-size="6.6" text-anchor="end" font-weight="normal" fill="#111" stroke="#111" stroke-width="0.16" >8</text>
<line x1="150" y1="448" x2="152.5" y2="448" stroke="#222" stroke-width="0.8" />
<text x="147.7" y="450.4" font-size="6.6" text-anchor="end" font-weight="normal" fill="#111" stroke="#111" stroke-width="0.16" >10</text>
<line x1="150" y1="438" x2="152.5" y2="438" stroke="#222" stroke-width="0.8" />
<text x="147.7" y="440.4" font-size="6.6" text-anchor="end" font-weight="normal" fill="#111" stroke="#111" stroke-width="0.16" >12</text>
<line x1="150" y1="463" x2="151.5" y2="463" stroke="#222" stroke-width="0.7" />
<line x1="150" y1="453" x2="151.5" y2="453" stroke="#222" stroke-width="0.7" />
<line x1="150" y1="443" x2="151.5" y2="443" stroke="#222" stroke-width="0.7" />
<polyline points="157,461 174.67,452.5 192.33,445.5 210,439" fill="none" stroke="#e02030" stroke-width="1.1" />
<circle cx="157" cy="461" r="1.9" fill="#e02030" stroke="none" stroke-width="1" />
<circle cx="174.67" cy="452.5" r="1.9" fill="#e02030" stroke="none" stroke-width="1" />
<circle cx="192.33" cy="445.5" r="1.9" fill="#e02030" stroke="none" stroke-width="1" />
<circle cx="210" cy="439" r="1.9" fill="#e02030" stroke="none" stroke-width="1" />
<text x="136.5" y="451" font-size="7" text-anchor="middle" font-weight="normal" fill="#111" stroke="#111" stroke-width="0.16" transform="rotate(-90 136.5 451)" >E<tspan dy="1.5" font-size="4.5">s</tspan><tspan dy="-1.5"> (eV)</tspan></text>
<text x="184.5" y="483.6" font-size="7" text-anchor="middle" font-weight="normal" fill="#111" stroke="#111" stroke-width="0.16" >Adhesion (meV/atom)</text>
</g>
<g id="pm">
<text x="2" y="575.5" font-size="11.6" text-anchor="start" font-weight="bold" fill="#000" >m</text>
<path d="M2,616.6 L30.5,616.6 C36.5,616.6 37.8,612 38,606 C38.2,600 38.6,596.5 38.4,593 C38.1,589 36.8,587.5 37.2,585 C37.6,582.6 39.2,581.8 41.1,581.8 C43,581.8 44.6,582.6 45,585 C45.4,587.5 44.1,589 43.8,593 C43.6,596.5 44,600 44.2,606 C44.4,612 45.7,616.6 51.7,616.6 L80,616.6" fill="none" stroke="#444" stroke-width="1.1" stroke-dasharray="0.9,0.7"/>
<line x1="51.4" y1="582.6" x2="51.4" y2="616" stroke="#222" stroke-width="0.6" />
<line x1="49.6" y1="582.3" x2="53.2" y2="582.3" stroke="#222" stroke-width="0.6" />
<line x1="49.6" y1="616.3" x2="53.2" y2="616.3" stroke="#222" stroke-width="0.6" />
<polygon points="51.4,582.6 50.4,585.4 52.4,585.4" fill="#222" stroke="none" stroke-width="1" />
<polygon points="51.4,616 50.4,613.2 52.4,613.2" fill="#222" stroke="none" stroke-width="1" />
<text x="55.8" y="602.6" font-size="9" text-anchor="middle" font-weight="normal" fill="#111" stroke="#111" stroke-width="0.16" >h</text>
<line x1="80.5" y1="615.3" x2="86" y2="615.3" stroke="#222" stroke-width="0.5" />
<line x1="80.5" y1="618.2" x2="86" y2="618.2" stroke="#222" stroke-width="0.5" />
<line x1="83.2" y1="610" x2="83.2" y2="614.6" stroke="#222" stroke-width="0.5" />
<polygon points="83.2,615.2 82.3,613 84.1,613" fill="#222" stroke="none" stroke-width="1" />
<line x1="83.2" y1="623.5" x2="83.2" y2="619" stroke="#222" stroke-width="0.5" />
<polygon points="83.2,618.3 82.3,620.5 84.1,620.5" fill="#222" stroke="none" stroke-width="1" />
<text x="78.6" y="627.8" font-size="8.4" text-anchor="middle" font-weight="normal" fill="#111" stroke="#111" stroke-width="0.16" >t</text>
<line x1="1.5" y1="654" x2="80" y2="654" stroke="#222" stroke-width="1.1" />
<polygon points="83.5,654 78.2,651.6 78.2,656.4" fill="#222" stroke="none" stroke-width="1" />
<line x1="39.7" y1="662" x2="39.7" y2="633.5" stroke="#222" stroke-width="1.1" />
<polygon points="39.7,630 37.4,635 42,635" fill="#222" stroke="none" stroke-width="1" />
<polyline points="2,641.3 16.2,641.3 39.7,653.6 62.4,641.3 79.7,641.3" fill="none" stroke="#e01020" stroke-width="1.2" />
<line x1="39.7" y1="641.3" x2="62.4" y2="641.3" stroke="#222" stroke-width="0.7" stroke-dasharray="1,1"/>
<line x1="62.4" y1="641.3" x2="62.4" y2="654" stroke="#222" stroke-width="0.7" stroke-dasharray="1,1"/>
<text x="39.7" y="628.3" font-size="6.6" text-anchor="middle" font-weight="normal" fill="#111" stroke="#111" stroke-width="0.16" >ε</text>
<text x="33.8" y="643" font-size="6.6" text-anchor="middle" font-weight="normal" fill="#111" stroke="#111" stroke-width="0.16" >ε<tspan dy="1.2" font-size="4.2">m</tspan></text>
<text x="61.5" y="661" font-size="6.6" text-anchor="middle" font-weight="normal" fill="#111" stroke="#111" stroke-width="0.16" >a<tspan dy="1.2" font-size="4.2">0</tspan></text>
<text x="87.5" y="656.2" font-size="7" text-anchor="middle" font-weight="normal" fill="#111" stroke="#111" stroke-width="0.16" font-style="italic">x</text>
</g>
<g id="pn">
<text x="91.8" y="575.5" font-size="11.5" text-anchor="start" font-weight="bold" fill="#000" >n</text>
<rect x="117.6" y="571" width="108" height="87.1" fill="#fff" stroke="none" stroke-width="1" />
<polygon points="117.6,648.93 118.34,648.81 119.07,648.68 119.81,648.54 120.54,648.4 121.28,648.26 122.01,648.11 122.75,647.95 123.48,647.78 124.22,647.6 124.95,647.42 125.69,647.23 126.42,647.03 127.16,646.82 127.89,646.6 128.63,646.38 129.36,646.14 130.1,645.89 130.83,645.63 131.57,645.35 132.3,645.07 133.04,644.77 133.77,644.46 134.51,644.13 135.24,643.79 135.98,643.43 136.71,643.06 137.45,642.67 138.18,642.26 138.92,641.83 139.65,641.39 140.39,640.92 141.12,640.43 141.86,639.92 142.59,639.39 143.33,638.83 144.06,638.25 144.8,637.64 145.53,637 146.27,636.33 147,635.63 147.74,634.9 148.47,634.14 149.21,633.34 149.94,632.51 150.68,631.63 151.41,630.72 152.15,629.77 152.88,628.77 153.62,627.73 154.35,626.64 155.09,625.49 155.82,624.3 156.56,623.05 157.29,621.75 158.03,620.38 158.76,618.96 159.5,617.46 160.23,615.9 160.97,614.27 161.7,612.57 162.44,610.78 163.17,608.92 163.91,606.96 164.64,604.92 165.38,602.79 166.11,600.56 166.85,598.23 167.58,595.79 168.32,593.23 169.05,590.57 169.79,587.78 170.52,584.86 171.26,581.81 171.99,578.62 172.73,575.28 173.46,571.79 174.2,571 225.6,571 225.6,658.1 117.6,658.1" fill="#fbf6d2" stroke="none" stroke-width="1" />
<line x1="117.6" y1="611" x2="209.1" y2="611" stroke="#e0505a" stroke-width="0.6" stroke-dasharray="0.8,0.8"/>
<line x1="117.6" y1="628.3" x2="209.1" y2="628.3" stroke="#e0505a" stroke-width="0.6" stroke-dasharray="0.8,0.8"/>
<line x1="117.6" y1="634.1" x2="143.2" y2="634.1" stroke="#2a9a5a" stroke-width="0.6" stroke-dasharray="0.8,0.8"/>
<line x1="209.1" y1="628.3" x2="209.1" y2="658.1" stroke="#e0505a" stroke-width="0.6" stroke-dasharray="0.8,0.8"/>
<line x1="214" y1="628.3" x2="214" y2="658.1" stroke="#e0505a" stroke-width="0.6" stroke-dasharray="0.8,0.8"/>
<line x1="218.9" y1="628.3" x2="218.9" y2="658.1" stroke="#e0505a" stroke-width="0.6" stroke-dasharray="0.8,0.8"/>
<line x1="143.2" y1="634.1" x2="143.2" y2="658.1" stroke="#2a9a5a" stroke-width="0.6" stroke-dasharray="0.8,0.8"/>
<line x1="145.6" y1="634.1" x2="145.6" y2="658.1" stroke="#2a9a5a" stroke-width="0.6" stroke-dasharray="0.8,0.8"/>
<line x1="147.6" y1="634.1" x2="147.6" y2="658.1" stroke="#2a9a5a" stroke-width="0.6" stroke-dasharray="0.8,0.8"/>
<line x1="150.9" y1="634.1" x2="150.9" y2="658.1" stroke="#2a9a5a" stroke-width="0.6" stroke-dasharray="0.8,0.8"/>
<rect x="209.1" y="611" width="9.8" height="17.3" fill="#e8222c" stroke="none" stroke-width="1" />
<rect x="143.2" y="628.3" width="7.7" height="5.8" fill="#1f4f72" stroke="none" stroke-width="1" />
<rect x="147.6" y="628.3" width="3.3" height="5.8" fill="#2a7a4e" stroke="none" stroke-width="1" />
<line x1="186.6" y1="602.4" x2="213.5" y2="602.4" stroke="#222" stroke-width="0.9" />
<clipPath id="clipN"><rect x="117.6" y="571" width="108" height="87.1"/></clipPath>
<polyline points="117.6,648.93 118.34,648.81 119.07,648.68 119.81,648.54 120.54,648.4 121.28,648.26 122.01,648.11 122.75,647.95 123.48,647.78 124.22,647.6 124.95,647.42 125.69,647.23 126.42,647.03 127.16,646.82 127.89,646.6 128.63,646.38 129.36,646.14 130.1,645.89 130.83,645.63 131.57,645.35 132.3,645.07 133.04,644.77 133.77,644.46 134.51,644.13 135.24,643.79 135.98,643.43 136.71,643.06 137.45,642.67 138.18,642.26 138.92,641.83 139.65,641.39 140.39,640.92 141.12,640.43 141.86,639.92 142.59,639.39 143.33,638.83 144.06,638.25 144.8,637.64 145.53,637 146.27,636.33 147,635.63 147.74,634.9 148.47,634.14 149.21,633.34 149.94,632.51 150.68,631.63 151.41,630.72 152.15,629.77 152.88,628.77 153.62,627.73 154.35,626.64 155.09,625.49 155.82,624.3 156.56,623.05 157.29,621.75 158.03,620.38 158.76,618.96 159.5,617.46 160.23,615.9 160.97,614.27 161.7,612.57 162.44,610.78 163.17,608.92 163.91,606.96 164.64,604.92 165.38,602.79 166.11,600.56 166.85,598.23 167.58,595.79 168.32,593.23 169.05,590.57 169.79,587.78 170.52,584.86 171.26,581.81 171.99,578.62 172.73,575.28 173.46,571.79 174.2,568.14" fill="none" stroke="#d01828" stroke-width="1.3" clip-path="url(#clipN)"/>
<path d="M136.5,602.8 L141.5,602.8 C145.5,602.8 146.4,597 146.6,592 C146.8,588 145.6,585.6 145.8,583 C146,580.8 146.8,579.6 148.2,579.6 C149.6,579.6 150.4,580.8 150.6,583 C150.8,585.6 149.6,588 149.8,592 C150,597 150.9,602.8 154.9,602.8 L160,602.8" fill="none" stroke="#777" stroke-width="0.7"/>
<rect x="117.6" y="571" width="108" height="87.1" fill="none" stroke="#222" stroke-width="1.3" />
<line x1="117.6" y1="658.1" x2="115.8" y2="658.1" stroke="#222" stroke-width="0.8" />
<text x="115" y="660.4" font-size="6.3" text-anchor="end" font-weight="normal" fill="#111" stroke="#111" stroke-width="0.16" >0.0</text>
<line x1="117.6" y1="646.34" x2="115.8" y2="646.34" stroke="#222" stroke-width="0.8" />
<text x="115" y="648.64" font-size="6.3" text-anchor="end" font-weight="normal" fill="#111" stroke="#111" stroke-width="0.16" >0.1</text>
<line x1="117.6" y1="634.58" x2="115.8" y2="634.58" stroke="#222" stroke-width="0.8" />
<text x="115" y="636.88" font-size="6.3" text-anchor="end" font-weight="normal" fill="#111" stroke="#111" stroke-width="0.16" >0.2</text>
<line x1="117.6" y1="622.82" x2="115.8" y2="622.82" stroke="#222" stroke-width="0.8" />
<text x="115" y="625.12" font-size="6.3" text-anchor="end" font-weight="normal" fill="#111" stroke="#111" stroke-width="0.16" >0.3</text>
<line x1="117.6" y1="611.06" x2="115.8" y2="611.06" stroke="#222" stroke-width="0.8" />
<text x="115" y="613.36" font-size="6.3" text-anchor="end" font-weight="normal" fill="#111" stroke="#111" stroke-width="0.16" >0.4</text>
<line x1="117.6" y1="599.3" x2="115.8" y2="599.3" stroke="#222" stroke-width="0.8" />
<text x="115" y="601.6" font-size="6.3" text-anchor="end" font-weight="normal" fill="#111" stroke="#111" stroke-width="0.16" >0.5</text>
<line x1="117.6" y1="587.54" x2="115.8" y2="587.54" stroke="#222" stroke-width="0.8" />
<text x="115" y="589.84" font-size="6.3" text-anchor="end" font-weight="normal" fill="#111" stroke="#111" stroke-width="0.16" >0.6</text>
<line x1="117.6" y1="575.78" x2="115.8" y2="575.78" stroke="#222" stroke-width="0.8" />
<text x="115" y="578.08" font-size="6.3" text-anchor="end" font-weight="normal" fill="#111" stroke="#111" stroke-width="0.16" >0.7</text>
<line x1="134.9" y1="658.1" x2="134.9" y2="659.9" stroke="#222" stroke-width="0.8" />
<text x="134.9" y="667.8" font-size="6.2" text-anchor="middle" font-weight="normal" fill="#111" stroke="#111" stroke-width="0.16" >1E5</text>
<line x1="159.4" y1="658.1" x2="159.4" y2="659.9" stroke="#222" stroke-width="0.8" />
<text x="159.4" y="667.8" font-size="6.2" text-anchor="middle" font-weight="normal" fill="#111" stroke="#111" stroke-width="0.16" >1E6</text>
<line x1="183.9" y1="658.1" x2="183.9" y2="659.9" stroke="#222" stroke-width="0.8" />
<text x="183.9" y="667.8" font-size="6.2" text-anchor="middle" font-weight="normal" fill="#111" stroke="#111" stroke-width="0.16" >1E7</text>
<line x1="208.4" y1="658.1" x2="208.4" y2="659.9" stroke="#222" stroke-width="0.8" />
<text x="208.4" y="667.8" font-size="6.2" text-anchor="middle" font-weight="normal" fill="#111" stroke="#111" stroke-width="0.16" >1E8</text>
<text x="99.5" y="622" font-size="6.8" text-anchor="middle" font-weight="normal" fill="#111" stroke="#111" stroke-width="0.16" transform="rotate(-90 99.5 622)" >ε<tspan dy="1.2" font-size="4">m</tspan><tspan dy="-1.2"> (%)</tspan></text>
<text x="170.8" y="678.6" font-size="7" text-anchor="middle" font-weight="normal" fill="#111" stroke="#111" stroke-width="0.16" >μ (N/m<tspan dy="-2" font-size="4.5">2</tspan><tspan dy="2">)</tspan></text>
</g>
<g id="po">
<text x="235" y="437.8" font-size="11.8" text-anchor="start" font-weight="bold" fill="#000" >o</text>
<clipPath id="clipO"><rect x="256.8" y="431" width="111.4" height="116"/></clipPath>
<g clip-path="url(#clipO)">
<circle cx="328.4" cy="520.8" r="6" fill="url(#gSal)" />
<circle cx="395" cy="443.8" r="6" fill="url(#gSal)" />
<circle cx="261.8" cy="520.8" r="6" fill="url(#gSal)" />
<circle cx="295.1" cy="578.5" r="6" fill="url(#gSal)" />
<circle cx="406.1" cy="501.5" r="6" fill="url(#gSal)" />
<circle cx="306.2" cy="443.8" r="6" fill="url(#gSal)" />
<circle cx="250.7" cy="578.5" r="6" fill="url(#gSal)" />
<circle cx="361.7" cy="501.5" r="6" fill="url(#gSal)" />
<circle cx="284" cy="559.3" r="6" fill="url(#gSal)" />
<circle cx="406.1" cy="540" r="6" fill="url(#gSal)" />
<circle cx="295.1" cy="463" r="6" fill="url(#gSal)" />
<circle cx="361.7" cy="540" r="6" fill="url(#gSal)" />
<circle cx="250.7" cy="463" r="6" fill="url(#gSal)" />
<circle cx="395" cy="520.8" r="6" fill="url(#gSal)" />
<circle cx="406.1" cy="578.5" r="6" fill="url(#gSal)" />
<circle cx="295.1" cy="501.5" r="6" fill="url(#gSal)" />
<circle cx="361.7" cy="578.5" r="6" fill="url(#gSal)" />
<circle cx="250.7" cy="501.5" r="6" fill="url(#gSal)" />
<circle cx="239.6" cy="443.8" r="6" fill="url(#gSal)" />
<circle cx="395" cy="559.3" r="6" fill="url(#gSal)" />
<circle cx="295.1" cy="540" r="6" fill="url(#gSal)" />
<circle cx="306.2" cy="520.8" r="6" fill="url(#gSal)" />
<circle cx="406.1" cy="463" r="6" fill="url(#gSal)" />
<circle cx="250.7" cy="540" r="6" fill="url(#gSal)" />
<circle cx="272.9" cy="424.5" r="6" fill="url(#gSal)" />
<circle cx="239.6" cy="482.3" r="6" fill="url(#gSal)" />
<circle cx="361.7" cy="463" r="6" fill="url(#gSal)" />
<circle cx="284" cy="520.8" r="6" fill="url(#gSal)" />
<circle cx="306.2" cy="559.3" r="6" fill="url(#gSal)" />
<circle cx="383.9" cy="424.5" r="6" fill="url(#gSal)" />
<circle cx="339.5" cy="424.5" r="6" fill="url(#gSal)" />
<circle cx="417.2" cy="443.8" r="6" fill="url(#gSal)" />
<circle cx="317.3" cy="424.5" r="6" fill="url(#gSal)" />
<circle cx="239.6" cy="559.3" r="6" fill="url(#gSal)" />
<circle cx="350.6" cy="443.8" r="6" fill="url(#gSal)" />
<circle cx="417.2" cy="482.3" r="6" fill="url(#gSal)" />
<circle cx="372.8" cy="482.3" r="6" fill="url(#gSal)" />
<circle cx="272.9" cy="540" r="6" fill="url(#gSal)" />
<circle cx="328.4" cy="443.8" r="6" fill="url(#gSal)" />
<circle cx="228.5" cy="424.5" r="6" fill="url(#gSal)" />
<circle cx="350.6" cy="482.3" r="6" fill="url(#gSal)" />
<circle cx="272.9" cy="578.5" r="6" fill="url(#gSal)" />
<circle cx="261.8" cy="443.8" r="6" fill="url(#gSal)" />
<circle cx="328.4" cy="482.3" r="6" fill="url(#gSal)" />
<circle cx="261.8" cy="482.3" r="6" fill="url(#gSal)" />
<circle cx="317.3" cy="501.5" r="6" fill="url(#gSal)" />
<circle cx="383.9" cy="578.5" r="6" fill="url(#gSal)" />
<circle cx="272.9" cy="463" r="6" fill="url(#gSal)" />
<circle cx="239.6" cy="520.8" r="6" fill="url(#gSal)" />
<circle cx="417.2" cy="559.3" r="6" fill="url(#gSal)" />
<circle cx="317.3" cy="540" r="6" fill="url(#gSal)" />
<circle cx="339.5" cy="578.5" r="6" fill="url(#gSal)" />
<circle cx="372.8" cy="443.8" r="6" fill="url(#gSal)" />
<circle cx="228.5" cy="501.5" r="6" fill="url(#gSal)" />
<circle cx="272.9" cy="501.5" r="6" fill="url(#gSal)" />
<circle cx="350.6" cy="559.3" r="6" fill="url(#gSal)" />
<circle cx="295.1" cy="424.5" r="6" fill="url(#gSal)" />
<circle cx="383.9" cy="463" r="6" fill="url(#gSal)" />
<circle cx="317.3" cy="578.5" r="6" fill="url(#gSal)" />
<circle cx="328.4" cy="559.3" r="6" fill="url(#gSal)" />
<circle cx="228.5" cy="540" r="6" fill="url(#gSal)" />
<circle cx="250.7" cy="424.5" r="6" fill="url(#gSal)" />
<circle cx="395" cy="482.3" r="6" fill="url(#gSal)" />
<circle cx="339.5" cy="463" r="6" fill="url(#gSal)" />
<circle cx="383.9" cy="501.5" r="6" fill="url(#gSal)" />
<circle cx="261.8" cy="559.3" r="6" fill="url(#gSal)" />
<circle cx="228.5" cy="578.5" r="6" fill="url(#gSal)" />
<circle cx="317.3" cy="463" r="6" fill="url(#gSal)" />
<circle cx="284" cy="443.8" r="6" fill="url(#gSal)" />
<circle cx="339.5" cy="501.5" r="6" fill="url(#gSal)" />
<circle cx="383.9" cy="540" r="6" fill="url(#gSal)" />
<circle cx="306.2" cy="482.3" r="6" fill="url(#gSal)" />
<circle cx="406.1" cy="424.5" r="6" fill="url(#gSal)" />
<circle cx="417.2" cy="520.8" r="6" fill="url(#gSal)" />
<circle cx="372.8" cy="520.8" r="6" fill="url(#gSal)" />
<circle cx="339.5" cy="540" r="6" fill="url(#gSal)" />
<circle cx="361.7" cy="424.5" r="6" fill="url(#gSal)" />
<circle cx="284" cy="482.3" r="6" fill="url(#gSal)" />
<circle cx="228.5" cy="463" r="6" fill="url(#gSal)" />
<circle cx="350.6" cy="520.8" r="6" fill="url(#gSal)" />
<circle cx="372.8" cy="559.3" r="6" fill="url(#gSal)" />
<circle cx="228.5" cy="411.4" r="3.35" fill="url(#gSal)" />
<circle cx="250.7" cy="411.4" r="3.35" fill="url(#gSal)" />
<circle cx="272.9" cy="411.4" r="3.35" fill="url(#gSal)" />
<circle cx="295.1" cy="411.4" r="3.35" fill="url(#gSal)" />
<circle cx="317.3" cy="411.4" r="3.35" fill="url(#gSal)" />
<circle cx="339.5" cy="411.4" r="3.35" fill="url(#gSal)" />
<circle cx="361.7" cy="411.4" r="3.35" fill="url(#gSal)" />
<circle cx="383.9" cy="411.4" r="3.35" fill="url(#gSal)" />
<circle cx="406.1" cy="411.4" r="3.35" fill="url(#gSal)" />
<circle cx="239.6" cy="430.65" r="3.35" fill="url(#gSal)" />
<circle cx="261.8" cy="430.65" r="3.35" fill="url(#gSal)" />
<circle cx="284" cy="430.65" r="3.35" fill="url(#gSal)" />
<circle cx="306.2" cy="430.65" r="3.35" fill="url(#gSal)" />
<circle cx="328.4" cy="430.65" r="3.35" fill="url(#gSal)" />
<circle cx="350.6" cy="430.65" r="3.35" fill="url(#gSal)" />
<circle cx="372.8" cy="430.65" r="3.35" fill="url(#gSal)" />
<circle cx="395" cy="430.65" r="3.35" fill="url(#gSal)" />
<circle cx="417.2" cy="430.65" r="3.35" fill="url(#gSal)" />
<circle cx="228.5" cy="449.9" r="3.35" fill="url(#gSal)" />
<circle cx="250.7" cy="449.9" r="3.35" fill="url(#gSal)" />
<circle cx="272.9" cy="449.9" r="3.35" fill="url(#gSal)" />
<circle cx="295.1" cy="449.9" r="3.35" fill="url(#gSal)" />
<circle cx="317.3" cy="449.9" r="3.35" fill="url(#gSal)" />
<circle cx="339.5" cy="449.9" r="3.35" fill="url(#gSal)" />
<circle cx="361.7" cy="449.9" r="3.35" fill="url(#gSal)" />
<circle cx="383.9" cy="449.9" r="3.35" fill="url(#gSal)" />
<circle cx="406.1" cy="449.9" r="3.35" fill="url(#gSal)" />
<circle cx="239.6" cy="469.15" r="3.35" fill="url(#gSal)" />
<circle cx="261.8" cy="469.15" r="3.35" fill="url(#gSal)" />
<circle cx="284" cy="469.15" r="3.35" fill="url(#gSal)" />
<circle cx="306.2" cy="469.15" r="3.35" fill="url(#gSal)" />
<circle cx="328.4" cy="469.15" r="3.35" fill="url(#gSal)" />
<circle cx="350.6" cy="469.15" r="3.35" fill="url(#gSal)" />
<circle cx="372.8" cy="469.15" r="3.35" fill="url(#gSal)" />
<circle cx="395" cy="469.15" r="3.35" fill="url(#gSal)" />
<circle cx="417.2" cy="469.15" r="3.35" fill="url(#gSal)" />
<circle cx="228.5" cy="488.4" r="3.35" fill="url(#gSal)" />
<circle cx="250.7" cy="488.4" r="3.35" fill="url(#gSal)" />
<circle cx="272.9" cy="488.4" r="3.35" fill="url(#gSal)" />
<circle cx="295.1" cy="488.4" r="3.35" fill="url(#gSal)" />
<circle cx="317.3" cy="488.4" r="3.35" fill="url(#gSal)" />
<circle cx="339.5" cy="488.4" r="3.35" fill="url(#gSal)" />
<circle cx="361.7" cy="488.4" r="3.35" fill="url(#gSal)" />
<circle cx="383.9" cy="488.4" r="3.35" fill="url(#gSal)" />
<circle cx="406.1" cy="488.4" r="3.35" fill="url(#gSal)" />
<circle cx="239.6" cy="507.65" r="3.35" fill="url(#gSal)" />
<circle cx="261.8" cy="507.65" r="3.35" fill="url(#gSal)" />
<circle cx="284" cy="507.65" r="3.35" fill="url(#gSal)" />
<circle cx="306.2" cy="507.65" r="3.35" fill="url(#gSal)" />
<circle cx="328.4" cy="507.65" r="3.35" fill="url(#gSal)" />
<circle cx="350.6" cy="507.65" r="3.35" fill="url(#gSal)" />
<circle cx="372.8" cy="507.65" r="3.35" fill="url(#gSal)" />
<circle cx="395" cy="507.65" r="3.35" fill="url(#gSal)" />
<circle cx="417.2" cy="507.65" r="3.35" fill="url(#gSal)" />
<circle cx="228.5" cy="526.9" r="3.35" fill="url(#gSal)" />
<circle cx="250.7" cy="526.9" r="3.35" fill="url(#gSal)" />
<circle cx="272.9" cy="526.9" r="3.35" fill="url(#gSal)" />
<circle cx="295.1" cy="526.9" r="3.35" fill="url(#gSal)" />
<circle cx="317.3" cy="526.9" r="3.35" fill="url(#gSal)" />
<circle cx="339.5" cy="526.9" r="3.35" fill="url(#gSal)" />
<circle cx="361.7" cy="526.9" r="3.35" fill="url(#gSal)" />
<circle cx="383.9" cy="526.9" r="3.35" fill="url(#gSal)" />
<circle cx="406.1" cy="526.9" r="3.35" fill="url(#gSal)" />
<circle cx="239.6" cy="546.15" r="3.35" fill="url(#gSal)" />
<circle cx="261.8" cy="546.15" r="3.35" fill="url(#gSal)" />
<circle cx="284" cy="546.15" r="3.35" fill="url(#gSal)" />
<circle cx="306.2" cy="546.15" r="3.35" fill="url(#gSal)" />
<circle cx="328.4" cy="546.15" r="3.35" fill="url(#gSal)" />
<circle cx="350.6" cy="546.15" r="3.35" fill="url(#gSal)" />
<circle cx="372.8" cy="546.15" r="3.35" fill="url(#gSal)" />
<circle cx="395" cy="546.15" r="3.35" fill="url(#gSal)" />
<circle cx="417.2" cy="546.15" r="3.35" fill="url(#gSal)" />
<circle cx="228.5" cy="565.4" r="3.35" fill="url(#gSal)" />
<circle cx="250.7" cy="565.4" r="3.35" fill="url(#gSal)" />
<circle cx="272.9" cy="565.4" r="3.35" fill="url(#gSal)" />
<circle cx="295.1" cy="565.4" r="3.35" fill="url(#gSal)" />
<circle cx="317.3" cy="565.4" r="3.35" fill="url(#gSal)" />
<circle cx="339.5" cy="565.4" r="3.35" fill="url(#gSal)" />
<circle cx="361.7" cy="565.4" r="3.35" fill="url(#gSal)" />
<circle cx="383.9" cy="565.4" r="3.35" fill="url(#gSal)" />
<circle cx="406.1" cy="565.4" r="3.35" fill="url(#gSal)" />
<path d="M328.4,494.8L339.5,501.21M328.4,494.8L317.3,501.21M328.4,494.8L328.4,481.98M317.3,398.6L328.4,405.01M317.3,398.6L306.2,405.01M317.3,398.6L317.3,385.78M395,417.8L406.1,424.21M395,417.8L383.9,424.21M395,417.8L395,404.98M339.5,437.1L350.6,443.51M339.5,437.1L328.4,443.51M339.5,437.1L339.5,424.28M261.8,494.8L272.9,501.21M261.8,494.8L250.7,501.21M261.8,494.8L261.8,481.98M406.1,552.6L417.2,559.01M406.1,552.6L395,559.01M406.1,552.6L406.1,539.78M272.9,514.1L284,520.51M272.9,514.1L261.8,520.51M272.9,514.1L272.9,501.28M395,456.3L406.1,462.71M395,456.3L383.9,462.71M395,456.3L395,443.48M228.5,398.6L239.6,405.01M228.5,398.6L217.4,405.01M228.5,398.6L228.5,385.78M361.7,552.6L372.8,559.01M361.7,552.6L350.6,559.01M361.7,552.6L361.7,539.78M306.2,417.8L317.3,424.21M306.2,417.8L295.1,424.21M306.2,417.8L306.2,404.98M239.6,533.3L250.7,539.71M239.6,533.3L228.5,539.71M239.6,533.3L239.6,520.48M284,417.8L295.1,424.21M284,417.8L272.9,424.21M284,417.8L284,404.98M306.2,456.3L317.3,462.71M306.2,456.3L295.1,462.71M306.2,456.3L306.2,443.48M383.9,398.6L395,405.01M383.9,398.6L372.8,405.01M383.9,398.6L383.9,385.78M372.8,494.8L383.9,501.21M372.8,494.8L361.7,501.21M372.8,494.8L372.8,481.98M317.3,475.6L328.4,482.01M317.3,475.6L306.2,482.01M317.3,475.6L317.3,462.78M339.5,514.1L350.6,520.51M339.5,514.1L328.4,520.51M339.5,514.1L339.5,501.28M250.7,552.6L261.8,559.01M250.7,552.6L239.6,559.01M250.7,552.6L250.7,539.78M317.3,514.1L328.4,520.51M317.3,514.1L306.2,520.51M317.3,514.1L317.3,501.28M228.5,475.6L239.6,482.01M228.5,475.6L217.4,482.01M228.5,475.6L228.5,462.78M272.9,475.6L284,482.01M272.9,475.6L261.8,482.01M272.9,475.6L272.9,462.78M306.2,494.8L317.3,501.21M306.2,494.8L295.1,501.21M306.2,494.8L306.2,481.98M239.6,456.3L250.7,462.71M239.6,456.3L228.5,462.71M239.6,456.3L239.6,443.48M417.2,533.3L428.3,539.71M417.2,533.3L406.1,539.71M417.2,533.3L417.2,520.48M372.8,533.3L383.9,539.71M372.8,533.3L361.7,539.71M372.8,533.3L372.8,520.48M284,494.8L295.1,501.21M284,494.8L272.9,501.21M284,494.8L284,481.98M228.5,514.1L239.6,520.51M228.5,514.1L217.4,520.51M228.5,514.1L228.5,501.28M295.1,437.1L306.2,443.51M295.1,437.1L284,443.51M295.1,437.1L295.1,424.28M383.9,475.6L395,482.01M383.9,475.6L372.8,482.01M383.9,475.6L383.9,462.78M350.6,533.3L361.7,539.71M350.6,533.3L339.5,539.71M350.6,533.3L350.6,520.48M250.7,437.1L261.8,443.51M250.7,437.1L239.6,443.51M250.7,437.1L250.7,424.28M328.4,533.3L339.5,539.71M328.4,533.3L317.3,539.71M328.4,533.3L328.4,520.48M339.5,475.6L350.6,482.01M339.5,475.6L328.4,482.01M339.5,475.6L339.5,462.78M383.9,514.1L395,520.51M383.9,514.1L372.8,520.51M383.9,514.1L383.9,501.28M406.1,398.6L417.2,405.01M406.1,398.6L395,405.01M406.1,398.6L406.1,385.78M261.8,533.3L272.9,539.71M261.8,533.3L250.7,539.71M261.8,533.3L261.8,520.48M272.9,552.6L284,559.01M272.9,552.6L261.8,559.01M272.9,552.6L272.9,539.78M361.7,398.6L372.8,405.01M361.7,398.6L350.6,405.01M361.7,398.6L361.7,385.78M395,494.8L406.1,501.21M395,494.8L383.9,501.21M395,494.8L395,481.98M406.1,437.1L417.2,443.51M406.1,437.1L395,443.51M406.1,437.1L406.1,424.28M239.6,417.8L250.7,424.21M239.6,417.8L228.5,424.21M239.6,417.8L239.6,404.98M361.7,437.1L372.8,443.51M361.7,437.1L350.6,443.51M361.7,437.1L361.7,424.28M417.2,456.3L428.3,462.71M417.2,456.3L406.1,462.71M417.2,456.3L417.2,443.48M328.4,417.8L339.5,424.21M328.4,417.8L317.3,424.21M328.4,417.8L328.4,404.98M295.1,398.6L306.2,405.01M295.1,398.6L284,405.01M295.1,398.6L295.1,385.78M350.6,456.3L361.7,462.71M350.6,456.3L339.5,462.71M350.6,456.3L350.6,443.48M250.7,398.6L261.8,405.01M250.7,398.6L239.6,405.01M250.7,398.6L250.7,385.78M339.5,552.6L350.6,559.01M339.5,552.6L328.4,559.01M339.5,552.6L339.5,539.78M395,533.3L406.1,539.71M395,533.3L383.9,539.71M395,533.3L395,520.48M328.4,456.3L339.5,462.71M328.4,456.3L317.3,462.71M328.4,456.3L328.4,443.48M317.3,552.6L328.4,559.01M317.3,552.6L306.2,559.01M317.3,552.6L317.3,539.78M261.8,456.3L272.9,462.71M261.8,456.3L250.7,462.71M261.8,456.3L261.8,443.48M406.1,514.1L417.2,520.51M406.1,514.1L395,520.51M406.1,514.1L406.1,501.28M306.2,533.3L317.3,539.71M306.2,533.3L295.1,539.71M306.2,533.3L306.2,520.48M239.6,494.8L250.7,501.21M239.6,494.8L228.5,501.21M239.6,494.8L239.6,481.98M361.7,514.1L372.8,520.51M361.7,514.1L350.6,520.51M361.7,514.1L361.7,501.28M228.5,552.6L239.6,559.01M228.5,552.6L217.4,559.01M228.5,552.6L228.5,539.78M284,533.3L295.1,539.71M284,533.3L272.9,539.71M284,533.3L284,520.48M417.2,417.8L428.3,424.21M417.2,417.8L406.1,424.21M417.2,417.8L417.2,404.98M372.8,417.8L383.9,424.21M372.8,417.8L361.7,424.21M372.8,417.8L372.8,404.98M295.1,475.6L306.2,482.01M295.1,475.6L284,482.01M295.1,475.6L295.1,462.78M250.7,475.6L261.8,482.01M250.7,475.6L239.6,482.01M250.7,475.6L250.7,462.78M350.6,417.8L361.7,424.21M350.6,417.8L339.5,424.21M350.6,417.8L350.6,404.98M372.8,456.3L383.9,462.71M372.8,456.3L361.7,462.71M372.8,456.3L372.8,443.48M295.1,514.1L306.2,520.51M295.1,514.1L284,520.51M295.1,514.1L295.1,501.28M317.3,437.1L328.4,443.51M317.3,437.1L306.2,443.51M317.3,437.1L317.3,424.28M383.9,552.6L395,559.01M383.9,552.6L372.8,559.01M383.9,552.6L383.9,539.78M272.9,398.6L284,405.01M272.9,398.6L261.8,405.01M272.9,398.6L272.9,385.78M250.7,514.1L261.8,520.51M250.7,514.1L239.6,520.51M250.7,514.1L250.7,501.28M261.8,417.8L272.9,424.21M261.8,417.8L250.7,424.21M261.8,417.8L261.8,404.98M406.1,475.6L417.2,482.01M406.1,475.6L395,482.01M406.1,475.6L406.1,462.78M228.5,437.1L239.6,443.51M228.5,437.1L217.4,443.51M228.5,437.1L228.5,424.28M272.9,437.1L284,443.51M272.9,437.1L261.8,443.51M272.9,437.1L272.9,424.28M361.7,475.6L372.8,482.01M361.7,475.6L350.6,482.01M361.7,475.6L361.7,462.78M417.2,494.8L428.3,501.21M417.2,494.8L406.1,501.21M417.2,494.8L417.2,481.98M295.1,552.6L306.2,559.01M295.1,552.6L284,559.01M295.1,552.6L295.1,539.78M284,456.3L295.1,462.71M284,456.3L272.9,462.71M284,456.3L284,443.48M339.5,398.6L350.6,405.01M339.5,398.6L328.4,405.01M339.5,398.6L339.5,385.78M350.6,494.8L361.7,501.21M350.6,494.8L339.5,501.21M350.6,494.8L350.6,481.98M383.9,437.1L395,443.51M383.9,437.1L372.8,443.51M383.9,437.1L383.9,424.28" stroke="#141414" stroke-width="1.7" fill="none"/>
<circle cx="328.4" cy="520.8" r="5.1" fill="#5a1a1a" stroke="none" stroke-width="1" opacity="0.6"/>
<circle cx="328.4" cy="520.5" r="3.25" fill="url(#gCg)" />
<circle cx="395" cy="443.8" r="5.1" fill="#5a1a1a" stroke="none" stroke-width="1" opacity="0.6"/>
<circle cx="395" cy="443.5" r="3.25" fill="url(#gCg)" />
<circle cx="261.8" cy="520.8" r="5.1" fill="#5a1a1a" stroke="none" stroke-width="1" opacity="0.6"/>
<circle cx="261.8" cy="520.5" r="3.25" fill="url(#gCg)" />
<circle cx="295.1" cy="578.5" r="5.1" fill="#5a1a1a" stroke="none" stroke-width="1" opacity="0.6"/>
<circle cx="295.1" cy="578.2" r="3.25" fill="url(#gCg)" />
<circle cx="406.1" cy="501.5" r="5.1" fill="#5a1a1a" stroke="none" stroke-width="1" opacity="0.6"/>
<circle cx="406.1" cy="501.2" r="3.25" fill="url(#gCg)" />
<circle cx="306.2" cy="443.8" r="5.1" fill="#5a1a1a" stroke="none" stroke-width="1" opacity="0.6"/>
<circle cx="306.2" cy="443.5" r="3.25" fill="url(#gCg)" />
<circle cx="250.7" cy="578.5" r="5.1" fill="#5a1a1a" stroke="none" stroke-width="1" opacity="0.6"/>
<circle cx="250.7" cy="578.2" r="3.25" fill="url(#gCg)" />
<circle cx="361.7" cy="501.5" r="5.1" fill="#5a1a1a" stroke="none" stroke-width="1" opacity="0.6"/>
<circle cx="361.7" cy="501.2" r="3.25" fill="url(#gCg)" />
<circle cx="284" cy="559.3" r="5.1" fill="#5a1a1a" stroke="none" stroke-width="1" opacity="0.6"/>
<circle cx="284" cy="559" r="3.25" fill="url(#gCg)" />
<circle cx="406.1" cy="540" r="5.1" fill="#5a1a1a" stroke="none" stroke-width="1" opacity="0.6"/>
<circle cx="406.1" cy="539.7" r="3.25" fill="url(#gCg)" />
<circle cx="295.1" cy="463" r="5.1" fill="#5a1a1a" stroke="none" stroke-width="1" opacity="0.6"/>
<circle cx="295.1" cy="462.7" r="3.25" fill="url(#gCg)" />
<circle cx="361.7" cy="540" r="5.1" fill="#5a1a1a" stroke="none" stroke-width="1" opacity="0.6"/>
<circle cx="361.7" cy="539.7" r="3.25" fill="url(#gCg)" />
<circle cx="250.7" cy="463" r="5.1" fill="#5a1a1a" stroke="none" stroke-width="1" opacity="0.6"/>
<circle cx="250.7" cy="462.7" r="3.25" fill="url(#gCg)" />
<circle cx="395" cy="520.8" r="5.1" fill="#5a1a1a" stroke="none" stroke-width="1" opacity="0.6"/>
<circle cx="395" cy="520.5" r="3.25" fill="url(#gCg)" />
<circle cx="406.1" cy="578.5" r="5.1" fill="#5a1a1a" stroke="none" stroke-width="1" opacity="0.6"/>
<circle cx="406.1" cy="578.2" r="3.25" fill="url(#gCg)" />
<circle cx="295.1" cy="501.5" r="5.1" fill="#5a1a1a" stroke="none" stroke-width="1" opacity="0.6"/>
<circle cx="295.1" cy="501.2" r="3.25" fill="url(#gCg)" />
<circle cx="361.7" cy="578.5" r="5.1" fill="#5a1a1a" stroke="none" stroke-width="1" opacity="0.6"/>
<circle cx="361.7" cy="578.2" r="3.25" fill="url(#gCg)" />
<circle cx="250.7" cy="501.5" r="5.1" fill="#5a1a1a" stroke="none" stroke-width="1" opacity="0.6"/>
<circle cx="250.7" cy="501.2" r="3.25" fill="url(#gCg)" />
<circle cx="239.6" cy="443.8" r="5.1" fill="#5a1a1a" stroke="none" stroke-width="1" opacity="0.6"/>
<circle cx="239.6" cy="443.5" r="3.25" fill="url(#gCg)" />
<circle cx="395" cy="559.3" r="5.1" fill="#5a1a1a" stroke="none" stroke-width="1" opacity="0.6"/>
<circle cx="395" cy="559" r="3.25" fill="url(#gCg)" />
<circle cx="295.1" cy="540" r="5.1" fill="#5a1a1a" stroke="none" stroke-width="1" opacity="0.6"/>
<circle cx="295.1" cy="539.7" r="3.25" fill="url(#gCg)" />
<circle cx="306.2" cy="520.8" r="5.1" fill="#5a1a1a" stroke="none" stroke-width="1" opacity="0.6"/>
<circle cx="306.2" cy="520.5" r="3.25" fill="url(#gCg)" />
<circle cx="406.1" cy="463" r="5.1" fill="#5a1a1a" stroke="none" stroke-width="1" opacity="0.6"/>
<circle cx="406.1" cy="462.7" r="3.25" fill="url(#gCg)" />
<circle cx="250.7" cy="540" r="5.1" fill="#5a1a1a" stroke="none" stroke-width="1" opacity="0.6"/>
<circle cx="250.7" cy="539.7" r="3.25" fill="url(#gCg)" />
<circle cx="272.9" cy="424.5" r="5.1" fill="#5a1a1a" stroke="none" stroke-width="1" opacity="0.6"/>
<circle cx="272.9" cy="424.2" r="3.25" fill="url(#gCg)" />
<circle cx="239.6" cy="482.3" r="5.1" fill="#5a1a1a" stroke="none" stroke-width="1" opacity="0.6"/>
<circle cx="239.6" cy="482" r="3.25" fill="url(#gCg)" />
<circle cx="361.7" cy="463" r="5.1" fill="#5a1a1a" stroke="none" stroke-width="1" opacity="0.6"/>
<circle cx="361.7" cy="462.7" r="3.25" fill="url(#gCg)" />
<circle cx="284" cy="520.8" r="5.1" fill="#5a1a1a" stroke="none" stroke-width="1" opacity="0.6"/>
<circle cx="284" cy="520.5" r="3.25" fill="url(#gCg)" />
<circle cx="306.2" cy="559.3" r="5.1" fill="#5a1a1a" stroke="none" stroke-width="1" opacity="0.6"/>
<circle cx="306.2" cy="559" r="3.25" fill="url(#gCg)" />
<circle cx="383.9" cy="424.5" r="5.1" fill="#5a1a1a" stroke="none" stroke-width="1" opacity="0.6"/>
<circle cx="383.9" cy="424.2" r="3.25" fill="url(#gCg)" />
<circle cx="339.5" cy="424.5" r="5.1" fill="#5a1a1a" stroke="none" stroke-width="1" opacity="0.6"/>
<circle cx="339.5" cy="424.2" r="3.25" fill="url(#gCg)" />
<circle cx="417.2" cy="443.8" r="5.1" fill="#5a1a1a" stroke="none" stroke-width="1" opacity="0.6"/>
<circle cx="417.2" cy="443.5" r="3.25" fill="url(#gCg)" />
<circle cx="317.3" cy="424.5" r="5.1" fill="#5a1a1a" stroke="none" stroke-width="1" opacity="0.6"/>
<circle cx="317.3" cy="424.2" r="3.25" fill="url(#gCg)" />
<circle cx="239.6" cy="559.3" r="5.1" fill="#5a1a1a" stroke="none" stroke-width="1" opacity="0.6"/>
<circle cx="239.6" cy="559" r="3.25" fill="url(#gCg)" />
<circle cx="350.6" cy="443.8" r="5.1" fill="#5a1a1a" stroke="none" stroke-width="1" opacity="0.6"/>
<circle cx="350.6" cy="443.5" r="3.25" fill="url(#gCg)" />
<circle cx="417.2" cy="482.3" r="5.1" fill="#5a1a1a" stroke="none" stroke-width="1" opacity="0.6"/>
<circle cx="417.2" cy="482" r="3.25" fill="url(#gCg)" />
<circle cx="372.8" cy="482.3" r="5.1" fill="#5a1a1a" stroke="none" stroke-width="1" opacity="0.6"/>
<circle cx="372.8" cy="482" r="3.25" fill="url(#gCg)" />
<circle cx="272.9" cy="540" r="5.1" fill="#5a1a1a" stroke="none" stroke-width="1" opacity="0.6"/>
<circle cx="272.9" cy="539.7" r="3.25" fill="url(#gCg)" />
<circle cx="328.4" cy="443.8" r="5.1" fill="#5a1a1a" stroke="none" stroke-width="1" opacity="0.6"/>
<circle cx="328.4" cy="443.5" r="3.25" fill="url(#gCg)" />
<circle cx="228.5" cy="424.5" r="5.1" fill="#5a1a1a" stroke="none" stroke-width="1" opacity="0.6"/>
<circle cx="228.5" cy="424.2" r="3.25" fill="url(#gCg)" />
<circle cx="350.6" cy="482.3" r="5.1" fill="#5a1a1a" stroke="none" stroke-width="1" opacity="0.6"/>
<circle cx="350.6" cy="482" r="3.25" fill="url(#gCg)" />
<circle cx="272.9" cy="578.5" r="5.1" fill="#5a1a1a" stroke="none" stroke-width="1" opacity="0.6"/>
<circle cx="272.9" cy="578.2" r="3.25" fill="url(#gCg)" />
<circle cx="261.8" cy="443.8" r="5.1" fill="#5a1a1a" stroke="none" stroke-width="1" opacity="0.6"/>
<circle cx="261.8" cy="443.5" r="3.25" fill="url(#gCg)" />
<circle cx="328.4" cy="482.3" r="5.1" fill="#5a1a1a" stroke="none" stroke-width="1" opacity="0.6"/>
<circle cx="328.4" cy="482" r="3.25" fill="url(#gCg)" />
<circle cx="261.8" cy="482.3" r="5.1" fill="#5a1a1a" stroke="none" stroke-width="1" opacity="0.6"/>
<circle cx="261.8" cy="482" r="3.25" fill="url(#gCg)" />
<circle cx="317.3" cy="501.5" r="5.1" fill="#5a1a1a" stroke="none" stroke-width="1" opacity="0.6"/>
<circle cx="317.3" cy="501.2" r="3.25" fill="url(#gCg)" />
<circle cx="383.9" cy="578.5" r="5.1" fill="#5a1a1a" stroke="none" stroke-width="1" opacity="0.6"/>
<circle cx="383.9" cy="578.2" r="3.25" fill="url(#gCg)" />
<circle cx="272.9" cy="463" r="5.1" fill="#5a1a1a" stroke="none" stroke-width="1" opacity="0.6"/>
<circle cx="272.9" cy="462.7" r="3.25" fill="url(#gCg)" />
<circle cx="239.6" cy="520.8" r="5.1" fill="#5a1a1a" stroke="none" stroke-width="1" opacity="0.6"/>
<circle cx="239.6" cy="520.5" r="3.25" fill="url(#gCg)" />
<circle cx="417.2" cy="559.3" r="5.1" fill="#5a1a1a" stroke="none" stroke-width="1" opacity="0.6"/>
<circle cx="417.2" cy="559" r="3.25" fill="url(#gCg)" />
<circle cx="317.3" cy="540" r="5.1" fill="#5a1a1a" stroke="none" stroke-width="1" opacity="0.6"/>
<circle cx="317.3" cy="539.7" r="3.25" fill="url(#gCg)" />
<circle cx="339.5" cy="578.5" r="5.1" fill="#5a1a1a" stroke="none" stroke-width="1" opacity="0.6"/>
<circle cx="339.5" cy="578.2" r="3.25" fill="url(#gCg)" />
<circle cx="372.8" cy="443.8" r="5.1" fill="#5a1a1a" stroke="none" stroke-width="1" opacity="0.6"/>
<circle cx="372.8" cy="443.5" r="3.25" fill="url(#gCg)" />
<circle cx="228.5" cy="501.5" r="5.1" fill="#5a1a1a" stroke="none" stroke-width="1" opacity="0.6"/>
<circle cx="228.5" cy="501.2" r="3.25" fill="url(#gCg)" />
<circle cx="272.9" cy="501.5" r="5.1" fill="#5a1a1a" stroke="none" stroke-width="1" opacity="0.6"/>
<circle cx="272.9" cy="501.2" r="3.25" fill="url(#gCg)" />
<circle cx="350.6" cy="559.3" r="5.1" fill="#5a1a1a" stroke="none" stroke-width="1" opacity="0.6"/>
<circle cx="350.6" cy="559" r="3.25" fill="url(#gCg)" />
<circle cx="295.1" cy="424.5" r="5.1" fill="#5a1a1a" stroke="none" stroke-width="1" opacity="0.6"/>
<circle cx="295.1" cy="424.2" r="3.25" fill="url(#gCg)" />
<circle cx="383.9" cy="463" r="5.1" fill="#5a1a1a" stroke="none" stroke-width="1" opacity="0.6"/>
<circle cx="383.9" cy="462.7" r="3.25" fill="url(#gCg)" />
<circle cx="317.3" cy="578.5" r="5.1" fill="#5a1a1a" stroke="none" stroke-width="1" opacity="0.6"/>
<circle cx="317.3" cy="578.2" r="3.25" fill="url(#gCg)" />
<circle cx="328.4" cy="559.3" r="5.1" fill="#5a1a1a" stroke="none" stroke-width="1" opacity="0.6"/>
<circle cx="328.4" cy="559" r="3.25" fill="url(#gCg)" />
<circle cx="228.5" cy="540" r="5.1" fill="#5a1a1a" stroke="none" stroke-width="1" opacity="0.6"/>
<circle cx="228.5" cy="539.7" r="3.25" fill="url(#gCg)" />
<circle cx="250.7" cy="424.5" r="5.1" fill="#5a1a1a" stroke="none" stroke-width="1" opacity="0.6"/>
<circle cx="250.7" cy="424.2" r="3.25" fill="url(#gCg)" />
<circle cx="395" cy="482.3" r="5.1" fill="#5a1a1a" stroke="none" stroke-width="1" opacity="0.6"/>
<circle cx="395" cy="482" r="3.25" fill="url(#gCg)" />
<circle cx="339.5" cy="463" r="5.1" fill="#5a1a1a" stroke="none" stroke-width="1" opacity="0.6"/>
<circle cx="339.5" cy="462.7" r="3.25" fill="url(#gCg)" />
<circle cx="383.9" cy="501.5" r="5.1" fill="#5a1a1a" stroke="none" stroke-width="1" opacity="0.6"/>
<circle cx="383.9" cy="501.2" r="3.25" fill="url(#gCg)" />
<circle cx="261.8" cy="559.3" r="5.1" fill="#5a1a1a" stroke="none" stroke-width="1" opacity="0.6"/>
<circle cx="261.8" cy="559" r="3.25" fill="url(#gCg)" />
<circle cx="228.5" cy="578.5" r="5.1" fill="#5a1a1a" stroke="none" stroke-width="1" opacity="0.6"/>
<circle cx="228.5" cy="578.2" r="3.25" fill="url(#gCg)" />
<circle cx="317.3" cy="463" r="5.1" fill="#5a1a1a" stroke="none" stroke-width="1" opacity="0.6"/>
<circle cx="317.3" cy="462.7" r="3.25" fill="url(#gCg)" />
<circle cx="284" cy="443.8" r="5.1" fill="#5a1a1a" stroke="none" stroke-width="1" opacity="0.6"/>
<circle cx="284" cy="443.5" r="3.25" fill="url(#gCg)" />
<circle cx="339.5" cy="501.5" r="5.1" fill="#5a1a1a" stroke="none" stroke-width="1" opacity="0.6"/>
<circle cx="339.5" cy="501.2" r="3.25" fill="url(#gCg)" />
<circle cx="383.9" cy="540" r="5.1" fill="#5a1a1a" stroke="none" stroke-width="1" opacity="0.6"/>
<circle cx="383.9" cy="539.7" r="3.25" fill="url(#gCg)" />
<circle cx="306.2" cy="482.3" r="5.1" fill="#5a1a1a" stroke="none" stroke-width="1" opacity="0.6"/>
<circle cx="306.2" cy="482" r="3.25" fill="url(#gCg)" />
<circle cx="406.1" cy="424.5" r="5.1" fill="#5a1a1a" stroke="none" stroke-width="1" opacity="0.6"/>
<circle cx="406.1" cy="424.2" r="3.25" fill="url(#gCg)" />
<circle cx="417.2" cy="520.8" r="5.1" fill="#5a1a1a" stroke="none" stroke-width="1" opacity="0.6"/>
<circle cx="417.2" cy="520.5" r="3.25" fill="url(#gCg)" />
<circle cx="372.8" cy="520.8" r="5.1" fill="#5a1a1a" stroke="none" stroke-width="1" opacity="0.6"/>
<circle cx="372.8" cy="520.5" r="3.25" fill="url(#gCg)" />
<circle cx="339.5" cy="540" r="5.1" fill="#5a1a1a" stroke="none" stroke-width="1" opacity="0.6"/>
<circle cx="339.5" cy="539.7" r="3.25" fill="url(#gCg)" />
<circle cx="361.7" cy="424.5" r="5.1" fill="#5a1a1a" stroke="none" stroke-width="1" opacity="0.6"/>
<circle cx="361.7" cy="424.2" r="3.25" fill="url(#gCg)" />
<circle cx="284" cy="482.3" r="5.1" fill="#5a1a1a" stroke="none" stroke-width="1" opacity="0.6"/>
<circle cx="284" cy="482" r="3.25" fill="url(#gCg)" />
<circle cx="228.5" cy="463" r="5.1" fill="#5a1a1a" stroke="none" stroke-width="1" opacity="0.6"/>
<circle cx="228.5" cy="462.7" r="3.25" fill="url(#gCg)" />
<circle cx="350.6" cy="520.8" r="5.1" fill="#5a1a1a" stroke="none" stroke-width="1" opacity="0.6"/>
<circle cx="350.6" cy="520.5" r="3.25" fill="url(#gCg)" />
<circle cx="372.8" cy="559.3" r="5.1" fill="#5a1a1a" stroke="none" stroke-width="1" opacity="0.6"/>
<circle cx="372.8" cy="559" r="3.25" fill="url(#gCg)" />
<circle cx="328.4" cy="494.8" r="3.25" fill="url(#gCg)" />
<circle cx="317.3" cy="398.6" r="3.25" fill="url(#gCg)" />
<circle cx="395" cy="417.8" r="3.25" fill="url(#gCg)" />
<circle cx="339.5" cy="437.1" r="3.25" fill="url(#gCg)" />
<circle cx="261.8" cy="494.8" r="3.25" fill="url(#gCg)" />
<circle cx="406.1" cy="552.6" r="3.25" fill="url(#gCg)" />
<circle cx="272.9" cy="514.1" r="3.25" fill="url(#gCg)" />
<circle cx="395" cy="456.3" r="3.25" fill="url(#gCg)" />
<circle cx="228.5" cy="398.6" r="3.25" fill="url(#gCg)" />
<circle cx="361.7" cy="552.6" r="3.25" fill="url(#gCg)" />
<circle cx="306.2" cy="417.8" r="3.25" fill="url(#gCg)" />
<circle cx="239.6" cy="533.3" r="3.25" fill="url(#gCg)" />
<circle cx="284" cy="417.8" r="3.25" fill="url(#gCg)" />
<circle cx="306.2" cy="456.3" r="3.25" fill="url(#gCg)" />
<circle cx="383.9" cy="398.6" r="3.25" fill="url(#gCg)" />
<circle cx="372.8" cy="494.8" r="3.25" fill="url(#gCg)" />
<circle cx="317.3" cy="475.6" r="3.25" fill="url(#gCg)" />
<circle cx="339.5" cy="514.1" r="3.25" fill="url(#gCg)" />
<circle cx="250.7" cy="552.6" r="3.25" fill="url(#gCg)" />
<circle cx="317.3" cy="514.1" r="3.25" fill="url(#gCg)" />
<circle cx="228.5" cy="475.6" r="3.25" fill="url(#gCg)" />
<circle cx="272.9" cy="475.6" r="3.25" fill="url(#gCg)" />
<circle cx="306.2" cy="494.8" r="3.25" fill="url(#gCg)" />
<circle cx="239.6" cy="456.3" r="3.25" fill="url(#gCg)" />
<circle cx="417.2" cy="533.3" r="3.25" fill="url(#gCg)" />
<circle cx="372.8" cy="533.3" r="3.25" fill="url(#gCg)" />
<circle cx="284" cy="494.8" r="3.25" fill="url(#gCg)" />
<circle cx="228.5" cy="514.1" r="3.25" fill="url(#gCg)" />
<circle cx="295.1" cy="437.1" r="3.25" fill="url(#gCg)" />
<circle cx="383.9" cy="475.6" r="3.25" fill="url(#gCg)" />
<circle cx="350.6" cy="533.3" r="3.25" fill="url(#gCg)" />
<circle cx="250.7" cy="437.1" r="3.25" fill="url(#gCg)" />
<circle cx="328.4" cy="533.3" r="3.25" fill="url(#gCg)" />
<circle cx="339.5" cy="475.6" r="3.25" fill="url(#gCg)" />
<circle cx="383.9" cy="514.1" r="3.25" fill="url(#gCg)" />
<circle cx="406.1" cy="398.6" r="3.25" fill="url(#gCg)" />
<circle cx="261.8" cy="533.3" r="3.25" fill="url(#gCg)" />
<circle cx="272.9" cy="552.6" r="3.25" fill="url(#gCg)" />
<circle cx="361.7" cy="398.6" r="3.25" fill="url(#gCg)" />
<circle cx="395" cy="494.8" r="3.25" fill="url(#gCg)" />
<circle cx="406.1" cy="437.1" r="3.25" fill="url(#gCg)" />
<circle cx="239.6" cy="417.8" r="3.25" fill="url(#gCg)" />
<circle cx="361.7" cy="437.1" r="3.25" fill="url(#gCg)" />
<circle cx="417.2" cy="456.3" r="3.25" fill="url(#gCg)" />
<circle cx="328.4" cy="417.8" r="3.25" fill="url(#gCg)" />
<circle cx="295.1" cy="398.6" r="3.25" fill="url(#gCg)" />
<circle cx="350.6" cy="456.3" r="3.25" fill="url(#gCg)" />
<circle cx="250.7" cy="398.6" r="3.25" fill="url(#gCg)" />
<circle cx="339.5" cy="552.6" r="3.25" fill="url(#gCg)" />
<circle cx="395" cy="533.3" r="3.25" fill="url(#gCg)" />
<circle cx="328.4" cy="456.3" r="3.25" fill="url(#gCg)" />
<circle cx="317.3" cy="552.6" r="3.25" fill="url(#gCg)" />
<circle cx="261.8" cy="456.3" r="3.25" fill="url(#gCg)" />
<circle cx="406.1" cy="514.1" r="3.25" fill="url(#gCg)" />
<circle cx="306.2" cy="533.3" r="3.25" fill="url(#gCg)" />
<circle cx="239.6" cy="494.8" r="3.25" fill="url(#gCg)" />
<circle cx="361.7" cy="514.1" r="3.25" fill="url(#gCg)" />
<circle cx="228.5" cy="552.6" r="3.25" fill="url(#gCg)" />
<circle cx="284" cy="533.3" r="3.25" fill="url(#gCg)" />
<circle cx="417.2" cy="417.8" r="3.25" fill="url(#gCg)" />
<circle cx="372.8" cy="417.8" r="3.25" fill="url(#gCg)" />
<circle cx="295.1" cy="475.6" r="3.25" fill="url(#gCg)" />
<circle cx="250.7" cy="475.6" r="3.25" fill="url(#gCg)" />
<circle cx="350.6" cy="417.8" r="3.25" fill="url(#gCg)" />
<circle cx="372.8" cy="456.3" r="3.25" fill="url(#gCg)" />
<circle cx="295.1" cy="514.1" r="3.25" fill="url(#gCg)" />
<circle cx="317.3" cy="437.1" r="3.25" fill="url(#gCg)" />
<circle cx="383.9" cy="552.6" r="3.25" fill="url(#gCg)" />
<circle cx="272.9" cy="398.6" r="3.25" fill="url(#gCg)" />
<circle cx="250.7" cy="514.1" r="3.25" fill="url(#gCg)" />
<circle cx="261.8" cy="417.8" r="3.25" fill="url(#gCg)" />
<circle cx="406.1" cy="475.6" r="3.25" fill="url(#gCg)" />
<circle cx="228.5" cy="437.1" r="3.25" fill="url(#gCg)" />
<circle cx="272.9" cy="437.1" r="3.25" fill="url(#gCg)" />
<circle cx="361.7" cy="475.6" r="3.25" fill="url(#gCg)" />
<circle cx="417.2" cy="494.8" r="3.25" fill="url(#gCg)" />
<circle cx="295.1" cy="552.6" r="3.25" fill="url(#gCg)" />
<circle cx="284" cy="456.3" r="3.25" fill="url(#gCg)" />
<circle cx="339.5" cy="398.6" r="3.25" fill="url(#gCg)" />
<circle cx="350.6" cy="494.8" r="3.25" fill="url(#gCg)" />
<circle cx="383.9" cy="437.1" r="3.25" fill="url(#gCg)" />
</g>
<line x1="247.2" y1="549.5" x2="247.2" y2="531" stroke="#111" stroke-width="0.9" />
<polygon points="247.2,528 245.4,532.2 249,532.2" fill="#111" stroke="none" stroke-width="1" />
<line x1="246.8" y1="549.5" x2="268" y2="549.5" stroke="#111" stroke-width="0.9" />
<polygon points="271,549.5 266.8,547.7 266.8,551.3" fill="#111" stroke="none" stroke-width="1" />
<text x="244.5" y="526" font-size="6.8" text-anchor="middle" font-weight="normal" fill="#111" stroke="#111" stroke-width="0.16" font-style="italic">y</text>
<text x="275.3" y="551.6" font-size="6.8" text-anchor="middle" font-weight="normal" fill="#111" stroke="#111" stroke-width="0.16" font-style="italic">x</text>
<text x="385.7" y="437.3" font-size="11.5" text-anchor="start" font-weight="bold" fill="#000" >q</text>
<clipPath id="clipQ"><rect x="402.2" y="431" width="113.2" height="114.3"/></clipPath>
<g clip-path="url(#clipQ)">
<circle cx="389.1" cy="397.14" r="2.5" fill="url(#gSal)" />
<circle cx="412.25" cy="397.14" r="2.5" fill="url(#gSal)" />
<circle cx="435.4" cy="397.14" r="2.5" fill="url(#gSal)" />
<circle cx="458.55" cy="397.14" r="2.5" fill="url(#gSal)" />
<circle cx="481.7" cy="397.14" r="2.5" fill="url(#gSal)" />
<circle cx="504.85" cy="397.14" r="2.5" fill="url(#gSal)" />
<circle cx="528" cy="397.14" r="2.5" fill="url(#gSal)" />
<circle cx="551.15" cy="397.14" r="2.5" fill="url(#gSal)" />
<circle cx="574.3" cy="397.14" r="2.5" fill="url(#gSal)" />
<circle cx="597.45" cy="397.14" r="2.5" fill="url(#gSal)" />
<circle cx="377.52" cy="417.19" r="2.5" fill="url(#gSal)" />
<circle cx="400.67" cy="417.19" r="2.5" fill="url(#gSal)" />
<circle cx="423.82" cy="417.19" r="2.5" fill="url(#gSal)" />
<circle cx="446.97" cy="417.19" r="2.5" fill="url(#gSal)" />
<circle cx="470.12" cy="417.19" r="2.5" fill="url(#gSal)" />
<circle cx="493.27" cy="417.19" r="2.5" fill="url(#gSal)" />
<circle cx="516.42" cy="417.19" r="2.5" fill="url(#gSal)" />
<circle cx="539.58" cy="417.19" r="2.5" fill="url(#gSal)" />
<circle cx="562.73" cy="417.19" r="2.5" fill="url(#gSal)" />
<circle cx="585.88" cy="417.19" r="2.5" fill="url(#gSal)" />
<circle cx="389.1" cy="437.23" r="2.5" fill="url(#gSal)" />
<circle cx="412.25" cy="437.23" r="2.5" fill="url(#gSal)" />
<circle cx="435.4" cy="437.23" r="2.5" fill="url(#gSal)" />
<circle cx="458.55" cy="437.23" r="2.5" fill="url(#gSal)" />
<circle cx="481.7" cy="437.23" r="2.5" fill="url(#gSal)" />
<circle cx="504.85" cy="437.23" r="2.5" fill="url(#gSal)" />
<circle cx="528" cy="437.23" r="2.5" fill="url(#gSal)" />
<circle cx="551.15" cy="437.23" r="2.5" fill="url(#gSal)" />
<circle cx="574.3" cy="437.23" r="2.5" fill="url(#gSal)" />
<circle cx="597.45" cy="437.23" r="2.5" fill="url(#gSal)" />
<circle cx="377.52" cy="457.28" r="2.5" fill="url(#gSal)" />
<circle cx="400.67" cy="457.28" r="2.5" fill="url(#gSal)" />
<circle cx="423.82" cy="457.28" r="2.5" fill="url(#gSal)" />
<circle cx="446.97" cy="457.28" r="2.5" fill="url(#gSal)" />
<circle cx="470.12" cy="457.28" r="2.5" fill="url(#gSal)" />
<circle cx="493.27" cy="457.28" r="2.5" fill="url(#gSal)" />
<circle cx="516.42" cy="457.28" r="2.5" fill="url(#gSal)" />
<circle cx="539.58" cy="457.28" r="2.5" fill="url(#gSal)" />
<circle cx="562.73" cy="457.28" r="2.5" fill="url(#gSal)" />
<circle cx="585.88" cy="457.28" r="2.5" fill="url(#gSal)" />
<circle cx="389.1" cy="477.33" r="2.5" fill="url(#gSal)" />
<circle cx="412.25" cy="477.33" r="2.5" fill="url(#gSal)" />
<circle cx="435.4" cy="477.33" r="2.5" fill="url(#gSal)" />
<circle cx="458.55" cy="477.33" r="2.5" fill="url(#gSal)" />
<circle cx="481.7" cy="477.33" r="2.5" fill="url(#gSal)" />
<circle cx="504.85" cy="477.33" r="2.5" fill="url(#gSal)" />
<circle cx="528" cy="477.33" r="2.5" fill="url(#gSal)" />
<circle cx="551.15" cy="477.33" r="2.5" fill="url(#gSal)" />
<circle cx="574.3" cy="477.33" r="2.5" fill="url(#gSal)" />
<circle cx="597.45" cy="477.33" r="2.5" fill="url(#gSal)" />
<circle cx="377.52" cy="497.38" r="2.5" fill="url(#gSal)" />
<circle cx="400.67" cy="497.38" r="2.5" fill="url(#gSal)" />
<circle cx="423.82" cy="497.38" r="2.5" fill="url(#gSal)" />
<circle cx="446.97" cy="497.38" r="2.5" fill="url(#gSal)" />
<circle cx="470.12" cy="497.38" r="2.5" fill="url(#gSal)" />
<circle cx="493.27" cy="497.38" r="2.5" fill="url(#gSal)" />
<circle cx="516.42" cy="497.38" r="2.5" fill="url(#gSal)" />
<circle cx="539.58" cy="497.38" r="2.5" fill="url(#gSal)" />
<circle cx="562.73" cy="497.38" r="2.5" fill="url(#gSal)" />
<circle cx="585.88" cy="497.38" r="2.5" fill="url(#gSal)" />
<circle cx="389.1" cy="517.43" r="2.5" fill="url(#gSal)" />
<circle cx="412.25" cy="517.43" r="2.5" fill="url(#gSal)" />
<circle cx="435.4" cy="517.43" r="2.5" fill="url(#gSal)" />
<circle cx="458.55" cy="517.43" r="2.5" fill="url(#gSal)" />
<circle cx="481.7" cy="517.43" r="2.5" fill="url(#gSal)" />
<circle cx="504.85" cy="517.43" r="2.5" fill="url(#gSal)" />
<circle cx="528" cy="517.43" r="2.5" fill="url(#gSal)" />
<circle cx="551.15" cy="517.43" r="2.5" fill="url(#gSal)" />
<circle cx="574.3" cy="517.43" r="2.5" fill="url(#gSal)" />
<circle cx="597.45" cy="517.43" r="2.5" fill="url(#gSal)" />
<circle cx="377.52" cy="537.47" r="2.5" fill="url(#gSal)" />
<circle cx="400.67" cy="537.47" r="2.5" fill="url(#gSal)" />
<circle cx="423.82" cy="537.47" r="2.5" fill="url(#gSal)" />
<circle cx="446.97" cy="537.47" r="2.5" fill="url(#gSal)" />
<circle cx="470.12" cy="537.47" r="2.5" fill="url(#gSal)" />
<circle cx="493.27" cy="537.47" r="2.5" fill="url(#gSal)" />
<circle cx="516.42" cy="537.47" r="2.5" fill="url(#gSal)" />
<circle cx="539.58" cy="537.47" r="2.5" fill="url(#gSal)" />
<circle cx="562.73" cy="537.47" r="2.5" fill="url(#gSal)" />
<circle cx="585.88" cy="537.47" r="2.5" fill="url(#gSal)" />
<circle cx="389.1" cy="557.52" r="2.5" fill="url(#gSal)" />
<circle cx="412.25" cy="557.52" r="2.5" fill="url(#gSal)" />
<circle cx="435.4" cy="557.52" r="2.5" fill="url(#gSal)" />
<circle cx="458.55" cy="557.52" r="2.5" fill="url(#gSal)" />
<circle cx="481.7" cy="557.52" r="2.5" fill="url(#gSal)" />
<circle cx="504.85" cy="557.52" r="2.5" fill="url(#gSal)" />
<circle cx="528" cy="557.52" r="2.5" fill="url(#gSal)" />
<circle cx="551.15" cy="557.52" r="2.5" fill="url(#gSal)" />
<circle cx="574.3" cy="557.52" r="2.5" fill="url(#gSal)" />
<circle cx="597.45" cy="557.52" r="2.5" fill="url(#gSal)" />
<circle cx="377.52" cy="577.57" r="2.5" fill="url(#gSal)" />
<circle cx="400.67" cy="577.57" r="2.5" fill="url(#gSal)" />
<circle cx="423.82" cy="577.57" r="2.5" fill="url(#gSal)" />
<circle cx="446.97" cy="577.57" r="2.5" fill="url(#gSal)" />
<circle cx="470.12" cy="577.57" r="2.5" fill="url(#gSal)" />
<circle cx="493.27" cy="577.57" r="2.5" fill="url(#gSal)" />
<circle cx="516.42" cy="577.57" r="2.5" fill="url(#gSal)" />
<circle cx="539.58" cy="577.57" r="2.5" fill="url(#gSal)" />
<circle cx="562.73" cy="577.57" r="2.5" fill="url(#gSal)" />
<circle cx="585.88" cy="577.57" r="2.5" fill="url(#gSal)" />
<circle cx="389.1" cy="383.77" r="3.9" fill="url(#gSal)" />
<circle cx="412.25" cy="383.77" r="3.9" fill="url(#gSal)" />
<circle cx="435.4" cy="383.77" r="3.9" fill="url(#gSal)" />
<circle cx="458.55" cy="383.77" r="3.9" fill="url(#gSal)" />
<circle cx="481.7" cy="383.77" r="3.9" fill="url(#gSal)" />
<circle cx="504.85" cy="383.77" r="3.9" fill="url(#gSal)" />
<circle cx="528" cy="383.77" r="3.9" fill="url(#gSal)" />
<circle cx="551.15" cy="383.77" r="3.9" fill="url(#gSal)" />
<circle cx="574.3" cy="383.77" r="3.9" fill="url(#gSal)" />
<circle cx="597.45" cy="383.77" r="3.9" fill="url(#gSal)" />
<circle cx="377.52" cy="403.82" r="3.9" fill="url(#gSal)" />
<circle cx="400.67" cy="403.82" r="3.9" fill="url(#gSal)" />
<circle cx="423.82" cy="403.82" r="3.9" fill="url(#gSal)" />
<circle cx="446.97" cy="403.82" r="3.9" fill="url(#gSal)" />
<circle cx="470.12" cy="403.82" r="3.9" fill="url(#gSal)" />
<circle cx="493.27" cy="403.82" r="3.9" fill="url(#gSal)" />
<circle cx="516.42" cy="403.82" r="3.9" fill="url(#gSal)" />
<circle cx="539.58" cy="403.82" r="3.9" fill="url(#gSal)" />
<circle cx="562.73" cy="403.82" r="3.9" fill="url(#gSal)" />
<circle cx="585.88" cy="403.82" r="3.9" fill="url(#gSal)" />
<circle cx="389.1" cy="423.87" r="3.9" fill="url(#gSal)" />
<circle cx="412.25" cy="423.87" r="3.9" fill="url(#gSal)" />
<circle cx="435.4" cy="423.87" r="3.9" fill="url(#gSal)" />
<circle cx="458.55" cy="423.87" r="3.9" fill="url(#gSal)" />
<circle cx="481.7" cy="423.87" r="3.9" fill="url(#gSal)" />
<circle cx="504.85" cy="423.87" r="3.9" fill="url(#gSal)" />
<circle cx="528" cy="423.87" r="3.9" fill="url(#gSal)" />
<circle cx="551.15" cy="423.87" r="3.9" fill="url(#gSal)" />
<circle cx="574.3" cy="423.87" r="3.9" fill="url(#gSal)" />
<circle cx="597.45" cy="423.87" r="3.9" fill="url(#gSal)" />
<circle cx="377.52" cy="443.92" r="3.9" fill="url(#gSal)" />
<circle cx="400.67" cy="443.92" r="3.9" fill="url(#gSal)" />
<circle cx="423.82" cy="443.92" r="3.9" fill="url(#gSal)" />
<circle cx="446.97" cy="443.92" r="3.9" fill="url(#gSal)" />
<circle cx="470.12" cy="443.92" r="3.9" fill="url(#gSal)" />
<circle cx="493.27" cy="443.92" r="3.9" fill="url(#gSal)" />
<circle cx="516.42" cy="443.92" r="3.9" fill="url(#gSal)" />
<circle cx="539.58" cy="443.92" r="3.9" fill="url(#gSal)" />
<circle cx="562.73" cy="443.92" r="3.9" fill="url(#gSal)" />
<circle cx="585.88" cy="443.92" r="3.9" fill="url(#gSal)" />
<circle cx="389.1" cy="463.97" r="3.9" fill="url(#gSal)" />
<circle cx="412.25" cy="463.97" r="3.9" fill="url(#gSal)" />
<circle cx="435.4" cy="463.97" r="3.9" fill="url(#gSal)" />
<circle cx="458.55" cy="463.97" r="3.9" fill="url(#gSal)" />
<circle cx="481.7" cy="463.97" r="3.9" fill="url(#gSal)" />
<circle cx="504.85" cy="463.97" r="3.9" fill="url(#gSal)" />
<circle cx="528" cy="463.97" r="3.9" fill="url(#gSal)" />
<circle cx="551.15" cy="463.97" r="3.9" fill="url(#gSal)" />
<circle cx="574.3" cy="463.97" r="3.9" fill="url(#gSal)" />
<circle cx="597.45" cy="463.97" r="3.9" fill="url(#gSal)" />
<circle cx="377.52" cy="484.01" r="3.9" fill="url(#gSal)" />
<circle cx="400.67" cy="484.01" r="3.9" fill="url(#gSal)" />
<circle cx="423.82" cy="484.01" r="3.9" fill="url(#gSal)" />
<circle cx="446.97" cy="484.01" r="3.9" fill="url(#gSal)" />
<circle cx="470.12" cy="484.01" r="3.9" fill="url(#gSal)" />
<circle cx="493.27" cy="484.01" r="3.9" fill="url(#gSal)" />
<circle cx="516.42" cy="484.01" r="3.9" fill="url(#gSal)" />
<circle cx="539.58" cy="484.01" r="3.9" fill="url(#gSal)" />
<circle cx="562.73" cy="484.01" r="3.9" fill="url(#gSal)" />
<circle cx="585.88" cy="484.01" r="3.9" fill="url(#gSal)" />
<circle cx="389.1" cy="504.06" r="3.9" fill="url(#gSal)" />
<circle cx="412.25" cy="504.06" r="3.9" fill="url(#gSal)" />
<circle cx="435.4" cy="504.06" r="3.9" fill="url(#gSal)" />
<circle cx="458.55" cy="504.06" r="3.9" fill="url(#gSal)" />
<circle cx="481.7" cy="504.06" r="3.9" fill="url(#gSal)" />
<circle cx="504.85" cy="504.06" r="3.9" fill="url(#gSal)" />
<circle cx="528" cy="504.06" r="3.9" fill="url(#gSal)" />
<circle cx="551.15" cy="504.06" r="3.9" fill="url(#gSal)" />
<circle cx="574.3" cy="504.06" r="3.9" fill="url(#gSal)" />
<circle cx="597.45" cy="504.06" r="3.9" fill="url(#gSal)" />
<circle cx="377.52" cy="524.11" r="3.9" fill="url(#gSal)" />
<circle cx="400.67" cy="524.11" r="3.9" fill="url(#gSal)" />
<circle cx="423.82" cy="524.11" r="3.9" fill="url(#gSal)" />
<circle cx="446.97" cy="524.11" r="3.9" fill="url(#gSal)" />
<circle cx="470.12" cy="524.11" r="3.9" fill="url(#gSal)" />
<circle cx="493.27" cy="524.11" r="3.9" fill="url(#gSal)" />
<circle cx="516.42" cy="524.11" r="3.9" fill="url(#gSal)" />
<circle cx="539.58" cy="524.11" r="3.9" fill="url(#gSal)" />
<circle cx="562.73" cy="524.11" r="3.9" fill="url(#gSal)" />
<circle cx="585.88" cy="524.11" r="3.9" fill="url(#gSal)" />
<circle cx="389.1" cy="544.16" r="3.9" fill="url(#gSal)" />
<circle cx="412.25" cy="544.16" r="3.9" fill="url(#gSal)" />
<circle cx="435.4" cy="544.16" r="3.9" fill="url(#gSal)" />
<circle cx="458.55" cy="544.16" r="3.9" fill="url(#gSal)" />
<circle cx="481.7" cy="544.16" r="3.9" fill="url(#gSal)" />
<circle cx="504.85" cy="544.16" r="3.9" fill="url(#gSal)" />
<circle cx="528" cy="544.16" r="3.9" fill="url(#gSal)" />
<circle cx="551.15" cy="544.16" r="3.9" fill="url(#gSal)" />
<circle cx="574.3" cy="544.16" r="3.9" fill="url(#gSal)" />
<circle cx="597.45" cy="544.16" r="3.9" fill="url(#gSal)" />
<circle cx="377.52" cy="564.2" r="3.9" fill="url(#gSal)" />
<circle cx="400.67" cy="564.2" r="3.9" fill="url(#gSal)" />
<circle cx="423.82" cy="564.2" r="3.9" fill="url(#gSal)" />
<circle cx="446.97" cy="564.2" r="3.9" fill="url(#gSal)" />
<circle cx="470.12" cy="564.2" r="3.9" fill="url(#gSal)" />
<circle cx="493.27" cy="564.2" r="3.9" fill="url(#gSal)" />
<circle cx="516.42" cy="564.2" r="3.9" fill="url(#gSal)" />
<circle cx="539.58" cy="564.2" r="3.9" fill="url(#gSal)" />
<circle cx="562.73" cy="564.2" r="3.9" fill="url(#gSal)" />
<circle cx="585.88" cy="564.2" r="3.9" fill="url(#gSal)" />
<circle cx="377.52" cy="390.46" r="5.5" fill="url(#gSal)" />
<circle cx="400.67" cy="390.46" r="5.5" fill="url(#gSal)" />
<circle cx="423.82" cy="390.46" r="5.5" fill="url(#gSal)" />
<circle cx="446.97" cy="390.46" r="5.5" fill="url(#gSal)" />
<circle cx="470.12" cy="390.46" r="5.5" fill="url(#gSal)" />
<circle cx="493.27" cy="390.46" r="5.5" fill="url(#gSal)" />
<circle cx="516.42" cy="390.46" r="5.5" fill="url(#gSal)" />
<circle cx="539.58" cy="390.46" r="5.5" fill="url(#gSal)" />
<circle cx="562.73" cy="390.46" r="5.5" fill="url(#gSal)" />
<circle cx="585.88" cy="390.46" r="5.5" fill="url(#gSal)" />
<circle cx="365.95" cy="410.5" r="5.5" fill="url(#gSal)" />
<circle cx="389.1" cy="410.5" r="5.5" fill="url(#gSal)" />
<circle cx="412.25" cy="410.5" r="5.5" fill="url(#gSal)" />
<circle cx="435.4" cy="410.5" r="5.5" fill="url(#gSal)" />
<circle cx="458.55" cy="410.5" r="5.5" fill="url(#gSal)" />
<circle cx="481.7" cy="410.5" r="5.5" fill="url(#gSal)" />
<circle cx="504.85" cy="410.5" r="5.5" fill="url(#gSal)" />
<circle cx="528" cy="410.5" r="5.5" fill="url(#gSal)" />
<circle cx="551.15" cy="410.5" r="5.5" fill="url(#gSal)" />
<circle cx="574.3" cy="410.5" r="5.5" fill="url(#gSal)" />
<circle cx="377.52" cy="430.55" r="5.5" fill="url(#gSal)" />
<circle cx="400.67" cy="430.55" r="5.5" fill="url(#gSal)" />
<circle cx="423.82" cy="430.55" r="5.5" fill="url(#gSal)" />
<circle cx="446.97" cy="430.55" r="5.5" fill="url(#gSal)" />
<circle cx="470.12" cy="430.55" r="5.5" fill="url(#gSal)" />
<circle cx="493.27" cy="430.55" r="5.5" fill="url(#gSal)" />
<circle cx="516.42" cy="430.55" r="5.5" fill="url(#gSal)" />
<circle cx="539.58" cy="430.55" r="5.5" fill="url(#gSal)" />
<circle cx="562.73" cy="430.55" r="5.5" fill="url(#gSal)" />
<circle cx="585.88" cy="430.55" r="5.5" fill="url(#gSal)" />
<circle cx="365.95" cy="450.6" r="5.5" fill="url(#gSal)" />
<circle cx="389.1" cy="450.6" r="5.5" fill="url(#gSal)" />
<circle cx="412.25" cy="450.6" r="5.5" fill="url(#gSal)" />
<circle cx="435.4" cy="450.6" r="5.5" fill="url(#gSal)" />
<circle cx="458.55" cy="450.6" r="5.5" fill="url(#gSal)" />
<circle cx="481.7" cy="450.6" r="5.5" fill="url(#gSal)" />
<circle cx="504.85" cy="450.6" r="5.5" fill="url(#gSal)" />
<circle cx="528" cy="450.6" r="5.5" fill="url(#gSal)" />
<circle cx="551.15" cy="450.6" r="5.5" fill="url(#gSal)" />
<circle cx="574.3" cy="450.6" r="5.5" fill="url(#gSal)" />
<circle cx="377.52" cy="470.65" r="5.5" fill="url(#gSal)" />
<circle cx="400.67" cy="470.65" r="5.5" fill="url(#gSal)" />
<circle cx="423.82" cy="470.65" r="5.5" fill="url(#gSal)" />
<circle cx="446.97" cy="470.65" r="5.5" fill="url(#gSal)" />
<circle cx="470.12" cy="470.65" r="5.5" fill="url(#gSal)" />
<circle cx="493.27" cy="470.65" r="5.5" fill="url(#gSal)" />
<circle cx="516.42" cy="470.65" r="5.5" fill="url(#gSal)" />
<circle cx="539.58" cy="470.65" r="5.5" fill="url(#gSal)" />
<circle cx="562.73" cy="470.65" r="5.5" fill="url(#gSal)" />
<circle cx="585.88" cy="470.65" r="5.5" fill="url(#gSal)" />
<circle cx="365.95" cy="490.7" r="5.5" fill="url(#gSal)" />
<circle cx="389.1" cy="490.7" r="5.5" fill="url(#gSal)" />
<circle cx="412.25" cy="490.7" r="5.5" fill="url(#gSal)" />
<circle cx="435.4" cy="490.7" r="5.5" fill="url(#gSal)" />
<circle cx="458.55" cy="490.7" r="5.5" fill="url(#gSal)" />
<circle cx="481.7" cy="490.7" r="5.5" fill="url(#gSal)" />
<circle cx="504.85" cy="490.7" r="5.5" fill="url(#gSal)" />
<circle cx="528" cy="490.7" r="5.5" fill="url(#gSal)" />
<circle cx="551.15" cy="490.7" r="5.5" fill="url(#gSal)" />
<circle cx="574.3" cy="490.7" r="5.5" fill="url(#gSal)" />
<circle cx="377.52" cy="510.74" r="5.5" fill="url(#gSal)" />
<circle cx="400.67" cy="510.74" r="5.5" fill="url(#gSal)" />
<circle cx="423.82" cy="510.74" r="5.5" fill="url(#gSal)" />
<circle cx="446.97" cy="510.74" r="5.5" fill="url(#gSal)" />
<circle cx="470.12" cy="510.74" r="5.5" fill="url(#gSal)" />
<circle cx="493.27" cy="510.74" r="5.5" fill="url(#gSal)" />
<circle cx="516.42" cy="510.74" r="5.5" fill="url(#gSal)" />
<circle cx="539.58" cy="510.74" r="5.5" fill="url(#gSal)" />
<circle cx="562.73" cy="510.74" r="5.5" fill="url(#gSal)" />
<circle cx="585.88" cy="510.74" r="5.5" fill="url(#gSal)" />
<circle cx="365.95" cy="530.79" r="5.5" fill="url(#gSal)" />
<circle cx="389.1" cy="530.79" r="5.5" fill="url(#gSal)" />
<circle cx="412.25" cy="530.79" r="5.5" fill="url(#gSal)" />
<circle cx="435.4" cy="530.79" r="5.5" fill="url(#gSal)" />
<circle cx="458.55" cy="530.79" r="5.5" fill="url(#gSal)" />
<circle cx="481.7" cy="530.79" r="5.5" fill="url(#gSal)" />
<circle cx="504.85" cy="530.79" r="5.5" fill="url(#gSal)" />
<circle cx="528" cy="530.79" r="5.5" fill="url(#gSal)" />
<circle cx="551.15" cy="530.79" r="5.5" fill="url(#gSal)" />
<circle cx="574.3" cy="530.79" r="5.5" fill="url(#gSal)" />
<circle cx="377.52" cy="550.84" r="5.5" fill="url(#gSal)" />
<circle cx="400.67" cy="550.84" r="5.5" fill="url(#gSal)" />
<circle cx="423.82" cy="550.84" r="5.5" fill="url(#gSal)" />
<circle cx="446.97" cy="550.84" r="5.5" fill="url(#gSal)" />
<circle cx="470.12" cy="550.84" r="5.5" fill="url(#gSal)" />
<circle cx="493.27" cy="550.84" r="5.5" fill="url(#gSal)" />
<circle cx="516.42" cy="550.84" r="5.5" fill="url(#gSal)" />
<circle cx="539.58" cy="550.84" r="5.5" fill="url(#gSal)" />
<circle cx="562.73" cy="550.84" r="5.5" fill="url(#gSal)" />
<circle cx="585.88" cy="550.84" r="5.5" fill="url(#gSal)" />
<circle cx="365.95" cy="570.89" r="5.5" fill="url(#gSal)" />
<circle cx="389.1" cy="570.89" r="5.5" fill="url(#gSal)" />
<circle cx="412.25" cy="570.89" r="5.5" fill="url(#gSal)" />
<circle cx="435.4" cy="570.89" r="5.5" fill="url(#gSal)" />
<circle cx="458.55" cy="570.89" r="5.5" fill="url(#gSal)" />
<circle cx="481.7" cy="570.89" r="5.5" fill="url(#gSal)" />
<circle cx="504.85" cy="570.89" r="5.5" fill="url(#gSal)" />
<circle cx="528" cy="570.89" r="5.5" fill="url(#gSal)" />
<circle cx="551.15" cy="570.89" r="5.5" fill="url(#gSal)" />
<circle cx="574.3" cy="570.89" r="5.5" fill="url(#gSal)" />
<path d="M414.2,431.44L407.8,442.53M407.8,442.53L395,442.53M395,442.53L388.6,431.44M414.2,453.61L407.8,464.7M407.8,464.7L395,464.7M395,464.7L388.6,453.61M414.2,475.79L407.8,486.87M407.8,486.87L395,486.87M395,486.87L388.6,475.79M414.2,497.96L407.8,509.04M407.8,509.04L395,509.04M395,509.04L388.6,497.96M414.2,520.13L407.8,531.21M407.8,531.21L395,531.21M395,531.21L388.6,520.13M414.2,542.3L407.8,553.38M407.8,553.38L395,553.38M395,553.38L388.6,542.3M433.4,420.36L427,431.44M427,431.44L414.2,431.44M414.2,431.44L407.8,420.36M433.4,442.53L427,453.61M427,453.61L414.2,453.61M414.2,453.61L407.8,442.53M433.4,464.7L427,475.79M427,475.79L414.2,475.79M414.2,475.79L407.8,464.7M433.4,486.87L427,497.96M427,497.96L414.2,497.96M414.2,497.96L407.8,486.87M433.4,509.04L427,520.13M427,520.13L414.2,520.13M414.2,520.13L407.8,509.04M433.4,531.21L427,542.3M427,542.3L414.2,542.3M414.2,542.3L407.8,531.21M433.4,553.38L427,564.47M427,564.47L414.2,564.47M414.2,564.47L407.8,553.38M452.6,431.44L446.2,442.53M446.2,442.53L433.4,442.53M433.4,442.53L427,431.44M452.6,453.61L446.2,464.7M446.2,464.7L433.4,464.7M433.4,464.7L427,453.61M452.6,475.79L446.2,486.87M446.2,486.87L433.4,486.87M433.4,486.87L427,475.79M452.6,497.96L446.2,509.04M446.2,509.04L433.4,509.04M433.4,509.04L427,497.96M452.6,520.13L446.2,531.21M446.2,531.21L433.4,531.21M433.4,531.21L427,520.13M452.6,542.3L446.2,553.38M446.2,553.38L433.4,553.38M433.4,553.38L427,542.3M471.8,420.36L465.4,431.44M465.4,431.44L452.6,431.44M452.6,431.44L446.2,420.36M471.8,442.53L465.4,453.61M465.4,453.61L452.6,453.61M452.6,453.61L446.2,442.53M471.8,464.7L465.4,475.79M465.4,475.79L452.6,475.79M452.6,475.79L446.2,464.7M471.8,486.87L465.4,497.96M465.4,497.96L452.6,497.96M452.6,497.96L446.2,486.87M471.8,509.04L465.4,520.13M465.4,520.13L452.6,520.13M452.6,520.13L446.2,509.04M471.8,531.21L465.4,542.3M465.4,542.3L452.6,542.3M452.6,542.3L446.2,531.21M471.8,553.38L465.4,564.47M465.4,564.47L452.6,564.47M452.6,564.47L446.2,553.38M491,431.44L484.6,442.53M484.6,442.53L471.8,442.53M471.8,442.53L465.4,431.44M491,453.61L484.6,464.7M484.6,464.7L471.8,464.7M471.8,464.7L465.4,453.61M491,475.79L484.6,486.87M484.6,486.87L471.8,486.87M471.8,486.87L465.4,475.79M491,497.96L484.6,509.04M484.6,509.04L471.8,509.04M471.8,509.04L465.4,497.96M491,520.13L484.6,531.21M484.6,531.21L471.8,531.21M471.8,531.21L465.4,520.13M491,542.3L484.6,553.38M484.6,553.38L471.8,553.38M471.8,553.38L465.4,542.3M510.2,420.36L503.8,431.44M503.8,431.44L491,431.44M491,431.44L484.6,420.36M510.2,442.53L503.8,453.61M503.8,453.61L491,453.61M491,453.61L484.6,442.53M510.2,464.7L503.8,475.79M503.8,475.79L491,475.79M491,475.79L484.6,464.7M510.2,486.87L503.8,497.96M503.8,497.96L491,497.96M491,497.96L484.6,486.87M510.2,509.04L503.8,520.13M503.8,520.13L491,520.13M491,520.13L484.6,509.04M510.2,531.21L503.8,542.3M503.8,542.3L491,542.3M491,542.3L484.6,531.21M510.2,553.38L503.8,564.47M503.8,564.47L491,564.47M491,564.47L484.6,553.38M529.4,431.44L523,442.53M523,442.53L510.2,442.53M510.2,442.53L503.8,431.44M529.4,453.61L523,464.7M523,464.7L510.2,464.7M510.2,464.7L503.8,453.61M529.4,475.79L523,486.87M523,486.87L510.2,486.87M510.2,486.87L503.8,475.79M529.4,497.96L523,509.04M523,509.04L510.2,509.04M510.2,509.04L503.8,497.96M529.4,520.13L523,531.21M523,531.21L510.2,531.21M510.2,531.21L503.8,520.13M529.4,542.3L523,553.38M523,553.38L510.2,553.38M510.2,553.38L503.8,542.3" stroke="#141414" stroke-width="1.7" fill="none"/>
<circle cx="465.4" cy="431.4" r="3.2" fill="url(#gCg)" />
<circle cx="433.4" cy="509" r="3.2" fill="url(#gCg)" />
<circle cx="484.6" cy="486.9" r="3.2" fill="url(#gCg)" />
<circle cx="503.8" cy="409.3" r="3.2" fill="url(#gCg)" />
<circle cx="388.6" cy="542.3" r="3.2" fill="url(#gCg)" />
<circle cx="446.2" cy="509" r="3.2" fill="url(#gCg)" />
<circle cx="427" cy="453.6" r="3.2" fill="url(#gCg)" />
<circle cx="414.2" cy="520.1" r="3.2" fill="url(#gCg)" />
<circle cx="465.4" cy="475.8" r="3.2" fill="url(#gCg)" />
<circle cx="523" cy="509" r="3.2" fill="url(#gCg)" />
<circle cx="491" cy="520.1" r="3.2" fill="url(#gCg)" />
<circle cx="433.4" cy="464.7" r="3.2" fill="url(#gCg)" />
<circle cx="414.2" cy="431.4" r="3.2" fill="url(#gCg)" />
<circle cx="471.8" cy="531.2" r="3.2" fill="url(#gCg)" />
<circle cx="491" cy="431.4" r="3.2" fill="url(#gCg)" />
<circle cx="471.8" cy="442.5" r="3.2" fill="url(#gCg)" />
<circle cx="414.2" cy="498" r="3.2" fill="url(#gCg)" />
<circle cx="491" cy="498" r="3.2" fill="url(#gCg)" />
<circle cx="452.6" cy="409.3" r="3.2" fill="url(#gCg)" />
<circle cx="446.2" cy="464.7" r="3.2" fill="url(#gCg)" />
<circle cx="471.8" cy="420.4" r="3.2" fill="url(#gCg)" />
<circle cx="395" cy="509" r="3.2" fill="url(#gCg)" />
<circle cx="523" cy="464.7" r="3.2" fill="url(#gCg)" />
<circle cx="503.8" cy="475.8" r="3.2" fill="url(#gCg)" />
<circle cx="452.6" cy="520.1" r="3.2" fill="url(#gCg)" />
<circle cx="407.8" cy="420.4" r="3.2" fill="url(#gCg)" />
<circle cx="452.6" cy="431.4" r="3.2" fill="url(#gCg)" />
<circle cx="414.2" cy="564.5" r="3.2" fill="url(#gCg)" />
<circle cx="388.6" cy="498" r="3.2" fill="url(#gCg)" />
<circle cx="491" cy="564.5" r="3.2" fill="url(#gCg)" />
<circle cx="529.4" cy="453.6" r="3.2" fill="url(#gCg)" />
<circle cx="452.6" cy="475.8" r="3.2" fill="url(#gCg)" />
<circle cx="407.8" cy="486.9" r="3.2" fill="url(#gCg)" />
<circle cx="465.4" cy="453.6" r="3.2" fill="url(#gCg)" />
<circle cx="433.4" cy="531.2" r="3.2" fill="url(#gCg)" />
<circle cx="503.8" cy="542.3" r="3.2" fill="url(#gCg)" />
<circle cx="433.4" cy="442.5" r="3.2" fill="url(#gCg)" />
<circle cx="465.4" cy="498" r="3.2" fill="url(#gCg)" />
<circle cx="414.2" cy="453.6" r="3.2" fill="url(#gCg)" />
<circle cx="452.6" cy="542.3" r="3.2" fill="url(#gCg)" />
<circle cx="510.2" cy="509" r="3.2" fill="url(#gCg)" />
<circle cx="491" cy="453.6" r="3.2" fill="url(#gCg)" />
<circle cx="503.8" cy="520.1" r="3.2" fill="url(#gCg)" />
<circle cx="395" cy="531.2" r="3.2" fill="url(#gCg)" />
<circle cx="503.8" cy="431.4" r="3.2" fill="url(#gCg)" />
<circle cx="395" cy="442.5" r="3.2" fill="url(#gCg)" />
<circle cx="510.2" cy="464.7" r="3.2" fill="url(#gCg)" />
<circle cx="503.8" cy="498" r="3.2" fill="url(#gCg)" />
<circle cx="452.6" cy="453.6" r="3.2" fill="url(#gCg)" />
<circle cx="465.4" cy="564.5" r="3.2" fill="url(#gCg)" />
<circle cx="388.6" cy="453.6" r="3.2" fill="url(#gCg)" />
<circle cx="433.4" cy="553.4" r="3.2" fill="url(#gCg)" />
<circle cx="484.6" cy="509" r="3.2" fill="url(#gCg)" />
<circle cx="407.8" cy="464.7" r="3.2" fill="url(#gCg)" />
<circle cx="452.6" cy="498" r="3.2" fill="url(#gCg)" />
<circle cx="446.2" cy="553.4" r="3.2" fill="url(#gCg)" />
<circle cx="523" cy="553.4" r="3.2" fill="url(#gCg)" />
<circle cx="503.8" cy="564.5" r="3.2" fill="url(#gCg)" />
<circle cx="484.6" cy="464.7" r="3.2" fill="url(#gCg)" />
<circle cx="471.8" cy="486.9" r="3.2" fill="url(#gCg)" />
<circle cx="395" cy="553.4" r="3.2" fill="url(#gCg)" />
<circle cx="452.6" cy="564.5" r="3.2" fill="url(#gCg)" />
<circle cx="510.2" cy="531.2" r="3.2" fill="url(#gCg)" />
<circle cx="427" cy="409.3" r="3.2" fill="url(#gCg)" />
<circle cx="433.4" cy="420.4" r="3.2" fill="url(#gCg)" />
<circle cx="446.2" cy="531.2" r="3.2" fill="url(#gCg)" />
<circle cx="523" cy="531.2" r="3.2" fill="url(#gCg)" />
<circle cx="446.2" cy="442.5" r="3.2" fill="url(#gCg)" />
<circle cx="523" cy="442.5" r="3.2" fill="url(#gCg)" />
<circle cx="503.8" cy="453.6" r="3.2" fill="url(#gCg)" />
<circle cx="446.2" cy="420.4" r="3.2" fill="url(#gCg)" />
<circle cx="523" cy="420.4" r="3.2" fill="url(#gCg)" />
<circle cx="407.8" cy="509" r="3.2" fill="url(#gCg)" />
<circle cx="427" cy="475.8" r="3.2" fill="url(#gCg)" />
<circle cx="484.6" cy="531.2" r="3.2" fill="url(#gCg)" />
<circle cx="433.4" cy="486.9" r="3.2" fill="url(#gCg)" />
<circle cx="484.6" cy="442.5" r="3.2" fill="url(#gCg)" />
<circle cx="471.8" cy="464.7" r="3.2" fill="url(#gCg)" />
<circle cx="395" cy="420.4" r="3.2" fill="url(#gCg)" />
<circle cx="446.2" cy="486.9" r="3.2" fill="url(#gCg)" />
<circle cx="523" cy="486.9" r="3.2" fill="url(#gCg)" />
<circle cx="510.2" cy="553.4" r="3.2" fill="url(#gCg)" />
<circle cx="427" cy="542.3" r="3.2" fill="url(#gCg)" />
<circle cx="407.8" cy="553.4" r="3.2" fill="url(#gCg)" />
<circle cx="395" cy="486.9" r="3.2" fill="url(#gCg)" />
<circle cx="529.4" cy="475.8" r="3.2" fill="url(#gCg)" />
<circle cx="414.2" cy="409.3" r="3.2" fill="url(#gCg)" />
<circle cx="491" cy="409.3" r="3.2" fill="url(#gCg)" />
<circle cx="484.6" cy="553.4" r="3.2" fill="url(#gCg)" />
<circle cx="510.2" cy="442.5" r="3.2" fill="url(#gCg)" />
<circle cx="427" cy="520.1" r="3.2" fill="url(#gCg)" />
<circle cx="407.8" cy="531.2" r="3.2" fill="url(#gCg)" />
<circle cx="510.2" cy="420.4" r="3.2" fill="url(#gCg)" />
<circle cx="427" cy="431.4" r="3.2" fill="url(#gCg)" />
<circle cx="407.8" cy="442.5" r="3.2" fill="url(#gCg)" />
<circle cx="471.8" cy="509" r="3.2" fill="url(#gCg)" />
<circle cx="427" cy="498" r="3.2" fill="url(#gCg)" />
<circle cx="529.4" cy="542.3" r="3.2" fill="url(#gCg)" />
<circle cx="414.2" cy="475.8" r="3.2" fill="url(#gCg)" />
<circle cx="491" cy="475.8" r="3.2" fill="url(#gCg)" />
<circle cx="388.6" cy="520.1" r="3.2" fill="url(#gCg)" />
<circle cx="465.4" cy="542.3" r="3.2" fill="url(#gCg)" />
<circle cx="388.6" cy="431.4" r="3.2" fill="url(#gCg)" />
<circle cx="395" cy="464.7" r="3.2" fill="url(#gCg)" />
<circle cx="510.2" cy="486.9" r="3.2" fill="url(#gCg)" />
<circle cx="484.6" cy="420.4" r="3.2" fill="url(#gCg)" />
<circle cx="427" cy="564.5" r="3.2" fill="url(#gCg)" />
<circle cx="388.6" cy="475.8" r="3.2" fill="url(#gCg)" />
<circle cx="529.4" cy="520.1" r="3.2" fill="url(#gCg)" />
<circle cx="414.2" cy="542.3" r="3.2" fill="url(#gCg)" />
<circle cx="465.4" cy="409.3" r="3.2" fill="url(#gCg)" />
<circle cx="491" cy="542.3" r="3.2" fill="url(#gCg)" />
<circle cx="529.4" cy="431.4" r="3.2" fill="url(#gCg)" />
<circle cx="471.8" cy="553.4" r="3.2" fill="url(#gCg)" />
<circle cx="529.4" cy="498" r="3.2" fill="url(#gCg)" />
<circle cx="465.4" cy="520.1" r="3.2" fill="url(#gCg)" />
</g>
</g>
<g id="pp">
<text x="235" y="570.2" font-size="11.5" text-anchor="start" font-weight="bold" fill="#000" >p</text>
<rect x="255.4" y="567.6" width="115.2" height="91.4" fill="#fff" stroke="#111" stroke-width="1.2" />
<line x1="255.6" y1="659" x2="255.6" y2="656.4" stroke="#111" stroke-width="0.9" />
<line x1="255.6" y1="567.6" x2="255.6" y2="570.2" stroke="#111" stroke-width="0.9" />
<text x="255.6" y="667.9" font-size="7.6" text-anchor="middle" font-weight="normal" fill="#111" stroke="#111" stroke-width="0.16" >0</text>
<line x1="271.93" y1="659" x2="271.93" y2="656.4" stroke="#111" stroke-width="0.9" />
<line x1="271.93" y1="567.6" x2="271.93" y2="570.2" stroke="#111" stroke-width="0.9" />
<text x="271.93" y="667.9" font-size="7.6" text-anchor="middle" font-weight="normal" fill="#111" stroke="#111" stroke-width="0.16" >1</text>
<line x1="288.26" y1="659" x2="288.26" y2="656.4" stroke="#111" stroke-width="0.9" />
<line x1="288.26" y1="567.6" x2="288.26" y2="570.2" stroke="#111" stroke-width="0.9" />
<text x="288.26" y="667.9" font-size="7.6" text-anchor="middle" font-weight="normal" fill="#111" stroke="#111" stroke-width="0.16" >2</text>
<line x1="304.59" y1="659" x2="304.59" y2="656.4" stroke="#111" stroke-width="0.9" />
<line x1="304.59" y1="567.6" x2="304.59" y2="570.2" stroke="#111" stroke-width="0.9" />
<text x="304.59" y="667.9" font-size="7.6" text-anchor="middle" font-weight="normal" fill="#111" stroke="#111" stroke-width="0.16" >3</text>
<line x1="320.92" y1="659" x2="320.92" y2="656.4" stroke="#111" stroke-width="0.9" />
<line x1="320.92" y1="567.6" x2="320.92" y2="570.2" stroke="#111" stroke-width="0.9" />
<text x="320.92" y="667.9" font-size="7.6" text-anchor="middle" font-weight="normal" fill="#111" stroke="#111" stroke-width="0.16" >4</text>
<line x1="337.25" y1="659" x2="337.25" y2="656.4" stroke="#111" stroke-width="0.9" />
<line x1="337.25" y1="567.6" x2="337.25" y2="570.2" stroke="#111" stroke-width="0.9" />
<text x="337.25" y="667.9" font-size="7.6" text-anchor="middle" font-weight="normal" fill="#111" stroke="#111" stroke-width="0.16" >5</text>
<line x1="353.58" y1="659" x2="353.58" y2="656.4" stroke="#111" stroke-width="0.9" />
<line x1="353.58" y1="567.6" x2="353.58" y2="570.2" stroke="#111" stroke-width="0.9" />
<text x="353.58" y="667.9" font-size="7.6" text-anchor="middle" font-weight="normal" fill="#111" stroke="#111" stroke-width="0.16" >6</text>
<line x1="369.91" y1="659" x2="369.91" y2="656.4" stroke="#111" stroke-width="0.9" />
<line x1="369.91" y1="567.6" x2="369.91" y2="570.2" stroke="#111" stroke-width="0.9" />
<text x="369.91" y="667.9" font-size="7.6" text-anchor="middle" font-weight="normal" fill="#111" stroke="#111" stroke-width="0.16" >7</text>
<line x1="255.4" y1="653.9" x2="258" y2="653.9" stroke="#111" stroke-width="0.9" />
<line x1="370.6" y1="653.9" x2="368" y2="653.9" stroke="#111" stroke-width="0.9" />
<text x="252.2" y="656.5" font-size="7.6" text-anchor="end" font-weight="normal" fill="#111" stroke="#111" stroke-width="0.16" >0</text>
<line x1="255.4" y1="636.64" x2="258" y2="636.64" stroke="#111" stroke-width="0.9" />
<line x1="370.6" y1="636.64" x2="368" y2="636.64" stroke="#111" stroke-width="0.9" />
<text x="252.2" y="639.24" font-size="7.6" text-anchor="end" font-weight="normal" fill="#111" stroke="#111" stroke-width="0.16" >1</text>
<line x1="255.4" y1="619.38" x2="258" y2="619.38" stroke="#111" stroke-width="0.9" />
<line x1="370.6" y1="619.38" x2="368" y2="619.38" stroke="#111" stroke-width="0.9" />
<text x="252.2" y="621.98" font-size="7.6" text-anchor="end" font-weight="normal" fill="#111" stroke="#111" stroke-width="0.16" >2</text>
<line x1="255.4" y1="602.12" x2="258" y2="602.12" stroke="#111" stroke-width="0.9" />
<line x1="370.6" y1="602.12" x2="368" y2="602.12" stroke="#111" stroke-width="0.9" />
<text x="252.2" y="604.72" font-size="7.6" text-anchor="end" font-weight="normal" fill="#111" stroke="#111" stroke-width="0.16" >3</text>
<line x1="255.4" y1="584.86" x2="258" y2="584.86" stroke="#111" stroke-width="0.9" />
<line x1="370.6" y1="584.86" x2="368" y2="584.86" stroke="#111" stroke-width="0.9" />
<text x="252.2" y="587.46" font-size="7.6" text-anchor="end" font-weight="normal" fill="#111" stroke="#111" stroke-width="0.16" >4</text>
<line x1="255.4" y1="567.6" x2="258" y2="567.6" stroke="#111" stroke-width="0.9" />
<line x1="370.6" y1="567.6" x2="368" y2="567.6" stroke="#111" stroke-width="0.9" />
<text x="252.2" y="570.2" font-size="7.6" text-anchor="end" font-weight="normal" fill="#111" stroke="#111" stroke-width="0.16" >5</text>
<text x="243.5" y="613" font-size="7.4" text-anchor="middle" font-weight="normal" fill="#111" stroke="#111" stroke-width="0.16" transform="rotate(-90 243.5 613)" >ΔE (meV)</text>
<text x="312.5" y="678.8" font-size="7.2" text-anchor="middle" font-weight="normal" fill="#111" stroke="#111" stroke-width="0.16" >x (Å)</text>
<clipPath id="clipP"><rect x="253.4" y="567.6" width="119.2" height="91.4"/></clipPath>
<g clip-path="url(#clipP)">
<polyline points="255.6,653.9 257.64,653.13 259.68,650.9 261.72,647.43 263.76,643.05 265.81,638.19 267.85,633.34 269.89,628.96 271.93,625.49 273.97,623.26 276.01,622.49 278.05,623.26 280.09,625.49 282.14,628.96 284.18,633.34 286.22,638.19 288.26,643.05 290.3,647.43 292.34,650.9 294.38,653.13 296.43,653.9 298.47,653.13 300.51,650.9 302.55,647.43 304.59,643.05 306.63,638.19 308.67,633.34 310.71,628.96 312.75,625.49 314.8,623.26 316.84,622.49 318.88,623.26 320.92,625.49 322.96,628.96 325,633.34 327.04,638.19 329.08,643.05 331.13,647.43 333.17,650.9 335.21,653.13 337.25,653.9 339.29,653.13 341.33,650.9 343.37,647.43 345.41,643.05 347.46,638.19 349.5,633.34 351.54,628.96 353.58,625.49 355.62,623.26 357.66,622.49 359.7,623.26 361.75,625.49 363.79,628.96 365.83,633.34 367.87,638.19 369.91,643.05" fill="none" stroke="#2a3a9c" stroke-width="1.5" />
<circle cx="255.6" cy="653.9" r="1.4" fill="#2a3a9c" stroke="none" stroke-width="1" />
<circle cx="257.64" cy="653.13" r="1.4" fill="#2a3a9c" stroke="none" stroke-width="1" />
<circle cx="259.68" cy="650.9" r="1.4" fill="#2a3a9c" stroke="none" stroke-width="1" />
<circle cx="261.72" cy="647.43" r="1.4" fill="#2a3a9c" stroke="none" stroke-width="1" />
<circle cx="263.76" cy="643.05" r="1.4" fill="#2a3a9c" stroke="none" stroke-width="1" />
<circle cx="265.81" cy="638.19" r="1.4" fill="#2a3a9c" stroke="none" stroke-width="1" />
<circle cx="267.85" cy="633.34" r="1.4" fill="#2a3a9c" stroke="none" stroke-width="1" />
<circle cx="269.89" cy="628.96" r="1.4" fill="#2a3a9c" stroke="none" stroke-width="1" />
<circle cx="271.93" cy="625.49" r="1.4" fill="#2a3a9c" stroke="none" stroke-width="1" />
<circle cx="273.97" cy="623.26" r="1.4" fill="#2a3a9c" stroke="none" stroke-width="1" />
<circle cx="276.01" cy="622.49" r="1.4" fill="#2a3a9c" stroke="none" stroke-width="1" />
<circle cx="278.05" cy="623.26" r="1.4" fill="#2a3a9c" stroke="none" stroke-width="1" />
<circle cx="280.09" cy="625.49" r="1.4" fill="#2a3a9c" stroke="none" stroke-width="1" />
<circle cx="282.14" cy="628.96" r="1.4" fill="#2a3a9c" stroke="none" stroke-width="1" />
<circle cx="284.18" cy="633.34" r="1.4" fill="#2a3a9c" stroke="none" stroke-width="1" />
<circle cx="286.22" cy="638.19" r="1.4" fill="#2a3a9c" stroke="none" stroke-width="1" />
<circle cx="288.26" cy="643.05" r="1.4" fill="#2a3a9c" stroke="none" stroke-width="1" />
<circle cx="290.3" cy="647.43" r="1.4" fill="#2a3a9c" stroke="none" stroke-width="1" />
<circle cx="292.34" cy="650.9" r="1.4" fill="#2a3a9c" stroke="none" stroke-width="1" />
<circle cx="294.38" cy="653.13" r="1.4" fill="#2a3a9c" stroke="none" stroke-width="1" />
<circle cx="296.43" cy="653.9" r="1.4" fill="#2a3a9c" stroke="none" stroke-width="1" />
<circle cx="298.47" cy="653.13" r="1.4" fill="#2a3a9c" stroke="none" stroke-width="1" />
<circle cx="300.51" cy="650.9" r="1.4" fill="#2a3a9c" stroke="none" stroke-width="1" />
<circle cx="302.55" cy="647.43" r="1.4" fill="#2a3a9c" stroke="none" stroke-width="1" />
<circle cx="304.59" cy="643.05" r="1.4" fill="#2a3a9c" stroke="none" stroke-width="1" />
<circle cx="306.63" cy="638.19" r="1.4" fill="#2a3a9c" stroke="none" stroke-width="1" />
<circle cx="308.67" cy="633.34" r="1.4" fill="#2a3a9c" stroke="none" stroke-width="1" />
<circle cx="310.71" cy="628.96" r="1.4" fill="#2a3a9c" stroke="none" stroke-width="1" />
<circle cx="312.75" cy="625.49" r="1.4" fill="#2a3a9c" stroke="none" stroke-width="1" />
<circle cx="314.8" cy="623.26" r="1.4" fill="#2a3a9c" stroke="none" stroke-width="1" />
<circle cx="316.84" cy="622.49" r="1.4" fill="#2a3a9c" stroke="none" stroke-width="1" />
<circle cx="318.88" cy="623.26" r="1.4" fill="#2a3a9c" stroke="none" stroke-width="1" />
<circle cx="320.92" cy="625.49" r="1.4" fill="#2a3a9c" stroke="none" stroke-width="1" />
<circle cx="322.96" cy="628.96" r="1.4" fill="#2a3a9c" stroke="none" stroke-width="1" />
<circle cx="325" cy="633.34" r="1.4" fill="#2a3a9c" stroke="none" stroke-width="1" />
<circle cx="327.04" cy="638.19" r="1.4" fill="#2a3a9c" stroke="none" stroke-width="1" />
<circle cx="329.08" cy="643.05" r="1.4" fill="#2a3a9c" stroke="none" stroke-width="1" />
<circle cx="331.13" cy="647.43" r="1.4" fill="#2a3a9c" stroke="none" stroke-width="1" />
<circle cx="333.17" cy="650.9" r="1.4" fill="#2a3a9c" stroke="none" stroke-width="1" />
<circle cx="335.21" cy="653.13" r="1.4" fill="#2a3a9c" stroke="none" stroke-width="1" />
<circle cx="337.25" cy="653.9" r="1.4" fill="#2a3a9c" stroke="none" stroke-width="1" />
<circle cx="339.29" cy="653.13" r="1.4" fill="#2a3a9c" stroke="none" stroke-width="1" />
<circle cx="341.33" cy="650.9" r="1.4" fill="#2a3a9c" stroke="none" stroke-width="1" />
<circle cx="343.37" cy="647.43" r="1.4" fill="#2a3a9c" stroke="none" stroke-width="1" />
<circle cx="345.41" cy="643.05" r="1.4" fill="#2a3a9c" stroke="none" stroke-width="1" />
<circle cx="347.46" cy="638.19" r="1.4" fill="#2a3a9c" stroke="none" stroke-width="1" />
<circle cx="349.5" cy="633.34" r="1.4" fill="#2a3a9c" stroke="none" stroke-width="1" />
<circle cx="351.54" cy="628.96" r="1.4" fill="#2a3a9c" stroke="none" stroke-width="1" />
<circle cx="353.58" cy="625.49" r="1.4" fill="#2a3a9c" stroke="none" stroke-width="1" />
<circle cx="355.62" cy="623.26" r="1.4" fill="#2a3a9c" stroke="none" stroke-width="1" />
<circle cx="357.66" cy="622.49" r="1.4" fill="#2a3a9c" stroke="none" stroke-width="1" />
<circle cx="359.7" cy="623.26" r="1.4" fill="#2a3a9c" stroke="none" stroke-width="1" />
<circle cx="361.75" cy="625.49" r="1.4" fill="#2a3a9c" stroke="none" stroke-width="1" />
<circle cx="363.79" cy="628.96" r="1.4" fill="#2a3a9c" stroke="none" stroke-width="1" />
<circle cx="365.83" cy="633.34" r="1.4" fill="#2a3a9c" stroke="none" stroke-width="1" />
<circle cx="367.87" cy="638.19" r="1.4" fill="#2a3a9c" stroke="none" stroke-width="1" />
<circle cx="369.91" cy="643.05" r="1.4" fill="#2a3a9c" stroke="none" stroke-width="1" />
<polyline points="255.6,643.54 259.68,638.37 263.76,622.83 268.66,602.98 273.56,586.59 278.46,577.96 283.36,583.13 287.44,600.39 291.53,624.56 295.61,643.54 299.69,653.9 303.77,650.45 307.86,645.27 312.75,640.09 317.65,637.5 322.55,641.82 326.64,644.41 330.72,638.37 335.62,622.83 339.7,602.98 344.6,586.59 349.5,577.96 353.58,583.13 358.48,600.39 362.56,622.83 366.64,643.54 369.91,650.45" fill="none" stroke="#e0202c" stroke-width="1.2" />
<circle cx="255.6" cy="643.54" r="1.6" fill="#fff" stroke="#e0202c" stroke-width="0.75" />
<circle cx="259.68" cy="638.37" r="1.6" fill="#fff" stroke="#e0202c" stroke-width="0.75" />
<circle cx="263.76" cy="622.83" r="1.6" fill="#fff" stroke="#e0202c" stroke-width="0.75" />
<circle cx="268.66" cy="602.98" r="1.6" fill="#fff" stroke="#e0202c" stroke-width="0.75" />
<circle cx="273.56" cy="586.59" r="1.6" fill="#fff" stroke="#e0202c" stroke-width="0.75" />
<circle cx="278.46" cy="577.96" r="1.6" fill="#fff" stroke="#e0202c" stroke-width="0.75" />
<circle cx="283.36" cy="583.13" r="1.6" fill="#fff" stroke="#e0202c" stroke-width="0.75" />
<circle cx="287.44" cy="600.39" r="1.6" fill="#fff" stroke="#e0202c" stroke-width="0.75" />
<circle cx="291.53" cy="624.56" r="1.6" fill="#fff" stroke="#e0202c" stroke-width="0.75" />
<circle cx="295.61" cy="643.54" r="1.6" fill="#fff" stroke="#e0202c" stroke-width="0.75" />
<circle cx="299.69" cy="653.9" r="1.6" fill="#fff" stroke="#e0202c" stroke-width="0.75" />
<circle cx="303.77" cy="650.45" r="1.6" fill="#fff" stroke="#e0202c" stroke-width="0.75" />
<circle cx="307.86" cy="645.27" r="1.6" fill="#fff" stroke="#e0202c" stroke-width="0.75" />
<circle cx="312.75" cy="640.09" r="1.6" fill="#fff" stroke="#e0202c" stroke-width="0.75" />
<circle cx="317.65" cy="637.5" r="1.6" fill="#fff" stroke="#e0202c" stroke-width="0.75" />
<circle cx="322.55" cy="641.82" r="1.6" fill="#fff" stroke="#e0202c" stroke-width="0.75" />
<circle cx="326.64" cy="644.41" r="1.6" fill="#fff" stroke="#e0202c" stroke-width="0.75" />
<circle cx="330.72" cy="638.37" r="1.6" fill="#fff" stroke="#e0202c" stroke-width="0.75" />
<circle cx="335.62" cy="622.83" r="1.6" fill="#fff" stroke="#e0202c" stroke-width="0.75" />
<circle cx="339.7" cy="602.98" r="1.6" fill="#fff" stroke="#e0202c" stroke-width="0.75" />
<circle cx="344.6" cy="586.59" r="1.6" fill="#fff" stroke="#e0202c" stroke-width="0.75" />
<circle cx="349.5" cy="577.96" r="1.6" fill="#fff" stroke="#e0202c" stroke-width="0.75" />
<circle cx="353.58" cy="583.13" r="1.6" fill="#fff" stroke="#e0202c" stroke-width="0.75" />
<circle cx="358.48" cy="600.39" r="1.6" fill="#fff" stroke="#e0202c" stroke-width="0.75" />
<circle cx="362.56" cy="622.83" r="1.6" fill="#fff" stroke="#e0202c" stroke-width="0.75" />
<circle cx="366.64" cy="643.54" r="1.6" fill="#fff" stroke="#e0202c" stroke-width="0.75" />
<circle cx="369.91" cy="650.45" r="1.6" fill="#fff" stroke="#e0202c" stroke-width="0.75" />
</g>
<line x1="287.7" y1="602.4" x2="299" y2="598.3" stroke="#111" stroke-width="0.7" />
<text x="304.8" y="599" font-size="8.6" text-anchor="middle" font-weight="normal" fill="#111" stroke="#111" stroke-width="0.16" >y</text>
<line x1="287.5" y1="631.8" x2="298" y2="627.6" stroke="#111" stroke-width="0.7" />
<text x="303.2" y="629.4" font-size="8.6" text-anchor="middle" font-weight="normal" fill="#111" stroke="#111" stroke-width="0.16" >x</text>
<text x="383.6" y="570" font-size="11.5" text-anchor="start" font-weight="bold" fill="#000" >r</text>
<rect x="403.8" y="567.6" width="113.4" height="91.2" fill="#fff" stroke="#111" stroke-width="1.2" />
<line x1="413.3" y1="658.8" x2="413.3" y2="656.2" stroke="#111" stroke-width="0.9" />
<line x1="413.3" y1="567.6" x2="413.3" y2="570.2" stroke="#111" stroke-width="0.9" />
<text x="413.3" y="667.9" font-size="7.6" text-anchor="middle" font-weight="normal" fill="#111" stroke="#111" stroke-width="0.16" >0</text>
<line x1="432.35" y1="658.8" x2="432.35" y2="656.2" stroke="#111" stroke-width="0.9" />
<line x1="432.35" y1="567.6" x2="432.35" y2="570.2" stroke="#111" stroke-width="0.9" />
<text x="432.35" y="667.9" font-size="7.6" text-anchor="middle" font-weight="normal" fill="#111" stroke="#111" stroke-width="0.16" >1</text>
<line x1="451.4" y1="658.8" x2="451.4" y2="656.2" stroke="#111" stroke-width="0.9" />
<line x1="451.4" y1="567.6" x2="451.4" y2="570.2" stroke="#111" stroke-width="0.9" />
<text x="451.4" y="667.9" font-size="7.6" text-anchor="middle" font-weight="normal" fill="#111" stroke="#111" stroke-width="0.16" >2</text>
<line x1="470.45" y1="658.8" x2="470.45" y2="656.2" stroke="#111" stroke-width="0.9" />
<line x1="470.45" y1="567.6" x2="470.45" y2="570.2" stroke="#111" stroke-width="0.9" />
<text x="470.45" y="667.9" font-size="7.6" text-anchor="middle" font-weight="normal" fill="#111" stroke="#111" stroke-width="0.16" >3</text>
<line x1="489.5" y1="658.8" x2="489.5" y2="656.2" stroke="#111" stroke-width="0.9" />
<line x1="489.5" y1="567.6" x2="489.5" y2="570.2" stroke="#111" stroke-width="0.9" />
<text x="489.5" y="667.9" font-size="7.6" text-anchor="middle" font-weight="normal" fill="#111" stroke="#111" stroke-width="0.16" >4</text>
<line x1="508.55" y1="658.8" x2="508.55" y2="656.2" stroke="#111" stroke-width="0.9" />
<line x1="508.55" y1="567.6" x2="508.55" y2="570.2" stroke="#111" stroke-width="0.9" />
<text x="508.55" y="667.9" font-size="7.6" text-anchor="middle" font-weight="normal" fill="#111" stroke="#111" stroke-width="0.16" >5</text>
<line x1="403.8" y1="650.3" x2="406.4" y2="650.3" stroke="#111" stroke-width="0.9" />
<line x1="517.2" y1="650.3" x2="514.6" y2="650.3" stroke="#111" stroke-width="0.9" />
<text x="400.6" y="652.9" font-size="7.6" text-anchor="end" font-weight="normal" fill="#111" stroke="#111" stroke-width="0.16" >0</text>
<line x1="403.8" y1="633.58" x2="406.4" y2="633.58" stroke="#111" stroke-width="0.9" />
<line x1="517.2" y1="633.58" x2="514.6" y2="633.58" stroke="#111" stroke-width="0.9" />
<text x="400.6" y="636.18" font-size="7.6" text-anchor="end" font-weight="normal" fill="#111" stroke="#111" stroke-width="0.16" >2</text>
<line x1="403.8" y1="616.86" x2="406.4" y2="616.86" stroke="#111" stroke-width="0.9" />
<line x1="517.2" y1="616.86" x2="514.6" y2="616.86" stroke="#111" stroke-width="0.9" />
<text x="400.6" y="619.46" font-size="7.6" text-anchor="end" font-weight="normal" fill="#111" stroke="#111" stroke-width="0.16" >4</text>
<line x1="403.8" y1="600.14" x2="406.4" y2="600.14" stroke="#111" stroke-width="0.9" />
<line x1="517.2" y1="600.14" x2="514.6" y2="600.14" stroke="#111" stroke-width="0.9" />
<text x="400.6" y="602.74" font-size="7.6" text-anchor="end" font-weight="normal" fill="#111" stroke="#111" stroke-width="0.16" >6</text>
<line x1="403.8" y1="583.42" x2="406.4" y2="583.42" stroke="#111" stroke-width="0.9" />
<line x1="517.2" y1="583.42" x2="514.6" y2="583.42" stroke="#111" stroke-width="0.9" />
<text x="400.6" y="586.02" font-size="7.6" text-anchor="end" font-weight="normal" fill="#111" stroke="#111" stroke-width="0.16" >8</text>
<line x1="403.8" y1="566.7" x2="406.4" y2="566.7" stroke="#111" stroke-width="0.9" />
<line x1="517.2" y1="566.7" x2="514.6" y2="566.7" stroke="#111" stroke-width="0.9" />
<text x="400.6" y="569.3" font-size="7.6" text-anchor="end" font-weight="normal" fill="#111" stroke="#111" stroke-width="0.16" >10</text>
<text x="389.6" y="612" font-size="7.2" text-anchor="middle" font-weight="normal" fill="#111" stroke="#111" stroke-width="0.16" transform="rotate(-90 389.6 612)" >ΔE (meV, x10<tspan dy="-2.2" font-size="4.6">-3</tspan><tspan dy="2.2">)</tspan></text>
<text x="462.3" y="678.8" font-size="7.2" text-anchor="middle" font-weight="normal" fill="#111" stroke="#111" stroke-width="0.16" >x (Å)</text>
<polyline points="413.3,626.06 419.4,621.04 425.11,644.45 431.4,651.14 437.11,644.45 443.21,636.09 449.5,646.12 455.21,646.96 460.93,626.06 467.02,621.04 472.93,644.45 479.02,651.14 484.74,644.45 490.83,636.09 497.12,646.12 502.84,646.96 508.55,626.06" fill="none" stroke="#2a3a9c" stroke-width="1.3" />
<circle cx="413.3" cy="626.06" r="1.7" fill="#2a3a9c" stroke="none" stroke-width="1" />
<circle cx="419.4" cy="621.04" r="1.7" fill="#2a3a9c" stroke="none" stroke-width="1" />
<circle cx="425.11" cy="644.45" r="1.7" fill="#2a3a9c" stroke="none" stroke-width="1" />
<circle cx="431.4" cy="651.14" r="1.7" fill="#2a3a9c" stroke="none" stroke-width="1" />
<circle cx="437.11" cy="644.45" r="1.7" fill="#2a3a9c" stroke="none" stroke-width="1" />
<circle cx="443.21" cy="636.09" r="1.7" fill="#2a3a9c" stroke="none" stroke-width="1" />
<circle cx="449.5" cy="646.12" r="1.7" fill="#2a3a9c" stroke="none" stroke-width="1" />
<circle cx="455.21" cy="646.96" r="1.7" fill="#2a3a9c" stroke="none" stroke-width="1" />
<circle cx="460.93" cy="626.06" r="1.7" fill="#2a3a9c" stroke="none" stroke-width="1" />
<circle cx="467.02" cy="621.04" r="1.7" fill="#2a3a9c" stroke="none" stroke-width="1" />
<circle cx="472.93" cy="644.45" r="1.7" fill="#2a3a9c" stroke="none" stroke-width="1" />
<circle cx="479.02" cy="651.14" r="1.7" fill="#2a3a9c" stroke="none" stroke-width="1" />
<circle cx="484.74" cy="644.45" r="1.7" fill="#2a3a9c" stroke="none" stroke-width="1" />
<circle cx="490.83" cy="636.09" r="1.7" fill="#2a3a9c" stroke="none" stroke-width="1" />
<circle cx="497.12" cy="646.12" r="1.7" fill="#2a3a9c" stroke="none" stroke-width="1" />
<circle cx="502.84" cy="646.96" r="1.7" fill="#2a3a9c" stroke="none" stroke-width="1" />
<circle cx="508.55" cy="626.06" r="1.7" fill="#2a3a9c" stroke="none" stroke-width="1" />
<polyline points="413.3,606.83 418.63,618.53 423.78,636.09 429.49,650.3 434.25,646.96 439.02,628.56 444.73,618.53 449.5,604.32 454.83,586.76 459.97,579.24 464.74,580.08 470.45,600.14 475.21,611.84 479.98,612.68 485.69,604.32 491.02,582.58 496.17,606.83" fill="none" stroke="#e0202c" stroke-width="1.2" />
<circle cx="413.3" cy="606.83" r="1.7" fill="#fff" stroke="#e0202c" stroke-width="0.75" />
<circle cx="418.63" cy="618.53" r="1.7" fill="#fff" stroke="#e0202c" stroke-width="0.75" />
<circle cx="423.78" cy="636.09" r="1.7" fill="#fff" stroke="#e0202c" stroke-width="0.75" />
<circle cx="429.49" cy="650.3" r="1.7" fill="#fff" stroke="#e0202c" stroke-width="0.75" />
<circle cx="434.25" cy="646.96" r="1.7" fill="#fff" stroke="#e0202c" stroke-width="0.75" />
<circle cx="439.02" cy="628.56" r="1.7" fill="#fff" stroke="#e0202c" stroke-width="0.75" />
<circle cx="444.73" cy="618.53" r="1.7" fill="#fff" stroke="#e0202c" stroke-width="0.75" />
<circle cx="449.5" cy="604.32" r="1.7" fill="#fff" stroke="#e0202c" stroke-width="0.75" />
<circle cx="454.83" cy="586.76" r="1.7" fill="#fff" stroke="#e0202c" stroke-width="0.75" />
<circle cx="459.97" cy="579.24" r="1.7" fill="#fff" stroke="#e0202c" stroke-width="0.75" />
<circle cx="464.74" cy="580.08" r="1.7" fill="#fff" stroke="#e0202c" stroke-width="0.75" />
<circle cx="470.45" cy="600.14" r="1.7" fill="#fff" stroke="#e0202c" stroke-width="0.75" />
<circle cx="475.21" cy="611.84" r="1.7" fill="#fff" stroke="#e0202c" stroke-width="0.75" />
<circle cx="479.98" cy="612.68" r="1.7" fill="#fff" stroke="#e0202c" stroke-width="0.75" />
<circle cx="485.69" cy="604.32" r="1.7" fill="#fff" stroke="#e0202c" stroke-width="0.75" />
<circle cx="491.02" cy="582.58" r="1.7" fill="#fff" stroke="#e0202c" stroke-width="0.75" />
<circle cx="496.17" cy="606.83" r="1.7" fill="#fff" stroke="#e0202c" stroke-width="0.75" />
<line x1="468.5" y1="587.3" x2="482" y2="580.5" stroke="#111" stroke-width="0.7" />
<text x="485.6" y="580.8" font-size="8.6" text-anchor="middle" font-weight="normal" fill="#111" stroke="#111" stroke-width="0.16" >y</text>
<line x1="471" y1="636.6" x2="484" y2="630.5" stroke="#111" stroke-width="0.7" />
<text x="488.3" y="631.8" font-size="8.6" text-anchor="middle" font-weight="normal" fill="#111" stroke="#111" stroke-width="0.16" >x</text>
</g>
</svg>
</body></html>
